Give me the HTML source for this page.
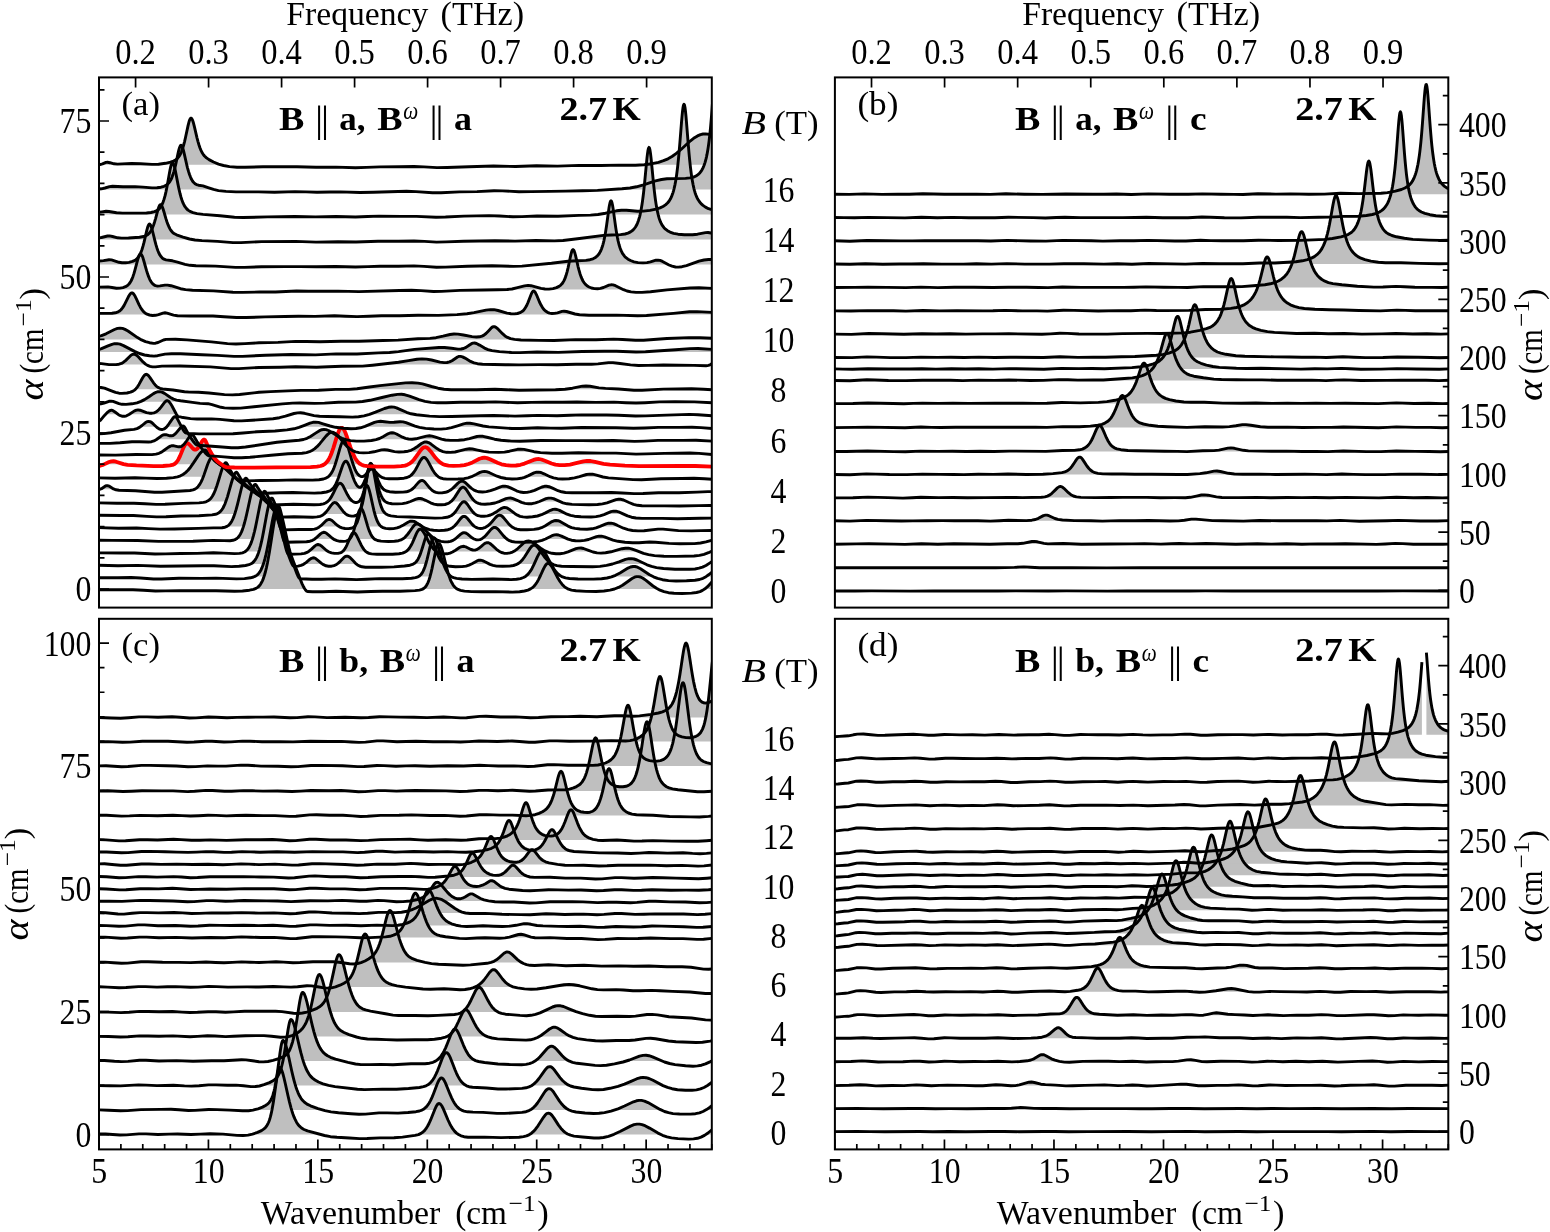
<!DOCTYPE html>
<html lang="en"><head><meta charset="utf-8"><title>Absorption spectra</title>
<style>html,body{margin:0;padding:0;background:#fff}svg{display:block}</style></head>
<body>
<svg width="1550" height="1232" viewBox="0 0 1550 1232" font-family='"Liberation Serif", "DejaVu Serif", serif' fill="#000">
<rect x="0" y="0" width="1550" height="1232" fill="#fff"/>
<clipPath id="clipa"><rect x="99.0" y="77.4" width="612.8" height="530.2"/></clipPath>
<g clip-path="url(#clipa)">
<path d="M254.5 589.0L254.5 589.0L256.5 588.1L258.0 587.1L259.5 585.6L260.5 584.3L261.5 582.6L262.5 580.6L263.5 578.1L264.5 575.0L265.5 571.5L266.5 567.3L267.5 562.6L268.5 557.3L269.5 551.5L271.0 542.1L273.0 529.1L274.0 523.0L274.5 520.0L275.0 517.3L275.5 514.8L276.0 512.5L276.5 510.5L277.0 508.8L277.5 507.5L278.0 506.6L278.5 506.3L279.0 506.6L279.5 507.5L280.0 508.9L280.5 510.7L282.0 516.6L283.5 523.1L287.5 541.4L289.0 547.9L290.0 551.7L291.0 554.9L293.5 561.7L300.0 578.6L302.0 583.6L303.0 585.7L304.5 588.5L305.0 589.0L305.0 589.0ZM422.5 589.0L422.5 589.0L423.0 588.9L424.5 587.8L425.5 586.8L426.5 585.4L427.5 583.6L428.5 581.3L429.5 578.4L430.5 574.9L431.5 570.8L432.5 566.3L435.0 554.1L435.5 551.8L436.0 549.7L436.5 547.8L437.0 546.3L437.5 545.0L438.0 544.2L438.5 543.7L439.0 543.7L439.5 543.9L440.0 544.5L440.5 545.4L441.0 546.6L441.5 548.0L442.5 551.2L443.5 555.0L446.5 567.1L448.0 572.6L449.0 575.8L450.0 578.6L451.0 581.1L452.0 583.1L453.0 584.8L454.5 586.8L456.0 588.2L457.0 588.9L457.5 589.0L457.5 589.0ZM530.0 589.0L530.0 589.0L530.5 588.9L532.5 587.6L534.0 586.2L535.5 584.4L537.0 582.2L538.5 579.6L540.5 575.5L543.5 568.9L545.0 566.1L546.0 564.6L547.0 563.7L548.0 563.4L549.0 563.6L550.0 564.4L551.0 565.5L552.5 567.8L555.0 572.5L558.0 578.2L560.0 581.5L562.0 584.2L564.0 586.3L566.0 587.8L568.0 588.9L568.5 589.0L568.5 589.0ZM614.5 589.0L614.5 589.0L618.5 587.4L622.5 585.2L627.5 581.7L632.0 578.5L634.5 577.2L636.5 576.6L638.5 576.6L640.5 577.0L643.0 578.3L646.0 580.4L653.0 586.0L656.5 588.3L657.5 588.9L658.0 589.0L658.0 589.0ZM704.5 589.0L704.5 589.0L705.0 588.8L707.5 586.7L710.5 583.5L712.5 581.3L713.5 580.5L713.5 589.0Z" fill="#bfbfbf"/>
<path d="M254.5 576.5L254.5 576.5L255.5 576.1L257.0 575.1L258.5 573.7L260.0 571.6L261.0 569.9L262.0 567.7L263.0 565.1L264.0 562.0L265.0 558.4L266.0 554.4L267.0 549.8L268.0 544.8L269.5 536.8L272.0 523.0L273.0 517.9L273.5 515.5L274.0 513.3L274.5 511.4L275.0 509.6L275.5 508.2L276.0 507.0L276.5 506.3L277.0 506.0L277.5 506.2L278.0 507.0L278.5 508.3L279.0 510.0L280.5 515.8L282.0 522.0L286.5 542.3L288.0 548.7L289.0 552.4L290.0 555.5L294.0 566.1L297.0 573.9L298.0 576.2L298.5 576.5L298.5 576.5ZM418.5 576.5L418.5 576.5L419.5 575.9L421.0 574.5L422.0 573.2L423.0 571.4L424.0 569.2L425.0 566.5L426.0 563.3L427.0 559.6L428.5 553.5L430.0 547.1L431.0 543.3L431.5 541.7L432.0 540.3L432.5 539.2L433.0 538.4L433.5 537.9L434.0 537.8L434.5 538.0L435.0 538.5L435.5 539.2L436.0 540.2L436.5 541.4L437.5 544.2L439.0 549.2L441.5 557.9L443.0 562.7L444.0 565.5L445.0 568.0L446.0 570.1L447.0 571.9L448.5 574.1L450.0 575.6L451.0 576.4L451.5 576.5L451.5 576.5ZM525.0 576.5L525.0 576.5L525.5 576.4L527.5 574.7L529.0 573.0L530.5 570.9L532.0 568.4L534.0 564.4L537.5 556.7L539.0 553.8L540.0 552.4L541.0 551.4L542.0 551.1L543.0 551.3L544.0 552.0L545.0 553.1L546.5 555.4L549.0 560.1L552.0 565.7L554.0 569.0L556.0 571.8L558.0 573.9L560.0 575.5L561.5 576.4L562.0 576.5L562.0 576.5ZM612.0 576.5L612.0 576.5L613.0 576.3L617.0 574.6L622.0 571.7L628.0 568.1L630.5 567.0L633.0 566.5L635.0 566.5L637.5 567.2L640.5 568.8L649.5 574.7L653.0 576.5L653.0 576.5ZM706.0 576.5L706.0 576.5L706.5 576.4L709.5 574.1L713.0 571.2L713.5 570.9L713.5 576.5Z" fill="#bfbfbf"/>
<path d="M250.5 564.0L250.5 564.0L252.0 563.2L253.5 562.0L255.0 560.2L256.0 558.6L257.0 556.6L258.0 554.2L259.0 551.3L260.0 547.8L261.0 543.9L262.0 539.4L263.0 534.5L264.5 526.5L266.5 515.5L267.5 510.4L268.0 508.0L268.5 505.8L269.0 503.7L269.5 502.0L270.0 500.5L270.5 499.3L271.0 498.4L271.5 498.1L272.0 498.1L272.5 498.6L273.0 499.4L275.5 505.0L276.5 507.5L277.0 508.9L278.0 512.2L280.0 519.8L281.5 525.9L285.5 543.6L287.0 549.8L288.0 553.5L289.0 556.5L291.0 561.7L292.0 564.0L292.5 564.0L292.5 564.0ZM303.5 564.0L303.5 564.0L304.0 564.0L306.5 562.2L310.0 559.2L311.5 558.3L313.0 557.8L314.5 558.0L316.0 558.8L318.5 560.8L321.5 563.4L322.5 564.0L322.5 564.0ZM337.0 564.0L337.0 564.0L338.0 563.4L340.5 561.1L343.5 557.9L345.0 556.7L346.5 556.1L347.5 556.1L348.5 556.5L350.0 557.5L352.5 560.1L355.5 563.3L356.5 564.0L356.5 564.0ZM413.0 564.0L413.0 564.0L413.5 564.0L415.0 563.0L416.5 561.4L417.5 560.0L418.5 558.3L419.5 556.1L420.5 553.6L422.0 549.1L424.5 540.9L425.5 538.0L426.0 536.8L426.5 535.7L427.0 534.9L427.5 534.4L428.0 534.1L428.5 534.1L429.0 534.3L429.5 534.8L430.0 535.4L431.0 537.2L432.0 539.5L433.5 543.6L436.0 550.6L437.5 554.4L439.0 557.7L440.5 560.3L442.0 562.3L443.5 563.8L444.0 564.0L444.0 564.0ZM471.0 564.0L471.0 564.0L471.5 564.0L477.0 560.9L479.0 560.2L480.5 560.1L482.5 560.6L485.5 562.0L489.0 563.9L489.5 564.0L489.5 564.0ZM517.0 564.0L517.0 564.0L517.5 564.0L519.5 562.6L521.5 560.8L523.5 558.4L525.5 555.5L529.5 549.1L531.0 547.1L532.0 546.1L533.0 545.4L534.0 545.2L535.0 545.3L536.0 545.8L537.5 547.2L539.5 549.8L544.0 556.3L546.5 559.4L548.5 561.4L551.0 563.3L552.5 564.0L552.5 564.0ZM612.0 564.0L612.0 564.0L613.0 563.9L620.0 561.4L626.0 559.3L629.0 558.7L631.5 558.6L634.0 559.0L637.0 560.0L645.0 563.9L645.5 564.0L645.5 564.0ZM708.0 564.0L708.0 564.0L708.5 564.0L713.0 560.9L713.5 560.7L713.5 564.0Z" fill="#bfbfbf"/>
<path d="M245.0 551.6L245.0 551.6L245.5 551.4L247.0 550.1L248.5 548.2L249.5 546.5L250.5 544.4L251.5 541.9L252.5 538.9L253.5 535.4L254.5 531.5L255.5 527.1L257.0 519.8L259.5 507.1L260.5 502.3L261.0 500.1L261.5 498.1L262.0 496.3L262.5 494.7L263.0 493.3L263.5 492.3L264.0 491.6L264.5 491.3L265.0 491.4L265.5 491.9L266.0 492.7L269.0 498.7L272.0 504.1L275.5 509.9L276.0 511.0L276.5 512.2L277.5 515.1L279.0 520.2L280.0 523.9L281.5 530.0L285.0 544.9L286.0 548.9L286.5 550.6L287.0 551.6L287.0 551.6ZM308.0 551.6L308.0 551.6L308.5 551.5L311.0 549.5L315.0 545.9L316.5 544.9L318.0 544.5L319.5 544.8L321.0 545.7L326.5 550.5L328.0 551.5L328.5 551.6L328.5 551.6ZM342.5 551.6L342.5 551.6L343.5 550.6L344.5 549.4L345.5 547.8L347.0 544.8L349.0 540.1L350.5 536.5L351.5 534.6L352.0 533.8L352.5 533.2L353.0 532.9L353.5 532.7L354.0 532.7L354.5 532.9L355.5 533.9L356.5 535.4L358.0 538.3L361.0 544.7L362.5 547.4L364.0 549.6L365.5 551.3L366.0 551.6L366.0 551.6ZM406.0 551.6L406.0 551.5L407.5 550.4L409.0 548.7L410.5 546.5L412.0 543.7L413.5 540.4L416.0 534.5L417.0 532.4L418.0 530.7L418.5 530.1L419.0 529.6L419.5 529.3L420.0 529.2L421.0 529.4L422.0 530.2L423.0 531.4L424.5 533.8L429.5 543.2L431.5 546.4L433.0 548.4L434.5 550.0L436.0 551.3L436.5 551.6L436.5 551.6ZM453.0 551.6L453.0 551.6L453.5 551.5L459.5 547.5L461.5 546.6L463.0 546.3L464.5 546.5L466.5 547.2L471.0 549.5L473.0 550.0L475.0 550.1L476.5 549.7L478.5 548.6L481.0 546.6L484.0 544.0L485.5 543.1L487.0 542.6L488.5 542.8L490.0 543.5L492.0 545.1L496.5 549.3L499.0 551.2L499.5 551.5L500.0 551.6L500.0 551.6ZM513.5 551.6L513.5 551.6L516.0 550.0L519.0 547.4L523.5 543.2L525.5 541.7L527.0 541.1L528.5 540.9L530.5 541.3L532.5 542.2L535.5 544.2L541.5 548.8L545.0 550.9L546.5 551.6L546.5 551.6ZM568.5 551.6L568.5 551.6L569.5 551.3L576.0 548.7L578.5 548.1L581.0 548.0L583.5 548.5L588.5 550.4L591.5 551.6L591.5 551.6ZM611.5 551.6L611.5 551.6L616.0 550.4L622.5 548.6L626.0 548.1L629.0 548.3L632.5 549.1L639.0 551.6L639.0 551.6ZM710.5 551.6L710.5 551.6L711.0 551.5L713.0 550.7L713.5 550.5L713.5 551.6Z" fill="#bfbfbf"/>
<path d="M236.0 539.1L236.0 539.1L237.5 538.0L239.0 536.3L240.0 534.8L241.0 532.9L242.0 530.7L243.0 528.0L244.0 524.8L245.0 521.2L246.0 517.2L247.5 510.6L250.0 499.0L251.0 494.6L252.0 490.8L252.5 489.1L253.0 487.6L253.5 486.4L254.0 485.4L254.5 484.7L255.0 484.4L255.5 484.5L256.0 484.9L257.0 486.4L259.0 489.6L265.5 498.6L270.0 504.3L274.5 510.4L275.5 512.1L276.0 513.2L276.5 514.5L277.5 517.5L279.0 522.6L280.0 526.3L282.5 536.4L283.0 538.3L283.5 539.1L283.5 539.1ZM314.5 539.1L314.5 539.1L315.5 538.4L320.5 533.9L322.0 532.8L323.5 532.3L325.0 532.5L326.5 533.3L329.0 535.4L332.0 538.0L333.5 539.1L333.5 539.1ZM349.5 539.1L349.5 539.1L350.0 538.7L351.0 537.3L352.0 535.4L353.0 533.0L354.0 530.0L355.0 526.4L357.5 516.3L358.0 514.4L358.5 512.7L359.0 511.2L359.5 510.1L360.0 509.2L360.5 508.7L361.0 508.6L361.5 508.8L362.0 509.3L362.5 510.1L363.0 511.1L363.5 512.4L364.5 515.4L367.5 525.6L368.5 528.7L369.5 531.4L370.5 533.7L371.5 535.6L372.5 537.1L374.0 538.7L374.5 539.1L374.5 539.1ZM402.5 539.1L402.5 539.1L404.0 538.1L406.0 536.3L408.0 533.9L413.0 526.7L414.5 525.0L415.5 524.3L416.5 524.0L418.0 524.1L419.5 524.7L421.5 526.2L424.5 529.2L429.5 534.5L432.5 537.2L435.0 538.9L435.5 539.1L435.5 539.1ZM455.0 539.1L455.0 539.1L456.5 537.9L461.0 533.9L462.5 533.0L464.0 532.6L465.5 532.9L467.0 533.7L472.0 537.8L474.0 539.0L474.5 539.1L474.5 539.1ZM481.0 539.1L481.0 539.1L482.0 538.7L484.0 537.2L486.0 535.2L491.0 529.4L492.5 528.1L494.0 527.4L495.0 527.4L496.0 527.7L497.5 528.7L499.0 530.3L503.5 535.9L505.5 537.9L506.5 538.8L507.0 539.1L507.0 539.1ZM545.0 539.1L545.0 539.1L546.0 538.7L552.0 535.7L554.5 534.9L556.5 534.7L558.5 535.0L561.5 536.1L567.5 538.9L568.0 539.1L568.0 539.1ZM589.5 539.1L589.5 539.1L596.5 536.6L599.0 536.1L601.5 536.2L604.5 536.9L610.0 539.0L610.5 539.1L610.5 539.1Z" fill="#bfbfbf"/>
<path d="M226.5 526.6L226.5 526.6L228.0 525.8L229.5 524.4L231.0 522.4L232.0 520.7L233.0 518.6L234.0 516.1L235.0 513.2L236.0 509.9L237.5 504.3L241.0 490.0L242.0 486.2L243.0 482.9L243.5 481.5L244.0 480.3L244.5 479.4L245.0 478.7L245.5 478.3L246.0 478.3L246.5 478.6L247.0 479.1L250.0 483.9L252.5 487.3L255.5 490.6L259.5 494.3L262.0 496.6L269.0 504.3L274.0 510.7L275.0 512.2L275.5 513.2L276.0 514.4L277.0 517.3L279.5 525.5L280.0 526.6L280.0 526.6ZM319.5 526.6L319.5 526.6L320.0 526.5L322.5 524.2L326.0 520.8L327.5 519.8L329.0 519.4L330.5 519.7L332.0 520.5L335.0 523.3L337.5 525.5L339.0 526.5L339.5 526.6L339.5 526.6ZM354.0 526.6L354.0 526.6L354.5 526.5L355.5 525.3L356.5 523.6L357.0 522.6L357.5 521.4L358.0 519.9L358.5 518.3L359.0 516.6L359.5 514.6L360.0 512.4L361.0 507.6L363.0 497.0L363.5 494.4L364.0 492.0L364.5 489.9L365.0 488.1L365.5 486.7L366.0 485.8L366.5 485.4L367.0 485.4L367.5 485.8L368.0 486.7L368.5 487.9L369.0 489.4L369.5 491.1L370.5 495.2L373.0 506.5L374.0 510.8L375.0 514.5L376.0 517.8L377.0 520.4L378.0 522.6L379.0 524.3L380.0 525.5L381.0 526.5L381.5 526.6L381.5 526.6ZM400.0 526.6L400.0 526.6L400.5 526.6L404.5 524.3L408.0 522.2L410.0 521.3L412.0 521.1L414.0 521.4L416.0 522.4L422.5 526.6L422.5 526.6ZM453.5 526.6L453.5 526.6L454.0 526.5L456.0 524.4L460.5 518.6L462.0 517.1L463.0 516.5L464.0 516.3L465.0 516.5L466.0 517.1L467.5 518.5L472.0 524.1L474.0 526.1L474.5 526.4L475.0 526.6L475.0 526.6ZM486.5 526.6L486.5 526.6L487.0 526.5L489.0 524.9L491.5 522.3L495.5 517.6L497.0 516.1L498.5 515.3L499.5 515.1L500.5 515.3L502.0 516.1L503.5 517.6L508.5 523.7L510.5 525.7L511.5 526.5L512.0 526.6L512.0 526.6ZM543.5 526.6L543.5 526.6L544.0 526.5L548.5 523.8L552.0 521.6L554.0 520.8L556.0 520.5L558.0 520.7L560.5 521.7L568.0 526.1L569.0 526.6L569.5 526.6L569.5 526.6ZM599.5 526.6L599.5 526.6L606.0 523.9L608.5 523.2L611.0 523.2L613.5 523.7L617.0 525.2L620.0 526.6L620.0 526.6Z" fill="#bfbfbf"/>
<path d="M216.0 514.1L216.0 514.1L217.5 513.6L219.0 512.7L220.5 511.4L222.0 509.6L223.0 508.0L224.0 506.0L225.0 503.8L226.0 501.1L227.5 496.6L229.0 491.4L231.5 482.5L232.5 479.3L233.5 476.4L234.0 475.2L234.5 474.1L235.0 473.3L235.5 472.7L236.0 472.3L236.5 472.3L237.0 472.6L237.5 473.2L240.5 478.3L242.5 481.1L245.0 484.0L248.0 486.9L252.5 490.6L261.5 497.1L267.5 502.9L270.5 506.3L274.0 510.5L275.0 511.9L276.0 513.9L276.5 514.1L276.5 514.1ZM324.0 514.1L324.0 514.1L326.0 512.1L328.0 509.6L331.0 505.4L332.5 503.7L333.5 502.9L334.5 502.5L335.5 502.6L336.5 503.1L338.0 504.6L340.5 507.9L343.0 511.2L345.0 513.3L346.0 514.1L346.0 514.1ZM357.5 514.1L357.5 514.1L358.0 514.0L359.0 512.8L360.0 511.0L360.5 509.8L361.0 508.5L361.5 506.9L362.0 505.2L362.5 503.2L363.0 501.0L363.5 498.5L364.0 495.8L364.5 492.9L365.5 486.7L367.0 476.9L367.5 473.8L368.0 471.0L368.5 468.5L369.0 466.4L369.5 464.8L370.0 463.8L370.5 463.3L371.0 463.4L371.5 464.1L372.0 465.2L372.5 466.7L373.0 468.6L373.5 470.8L374.0 473.2L375.0 478.5L377.0 489.5L378.0 494.5L379.0 499.0L379.5 501.0L380.0 502.9L380.5 504.6L381.5 507.4L382.5 509.7L383.5 511.4L384.5 512.7L386.0 514.0L386.5 514.1L386.5 514.1ZM453.0 514.1L453.0 514.1L453.5 513.9L455.0 512.3L457.0 509.5L460.5 504.3L462.0 502.6L463.0 502.0L464.0 501.7L465.0 502.0L466.0 502.7L467.5 504.5L471.5 510.3L473.0 512.1L474.5 513.6L475.0 514.0L475.5 514.1L475.5 514.1ZM492.5 514.1L492.5 514.1L494.5 513.1L501.0 508.6L503.0 507.7L504.5 507.4L506.0 507.6L507.5 508.2L510.0 509.8L515.0 513.7L515.5 514.1L516.0 514.1L516.0 514.1ZM543.0 514.1L543.0 514.1L551.0 510.1L553.5 509.3L555.5 509.2L557.5 509.6L560.5 510.9L566.5 514.0L567.0 514.1L567.0 514.1ZM605.0 514.1L605.0 514.1L611.0 511.7L613.5 511.2L616.0 511.2L618.5 511.8L622.5 513.6L623.5 514.1L624.0 514.1L624.0 514.1Z" fill="#bfbfbf"/>
<path d="M206.0 501.6L206.0 501.6L206.5 501.6L208.5 500.5L210.0 499.3L211.5 497.5L213.0 495.1L214.0 493.2L215.5 489.6L217.0 485.4L219.0 479.0L221.0 472.4L222.0 469.3L223.0 466.6L224.0 464.5L224.5 463.7L225.0 463.1L225.5 462.8L226.0 462.8L226.5 463.1L227.0 463.8L228.0 465.7L230.0 469.7L232.0 473.1L233.5 475.3L235.5 477.7L238.5 480.7L242.5 484.1L248.5 488.4L261.0 496.9L263.5 499.1L266.0 501.5L266.5 501.6L266.5 501.6ZM327.5 501.6L327.5 501.6L329.0 500.2L330.5 498.2L332.0 495.7L334.0 491.8L336.0 487.7L337.0 485.9L338.0 484.5L339.0 483.5L339.5 483.3L340.0 483.2L340.5 483.3L341.5 483.9L342.5 485.1L343.5 486.8L345.5 490.8L347.5 494.8L349.0 497.3L350.5 499.4L352.0 500.9L353.0 501.6L353.0 501.6ZM358.5 501.6L358.5 501.6L359.0 501.5L360.0 500.4L361.0 498.9L361.5 497.9L362.0 496.8L362.5 495.5L363.0 494.0L363.5 492.4L364.0 490.5L365.0 486.3L366.0 481.6L367.5 474.3L368.0 472.0L368.5 469.8L369.0 468.0L369.5 466.4L370.0 465.2L370.5 464.4L371.0 464.1L371.5 464.2L372.0 464.7L372.5 465.5L373.0 466.7L373.5 468.1L374.0 469.7L375.0 473.5L377.5 483.9L378.5 487.7L379.5 491.1L380.5 494.0L381.5 496.4L382.5 498.3L383.5 499.8L385.0 501.4L385.5 501.6L385.5 501.6ZM410.0 501.6L410.0 501.6L416.5 499.0L419.0 498.5L421.0 498.6L423.5 499.3L428.0 501.6L428.5 501.6L428.5 501.6ZM450.5 501.6L450.5 501.6L451.0 501.6L452.5 500.1L454.5 497.6L457.5 492.9L459.5 489.9L461.0 488.2L462.0 487.5L463.0 487.3L464.0 487.5L465.0 488.2L466.5 489.9L468.5 493.0L471.0 496.9L473.0 499.5L474.5 501.1L475.0 501.5L475.5 501.6L475.5 501.6ZM498.5 501.6L498.5 501.6L499.0 501.6L506.0 498.6L508.5 498.1L510.5 498.0L513.0 498.6L517.0 500.3L519.5 501.5L520.0 501.6L520.0 501.6ZM539.0 501.6L539.0 501.6L546.0 498.7L548.5 498.1L551.0 498.1L553.5 498.7L558.5 500.9L560.0 501.6L560.5 501.6L560.5 501.6ZM610.0 501.6L610.0 501.6L611.5 501.2L616.0 499.6L618.5 499.2L621.0 499.3L623.5 500.0L627.0 501.5L627.5 501.6L627.5 501.6Z" fill="#bfbfbf"/>
<path d="M100.0 489.2L100.0 489.2L100.5 489.1L102.5 488.1L105.5 486.0L106.5 485.7L107.5 485.6L109.0 486.1L113.5 488.9L114.0 489.1L114.5 489.2L114.5 489.2ZM194.5 489.2L194.5 489.2L195.0 489.1L196.5 488.1L198.0 486.7L199.5 484.7L201.0 482.1L202.5 478.8L204.0 474.9L207.5 464.8L208.5 462.3L209.5 460.1L210.0 459.2L210.5 458.4L211.0 457.9L211.5 457.6L212.0 457.5L212.5 457.7L213.5 458.7L215.5 460.8L219.5 464.3L225.5 468.9L235.0 477.9L238.5 480.6L247.0 486.4L251.0 489.0L251.5 489.2L251.5 489.2ZM332.0 489.2L332.0 489.2L332.5 488.9L334.0 487.1L335.0 485.5L336.0 483.6L337.0 481.4L338.5 477.5L342.0 467.2L343.0 464.6L343.5 463.6L344.0 462.7L344.5 462.0L345.0 461.5L345.5 461.2L346.0 461.2L346.5 461.4L347.0 461.9L347.5 462.5L348.0 463.4L349.0 465.6L350.5 469.8L353.0 477.2L354.5 481.0L355.5 483.1L356.5 484.8L357.5 486.1L358.5 486.9L359.5 487.3L360.5 487.2L361.5 486.5L362.5 485.3L363.5 483.5L364.5 481.2L365.5 478.4L368.0 470.8L368.5 469.4L369.0 468.2L369.5 467.2L370.0 466.4L370.5 465.9L371.0 465.7L371.5 465.8L372.0 466.1L372.5 466.7L373.0 467.4L374.0 469.5L375.5 473.3L378.0 480.1L379.5 483.5L380.5 485.5L381.5 487.0L383.0 488.8L383.5 489.2L383.5 489.2ZM412.0 489.2L412.0 489.2L412.5 488.9L414.5 487.0L418.5 482.4L420.0 481.1L421.0 480.6L422.0 480.4L423.0 480.7L424.0 481.3L425.5 482.8L430.0 488.3L430.5 488.8L431.0 489.2L431.0 489.2ZM451.5 489.2L451.5 489.2L452.0 488.9L455.0 486.1L458.0 483.1L459.5 482.0L461.0 481.3L462.5 481.2L464.0 481.7L465.5 482.7L469.0 486.1L471.5 488.4L472.5 489.1L472.5 489.2ZM494.5 489.2L494.5 489.2L496.0 488.6L500.5 486.8L503.0 486.2L505.0 486.1L507.5 486.6L510.5 487.9L513.0 489.2L513.0 489.2ZM537.0 489.2L537.0 489.2L542.0 487.0L544.5 486.3L546.5 486.3L549.0 486.7L552.5 488.2L554.5 489.1L554.5 489.2Z" fill="#bfbfbf"/>
<path d="M177.5 476.7L177.5 476.7L179.0 476.3L182.0 475.0L184.5 473.4L187.0 471.3L189.5 468.5L192.0 465.1L198.0 456.1L200.0 453.4L201.5 451.8L203.0 450.6L204.0 450.1L205.0 450.0L205.5 450.1L206.5 450.8L212.5 458.4L214.5 460.7L216.5 462.4L226.5 469.3L234.5 476.6L235.0 476.7L235.0 476.7ZM328.0 476.7L328.0 476.7L328.5 476.6L330.0 475.1L331.5 472.9L332.5 471.1L333.5 469.0L334.5 466.4L335.5 463.5L337.0 458.6L340.0 448.1L341.0 445.0L341.5 443.7L342.0 442.5L342.5 441.6L343.0 440.9L343.5 440.4L344.0 440.1L344.5 440.2L345.0 440.5L345.5 441.0L346.0 441.8L346.5 442.9L347.0 444.1L348.0 447.0L349.5 452.1L351.5 459.2L353.0 464.0L354.0 466.9L355.0 469.3L356.0 471.4L357.0 473.1L358.0 474.4L359.5 475.8L361.0 476.5L362.5 476.6L364.0 476.0L365.5 474.8L367.5 472.5L369.5 470.1L370.5 469.3L371.5 469.0L372.5 469.2L373.5 469.8L375.0 471.2L378.5 475.0L380.5 476.6L381.0 476.7L381.0 476.7ZM409.0 476.7L409.0 476.7L410.5 475.8L412.0 474.4L413.5 472.7L415.0 470.5L417.0 467.0L420.0 461.3L421.0 459.7L422.0 458.5L423.0 457.7L424.0 457.4L425.0 457.7L426.0 458.6L427.0 459.8L428.5 462.2L432.5 469.7L434.0 472.1L435.5 474.1L437.0 475.7L438.0 476.6L438.5 476.7L438.5 476.7ZM471.5 476.7L471.5 476.7L476.0 474.5L480.0 472.4L482.5 471.6L484.5 471.4L486.5 471.6L489.5 472.7L497.0 476.2L498.5 476.7L498.5 476.7ZM526.0 476.7L526.0 476.7L530.5 474.5L534.5 472.7L537.0 472.1L539.0 472.1L541.5 472.7L545.5 474.5L550.0 476.7L550.5 476.7L550.5 476.7ZM579.0 476.7L579.0 476.7L580.5 476.3L586.5 474.5L589.5 474.1L592.5 474.2L596.5 475.2L601.5 476.6L602.0 476.7L602.0 476.7Z" fill="#bfbfbf"/>
<path d="M104.0 464.2L104.0 464.2L105.0 463.9L109.5 461.8L112.0 461.2L114.0 461.3L117.0 462.0L123.0 463.9L124.0 464.2L124.0 464.2ZM174.0 464.2L174.0 464.2L175.0 463.6L176.5 462.2L177.5 460.9L178.5 459.2L180.0 456.1L183.5 447.6L184.5 445.6L185.0 444.8L185.5 444.2L186.0 443.7L186.5 443.4L187.5 443.3L188.5 443.8L190.0 445.2L192.5 448.1L193.5 449.0L194.5 449.6L195.5 449.7L196.5 449.3L197.5 448.5L198.5 447.3L200.0 444.9L202.0 441.5L203.0 440.2L203.5 439.8L204.0 439.6L204.5 439.7L205.0 440.1L205.5 440.9L206.5 443.1L208.0 446.7L209.5 449.9L211.5 453.5L214.0 457.5L215.5 459.4L217.5 461.4L221.0 464.1L221.5 464.2L221.5 464.2ZM324.5 464.2L324.5 464.2L326.0 463.0L327.5 461.2L329.0 458.8L330.0 456.9L331.0 454.6L332.5 450.6L334.0 446.0L337.0 436.1L338.0 433.2L339.0 430.7L339.5 429.7L340.0 428.9L340.5 428.3L341.0 427.9L341.5 427.8L342.0 427.8L342.5 428.0L343.0 428.5L343.5 429.1L344.5 430.7L345.5 433.0L347.0 437.0L350.5 447.3L352.0 451.3L353.5 454.9L355.0 457.9L356.5 460.3L358.0 462.1L359.5 463.5L360.5 464.2L361.0 464.2L361.0 464.2ZM408.5 464.2L408.5 464.2L410.5 462.9L412.5 461.2L414.5 458.9L417.0 455.5L420.5 450.5L422.0 448.8L423.5 447.6L424.5 447.3L425.5 447.2L427.0 447.8L428.5 449.0L430.5 451.2L435.5 457.8L438.0 460.5L440.0 462.3L442.5 463.9L443.0 464.1L443.5 464.2L443.5 464.2ZM468.0 464.2L468.0 464.2L472.0 462.6L479.5 458.8L482.0 458.0L484.5 457.7L487.0 458.1L490.0 459.2L497.5 462.8L501.0 464.1L501.5 464.2L501.5 464.2ZM522.5 464.2L522.5 464.2L525.0 463.4L533.5 459.9L536.5 459.1L539.0 459.0L541.5 459.5L545.5 461.0L551.5 463.5L554.0 464.2L554.0 464.2ZM572.0 464.2L572.0 464.2L584.0 461.2L587.5 460.9L591.0 461.0L596.0 462.1L604.0 463.9L606.0 464.2L606.0 464.2Z" fill="#bfbfbf"/>
<path d="M162.0 451.7L162.0 451.7L164.0 450.4L168.5 447.1L170.5 446.1L172.0 445.7L174.0 445.8L178.5 446.8L180.0 446.8L181.5 446.3L183.0 445.2L184.5 443.7L186.5 441.0L189.0 437.4L190.5 435.7L191.5 435.0L192.0 434.9L192.5 434.9L193.0 435.2L193.5 435.8L194.5 437.3L197.0 441.6L199.5 445.4L203.0 450.1L204.0 451.3L204.5 451.7L204.5 451.7ZM309.0 451.7L309.0 451.7L310.0 451.5L312.5 450.2L315.0 448.5L317.5 446.2L320.5 442.8L326.0 436.1L328.0 434.1L329.5 433.0L331.0 432.4L332.5 432.2L334.0 432.7L335.5 433.5L337.5 435.3L340.5 438.8L345.0 444.3L347.5 446.9L350.0 449.0L352.5 450.6L355.0 451.6L355.5 451.7L355.5 451.7ZM374.0 451.7L374.0 451.7L381.5 449.9L384.5 449.7L387.5 450.0L394.5 451.6L395.5 451.7L395.5 451.7ZM404.5 451.7L404.5 451.7L408.0 451.2L411.0 450.3L414.0 448.8L417.5 446.5L421.5 443.5L423.5 442.4L425.0 442.0L426.5 442.0L428.5 442.6L431.0 444.1L437.0 448.6L440.0 450.4L443.0 451.6L443.5 451.7L443.5 451.7ZM456.0 451.7L456.0 451.7L460.0 450.9L466.5 449.2L469.5 448.8L472.5 449.0L477.5 450.1L483.5 451.4L485.5 451.7L485.5 451.7ZM507.0 451.7L507.0 451.7L512.0 450.6L517.5 449.3L520.5 449.1L524.0 449.4L534.0 451.7L534.0 451.7Z" fill="#bfbfbf"/>
<path d="M156.5 439.2L156.5 439.2L157.0 439.1L161.5 435.8L163.0 435.0L164.5 434.7L166.0 434.7L170.0 435.8L171.5 435.8L173.0 435.5L174.5 434.5L176.0 433.1L180.5 427.7L182.0 426.3L183.0 426.0L183.5 426.1L184.0 426.4L184.5 427.0L185.5 428.6L188.5 434.1L191.5 438.9L192.0 439.2L192.0 439.2ZM304.0 439.2L304.0 439.2L305.5 438.9L309.0 437.3L313.0 434.9L318.5 431.3L321.0 430.0L323.0 429.4L325.0 429.4L327.0 429.9L329.5 431.0L338.5 436.6L342.0 438.3L344.5 439.2L344.5 439.2ZM377.0 439.2L377.0 439.2L378.0 439.0L381.5 437.5L388.0 433.8L390.0 433.0L392.0 432.7L394.0 433.0L396.5 434.0L402.5 437.2L405.5 438.3L408.5 439.0L412.0 439.2L416.0 438.8L420.5 437.7L426.5 436.1L429.5 435.8L432.0 436.1L435.5 437.1L441.5 439.1L442.0 439.2L442.0 439.2ZM466.5 439.2L466.5 439.2L469.0 438.7L477.0 436.5L480.0 436.1L483.0 436.3L488.0 437.5L494.5 439.2L495.0 439.2L495.0 439.2Z" fill="#bfbfbf"/>
<path d="M140.0 426.8L140.0 426.8L140.5 426.7L145.5 422.6L147.0 421.7L148.5 421.4L150.0 421.6L151.5 422.4L153.5 424.2L156.0 426.6L156.5 426.8L156.5 426.8ZM166.5 426.8L166.5 426.8L167.0 426.5L169.0 423.9L172.0 419.4L173.5 417.5L174.5 416.7L175.0 416.6L175.5 416.6L176.0 416.9L176.5 417.4L177.5 419.1L181.5 426.8L181.5 426.8ZM301.0 426.8L301.0 426.7L310.0 423.1L313.0 422.3L315.5 422.1L318.5 422.4L323.0 423.8L330.0 426.0L333.0 426.8L333.0 426.8ZM364.0 426.8L364.0 426.8L369.0 424.8L374.5 422.4L377.5 421.6L380.5 421.3L384.5 421.7L390.0 422.4L394.0 422.3L400.0 421.7L403.0 421.9L406.0 422.7L415.0 426.2L417.0 426.8L417.0 426.8ZM454.5 426.8L454.5 426.8L464.0 423.8L467.5 423.2L470.5 423.3L474.5 424.0L483.0 426.0L488.0 426.8L488.0 426.8Z" fill="#bfbfbf"/>
<path d="M105.5 414.3L105.5 414.3L108.5 411.5L110.0 410.5L111.0 410.3L112.5 410.5L114.0 411.3L117.5 414.0L118.0 414.3L118.0 414.3ZM129.0 414.3L129.0 414.3L129.5 414.2L134.5 410.9L136.5 410.1L138.0 409.9L140.0 410.2L146.5 412.6L149.5 413.2L152.0 413.2L154.0 412.8L156.0 412.0L157.5 410.9L159.0 409.5L161.0 407.1L164.0 403.1L165.5 401.5L166.5 400.8L167.5 400.7L168.0 400.8L169.0 401.7L170.5 403.6L172.0 406.0L176.0 413.6L176.5 414.3L176.5 414.3ZM291.0 414.3L291.0 414.3L296.5 413.0L300.0 412.8L303.5 413.2L308.5 414.3L308.5 414.3ZM370.0 414.3L370.0 414.3L376.5 411.8L384.5 408.5L388.5 407.3L391.5 407.0L394.0 407.1L396.5 407.8L401.0 409.8L406.5 412.3L411.0 413.8L413.5 414.3L413.5 414.3Z" fill="#bfbfbf"/>
<path d="M107.5 401.8L107.5 401.8L110.0 401.2L112.0 401.2L114.0 401.8L114.5 401.8L114.5 401.8ZM140.0 401.8L140.0 401.8L143.5 400.2L147.5 397.7L153.5 393.6L156.0 392.3L158.0 391.7L160.0 391.6L162.0 392.1L164.5 393.4L170.5 397.5L173.5 399.1L176.5 400.1L180.5 400.8L188.5 401.8L188.5 401.8ZM360.0 401.8L360.0 401.8L366.5 401.0L375.5 399.1L391.0 395.4L397.0 394.4L401.0 394.2L404.0 394.6L408.0 395.7L419.0 399.7L425.0 401.4L427.0 401.8L427.0 401.8ZM662.5 401.8L662.5 401.8L671.5 401.8L671.5 401.8Z" fill="#bfbfbf"/>
<path d="M97.0 389.3L97.0 387.3L101.0 387.5L104.5 388.2L107.5 389.3L108.0 389.3L108.0 389.3ZM135.0 389.3L135.0 389.3L135.5 389.2L137.0 387.5L138.5 385.3L140.5 381.7L142.5 378.0L143.5 376.4L144.5 375.2L145.5 374.5L146.5 374.3L147.5 374.8L148.5 375.7L150.0 377.6L153.5 382.8L155.0 384.7L156.5 386.3L158.0 387.4L160.0 388.3L162.5 389.0L166.0 389.3L166.0 389.3ZM350.0 389.3L350.0 389.3L358.0 388.7L378.5 385.8L405.5 382.9L412.0 382.7L418.0 383.1L422.5 383.9L431.5 386.5L438.0 388.2L444.0 389.2L445.0 389.3L445.0 389.3ZM492.0 389.3L492.0 389.3L497.0 389.3L497.0 389.3ZM563.5 389.3L563.5 389.3L571.0 388.4L583.0 386.1L586.5 386.0L590.5 386.4L599.0 387.9L605.5 388.4L618.5 389.0L623.0 389.3L623.0 389.3ZM657.5 389.3L657.5 389.3L671.0 388.9L692.5 388.8L704.5 389.3L704.5 389.3Z" fill="#bfbfbf"/>
<path d="M97.0 364.4L97.0 363.4L101.5 363.6L106.5 364.3L106.5 364.4ZM118.0 364.4L118.0 364.4L120.0 363.9L122.0 363.1L124.0 361.9L126.5 359.7L130.0 356.1L131.5 354.9L133.0 354.2L134.5 354.2L136.0 354.9L137.5 356.0L140.5 359.2L143.5 362.4L145.5 364.1L146.0 364.4L146.0 364.4ZM380.5 364.4L380.5 364.4L399.0 362.2L409.5 360.4L417.0 359.2L422.0 358.9L426.5 359.1L431.5 360.0L440.0 362.1L444.0 362.6L447.0 362.5L449.5 361.9L452.0 360.7L457.5 357.0L459.0 356.4L460.5 356.4L462.5 356.9L465.0 358.1L470.5 361.4L474.0 362.9L477.5 363.7L482.5 364.3L485.0 364.3L485.0 364.4ZM567.5 364.4L567.5 364.4L579.5 364.2L586.0 364.3L586.0 364.4ZM590.5 364.4L590.5 364.3L597.5 363.9L608.5 362.6L613.0 362.6L620.0 363.5L626.0 364.4L626.0 364.4ZM710.5 364.4L710.5 364.4L711.0 364.2L713.5 361.9L713.5 364.4Z" fill="#bfbfbf"/>
<path d="M97.0 351.9L97.0 350.1L101.5 348.7L108.0 345.9L112.0 344.3L114.5 343.7L117.0 343.6L120.0 344.2L123.5 345.6L135.0 351.6L135.5 351.9L135.5 351.9ZM396.0 351.9L396.0 351.9L414.5 349.4L439.0 347.5L444.5 347.5L451.5 348.3L458.0 349.1L461.0 349.0L463.5 348.5L466.0 347.4L469.5 345.0L471.5 343.7L473.0 343.1L474.5 343.0L476.5 343.5L479.5 345.1L484.5 348.1L488.0 349.6L492.0 350.6L499.5 351.6L502.5 351.9L502.5 351.9ZM571.5 351.9L571.5 351.9L584.5 351.5L605.0 351.3L617.0 351.3L630.5 351.9L630.5 351.9ZM644.0 351.9L644.0 351.9L675.0 349.9L690.0 348.6L698.0 348.5L713.5 349.5L713.5 351.9Z" fill="#bfbfbf"/>
<path d="M97.0 339.4L97.0 336.9L101.5 335.7L106.0 333.8L114.5 329.5L117.5 328.4L120.0 328.1L122.5 328.4L125.0 329.4L128.0 331.0L137.5 337.6L140.5 339.4L140.5 339.4ZM166.0 339.4L166.0 339.4L176.0 339.3L178.0 339.4L178.0 339.4ZM408.5 339.4L408.5 339.4L420.0 338.8L430.5 338.4L436.5 337.6L443.5 336.1L450.5 334.4L454.5 334.0L458.5 334.2L464.5 335.2L472.5 336.7L476.5 337.0L479.5 336.8L482.0 336.1L484.0 335.1L486.0 333.5L488.5 330.9L491.0 328.2L492.5 327.0L493.5 326.7L494.5 326.7L496.0 327.3L497.5 328.6L502.5 333.7L505.0 335.9L507.5 337.4L510.5 338.6L514.5 339.4L514.5 339.4ZM604.0 339.4L604.0 339.4L614.5 339.1L621.5 339.4L621.5 339.4ZM654.5 339.4L654.5 339.4L669.0 338.4L689.5 337.6L700.5 337.8L713.5 338.3L713.5 339.4Z" fill="#bfbfbf"/>
<path d="M97.0 314.4L97.0 313.4L112.0 313.3L115.5 312.8L117.5 312.2L119.5 311.1L121.0 309.7L122.5 307.9L124.0 305.6L125.5 302.7L128.5 296.6L129.5 294.9L130.5 293.6L131.0 293.2L131.5 293.0L132.0 292.9L132.5 293.0L133.0 293.3L134.0 294.5L135.0 296.1L136.5 299.2L139.0 304.6L140.5 307.4L142.0 309.8L143.5 311.6L145.0 313.0L147.0 314.2L147.5 314.4L148.0 314.4L148.0 314.4ZM159.0 314.4L159.0 314.4L163.5 313.0L165.5 312.8L168.0 313.3L171.5 314.4L171.5 314.4ZM459.0 314.4L459.0 314.4L468.0 313.6L475.5 312.3L486.0 310.1L490.5 309.6L494.0 309.7L498.0 310.5L507.0 313.1L511.0 313.7L514.5 313.9L517.5 313.5L520.0 312.7L522.0 311.6L523.5 310.3L525.0 308.4L526.5 305.8L528.0 302.5L531.0 294.7L531.5 293.5L532.0 292.6L532.5 291.8L533.0 291.3L533.5 291.0L534.0 291.1L534.5 291.4L535.0 292.0L535.5 292.8L536.5 294.8L539.5 302.0L541.0 305.1L542.5 307.6L544.0 309.6L545.5 311.0L547.5 312.3L549.5 313.1L552.0 313.5L554.5 313.4L557.5 312.8L562.0 311.4L564.0 311.2L566.5 311.5L575.0 314.0L577.5 314.4L577.5 314.4ZM661.0 314.4L661.0 314.4L677.5 313.0L690.0 311.8L697.5 311.6L708.0 312.1L713.5 312.5L713.5 314.4Z" fill="#bfbfbf"/>
<path d="M97.0 289.5L97.0 287.2L108.0 286.9L112.0 287.5L116.5 288.2L120.0 288.1L123.0 287.6L125.5 286.7L127.5 285.5L129.0 284.0L130.0 282.7L131.0 281.0L132.0 279.0L133.0 276.4L134.0 273.4L135.0 269.9L137.5 260.4L138.0 258.6L138.5 257.1L139.0 255.7L139.5 254.7L140.0 254.1L140.5 253.9L141.0 254.1L141.5 254.7L142.0 255.6L142.5 256.7L143.0 258.1L144.0 261.5L146.5 270.4L147.5 273.6L148.5 276.4L149.5 278.8L150.5 280.8L151.5 282.4L152.5 283.6L154.0 284.9L155.5 285.7L157.5 286.1L160.0 285.9L165.0 285.1L167.5 285.1L171.0 285.7L180.5 288.7L184.5 289.5L185.0 289.5L185.0 289.5ZM507.5 289.5L507.5 289.5L512.5 288.9L518.0 287.6L524.5 285.9L528.0 285.4L531.0 285.7L535.5 286.8L541.0 288.4L545.0 289.0L549.0 289.1L553.0 288.6L556.5 287.6L559.0 286.4L560.5 285.3L562.0 283.8L563.0 282.4L564.0 280.6L565.0 278.4L566.0 275.6L567.0 272.1L568.0 268.1L569.0 263.5L570.5 256.3L571.0 254.2L571.5 252.3L572.0 250.8L572.5 249.9L573.0 249.6L573.5 249.9L574.0 250.6L574.5 251.9L575.0 253.5L575.5 255.4L577.0 261.9L578.0 266.3L579.0 270.2L580.0 273.7L581.0 276.6L582.0 279.0L583.0 281.0L584.0 282.6L585.5 284.4L587.0 285.8L589.0 287.0L591.5 288.0L594.5 288.6L597.5 288.8L600.5 288.4L603.5 287.5L609.0 285.2L611.0 284.8L613.0 284.9L615.5 285.7L623.0 289.5L623.0 289.5ZM671.5 289.5L671.5 289.5L691.0 288.0L700.0 287.8L713.5 288.4L713.5 289.5Z" fill="#bfbfbf"/>
<path d="M97.0 264.5L97.0 261.2L103.5 260.6L109.0 259.8L111.5 259.9L114.5 260.8L119.0 262.3L122.0 262.8L125.5 262.8L129.0 262.4L132.5 261.4L135.0 260.3L136.5 259.2L138.0 257.6L139.0 256.2L140.0 254.5L141.0 252.2L142.0 249.5L143.0 246.2L144.0 242.4L145.5 236.0L146.5 231.7L147.0 229.6L147.5 227.8L148.0 226.2L148.5 225.0L149.0 224.3L149.5 224.0L150.0 224.3L150.5 225.0L151.0 226.0L151.5 227.4L152.0 229.1L153.0 233.0L155.0 241.1L156.0 244.9L157.0 248.2L158.0 251.0L159.0 253.3L160.0 255.2L161.0 256.6L162.5 258.2L164.0 259.2L166.0 259.9L172.5 260.8L177.5 262.1L185.0 264.3L186.0 264.5L186.0 264.5ZM538.5 264.5L538.5 264.5L554.5 262.8L568.0 261.2L577.5 260.7L586.0 260.4L590.0 259.7L593.0 258.8L595.0 257.8L597.0 256.2L598.5 254.6L599.5 253.1L600.5 251.3L601.5 249.0L602.0 247.6L602.5 246.0L603.0 244.3L603.5 242.4L604.0 240.3L604.5 237.9L605.0 235.3L605.5 232.4L606.0 229.3L606.5 226.0L607.5 218.7L608.5 211.4L609.0 208.0L609.5 205.0L610.0 202.7L610.5 201.3L611.0 200.8L611.5 201.3L612.0 202.7L612.5 205.0L613.0 208.0L613.5 211.4L615.0 222.4L615.5 226.0L616.0 229.4L616.5 232.5L617.0 235.3L617.5 238.0L618.0 240.4L618.5 242.5L619.0 244.5L619.5 246.2L620.0 247.8L621.0 250.4L622.0 252.5L623.0 254.2L624.5 256.2L626.0 257.7L628.0 259.2L630.5 260.5L634.0 261.8L638.0 262.6L643.0 262.9L647.0 262.6L650.5 261.9L656.0 260.2L658.0 260.1L660.0 260.4L662.5 261.4L668.0 264.5L668.5 264.5L668.5 264.5ZM689.5 264.5L689.5 264.5L699.0 261.2L704.0 260.0L708.5 259.5L713.5 259.6L713.5 264.5Z" fill="#bfbfbf"/>
<path d="M97.0 239.6L97.0 237.9L101.5 237.5L107.5 236.0L109.5 235.9L112.5 236.5L117.5 237.8L121.5 238.1L128.5 238.0L139.5 237.2L143.5 236.5L146.0 235.6L147.5 234.8L149.0 233.5L150.5 231.6L151.5 229.9L152.5 227.8L153.5 225.2L154.5 222.2L155.5 218.8L157.5 211.3L158.0 209.5L158.5 207.9L159.0 206.6L159.5 205.5L160.0 204.9L160.5 204.6L161.0 204.8L161.5 205.4L162.0 206.3L162.5 207.4L163.0 208.8L164.0 212.0L166.0 218.9L167.0 222.0L168.0 224.7L169.0 227.0L170.0 228.9L171.0 230.5L172.5 232.3L174.0 233.5L176.5 234.8L183.0 237.1L189.5 239.0L192.5 239.6L192.5 239.6ZM571.5 239.6L571.5 239.6L592.5 236.8L604.0 235.3L612.5 234.9L620.5 234.6L625.0 234.0L628.0 233.1L630.5 231.9L632.5 230.5L634.0 229.0L635.5 227.0L636.5 225.3L637.5 223.1L638.5 220.4L639.0 218.8L639.5 217.1L640.0 215.1L640.5 212.8L641.0 210.4L641.5 207.6L642.0 204.5L642.5 201.1L643.0 197.3L643.5 193.2L644.0 188.7L644.5 183.9L645.0 178.7L646.5 162.8L647.0 157.9L647.5 153.6L648.0 150.3L648.5 148.2L649.0 147.4L649.5 148.1L650.0 150.2L650.5 153.4L651.0 157.6L651.5 162.5L653.0 178.2L653.5 183.2L654.0 188.0L654.5 192.4L655.0 196.5L655.5 200.2L656.0 203.6L656.5 206.6L657.0 209.4L657.5 211.8L658.0 214.0L658.5 216.0L659.0 217.7L659.5 219.2L660.5 221.9L661.5 224.0L662.5 225.7L664.0 227.7L665.5 229.2L667.5 230.7L670.0 232.1L673.5 233.3L678.0 234.2L684.5 234.7L692.5 234.7L697.5 234.2L705.5 232.6L708.0 232.5L711.0 233.0L713.5 233.8L713.5 239.6Z" fill="#bfbfbf"/>
<path d="M97.0 214.6L97.0 212.6L102.0 211.9L106.0 211.3L109.0 211.5L116.5 212.8L122.5 213.1L146.5 213.0L151.0 212.5L154.5 211.7L157.0 210.6L158.5 209.5L160.0 207.9L161.0 206.5L162.0 204.6L163.0 202.3L164.0 199.4L164.5 197.7L165.0 195.9L165.5 193.8L166.0 191.6L167.0 186.7L168.0 181.3L169.5 172.7L170.0 170.1L170.5 167.7L171.0 165.7L171.5 164.1L172.0 163.2L172.5 162.8L173.0 163.1L173.5 163.9L174.0 165.3L174.5 167.0L175.0 169.1L175.5 171.5L178.0 184.4L179.0 189.2L180.0 193.5L181.0 197.2L182.0 200.3L183.0 202.9L184.0 205.0L185.0 206.7L186.5 208.6L188.0 210.1L190.0 211.4L193.0 212.6L197.0 213.6L203.0 214.4L205.0 214.6L205.0 214.6ZM597.0 214.6L597.0 214.6L604.5 213.4L617.0 210.7L622.0 210.2L627.0 210.3L637.5 211.2L643.5 211.1L650.0 210.4L656.0 209.2L660.0 207.9L663.0 206.5L665.5 204.9L667.5 203.0L669.0 201.2L670.5 198.8L671.5 196.7L672.5 194.1L673.0 192.6L673.5 190.9L674.0 189.0L674.5 186.9L675.0 184.6L675.5 181.9L676.0 179.0L676.5 175.7L677.0 172.0L677.5 167.9L678.0 163.4L678.5 158.5L679.0 153.2L679.5 147.4L680.0 141.4L681.5 122.4L682.0 116.6L682.5 111.5L683.0 107.6L683.5 105.1L684.0 104.2L684.5 105.0L685.0 107.5L685.5 111.5L686.0 116.5L686.5 122.3L688.0 141.2L688.5 147.2L689.0 153.0L689.5 158.3L690.0 163.2L690.5 167.7L691.0 171.7L691.5 175.4L692.0 178.7L692.5 181.6L693.0 184.3L693.5 186.6L694.0 188.8L694.5 190.7L695.0 192.4L696.0 195.2L697.0 197.6L698.0 199.5L699.5 201.8L701.0 203.6L703.0 205.4L705.5 207.1L708.5 208.7L712.5 210.0L713.5 210.3L713.5 214.6Z" fill="#bfbfbf"/>
<path d="M97.0 189.6L97.0 189.1L101.5 188.8L105.0 188.0L109.5 186.6L112.5 186.3L123.0 186.8L135.0 186.6L143.0 187.1L152.0 187.9L157.0 187.8L161.0 187.2L164.0 186.3L166.0 185.3L167.5 184.2L169.0 182.7L170.0 181.3L171.0 179.6L172.0 177.3L173.0 174.6L174.0 171.3L175.0 167.5L176.0 163.1L178.0 153.6L178.5 151.4L179.0 149.4L179.5 147.7L180.0 146.4L180.5 145.6L181.0 145.3L181.5 145.6L182.0 146.3L182.5 147.4L183.0 148.9L183.5 150.7L184.5 154.9L186.5 163.7L187.5 167.8L188.5 171.4L189.5 174.5L190.5 177.1L191.5 179.3L192.5 181.0L193.5 182.3L195.0 183.7L196.5 184.6L198.5 185.2L203.0 185.9L208.0 187.6L213.5 189.4L214.5 189.6L214.5 189.6ZM610.0 189.6L610.0 189.6L627.0 188.3L634.0 187.3L641.0 185.6L656.0 180.8L661.5 179.5L667.0 178.8L675.5 178.6L685.5 178.4L690.0 177.9L693.5 177.1L696.0 176.0L698.0 174.6L699.5 173.2L701.0 171.4L702.0 169.8L703.0 167.9L704.0 165.5L705.0 162.6L705.5 160.8L706.0 158.9L706.5 156.8L707.0 154.4L707.5 151.7L708.0 148.7L708.5 145.4L709.0 141.6L709.5 137.5L710.0 132.9L710.5 127.8L711.0 122.2L711.5 116.1L712.0 109.6L713.5 88.9L713.5 189.6Z" fill="#bfbfbf"/>
<path d="M99.5 164.7L99.5 164.7L102.0 164.1L106.0 162.4L107.5 162.3L110.0 162.7L114.0 163.8L117.5 164.1L131.5 163.5L140.5 163.8L152.0 164.4L158.5 164.2L165.5 163.3L170.5 162.2L173.5 161.1L175.5 160.0L177.0 158.8L178.5 157.1L179.5 155.7L180.5 153.8L181.5 151.6L182.5 148.8L183.5 145.5L184.5 141.8L185.5 137.5L188.0 125.9L188.5 123.8L189.0 121.9L189.5 120.3L190.0 119.2L190.5 118.4L191.0 118.2L191.5 118.4L192.0 119.1L192.5 120.1L193.0 121.5L193.5 123.2L194.5 127.1L197.0 137.8L198.0 141.6L199.0 145.0L200.0 148.0L201.0 150.4L202.0 152.5L203.0 154.1L204.5 156.0L206.5 157.9L209.0 159.6L213.5 162.0L218.5 164.1L220.5 164.7L220.5 164.7ZM644.0 164.7L644.0 164.7L651.5 163.8L658.0 162.4L663.0 160.9L667.5 159.0L671.5 156.8L675.5 154.0L680.0 150.3L690.5 140.8L694.5 137.7L697.5 135.9L700.5 134.6L703.0 134.0L705.5 133.9L710.5 134.5L713.5 135.2L713.5 164.7Z" fill="#bfbfbf"/>
<path d="M97.0 589.7L118.5 589.8L133.0 589.7L143.5 590.2L155.5 591.0L165.5 590.9L179.5 590.6L200.0 590.8L216.0 590.7L234.5 591.3L242.5 591.0L249.5 590.2L253.5 589.4L256.0 588.4L258.0 587.1L259.5 585.6L260.5 584.3L261.5 582.6L262.5 580.6L263.5 578.1L264.5 575.0L265.5 571.5L266.5 567.3L267.5 562.6L268.5 557.3L269.5 551.5L271.0 542.1L273.0 529.1L274.0 523.0L274.5 520.0L275.0 517.3L275.5 514.8L276.0 512.5L276.5 510.5L277.0 508.8L277.5 507.5L278.0 506.6L278.5 506.3L279.0 506.6L279.5 507.5L280.0 508.9L280.5 510.7L282.0 516.6L283.5 523.1L287.5 541.4L289.0 547.9L290.0 551.7L291.0 554.9L293.5 561.7L300.0 578.6L302.0 583.6L303.0 585.7L304.5 588.5L305.5 590.0L306.5 591.1L307.5 591.5L312.5 591.8L322.5 591.7L336.0 591.3L357.5 592.0L370.5 591.5L382.5 591.3L400.0 591.3L415.0 590.6L419.5 590.1L422.0 589.4L423.5 588.6L425.0 587.4L426.0 586.2L427.0 584.6L428.0 582.5L429.0 579.9L430.0 576.7L431.0 572.9L432.0 568.6L433.5 561.4L435.0 554.1L435.5 551.8L436.0 549.7L436.5 547.8L437.0 546.3L437.5 545.0L438.0 544.2L438.5 543.7L439.0 543.7L439.5 543.9L440.0 544.5L440.5 545.4L441.0 546.6L441.5 548.0L442.5 551.2L443.5 555.0L446.5 567.1L448.0 572.6L449.0 575.8L450.0 578.6L451.0 581.1L452.0 583.1L453.0 584.8L454.5 586.8L456.0 588.2L458.0 589.4L460.5 590.3L464.5 591.1L471.5 591.6L481.5 591.7L495.5 591.6L512.5 592.1L519.5 591.7L524.5 591.0L528.0 590.1L530.5 588.9L532.5 587.6L534.0 586.2L535.5 584.4L537.0 582.2L538.5 579.6L540.5 575.5L543.5 568.9L545.0 566.1L546.0 564.6L547.0 563.7L548.0 563.4L549.0 563.6L550.0 564.4L551.0 565.5L552.5 567.8L555.0 572.5L558.0 578.2L560.0 581.5L562.0 584.2L564.0 586.3L566.0 587.8L568.5 589.2L571.5 590.1L576.0 590.8L586.0 591.4L596.0 591.5L604.0 591.0L610.0 590.1L614.5 589.0L618.5 587.4L622.5 585.2L627.5 581.7L632.0 578.5L634.5 577.2L636.5 576.6L638.5 576.6L640.5 577.0L643.0 578.3L646.0 580.4L653.0 586.0L656.5 588.3L660.0 590.2L664.0 591.7L668.5 592.7L674.0 593.3L682.0 593.5L691.5 593.1L696.5 592.5L700.0 591.6L702.5 590.4L705.0 588.8L707.5 586.7L710.5 583.5L712.5 581.3L713.5 580.5" fill="none" stroke="#000" stroke-width="2.9" stroke-linejoin="round"/>
<path d="M97.0 577.8L118.0 577.7L131.0 577.5L140.5 578.0L153.5 579.0L161.5 579.0L179.0 578.3L201.0 578.4L216.0 578.1L236.5 578.9L244.5 578.6L250.5 577.8L253.5 577.0L255.5 576.1L257.0 575.1L258.5 573.7L260.0 571.6L261.0 569.9L262.0 567.7L263.0 565.1L264.0 562.0L265.0 558.4L266.0 554.4L267.0 549.8L268.0 544.8L269.5 536.8L272.0 523.0L273.0 517.9L273.5 515.5L274.0 513.3L274.5 511.4L275.0 509.6L275.5 508.2L276.0 507.0L276.5 506.3L277.0 506.0L277.5 506.2L278.0 507.0L278.5 508.3L279.0 510.0L280.5 515.8L282.0 522.0L286.5 542.3L288.0 548.7L289.0 552.4L290.0 555.5L294.0 566.1L297.0 573.9L298.0 576.2L298.5 577.1L299.0 577.8L299.5 578.3L300.5 578.7L312.0 579.3L321.5 579.3L335.0 578.9L346.0 579.2L356.5 579.6L366.0 579.3L379.5 578.6L402.5 578.7L411.5 578.2L415.5 577.6L418.0 576.8L419.5 575.9L421.0 574.5L422.0 573.2L423.0 571.4L424.0 569.2L425.0 566.5L426.0 563.3L427.0 559.6L428.5 553.5L430.0 547.1L431.0 543.3L431.5 541.7L432.0 540.3L432.5 539.2L433.0 538.4L433.5 537.9L434.0 537.8L434.5 538.0L435.0 538.5L435.5 539.2L436.0 540.2L436.5 541.4L437.5 544.2L439.0 549.2L441.5 557.9L443.0 562.7L444.0 565.5L445.0 568.0L446.0 570.1L447.0 571.9L448.5 574.1L450.0 575.6L451.5 576.7L453.5 577.6L456.5 578.4L462.0 579.0L471.5 579.4L493.0 579.0L511.0 579.6L516.5 579.3L520.5 578.6L523.5 577.5L525.5 576.4L527.5 574.7L529.0 573.0L530.5 570.9L532.0 568.4L534.0 564.4L537.5 556.7L539.0 553.8L540.0 552.4L541.0 551.4L542.0 551.1L543.0 551.3L544.0 552.0L545.0 553.1L546.5 555.4L549.0 560.1L552.0 565.7L554.0 569.0L556.0 571.8L558.0 573.9L560.0 575.5L562.5 576.9L565.5 577.9L569.5 578.5L578.0 579.0L593.5 579.1L601.5 578.7L607.0 578.0L611.5 576.8L615.5 575.3L620.0 573.0L628.0 568.1L630.5 567.0L633.0 566.5L635.0 566.5L637.5 567.2L640.5 568.8L649.5 574.7L653.5 576.8L657.5 578.4L662.5 579.7L668.5 580.6L676.0 581.0L686.5 580.8L695.0 580.2L699.5 579.5L703.0 578.3L706.0 576.7L709.0 574.5L713.0 571.2L713.5 570.9" fill="none" stroke="#000" stroke-width="2.9" stroke-linejoin="round"/>
<path d="M97.0 565.2L118.0 565.7L137.5 565.4L160.5 566.2L202.5 565.8L214.0 565.8L231.5 566.6L239.0 566.3L245.5 565.5L249.0 564.7L251.0 563.8L252.5 562.9L254.0 561.4L255.5 559.4L256.5 557.6L257.5 555.4L258.5 552.8L259.5 549.6L260.5 545.9L261.5 541.7L262.5 537.0L263.5 531.9L266.5 515.5L267.5 510.4L268.0 508.0L268.5 505.8L269.0 503.7L269.5 502.0L270.0 500.5L270.5 499.3L271.0 498.4L271.5 498.1L272.0 498.1L272.5 498.6L273.0 499.4L275.5 505.0L276.5 507.5L277.0 508.9L278.0 512.2L280.0 519.8L281.5 525.9L285.5 543.6L287.0 549.8L288.0 553.5L289.0 556.5L291.0 561.7L292.0 564.0L292.5 564.9L293.0 565.6L293.5 566.0L294.5 566.4L298.0 566.1L301.0 565.4L303.5 564.3L306.0 562.6L310.0 559.2L311.5 558.3L313.0 557.8L314.5 558.0L316.0 558.8L318.5 560.8L321.5 563.4L323.5 564.7L326.0 565.8L328.5 566.2L331.5 566.2L334.0 565.6L336.0 564.7L338.0 563.4L340.5 561.1L343.5 557.9L345.0 556.7L346.5 556.1L347.5 556.1L348.5 556.5L350.0 557.5L352.5 560.1L355.5 563.3L357.5 564.9L359.5 566.0L362.0 566.8L365.5 567.2L381.5 567.2L394.0 566.9L404.5 566.0L410.0 565.2L412.5 564.4L414.5 563.3L416.0 562.0L417.0 560.8L418.0 559.2L419.0 557.2L420.0 554.9L421.0 552.1L422.5 547.5L424.5 540.9L425.5 538.0L426.0 536.8L426.5 535.7L427.0 534.9L427.5 534.4L428.0 534.1L428.5 534.1L429.0 534.3L429.5 534.8L430.0 535.4L431.0 537.2L432.0 539.5L433.5 543.6L436.0 550.6L437.5 554.4L439.0 557.7L440.5 560.3L442.0 562.3L443.5 563.8L445.0 564.8L447.0 565.7L450.0 566.3L455.5 566.7L462.0 566.6L466.0 566.1L469.0 565.1L472.0 563.7L477.0 560.9L479.0 560.2L480.5 560.1L482.5 560.6L485.5 562.0L490.0 564.4L493.0 565.4L496.5 566.1L502.5 566.3L509.5 566.1L513.5 565.5L516.0 564.7L518.5 563.4L520.5 561.8L522.5 559.7L524.5 557.0L527.5 552.3L530.0 548.4L531.5 546.5L532.5 545.7L533.5 545.2L534.5 545.2L535.5 545.5L537.0 546.7L538.5 548.4L541.5 552.7L544.5 557.0L547.0 559.9L549.0 561.8L551.5 563.6L554.0 564.8L557.0 565.6L561.5 566.2L572.0 566.5L592.5 566.8L600.0 566.4L606.5 565.4L612.5 564.0L619.0 561.8L625.5 559.4L629.0 558.7L631.5 558.6L634.0 559.0L637.0 560.0L647.0 564.8L651.5 566.4L656.5 567.6L663.5 568.5L675.0 569.2L689.5 569.3L695.0 569.0L699.0 568.2L702.5 567.1L706.0 565.5L710.0 562.9L713.0 560.9L713.5 560.7" fill="none" stroke="#000" stroke-width="2.9" stroke-linejoin="round"/>
<path d="M97.0 552.9L121.0 553.0L134.5 553.0L155.0 554.0L165.5 553.9L180.5 553.5L197.0 553.4L213.5 552.8L223.5 553.1L234.5 553.6L239.5 553.4L242.5 552.8L244.5 552.0L246.0 551.0L247.5 549.5L248.5 548.2L249.5 546.5L250.5 544.4L251.5 541.9L252.5 538.9L253.5 535.4L254.5 531.5L255.5 527.1L257.0 519.8L259.5 507.1L260.5 502.3L261.0 500.1L261.5 498.1L262.0 496.3L262.5 494.7L263.0 493.3L263.5 492.3L264.0 491.6L264.5 491.3L265.0 491.4L265.5 491.9L266.0 492.7L269.0 498.7L272.0 504.1L275.5 509.9L276.0 511.0L276.5 512.2L277.5 515.1L279.0 520.2L280.0 523.9L281.5 530.0L285.0 544.9L286.0 548.9L286.5 550.6L287.0 552.1L287.5 553.1L288.0 553.8L288.5 554.1L290.0 554.3L301.0 553.9L304.5 553.4L307.0 552.4L309.0 551.2L311.5 549.1L315.0 545.9L316.5 544.9L318.0 544.5L319.5 544.8L321.0 545.7L326.5 550.5L329.0 552.0L331.5 552.9L334.5 553.4L338.0 553.4L340.0 552.9L341.5 552.3L343.0 551.2L344.5 549.4L345.5 547.8L347.0 544.8L349.0 540.1L350.5 536.5L351.5 534.6L352.0 533.8L352.5 533.2L353.0 532.9L353.5 532.7L354.0 532.7L354.5 532.9L355.5 533.9L356.5 535.4L358.0 538.3L361.0 544.7L362.5 547.4L364.0 549.6L365.5 551.3L367.0 552.4L369.0 553.4L371.5 553.9L377.0 554.2L392.5 554.2L399.0 553.7L402.5 553.1L405.0 552.1L406.5 551.2L408.0 549.9L409.5 548.0L411.0 545.6L412.5 542.6L415.0 536.9L416.5 533.4L417.5 531.5L418.5 530.1L419.0 529.6L419.5 529.3L420.0 529.2L421.0 529.4L422.0 530.2L423.0 531.4L424.5 533.8L429.5 543.2L431.5 546.4L433.0 548.4L434.5 550.0L436.5 551.6L438.5 552.7L441.0 553.5L444.0 553.9L447.0 553.8L450.0 553.1L452.5 552.0L455.5 550.2L459.5 547.5L461.5 546.6L463.0 546.3L464.5 546.5L466.5 547.2L471.0 549.5L473.0 550.0L475.0 550.1L476.5 549.7L478.5 548.6L481.0 546.6L484.0 544.0L485.5 543.1L487.0 542.6L488.5 542.8L490.0 543.5L492.0 545.1L496.5 549.3L499.0 551.2L501.5 552.5L504.0 553.2L507.0 553.4L510.0 552.9L512.5 552.1L515.0 550.7L517.5 548.8L523.5 543.2L525.5 541.7L527.0 541.1L528.5 540.9L530.5 541.3L532.5 542.2L535.5 544.2L541.5 548.8L545.0 550.9L548.5 552.4L552.0 553.3L556.0 553.8L560.0 553.7L564.0 553.1L568.0 551.9L576.0 548.7L578.5 548.1L581.0 548.0L583.5 548.5L588.5 550.4L593.0 552.0L597.0 552.9L601.0 553.1L605.5 552.8L611.0 551.8L622.0 548.7L625.5 548.2L628.5 548.2L631.5 548.8L636.5 550.6L643.5 553.3L648.5 554.6L654.5 555.6L664.0 556.2L676.5 556.4L694.0 556.0L699.5 555.4L704.0 554.3L708.5 552.7L713.0 550.7L713.5 550.5" fill="none" stroke="#000" stroke-width="2.9" stroke-linejoin="round"/>
<path d="M97.0 540.3L112.0 540.4L137.5 540.5L158.5 541.4L193.0 541.3L213.0 540.4L224.0 540.6L230.0 540.7L233.0 540.3L235.0 539.6L236.5 538.8L238.0 537.5L239.5 535.6L240.5 533.9L241.5 531.9L242.5 529.4L243.5 526.4L244.5 523.0L245.5 519.2L246.5 515.0L248.0 508.3L250.0 499.0L251.0 494.6L252.0 490.8L252.5 489.1L253.0 487.6L253.5 486.4L254.0 485.4L254.5 484.7L255.0 484.4L255.5 484.5L256.0 484.9L257.0 486.4L259.0 489.6L265.5 498.6L270.0 504.3L274.5 510.4L275.5 512.1L276.0 513.2L276.5 514.5L277.5 517.5L279.0 522.6L280.0 526.3L282.5 536.4L283.0 538.3L283.5 539.8L284.0 540.9L284.5 541.7L285.0 542.0L286.0 542.3L306.5 541.8L310.0 541.2L312.5 540.3L314.5 539.2L317.0 537.1L320.5 533.9L322.0 532.8L323.5 532.3L325.0 532.5L326.5 533.3L329.0 535.4L332.0 538.0L334.5 539.7L337.0 540.7L340.0 541.3L343.5 541.4L346.0 541.1L348.0 540.4L349.5 539.2L350.5 538.1L351.5 536.5L352.5 534.3L353.5 531.5L354.5 528.2L355.5 524.4L357.5 516.3L358.0 514.4L358.5 512.7L359.0 511.2L359.5 510.1L360.0 509.2L360.5 508.7L361.0 508.6L361.5 508.8L362.0 509.3L362.5 510.1L363.0 511.1L363.5 512.4L364.5 515.4L367.5 525.6L368.5 528.7L369.5 531.4L370.5 533.7L371.5 535.6L372.5 537.1L374.0 538.7L375.5 539.7L377.5 540.5L381.0 541.1L388.5 541.5L394.5 541.3L398.5 540.7L401.0 539.9L403.0 538.8L405.0 537.3L407.0 535.1L409.0 532.5L413.0 526.7L414.5 525.0L415.5 524.3L416.5 524.0L418.0 524.1L419.5 524.7L421.5 526.2L424.5 529.2L429.5 534.5L432.5 537.2L435.0 538.9L438.0 540.5L441.0 541.4L444.5 541.9L448.0 541.8L450.5 541.4L453.0 540.4L455.5 538.8L459.0 535.6L461.0 533.9L462.5 533.0L464.0 532.6L465.5 532.9L467.0 533.7L472.0 537.8L474.0 539.0L476.0 539.7L478.0 539.9L480.0 539.6L482.0 538.7L484.0 537.2L486.0 535.2L491.0 529.4L492.5 528.1L494.0 527.4L495.0 527.4L496.0 527.7L497.5 528.7L499.0 530.3L503.5 535.9L505.5 537.9L507.5 539.5L509.5 540.7L512.0 541.5L515.5 542.1L522.0 542.3L533.0 542.0L538.0 541.4L542.0 540.4L545.5 539.0L552.0 535.7L554.5 534.9L556.5 534.7L558.5 535.0L561.5 536.1L568.0 539.1L571.5 540.2L575.5 540.8L580.0 540.9L584.5 540.4L588.5 539.5L596.5 536.6L599.0 536.1L601.5 536.2L604.5 536.9L613.0 540.1L618.0 541.3L625.0 542.3L632.5 542.8L639.0 542.7L649.5 542.0L655.5 542.2L669.0 543.4L680.0 543.7L694.5 543.6L700.5 543.0L706.0 541.9L713.5 539.7" fill="none" stroke="#000" stroke-width="2.9" stroke-linejoin="round"/>
<path d="M97.0 527.6L118.5 528.2L136.5 528.0L148.5 528.6L160.0 529.1L174.5 529.0L198.5 528.4L213.5 527.9L222.0 527.7L225.0 527.2L227.0 526.4L228.5 525.4L230.0 523.8L231.0 522.4L232.0 520.7L233.0 518.6L234.0 516.1L235.0 513.2L236.0 509.9L237.5 504.3L241.0 490.0L242.0 486.2L243.0 482.9L243.5 481.5L244.0 480.3L244.5 479.4L245.0 478.7L245.5 478.3L246.0 478.3L246.5 478.6L247.0 479.1L250.0 483.9L252.5 487.3L255.5 490.6L259.5 494.3L262.0 496.6L269.0 504.3L274.0 510.7L275.0 512.2L275.5 513.2L276.0 514.4L277.0 517.3L279.5 525.5L280.0 527.0L280.5 528.2L281.0 529.1L281.5 529.6L282.5 529.9L299.0 529.5L311.0 529.5L314.5 529.1L317.0 528.3L319.0 527.2L321.0 525.7L326.0 520.8L327.5 519.8L329.0 519.4L330.5 519.7L332.0 520.5L335.0 523.3L337.5 525.5L339.5 526.8L342.0 527.9L345.0 528.5L348.5 528.6L351.0 528.3L353.0 527.6L354.5 526.5L355.5 525.3L356.5 523.6L357.0 522.6L357.5 521.4L358.0 519.9L358.5 518.3L359.0 516.6L359.5 514.6L360.0 512.4L361.0 507.6L363.0 497.0L363.5 494.4L364.0 492.0L364.5 489.9L365.0 488.1L365.5 486.7L366.0 485.8L366.5 485.4L367.0 485.4L367.5 485.8L368.0 486.7L368.5 487.9L369.0 489.4L369.5 491.1L370.5 495.2L373.0 506.5L374.0 510.8L375.0 514.5L376.0 517.8L377.0 520.4L378.0 522.6L379.0 524.3L380.0 525.5L381.5 526.8L383.0 527.6L385.5 528.4L389.5 528.7L393.5 528.6L397.0 527.9L400.0 526.8L403.5 524.9L408.0 522.2L410.0 521.3L412.0 521.1L414.0 521.4L416.0 522.4L423.0 527.0L426.0 528.5L429.5 529.6L433.5 530.3L439.0 530.6L444.5 530.3L448.0 529.7L450.5 528.8L452.5 527.7L454.5 526.0L456.5 523.8L460.5 518.6L462.0 517.1L463.0 516.5L464.0 516.3L465.0 516.5L466.0 517.1L467.5 518.5L472.0 524.1L474.0 526.1L476.0 527.4L478.0 528.1L480.5 528.5L483.0 528.2L485.5 527.3L487.5 526.1L489.5 524.4L492.0 521.7L495.5 517.6L497.0 516.1L498.5 515.3L499.5 515.1L500.5 515.3L502.0 516.1L503.5 517.6L508.5 523.7L510.5 525.7L512.5 527.3L514.5 528.3L517.0 529.2L520.5 529.7L527.0 529.8L534.0 529.4L538.0 528.8L541.5 527.7L545.0 526.0L552.0 521.6L554.0 520.8L556.0 520.5L558.0 520.7L560.5 521.7L568.0 526.1L571.5 527.6L575.0 528.4L580.0 529.0L587.0 529.2L592.0 528.8L596.0 527.9L600.0 526.4L606.0 523.9L608.5 523.2L611.0 523.2L613.5 523.7L617.0 525.2L623.5 528.2L628.0 529.6L632.5 530.5L638.0 530.9L644.0 530.8L658.0 529.1L663.0 529.1L678.5 530.6L691.5 530.9L711.0 530.4L713.5 530.5" fill="none" stroke="#000" stroke-width="2.9" stroke-linejoin="round"/>
<path d="M97.0 515.3L121.0 515.5L133.5 515.5L147.0 516.4L156.5 516.9L166.0 516.7L181.0 516.0L199.0 515.7L212.0 514.9L215.5 514.3L217.5 513.6L219.0 512.7L220.5 511.4L222.0 509.6L223.0 508.0L224.0 506.0L225.0 503.8L226.0 501.1L227.5 496.6L229.0 491.4L231.5 482.5L232.5 479.3L233.5 476.4L234.0 475.2L234.5 474.1L235.0 473.3L235.5 472.7L236.0 472.3L236.5 472.3L237.0 472.6L237.5 473.2L240.5 478.3L242.5 481.1L245.0 484.0L248.0 486.9L252.5 490.6L261.5 497.1L267.5 502.9L270.5 506.3L274.0 510.5L275.0 511.9L277.0 515.8L277.5 516.5L278.0 516.8L279.0 517.1L294.0 516.7L312.5 517.2L317.0 516.9L320.0 516.3L322.0 515.5L324.0 514.1L326.0 512.1L328.0 509.6L331.0 505.4L332.5 503.7L333.5 502.9L334.5 502.5L335.5 502.6L336.5 503.1L338.0 504.6L340.5 507.9L343.0 511.2L345.0 513.3L347.0 514.8L349.0 515.6L351.5 516.1L354.0 516.0L356.0 515.4L357.5 514.5L358.5 513.4L359.5 511.9L360.0 511.0L360.5 509.8L361.0 508.5L361.5 506.9L362.0 505.2L362.5 503.2L363.0 501.0L363.5 498.5L364.0 495.8L364.5 492.9L365.5 486.7L367.0 476.9L367.5 473.8L368.0 471.0L368.5 468.5L369.0 466.4L369.5 464.8L370.0 463.8L370.5 463.3L371.0 463.4L371.5 464.1L372.0 465.2L372.5 466.7L373.0 468.6L373.5 470.8L374.0 473.2L375.0 478.5L377.0 489.5L378.0 494.5L379.0 499.0L379.5 501.0L380.0 502.9L380.5 504.6L381.5 507.4L382.5 509.7L383.5 511.4L384.5 512.7L386.0 514.0L388.0 515.1L391.0 515.9L397.0 516.6L410.0 517.0L423.5 517.6L435.0 518.1L442.5 517.9L447.0 517.3L449.5 516.5L451.5 515.5L453.5 513.9L455.0 512.3L457.0 509.5L460.5 504.3L462.0 502.6L463.0 502.0L464.0 501.7L465.0 502.0L466.0 502.7L467.5 504.5L471.5 510.3L473.0 512.1L474.5 513.6L476.0 514.7L478.0 515.7L480.5 516.2L484.0 516.3L487.5 515.9L490.5 515.0L493.5 513.6L497.0 511.4L501.0 508.6L503.0 507.7L504.5 507.4L506.0 507.6L507.5 508.2L510.0 509.8L515.0 513.7L517.5 515.2L520.0 516.3L523.0 516.9L527.0 517.2L532.5 516.8L537.5 516.0L541.5 514.7L545.5 512.9L550.5 510.3L553.0 509.4L555.0 509.2L557.0 509.5L559.5 510.4L567.0 514.2L570.5 515.4L574.5 516.2L581.0 516.8L591.0 517.0L596.0 516.6L600.0 515.9L604.0 514.6L611.0 511.7L613.5 511.2L616.0 511.2L618.5 511.8L622.5 513.6L627.5 515.9L631.5 517.2L636.0 518.0L642.0 518.4L662.0 518.4L677.5 518.7L700.5 518.2L711.5 518.1L713.5 518.1" fill="none" stroke="#000" stroke-width="2.9" stroke-linejoin="round"/>
<path d="M97.0 502.8L117.0 503.3L134.0 503.2L145.0 503.7L156.0 504.4L165.0 504.2L183.0 503.4L199.0 502.9L203.5 502.4L206.0 501.8L208.0 500.8L209.5 499.7L211.0 498.2L212.5 496.0L214.0 493.2L215.5 489.6L217.0 485.4L219.0 479.0L221.0 472.4L222.0 469.3L223.0 466.6L224.0 464.5L224.5 463.7L225.0 463.1L225.5 462.8L226.0 462.8L226.5 463.1L227.0 463.8L228.0 465.7L230.0 469.7L232.0 473.1L233.5 475.3L235.5 477.7L238.5 480.7L242.5 484.1L248.5 488.4L261.0 496.9L263.5 499.1L268.5 503.9L269.5 504.6L270.5 504.9L279.5 504.7L293.5 504.3L314.0 504.8L320.0 504.5L323.5 503.8L325.5 503.0L327.0 502.1L328.5 500.7L330.0 498.9L331.5 496.6L333.0 493.8L336.0 487.7L337.0 485.9L338.0 484.5L339.0 483.5L339.5 483.3L340.0 483.2L340.5 483.3L341.5 483.9L342.5 485.1L343.5 486.8L345.5 490.8L347.5 494.8L349.0 497.3L350.5 499.4L352.0 500.9L353.5 501.9L355.0 502.5L356.5 502.5L358.0 502.1L359.0 501.5L360.0 500.4L361.0 498.9L361.5 497.9L362.0 496.8L362.5 495.5L363.0 494.0L363.5 492.4L364.0 490.5L365.0 486.3L366.0 481.6L367.5 474.3L368.0 472.0L368.5 469.8L369.0 468.0L369.5 466.4L370.0 465.2L370.5 464.4L371.0 464.1L371.5 464.2L372.0 464.7L372.5 465.5L373.0 466.7L373.5 468.1L374.0 469.7L375.0 473.5L377.5 483.9L378.5 487.7L379.5 491.1L380.5 494.0L381.5 496.4L382.5 498.3L383.5 499.8L385.0 501.4L386.5 502.4L388.5 503.1L392.0 503.7L397.5 503.9L402.5 503.6L406.5 502.9L410.5 501.5L416.0 499.1L418.5 498.5L420.5 498.5L422.5 499.0L425.5 500.3L430.5 502.8L434.0 504.1L437.5 504.7L441.5 504.8L445.0 504.5L447.5 503.7L449.5 502.7L451.5 501.2L453.0 499.6L455.0 496.9L459.0 490.6L460.5 488.7L461.5 487.8L462.5 487.3L463.5 487.3L464.5 487.8L465.5 488.7L467.0 490.6L471.0 496.9L473.0 499.5L474.5 501.1L476.5 502.5L478.5 503.4L481.0 504.0L485.0 504.2L490.5 503.8L495.0 503.0L499.0 501.6L506.0 498.6L508.5 498.1L510.5 498.0L513.0 498.6L517.0 500.3L521.5 502.4L525.0 503.4L528.5 503.8L532.0 503.7L535.5 502.9L539.5 501.5L546.0 498.7L548.5 498.1L551.0 498.1L553.5 498.7L558.5 500.9L563.0 502.8L567.0 503.8L572.0 504.4L589.0 504.7L597.5 504.5L602.5 503.9L607.0 502.8L616.0 499.6L618.5 499.2L621.0 499.3L623.5 500.0L629.0 502.5L633.5 504.3L637.5 505.3L642.0 505.8L650.5 505.9L664.5 505.9L679.5 506.0L699.0 505.6L709.5 505.4L713.5 505.5" fill="none" stroke="#000" stroke-width="2.9" stroke-linejoin="round"/>
<path d="M97.0 489.8L99.5 489.5L101.5 488.7L105.5 486.0L106.5 485.7L107.5 485.6L109.0 486.1L113.5 488.9L116.0 489.8L119.0 490.3L135.5 490.7L154.5 492.2L162.0 492.3L174.0 491.5L190.0 490.5L193.0 489.9L195.0 489.1L196.5 488.1L198.0 486.7L199.5 484.7L201.0 482.1L202.5 478.8L204.0 474.9L207.5 464.8L208.5 462.3L209.5 460.1L210.0 459.2L210.5 458.4L211.0 457.9L211.5 457.6L212.0 457.5L212.5 457.7L213.5 458.7L215.5 460.8L219.5 464.3L225.5 468.9L235.0 477.9L238.5 480.6L247.0 486.4L256.5 492.5L258.0 493.1L266.0 493.2L280.0 492.8L293.0 492.5L305.0 492.9L314.5 493.1L321.5 492.8L326.5 492.0L329.0 491.2L331.0 490.2L332.5 488.9L334.0 487.1L335.0 485.5L336.0 483.6L337.0 481.4L338.5 477.5L342.0 467.2L343.0 464.6L343.5 463.6L344.0 462.7L344.5 462.0L345.0 461.5L345.5 461.2L346.0 461.2L346.5 461.4L347.0 461.9L347.5 462.5L348.0 463.4L349.0 465.6L350.5 469.8L353.0 477.2L354.5 481.0L355.5 483.1L356.5 484.8L357.5 486.1L358.5 486.9L359.5 487.3L360.5 487.2L361.5 486.5L362.5 485.3L363.5 483.5L364.5 481.2L365.5 478.4L368.0 470.8L368.5 469.4L369.0 468.2L369.5 467.2L370.0 466.4L370.5 465.9L371.0 465.7L371.5 465.8L372.0 466.1L372.5 466.7L373.0 467.4L374.0 469.5L375.5 473.3L378.0 480.1L379.5 483.5L380.5 485.5L381.5 487.0L383.0 488.8L384.5 490.0L386.5 491.0L389.5 491.7L395.5 492.2L403.0 492.1L406.5 491.8L409.0 491.0L411.0 490.0L413.0 488.5L415.0 486.4L418.5 482.4L420.0 481.1L421.0 480.6L422.0 480.4L423.0 480.7L424.0 481.3L425.5 482.8L430.0 488.3L432.0 490.2L434.0 491.6L436.0 492.4L438.5 492.9L442.0 492.9L445.5 492.3L448.0 491.5L450.5 490.1L453.0 488.1L458.0 483.1L459.5 482.0L461.0 481.3L462.5 481.2L464.0 481.7L465.5 482.7L469.0 486.1L471.5 488.4L474.0 490.1L476.5 491.2L479.0 491.8L482.5 492.0L486.5 491.6L490.5 490.7L495.0 489.1L500.5 486.8L503.0 486.2L505.0 486.1L507.5 486.6L510.5 487.9L516.5 490.8L520.0 492.0L523.5 492.5L527.0 492.4L530.5 491.7L534.5 490.3L542.0 487.0L544.5 486.3L546.5 486.3L549.0 486.7L552.5 488.2L558.0 490.7L561.5 491.8L565.5 492.5L572.0 492.8L596.0 492.8L611.5 492.5L622.0 493.0L634.0 493.6L643.0 493.5L658.5 492.8L679.0 492.8L697.0 492.1L708.0 491.6L713.5 491.6" fill="none" stroke="#000" stroke-width="2.9" stroke-linejoin="round"/>
<path d="M97.0 477.8L115.0 478.2L135.0 477.7L146.0 478.1L157.0 478.5L166.5 478.2L173.5 477.6L177.5 476.8L180.5 475.8L183.0 474.5L185.5 472.6L188.0 470.2L190.5 467.2L193.5 462.9L198.0 456.1L200.0 453.4L201.5 451.8L203.0 450.6L204.0 450.1L205.0 450.0L205.5 450.1L206.5 450.8L212.5 458.4L214.5 460.7L216.5 462.4L226.5 469.3L236.5 478.4L239.0 480.2L240.5 480.8L244.0 480.9L261.0 480.5L278.0 480.4L295.0 479.9L312.5 480.1L319.0 479.7L323.5 479.0L326.0 478.1L328.0 477.0L329.5 475.6L331.0 473.7L332.0 472.1L333.0 470.1L334.0 467.7L335.0 465.0L336.5 460.3L340.0 448.1L341.0 445.0L341.5 443.7L342.0 442.5L342.5 441.6L343.0 440.9L343.5 440.4L344.0 440.1L344.5 440.2L345.0 440.5L345.5 441.0L346.0 441.8L346.5 442.9L347.0 444.1L348.0 447.0L349.5 452.1L351.5 459.2L353.0 464.0L354.0 466.9L355.0 469.3L356.0 471.4L357.0 473.1L358.0 474.4L359.5 475.8L361.0 476.5L362.5 476.6L364.0 476.0L365.5 474.8L367.5 472.5L369.5 470.1L370.5 469.3L371.5 469.0L372.5 469.2L373.5 469.8L375.0 471.2L378.5 475.0L380.5 476.6L382.5 477.7L385.0 478.4L389.0 478.8L397.5 478.7L404.0 478.2L407.0 477.5L409.0 476.7L411.0 475.4L412.5 473.9L414.0 472.0L415.5 469.7L418.0 465.1L420.0 461.3L421.0 459.7L422.0 458.5L423.0 457.7L424.0 457.4L425.0 457.7L426.0 458.6L427.0 459.8L428.5 462.2L432.5 469.7L434.0 472.1L435.5 474.1L437.0 475.7L438.5 476.9L440.5 478.0L443.0 478.7L447.0 479.1L458.0 479.0L464.0 478.6L468.0 477.8L471.5 476.7L476.0 474.5L480.0 472.4L482.5 471.6L484.5 471.4L486.5 471.6L489.5 472.7L497.0 476.2L501.0 477.5L506.0 478.5L512.0 479.0L517.0 478.9L521.0 478.3L524.5 477.3L528.5 475.6L534.0 472.9L536.5 472.2L538.5 472.1L541.0 472.5L544.0 473.8L550.0 476.7L553.5 477.9L557.5 478.7L562.5 479.0L569.0 478.7L574.5 477.9L579.5 476.6L586.5 474.5L589.5 474.1L592.5 474.2L596.5 475.2L603.0 477.0L608.5 477.9L633.0 479.6L641.5 479.7L661.0 478.8L681.5 478.5L694.0 478.3L704.5 478.8L713.5 479.3" fill="none" stroke="#000" stroke-width="2.9" stroke-linejoin="round"/>
<path d="M97.0 466.4L100.0 465.8L103.5 464.6L109.0 462.0L111.5 461.3L113.5 461.2L116.0 461.7L123.5 464.1L127.5 464.8L136.5 465.4L153.5 466.1L163.0 466.0L170.0 465.4L172.5 464.9L174.5 464.0L176.0 462.7L177.5 460.9L178.5 459.2L180.0 456.1L183.5 447.6L184.5 445.6L185.0 444.8L185.5 444.2L186.0 443.7L186.5 443.4L187.5 443.3L188.5 443.8L190.0 445.2L192.5 448.1L193.5 449.0L194.5 449.6L195.5 449.7L196.5 449.3L197.5 448.5L198.5 447.3L200.0 444.9L202.0 441.5L203.0 440.2L203.5 439.8L204.0 439.6L204.5 439.7L205.0 440.1L205.5 440.9L206.5 443.1L208.0 446.7L209.5 449.9L211.5 453.5L214.0 457.5L215.5 459.4L217.5 461.4L222.0 464.8L224.5 466.5L226.0 467.1L234.5 467.5L247.0 467.7L276.0 467.4L310.5 467.1L317.0 466.6L320.5 466.0L323.0 465.1L325.0 463.8L326.5 462.4L328.0 460.5L329.5 457.9L330.5 455.8L332.0 452.0L333.5 447.6L337.0 436.1L338.0 433.2L339.0 430.7L339.5 429.7L340.0 428.9L340.5 428.3L341.0 427.9L341.5 427.8L342.0 427.8L342.5 428.0L343.0 428.5L343.5 429.1L344.5 430.7L345.5 433.0L347.0 437.0L350.5 447.3L352.0 451.3L353.5 454.9L355.0 457.9L356.5 460.3L358.0 462.1L359.5 463.5L361.5 464.7L364.0 465.6L367.5 466.2L375.5 466.5L394.0 466.6L401.0 466.2L405.0 465.6L407.5 464.7L410.0 463.3L412.0 461.7L414.0 459.5L416.5 456.2L420.5 450.5L422.0 448.8L423.5 447.6L424.5 447.3L425.5 447.2L427.0 447.8L428.5 449.0L430.5 451.2L435.5 457.8L438.0 460.5L440.0 462.3L442.5 463.9L445.0 464.9L448.5 465.6L453.5 465.9L460.0 465.7L464.5 465.1L468.5 464.0L472.5 462.4L479.5 458.8L482.0 458.0L484.5 457.7L487.0 458.1L490.0 459.2L497.5 462.8L501.5 464.3L506.0 465.2L511.0 465.6L516.0 465.5L520.5 464.8L524.5 463.6L533.5 459.9L536.5 459.1L539.0 459.0L541.5 459.5L545.5 461.0L551.5 463.5L555.5 464.6L559.5 465.1L564.5 465.2L570.0 464.6L576.0 463.2L583.5 461.3L587.0 460.9L590.5 461.0L595.0 461.8L603.5 463.8L610.0 464.7L625.0 465.6L639.0 466.1L681.0 466.0L695.5 466.0L713.5 466.7" fill="none" stroke="#ff0000" stroke-width="3.8" stroke-linejoin="round"/>
<path d="M97.0 455.0L115.5 455.1L136.0 454.5L152.0 454.6L156.0 454.1L159.0 453.3L161.5 452.1L164.5 450.0L168.5 447.1L170.5 446.1L172.0 445.7L174.0 445.8L178.5 446.8L180.0 446.8L181.5 446.3L183.0 445.2L184.5 443.7L186.5 441.0L189.0 437.4L190.5 435.7L191.5 435.0L192.0 434.9L192.5 434.9L193.0 435.2L193.5 435.8L194.5 437.3L197.0 441.6L199.5 445.4L203.0 450.1L206.0 453.7L207.5 455.1L208.5 455.7L210.5 455.9L221.0 456.6L234.0 457.7L241.5 457.8L250.0 457.3L271.0 455.2L288.0 453.8L302.0 453.2L306.5 452.6L309.5 451.7L312.0 450.5L314.5 448.9L317.0 446.7L320.0 443.4L326.0 436.1L328.0 434.1L329.5 433.0L331.0 432.4L332.5 432.2L334.0 432.7L335.5 433.5L337.5 435.3L340.5 438.8L345.0 444.3L347.5 446.9L350.0 449.0L352.5 450.6L355.5 451.8L359.0 452.6L363.5 452.9L369.0 452.6L374.0 451.8L381.5 449.9L384.5 449.7L387.5 450.0L394.5 451.6L399.0 452.0L404.0 451.8L408.0 451.2L411.0 450.3L414.0 448.8L417.5 446.5L421.5 443.5L423.5 442.4L425.0 442.0L426.5 442.0L428.5 442.6L431.0 444.1L437.0 448.6L440.0 450.4L443.0 451.6L446.5 452.3L450.5 452.4L455.0 452.0L460.5 450.7L466.5 449.2L469.5 448.8L472.5 449.0L477.5 450.1L483.5 451.4L489.0 452.1L498.5 452.4L504.5 452.1L509.5 451.2L517.5 449.3L520.5 449.1L524.0 449.4L534.0 451.7L540.5 452.6L552.0 453.2L562.0 453.3L578.5 452.8L601.5 453.1L616.0 453.1L636.0 454.1L646.5 453.9L664.5 453.4L690.0 453.0L699.0 453.4L713.5 454.6" fill="none" stroke="#000" stroke-width="2.9" stroke-linejoin="round"/>
<path d="M97.0 443.4L110.0 443.4L120.0 442.8L132.0 441.8L139.5 441.8L148.5 442.0L151.5 441.7L154.0 440.9L156.5 439.5L161.5 435.8L163.0 435.0L164.5 434.7L166.0 434.7L170.0 435.8L171.5 435.8L173.0 435.5L174.5 434.5L176.0 433.1L180.5 427.7L182.0 426.3L183.0 426.0L183.5 426.1L184.0 426.4L184.5 427.0L185.5 428.6L188.5 434.1L191.5 438.9L194.0 442.4L195.5 444.1L196.5 444.8L198.0 445.2L219.0 446.7L231.5 447.7L238.0 447.7L245.5 447.0L277.0 442.3L287.5 441.2L299.0 440.3L303.5 439.5L307.0 438.3L310.5 436.5L316.0 432.9L319.5 430.7L322.0 429.7L324.0 429.4L326.0 429.6L328.5 430.5L332.0 432.5L338.0 436.4L342.0 438.3L346.0 439.7L350.5 440.6L356.5 441.1L364.0 441.1L371.5 440.5L376.0 439.6L379.5 438.5L383.0 436.7L388.0 433.8L390.0 433.0L392.0 432.7L394.0 433.0L396.5 434.0L402.5 437.2L405.5 438.3L408.5 439.0L412.0 439.2L416.0 438.8L420.5 437.7L426.5 436.1L429.5 435.8L432.0 436.1L435.5 437.1L441.5 439.1L445.5 440.0L450.5 440.4L458.5 440.3L464.5 439.7L469.5 438.6L477.0 436.5L480.0 436.1L483.0 436.3L488.0 437.5L494.5 439.2L501.0 440.2L511.5 441.1L520.0 441.3L541.0 440.5L565.5 440.6L582.0 440.6L597.5 440.7L613.5 440.5L634.5 441.4L644.0 441.1L658.0 440.4L683.0 440.4L696.0 440.3L713.5 441.2" fill="none" stroke="#000" stroke-width="2.9" stroke-linejoin="round"/>
<path d="M97.0 433.8L104.0 433.6L111.0 432.7L124.5 430.3L134.0 429.4L137.0 428.6L139.5 427.4L142.0 425.5L145.5 422.6L147.0 421.7L148.5 421.4L150.0 421.6L151.5 422.4L153.5 424.2L157.0 427.5L159.0 428.8L160.5 429.4L162.0 429.5L163.5 429.2L165.0 428.4L166.5 427.1L168.0 425.3L171.0 420.9L172.5 418.7L173.5 417.5L174.5 416.7L175.0 416.6L175.5 416.6L176.0 416.9L176.5 417.4L177.5 419.1L182.5 428.7L184.0 431.2L185.0 432.4L186.0 433.0L188.5 433.4L199.0 433.9L233.0 433.7L243.0 433.0L257.0 431.8L275.0 431.0L287.0 429.9L294.0 428.8L299.0 427.4L304.5 425.3L310.0 423.1L313.0 422.3L315.5 422.1L318.5 422.4L323.0 423.8L330.0 426.0L335.5 427.3L343.5 428.3L351.0 428.7L356.0 428.5L360.5 427.8L365.0 426.4L374.5 422.4L377.5 421.6L380.5 421.3L384.5 421.7L390.0 422.4L394.0 422.3L400.0 421.7L403.0 421.9L406.0 422.7L415.0 426.2L419.5 427.4L425.5 428.4L434.0 429.0L441.0 429.1L446.5 428.6L451.5 427.6L457.5 425.8L463.5 423.9L467.0 423.2L470.0 423.2L474.0 423.9L483.0 426.0L489.0 426.9L512.0 428.5L520.5 428.5L537.5 427.8L550.5 428.1L561.5 428.2L581.5 427.5L616.0 427.7L633.5 428.3L644.5 428.0L658.5 427.4L679.0 427.4L692.0 427.2L701.0 427.6L713.5 428.7" fill="none" stroke="#000" stroke-width="2.9" stroke-linejoin="round"/>
<path d="M97.0 421.6L99.0 421.2L100.0 420.6L101.0 419.7L104.5 415.4L107.5 412.3L109.0 411.1L110.5 410.4L111.5 410.2L113.0 410.7L115.0 412.0L118.5 414.7L120.5 415.7L122.5 416.3L124.5 416.3L126.5 415.8L129.0 414.5L134.5 410.9L136.5 410.1L138.0 409.9L140.0 410.2L146.5 412.6L149.5 413.2L152.0 413.2L154.0 412.8L156.0 412.0L157.5 410.9L159.0 409.5L161.0 407.1L164.0 403.1L165.5 401.5L166.5 400.8L167.5 400.7L168.0 400.8L169.0 401.7L170.5 403.6L172.0 406.0L176.5 414.5L177.5 415.9L178.5 416.6L181.5 417.2L190.5 418.6L197.0 419.0L211.5 418.9L220.0 419.4L234.0 420.7L241.5 420.9L252.0 420.3L273.0 418.7L279.5 417.7L285.5 416.2L294.0 413.5L297.5 412.9L300.5 412.8L304.5 413.3L314.0 415.6L319.5 416.3L327.0 416.5L340.0 416.7L352.5 417.1L358.5 416.7L364.0 415.9L369.5 414.4L375.5 412.2L384.5 408.5L388.5 407.3L391.5 407.0L394.0 407.1L396.5 407.8L401.0 409.8L406.5 412.3L411.0 413.8L416.5 414.8L429.5 416.1L439.5 416.6L451.5 416.5L480.5 415.8L493.5 415.5L515.0 416.1L527.5 415.7L538.0 415.4L557.0 415.8L570.0 415.2L581.5 414.9L606.5 415.0L618.5 415.2L635.5 416.0L645.5 415.9L666.5 415.1L689.5 414.4L698.0 414.7L713.5 415.9" fill="none" stroke="#000" stroke-width="2.9" stroke-linejoin="round"/>
<path d="M97.0 404.3L101.0 403.9L104.0 403.1L109.0 401.3L111.0 401.1L113.0 401.4L119.0 403.7L122.0 404.3L126.0 404.4L132.0 403.8L137.0 402.8L141.0 401.4L144.5 399.6L149.0 396.7L153.5 393.6L156.0 392.3L158.0 391.7L160.0 391.6L162.0 392.1L164.5 393.4L170.5 397.5L173.5 399.1L176.5 400.1L180.5 400.8L192.5 402.4L200.0 403.4L208.0 403.7L212.0 404.6L221.0 407.3L224.5 407.9L233.0 408.3L240.5 408.1L254.0 406.7L282.5 403.9L292.5 403.1L300.0 403.0L314.5 403.4L324.5 403.1L338.5 402.3L355.5 402.1L362.5 401.5L370.0 400.3L382.0 397.5L392.0 395.2L397.5 394.4L401.5 394.3L405.0 394.8L409.5 396.2L419.0 399.7L425.0 401.4L431.0 402.4L437.5 402.8L446.0 402.7L460.5 402.2L481.0 402.2L495.5 401.9L517.5 402.7L531.5 402.4L545.5 402.3L562.5 402.2L577.0 402.0L595.5 402.4L614.0 402.1L626.0 402.7L636.0 403.0L645.0 402.7L659.5 401.9L675.0 401.8L694.5 401.9L713.5 402.9" fill="none" stroke="#000" stroke-width="2.9" stroke-linejoin="round"/>
<path d="M97.0 387.3L101.0 387.5L104.5 388.2L109.5 390.1L115.5 392.3L119.0 393.2L122.0 393.4L127.0 393.0L130.5 392.2L133.0 391.1L134.5 390.1L136.0 388.7L137.5 386.8L139.0 384.4L142.5 378.0L143.5 376.4L144.5 375.2L145.5 374.5L146.5 374.3L147.5 374.8L148.5 375.7L150.0 377.6L153.5 382.8L155.0 384.7L156.5 386.3L158.0 387.4L160.0 388.3L162.5 389.0L173.0 390.0L184.5 391.8L189.5 392.1L198.5 392.2L209.0 393.0L224.5 394.6L232.5 394.9L239.5 394.5L259.0 392.3L270.5 391.6L288.0 390.9L301.0 390.4L318.5 390.2L335.5 389.4L349.0 389.4L357.0 388.8L369.5 387.0L380.0 385.6L405.5 382.9L412.0 382.7L418.0 383.1L422.5 383.9L431.5 386.5L438.0 388.2L444.0 389.2L451.0 389.7L476.5 389.8L495.0 389.3L506.5 389.7L519.0 390.2L555.5 389.8L565.0 389.2L572.5 388.2L582.5 386.2L586.0 386.0L590.0 386.3L599.0 387.9L605.5 388.4L618.5 389.0L634.0 390.2L642.0 390.2L663.5 389.1L691.5 388.7L703.5 389.2L713.5 389.8" fill="none" stroke="#000" stroke-width="2.9" stroke-linejoin="round"/>
<path d="M97.0 363.4L101.5 363.6L109.0 364.6L116.0 364.6L119.0 364.2L121.5 363.4L123.5 362.2L125.5 360.6L130.5 355.7L132.0 354.6L133.5 354.1L135.0 354.4L136.5 355.2L138.5 357.0L143.0 361.9L145.5 364.1L147.5 365.4L150.0 366.4L152.5 366.9L155.5 366.9L162.0 366.1L180.0 366.0L210.5 366.9L231.0 368.6L239.0 368.6L259.0 367.5L280.5 367.2L295.5 366.8L316.5 367.3L328.5 366.8L342.0 366.3L362.5 366.1L372.5 365.2L398.5 362.3L408.5 360.6L417.0 359.2L422.0 358.9L426.5 359.1L431.5 360.0L440.0 362.1L444.0 362.6L447.0 362.5L449.5 361.9L452.0 360.7L457.5 357.0L459.0 356.4L460.5 356.4L462.5 356.9L465.0 358.1L470.5 361.4L474.0 362.9L477.5 363.7L482.5 364.3L505.5 364.7L519.0 364.9L539.5 364.6L557.0 364.7L576.0 364.2L591.5 364.3L598.0 363.9L608.5 362.6L613.0 362.6L620.0 363.5L630.5 364.9L638.5 365.5L648.0 365.4L663.5 365.0L694.0 365.4L706.0 365.8L708.5 365.4L710.0 364.9L711.5 363.8L713.5 361.9" fill="none" stroke="#000" stroke-width="2.9" stroke-linejoin="round"/>
<path d="M97.0 350.1L101.5 348.7L108.0 345.9L112.0 344.3L114.5 343.7L117.0 343.6L120.0 344.2L123.5 345.6L135.0 351.6L139.5 353.5L144.5 355.0L149.5 355.8L154.0 356.1L157.5 355.7L165.0 354.1L171.5 353.7L180.5 353.7L202.0 354.8L217.5 355.4L234.0 356.4L242.5 356.4L265.5 355.2L291.5 354.5L305.5 354.8L315.5 354.9L336.0 353.9L357.0 354.0L378.5 352.9L389.5 352.5L398.5 351.6L414.5 349.4L439.0 347.5L444.5 347.5L451.5 348.3L458.0 349.1L461.0 349.0L463.5 348.5L466.0 347.4L469.5 345.0L471.5 343.7L473.0 343.1L474.5 343.0L476.5 343.5L479.5 345.1L484.5 348.1L488.0 349.6L492.0 350.6L499.5 351.6L511.5 352.5L520.0 352.6L537.0 352.0L558.5 352.4L582.0 351.5L604.5 351.3L616.5 351.3L636.0 352.0L645.5 351.8L675.5 349.8L690.0 348.6L698.0 348.5L713.5 349.5" fill="none" stroke="#000" stroke-width="2.9" stroke-linejoin="round"/>
<path d="M97.0 336.9L101.5 335.7L106.0 333.8L114.5 329.5L117.5 328.4L120.0 328.1L122.5 328.4L125.0 329.4L128.0 331.0L137.5 337.6L141.5 339.9L145.5 341.6L149.5 342.7L153.5 343.4L155.5 343.2L158.0 342.5L163.5 340.0L166.0 339.4L175.5 339.3L187.0 339.9L211.5 341.9L227.5 343.6L236.0 344.0L245.0 343.6L259.0 342.8L278.0 342.4L295.5 341.4L306.5 341.5L320.0 341.7L341.0 341.3L359.0 341.3L383.0 340.5L398.0 340.1L418.0 338.8L430.0 338.4L436.0 337.7L443.0 336.2L450.0 334.5L454.0 334.0L458.0 334.1L463.5 335.0L472.0 336.6L476.5 337.0L479.5 336.8L482.0 336.1L484.0 335.1L486.0 333.5L488.5 330.9L491.0 328.2L492.5 327.0L493.5 326.7L494.5 326.7L496.0 327.3L497.5 328.6L502.5 333.7L505.0 335.9L507.5 337.4L510.5 338.6L514.5 339.4L521.0 340.0L539.0 340.4L554.0 340.5L575.5 339.6L596.0 339.7L613.5 339.1L622.5 339.5L635.5 340.3L643.5 340.3L667.0 338.5L689.0 337.6L700.0 337.7L713.5 338.3" fill="none" stroke="#000" stroke-width="2.9" stroke-linejoin="round"/>
<path d="M97.0 313.4L112.0 313.3L115.5 312.8L117.5 312.2L119.5 311.1L121.0 309.7L122.5 307.9L124.0 305.6L125.5 302.7L128.5 296.6L129.5 294.9L130.5 293.6L131.0 293.2L131.5 293.0L132.0 292.9L132.5 293.0L133.0 293.3L134.0 294.5L135.0 296.1L136.5 299.2L139.0 304.6L140.5 307.4L142.0 309.8L143.5 311.6L145.0 313.0L147.0 314.2L149.5 315.0L152.5 315.5L155.5 315.3L158.5 314.6L163.0 313.1L165.0 312.8L167.0 313.1L173.5 315.1L177.5 315.7L190.5 316.0L213.0 316.0L224.0 316.7L236.5 317.5L246.0 317.5L265.0 316.9L285.0 316.5L298.5 316.3L315.0 316.4L334.5 315.8L345.5 316.2L357.0 316.6L369.0 316.2L381.5 315.8L399.5 315.8L418.0 315.2L438.5 315.4L457.0 314.6L467.0 313.7L474.0 312.6L486.0 310.1L490.5 309.6L494.0 309.7L498.0 310.5L507.0 313.1L511.0 313.7L514.5 313.9L517.5 313.5L520.0 312.7L522.0 311.6L523.5 310.3L525.0 308.4L526.5 305.8L528.0 302.5L531.0 294.7L531.5 293.5L532.0 292.6L532.5 291.8L533.0 291.3L533.5 291.0L534.0 291.1L534.5 291.4L535.0 292.0L535.5 292.8L536.5 294.8L539.5 302.0L541.0 305.1L542.5 307.6L544.0 309.6L545.5 311.0L547.5 312.3L549.5 313.1L552.0 313.5L554.5 313.4L557.5 312.8L562.0 311.4L564.0 311.2L566.5 311.5L575.0 314.0L579.5 314.7L589.0 315.3L601.5 315.3L616.5 315.1L637.5 315.8L646.5 315.5L673.5 313.4L689.5 311.8L697.0 311.6L707.0 312.1L713.5 312.5" fill="none" stroke="#000" stroke-width="2.9" stroke-linejoin="round"/>
<path d="M97.0 287.2L108.0 286.9L112.0 287.5L116.5 288.2L120.0 288.1L123.0 287.6L125.5 286.7L127.5 285.5L129.0 284.0L130.0 282.7L131.0 281.0L132.0 279.0L133.0 276.4L134.0 273.4L135.0 269.9L137.5 260.4L138.0 258.6L138.5 257.1L139.0 255.7L139.5 254.7L140.0 254.1L140.5 253.9L141.0 254.1L141.5 254.7L142.0 255.6L142.5 256.7L143.0 258.1L144.0 261.5L146.5 270.4L147.5 273.6L148.5 276.4L149.5 278.8L150.5 280.8L151.5 282.4L152.5 283.6L154.0 284.9L155.5 285.7L157.5 286.1L160.0 285.9L165.0 285.1L167.5 285.1L171.0 285.7L180.5 288.7L185.5 289.6L192.5 290.2L213.5 290.9L233.0 292.3L242.5 292.4L259.5 292.0L275.5 292.0L296.5 291.0L308.5 291.2L321.0 291.3L338.0 291.1L359.0 291.6L399.5 290.5L411.5 290.2L421.0 290.6L433.5 291.5L441.5 291.4L460.0 290.4L483.0 290.0L497.5 289.7L507.0 289.5L512.0 289.0L517.5 287.7L524.5 285.9L528.0 285.4L531.0 285.7L535.5 286.8L541.0 288.4L545.0 289.0L549.0 289.1L553.0 288.6L556.5 287.6L559.0 286.4L560.5 285.3L562.0 283.8L563.0 282.4L564.0 280.6L565.0 278.4L566.0 275.6L567.0 272.1L568.0 268.1L569.0 263.5L570.5 256.3L571.0 254.2L571.5 252.3L572.0 250.8L572.5 249.9L573.0 249.6L573.5 249.9L574.0 250.6L574.5 251.9L575.0 253.5L575.5 255.4L577.0 261.9L578.0 266.3L579.0 270.2L580.0 273.7L581.0 276.6L582.0 279.0L583.0 281.0L584.0 282.6L585.5 284.4L587.0 285.8L589.0 287.0L591.5 288.0L594.5 288.6L597.5 288.8L600.5 288.4L603.5 287.5L609.0 285.2L611.0 284.8L613.0 284.9L615.5 285.7L623.5 289.7L627.0 291.0L631.0 291.9L636.0 292.4L642.0 292.4L650.5 291.7L667.0 289.9L690.0 288.0L699.0 287.8L713.5 288.4" fill="none" stroke="#000" stroke-width="2.9" stroke-linejoin="round"/>
<path d="M97.0 261.2L103.5 260.6L109.0 259.8L111.5 259.9L114.5 260.8L119.0 262.3L122.0 262.8L125.5 262.8L129.0 262.4L132.5 261.4L135.0 260.3L136.5 259.2L138.0 257.6L139.0 256.2L140.0 254.5L141.0 252.2L142.0 249.5L143.0 246.2L144.0 242.4L145.5 236.0L146.5 231.7L147.0 229.6L147.5 227.8L148.0 226.2L148.5 225.0L149.0 224.3L149.5 224.0L150.0 224.3L150.5 225.0L151.0 226.0L151.5 227.4L152.0 229.1L153.0 233.0L155.0 241.1L156.0 244.9L157.0 248.2L158.0 251.0L159.0 253.3L160.0 255.2L161.0 256.6L162.5 258.2L164.0 259.2L166.0 259.9L172.5 260.8L177.5 262.1L185.0 264.3L190.0 265.3L196.0 265.8L215.5 266.1L235.5 267.4L244.5 267.4L261.5 266.7L285.5 266.6L300.0 266.6L316.5 266.8L335.5 266.5L355.5 267.0L368.0 266.6L380.0 266.2L398.5 266.3L414.0 265.9L424.0 266.4L436.5 267.2L445.5 267.1L467.5 266.3L492.0 265.8L513.5 266.4L522.0 266.1L551.5 263.2L568.0 261.2L577.5 260.7L586.0 260.4L590.0 259.7L593.0 258.8L595.0 257.8L597.0 256.2L598.5 254.6L599.5 253.1L600.5 251.3L601.5 249.0L602.0 247.6L602.5 246.0L603.0 244.3L603.5 242.4L604.0 240.3L604.5 237.9L605.0 235.3L605.5 232.4L606.0 229.3L606.5 226.0L607.5 218.7L608.5 211.4L609.0 208.0L609.5 205.0L610.0 202.7L610.5 201.3L611.0 200.8L611.5 201.3L612.0 202.7L612.5 205.0L613.0 208.0L613.5 211.4L615.0 222.4L615.5 226.0L616.0 229.4L616.5 232.5L617.0 235.3L617.5 238.0L618.0 240.4L618.5 242.5L619.0 244.5L619.5 246.2L620.0 247.8L621.0 250.4L622.0 252.5L623.0 254.2L624.5 256.2L626.0 257.7L628.0 259.2L630.5 260.5L634.0 261.8L638.0 262.6L643.0 262.9L647.0 262.6L650.5 261.9L656.0 260.2L658.0 260.1L660.0 260.4L662.5 261.4L669.0 265.0L672.0 266.2L675.5 267.0L678.5 267.1L682.0 266.7L686.5 265.6L699.0 261.2L704.0 260.0L708.5 259.5L713.5 259.6" fill="none" stroke="#000" stroke-width="2.9" stroke-linejoin="round"/>
<path d="M97.0 237.9L101.5 237.5L107.5 236.0L109.5 235.9L112.5 236.5L117.5 237.8L121.5 238.1L128.5 238.0L139.5 237.2L143.5 236.5L146.0 235.6L147.5 234.8L149.0 233.5L150.5 231.6L151.5 229.9L152.5 227.8L153.5 225.2L154.5 222.2L155.5 218.8L157.5 211.3L158.0 209.5L158.5 207.9L159.0 206.6L159.5 205.5L160.0 204.9L160.5 204.6L161.0 204.8L161.5 205.4L162.0 206.3L162.5 207.4L163.0 208.8L164.0 212.0L166.0 218.9L167.0 222.0L168.0 224.7L169.0 227.0L170.0 228.9L171.0 230.5L172.5 232.3L174.0 233.5L176.5 234.8L183.0 237.1L189.5 239.0L195.0 240.0L202.0 240.6L217.5 241.4L233.0 242.6L241.0 242.6L261.5 241.6L295.5 241.4L316.0 242.1L338.0 241.7L356.0 242.0L378.0 241.2L398.5 241.3L414.0 241.0L424.5 241.4L436.5 242.1L446.0 241.9L463.5 241.3L495.0 240.7L515.0 241.1L536.0 240.5L554.5 240.9L563.0 240.5L577.5 238.8L603.5 235.4L611.5 235.0L620.5 234.6L625.0 234.0L628.0 233.1L630.5 231.9L632.5 230.5L634.0 229.0L635.5 227.0L636.5 225.3L637.5 223.1L638.5 220.4L639.0 218.8L639.5 217.1L640.0 215.1L640.5 212.8L641.0 210.4L641.5 207.6L642.0 204.5L642.5 201.1L643.0 197.3L643.5 193.2L644.0 188.7L644.5 183.9L645.0 178.7L646.5 162.8L647.0 157.9L647.5 153.6L648.0 150.3L648.5 148.2L649.0 147.4L649.5 148.1L650.0 150.2L650.5 153.4L651.0 157.6L651.5 162.5L653.0 178.2L653.5 183.2L654.0 188.0L654.5 192.4L655.0 196.5L655.5 200.2L656.0 203.6L656.5 206.6L657.0 209.4L657.5 211.8L658.0 214.0L658.5 216.0L659.0 217.7L659.5 219.2L660.5 221.9L661.5 224.0L662.5 225.7L664.0 227.7L665.5 229.2L667.5 230.7L670.0 232.1L673.5 233.3L678.0 234.2L684.5 234.7L692.5 234.7L697.5 234.2L705.5 232.6L708.0 232.5L711.0 233.0L713.5 233.8" fill="none" stroke="#000" stroke-width="2.9" stroke-linejoin="round"/>
<path d="M97.0 212.6L102.0 211.9L106.0 211.3L109.0 211.5L116.5 212.8L122.5 213.1L146.5 213.0L151.0 212.5L154.5 211.7L157.0 210.6L158.5 209.5L160.0 207.9L161.0 206.5L162.0 204.6L163.0 202.3L164.0 199.4L164.5 197.7L165.0 195.9L165.5 193.8L166.0 191.6L167.0 186.7L168.0 181.3L169.5 172.7L170.0 170.1L170.5 167.7L171.0 165.7L171.5 164.1L172.0 163.2L172.5 162.8L173.0 163.1L173.5 163.9L174.0 165.3L174.5 167.0L175.0 169.1L175.5 171.5L178.0 184.4L179.0 189.2L180.0 193.5L181.0 197.2L182.0 200.3L183.0 202.9L184.0 205.0L185.0 206.7L186.5 208.6L188.0 210.1L190.0 211.4L193.0 212.6L197.0 213.6L203.0 214.4L220.0 215.8L234.5 217.2L243.0 217.5L267.5 216.9L295.0 216.5L315.5 216.9L336.0 216.5L355.5 217.0L367.5 216.5L379.0 216.1L401.0 216.4L416.5 216.4L436.0 217.2L445.5 217.0L464.0 216.1L489.0 215.6L499.5 216.0L513.0 216.8L522.0 216.6L537.0 216.0L558.0 216.2L579.0 215.4L590.5 215.1L598.0 214.5L605.5 213.2L616.5 210.8L621.5 210.2L626.5 210.2L637.5 211.2L643.5 211.1L650.0 210.4L656.0 209.2L660.0 207.9L663.0 206.5L665.5 204.9L667.5 203.0L669.0 201.2L670.5 198.8L671.5 196.7L672.5 194.1L673.0 192.6L673.5 190.9L674.0 189.0L674.5 186.9L675.0 184.6L675.5 181.9L676.0 179.0L676.5 175.7L677.0 172.0L677.5 167.9L678.0 163.4L678.5 158.5L679.0 153.2L679.5 147.4L680.0 141.4L681.5 122.4L682.0 116.6L682.5 111.5L683.0 107.6L683.5 105.1L684.0 104.2L684.5 105.0L685.0 107.5L685.5 111.5L686.0 116.5L686.5 122.3L688.0 141.2L688.5 147.2L689.0 153.0L689.5 158.3L690.0 163.2L690.5 167.7L691.0 171.7L691.5 175.4L692.0 178.7L692.5 181.6L693.0 184.3L693.5 186.6L694.0 188.8L694.5 190.7L695.0 192.4L696.0 195.2L697.0 197.6L698.0 199.5L699.5 201.8L701.0 203.6L703.0 205.4L705.5 207.1L708.5 208.7L712.5 210.0L713.5 210.3" fill="none" stroke="#000" stroke-width="2.9" stroke-linejoin="round"/>
<path d="M97.0 189.1L101.5 188.8L105.0 188.0L109.5 186.6L112.5 186.3L123.0 186.8L135.0 186.6L143.0 187.1L152.0 187.9L157.0 187.8L161.0 187.2L164.0 186.3L166.0 185.3L167.5 184.2L169.0 182.7L170.0 181.3L171.0 179.6L172.0 177.3L173.0 174.6L174.0 171.3L175.0 167.5L176.0 163.1L178.0 153.6L178.5 151.4L179.0 149.4L179.5 147.7L180.0 146.4L180.5 145.6L181.0 145.3L181.5 145.6L182.0 146.3L182.5 147.4L183.0 148.9L183.5 150.7L184.5 154.9L186.5 163.7L187.5 167.8L188.5 171.4L189.5 174.5L190.5 177.1L191.5 179.3L192.5 181.0L193.5 182.3L195.0 183.7L196.5 184.6L198.5 185.2L203.0 185.9L208.0 187.6L213.5 189.4L218.5 190.6L226.0 191.4L236.0 191.9L258.5 191.9L274.5 192.2L295.0 191.6L306.0 191.9L317.0 192.3L330.0 192.0L340.5 191.9L360.0 192.5L373.5 192.2L406.5 191.3L416.0 191.6L432.5 192.8L441.0 192.8L459.5 191.9L477.0 191.6L494.0 190.7L502.5 190.9L519.0 191.7L531.5 191.6L550.0 191.4L565.5 191.1L582.5 190.7L597.5 190.4L622.0 188.8L630.0 188.0L636.5 186.8L643.5 184.8L655.5 180.9L661.5 179.5L667.0 178.8L675.5 178.6L685.5 178.4L690.0 177.9L693.5 177.1L696.0 176.0L698.0 174.6L699.5 173.2L701.0 171.4L702.0 169.8L703.0 167.9L704.0 165.5L705.0 162.6L705.5 160.8L706.0 158.9L706.5 156.8L707.0 154.4L707.5 151.7L708.0 148.7L708.5 145.4L709.0 141.6L709.5 137.5L710.0 132.9L710.5 127.8L711.0 122.2L711.5 116.1L712.0 109.6L713.5 88.9" fill="none" stroke="#000" stroke-width="2.9" stroke-linejoin="round"/>
<path d="M97.0 164.9L100.0 164.6L102.5 163.9L106.0 162.4L107.5 162.3L110.0 162.7L114.0 163.8L117.5 164.1L131.5 163.5L140.5 163.8L152.0 164.4L158.5 164.2L165.5 163.3L170.5 162.2L173.5 161.1L175.5 160.0L177.0 158.8L178.5 157.1L179.5 155.7L180.5 153.8L181.5 151.6L182.5 148.8L183.5 145.5L184.5 141.8L185.5 137.5L188.0 125.9L188.5 123.8L189.0 121.9L189.5 120.3L190.0 119.2L190.5 118.4L191.0 118.2L191.5 118.4L192.0 119.1L192.5 120.1L193.0 121.5L193.5 123.2L194.5 127.1L197.0 137.8L198.0 141.6L199.0 145.0L200.0 148.0L201.0 150.4L202.0 152.5L203.0 154.1L204.5 156.0L206.5 157.9L209.0 159.6L213.5 162.0L218.5 164.1L223.5 165.5L229.5 166.6L237.0 167.2L245.0 167.3L263.0 166.8L297.0 166.7L316.0 167.3L336.0 167.1L355.5 167.7L366.5 167.4L380.0 166.9L399.5 166.8L414.0 166.5L424.0 166.9L437.0 167.6L447.0 167.5L469.0 166.8L493.5 166.0L515.5 166.5L536.5 165.8L557.5 166.1L579.0 165.4L601.0 165.5L619.0 165.1L635.5 165.2L644.0 164.7L652.0 163.7L658.5 162.3L663.5 160.7L668.0 158.8L672.0 156.5L676.0 153.6L681.0 149.5L690.5 140.8L694.5 137.7L697.5 135.9L700.5 134.6L703.0 134.0L705.5 133.9L710.5 134.5L713.5 135.2" fill="none" stroke="#000" stroke-width="2.9" stroke-linejoin="round"/>
</g>
<clipPath id="clipb"><rect x="834.9" y="77.4" width="613.4" height="530.2"/></clipPath>
<g clip-path="url(#clipb)">
<path d="M857.9 591.0L857.9 591.0L872.9 590.9L881.4 591.0L881.4 591.0ZM917.4 591.0L917.4 591.0L930.9 591.0L930.9 591.0ZM936.9 591.0L936.9 591.0L955.4 591.0L955.4 591.0ZM999.4 591.0L999.4 591.0L1016.9 591.0L1019.4 591.0L1019.4 591.0ZM1051.9 591.0L1051.9 591.0L1067.9 590.9L1072.4 591.0L1072.4 591.0ZM1112.4 591.0L1112.4 591.0L1130.9 591.0L1130.9 591.0ZM1133.4 591.0L1133.4 591.0L1152.9 591.0L1152.9 591.0ZM1191.4 591.0L1191.4 591.0L1206.4 590.9L1213.4 591.0L1213.4 591.0ZM1251.4 591.0L1251.4 591.0L1266.9 591.0L1266.9 591.0ZM1305.9 591.0L1305.9 591.0L1315.4 591.0L1315.4 591.0ZM1333.4 591.0L1333.4 591.0L1349.4 591.0L1349.9 591.0L1349.9 591.0ZM1385.9 591.0L1385.9 591.0L1404.4 590.9L1407.4 591.0L1407.4 591.0ZM1446.9 591.0L1446.9 591.0L1449.9 591.0L1449.9 591.0Z" fill="#bfbfbf"/>
<path d="M858.4 567.8L858.4 567.8L876.9 567.8L879.4 567.8L879.4 567.8ZM883.9 567.8L883.9 567.8L893.9 567.8L893.9 567.8ZM916.4 567.8L916.4 567.8L929.9 567.8L929.9 567.8ZM967.9 567.8L967.9 567.8L978.4 567.8L978.4 567.8ZM995.4 567.8L995.4 567.8L1014.4 567.4L1023.9 566.9L1030.4 567.2L1039.4 567.8L1039.4 567.8ZM1052.9 567.8L1052.9 567.8L1070.4 567.7L1083.4 567.8L1083.4 567.8ZM1114.9 567.8L1114.9 567.8L1119.4 567.8L1119.4 567.8ZM1135.9 567.8L1135.9 567.8L1152.4 567.7L1156.9 567.8L1156.9 567.8ZM1193.4 567.8L1193.4 567.8L1211.9 567.8L1213.4 567.8L1213.4 567.8ZM1248.4 567.8L1248.4 567.8L1263.4 567.7L1267.4 567.8L1267.4 567.8ZM1327.4 567.8L1327.4 567.8L1346.4 567.7L1349.9 567.8L1349.9 567.8ZM1388.9 567.8L1388.9 567.8L1403.9 567.7L1410.4 567.8L1410.4 567.8Z" fill="#bfbfbf"/>
<path d="M854.9 544.0L854.9 544.0L868.9 543.7L889.4 544.0L889.4 544.0ZM913.9 544.0L913.9 544.0L922.4 543.7L930.4 544.0L930.4 544.0ZM943.9 544.0L943.9 544.0L954.9 543.8L965.4 544.0L965.4 544.0ZM996.9 544.0L996.9 544.0L1008.9 543.8L1018.4 543.8L1023.4 543.2L1031.9 541.5L1034.4 541.4L1037.4 541.8L1043.9 543.4L1047.9 543.9L1053.9 543.8L1063.4 543.5L1074.9 544.0L1074.9 544.0ZM1110.4 544.0L1110.4 544.0L1121.4 544.0L1121.4 544.0ZM1130.4 544.0L1130.4 544.0L1144.4 543.6L1154.4 544.0L1154.4 544.0ZM1166.4 544.0L1166.4 544.0L1177.9 543.5L1191.4 543.9L1205.9 543.5L1221.9 544.0L1221.9 544.0ZM1248.4 544.0L1248.4 544.0L1257.9 543.8L1262.9 544.0L1262.9 544.0ZM1276.4 544.0L1276.4 544.0L1286.4 543.8L1293.4 544.0L1293.4 544.0ZM1310.9 544.0L1310.9 544.0L1320.9 544.0L1320.9 544.0ZM1331.9 544.0L1331.9 544.0L1345.4 543.8L1352.9 544.0L1352.9 544.0ZM1385.4 544.0L1385.4 544.0L1395.4 543.4L1402.9 543.6L1408.9 544.0L1408.9 544.0Z" fill="#bfbfbf"/>
<path d="M832.9 520.8L832.9 520.7L836.9 520.8L836.9 520.8ZM857.4 520.8L857.4 520.8L866.4 520.4L879.9 520.8L879.9 520.8ZM919.4 520.8L919.4 520.8L930.9 520.8L930.9 520.8ZM934.4 520.8L934.4 520.8L950.9 520.6L957.9 520.8L957.9 520.8ZM966.4 520.8L966.4 520.8L977.9 520.7L979.4 520.8L979.4 520.8ZM998.4 520.8L998.4 520.8L1008.4 520.3L1026.4 520.6L1031.9 520.2L1035.4 519.5L1038.4 518.3L1043.4 515.6L1045.4 515.1L1046.9 515.1L1048.9 515.7L1054.9 518.5L1057.9 519.4L1062.4 520.0L1074.4 520.6L1090.9 520.8L1090.9 520.8ZM1111.9 520.8L1111.9 520.8L1120.9 520.6L1134.9 520.7L1148.4 520.5L1158.4 520.8L1158.4 520.8ZM1179.4 520.8L1179.4 520.8L1185.9 519.9L1191.9 519.1L1196.4 519.1L1212.4 520.6L1218.9 520.8L1218.9 520.8ZM1250.9 520.8L1250.9 520.8L1260.4 520.5L1272.9 520.8L1272.9 520.8ZM1305.9 520.8L1305.9 520.8L1314.4 520.8L1314.4 520.8ZM1329.4 520.8L1329.4 520.8L1340.4 520.4L1349.4 520.8L1349.4 520.8ZM1384.9 520.8L1384.9 520.8L1398.4 520.4L1410.9 520.8L1410.9 520.8ZM1443.9 520.8L1443.9 520.8L1449.9 520.6L1449.9 520.8Z" fill="#bfbfbf"/>
<path d="M856.4 497.6L856.4 497.6L867.9 497.1L887.4 497.6L887.4 497.6ZM913.4 497.6L913.4 497.6L921.9 497.3L932.9 497.6L932.9 497.6ZM941.9 497.6L941.9 497.6L953.4 497.5L957.4 497.6L957.4 497.6ZM975.4 497.6L975.4 497.6L997.9 497.4L1009.9 497.4L1016.4 497.6L1016.4 497.6ZM1022.4 497.6L1022.4 497.6L1041.4 497.3L1044.9 496.9L1047.4 496.1L1049.9 494.9L1051.9 493.3L1054.9 490.4L1057.4 487.9L1058.9 486.9L1059.9 486.5L1060.9 486.5L1062.4 487.1L1063.9 488.3L1068.4 492.7L1070.9 494.7L1073.4 496.0L1076.4 496.9L1080.9 497.4L1088.4 497.6L1088.4 497.6ZM1105.9 497.6L1105.9 497.6L1120.4 497.4L1134.9 497.4L1146.4 497.4L1152.4 497.6L1152.4 497.6ZM1166.9 497.6L1166.9 497.6L1176.4 497.6L1176.4 497.6ZM1186.9 497.6L1186.9 497.6L1191.9 497.0L1201.4 495.0L1204.4 494.9L1207.9 495.2L1216.4 496.9L1221.9 497.5L1226.9 497.6L1226.9 497.6ZM1242.4 497.6L1242.4 497.6L1256.4 497.4L1261.4 497.6L1261.4 497.6ZM1279.4 497.6L1279.4 497.6L1288.9 497.5L1293.4 497.6L1293.4 497.6ZM1304.9 497.6L1304.9 497.6L1315.9 497.5L1319.9 497.6L1319.9 497.6ZM1335.9 497.6L1335.9 497.6L1346.9 497.4L1355.9 497.6L1355.9 497.6ZM1386.9 497.6L1386.9 497.6L1396.4 497.2L1408.4 497.6L1408.4 497.6ZM1417.4 497.6L1417.4 497.6L1428.4 497.5L1430.9 497.6L1430.9 497.6Z" fill="#bfbfbf"/>
<path d="M857.4 474.4L857.4 474.4L866.4 473.9L875.9 474.1L882.4 474.4L882.4 474.4ZM912.9 474.4L912.9 474.4L923.4 474.2L935.9 474.4L935.9 474.4ZM938.4 474.4L938.4 474.4L949.9 474.4L949.9 474.4ZM969.9 474.4L969.9 474.4L979.9 474.2L988.4 474.4L988.4 474.4ZM992.9 474.4L992.9 474.4L1007.9 474.0L1018.9 474.4L1018.9 474.4ZM1041.4 474.4L1041.4 474.4L1050.9 473.8L1061.9 472.6L1064.9 471.9L1066.9 471.0L1068.9 469.6L1070.4 468.2L1071.9 466.4L1074.4 462.7L1076.4 459.6L1077.4 458.4L1078.4 457.5L1079.4 457.1L1080.4 457.2L1081.4 457.9L1082.4 459.1L1084.4 462.1L1086.9 466.0L1088.9 468.5L1090.4 470.0L1092.4 471.5L1094.9 472.7L1097.9 473.4L1102.9 473.9L1111.9 474.0L1122.4 474.0L1134.9 474.3L1151.4 474.2L1173.9 474.4L1173.9 474.4ZM1189.4 474.4L1189.4 474.4L1201.4 473.5L1207.4 472.5L1213.9 471.1L1216.9 471.0L1220.4 471.5L1228.4 473.3L1234.4 474.0L1242.9 474.3L1259.9 474.1L1267.9 474.4L1267.9 474.4ZM1302.9 474.4L1302.9 474.4L1314.4 474.4L1315.4 474.4L1315.4 474.4ZM1331.4 474.4L1331.4 474.4L1341.9 474.0L1353.4 474.4L1353.9 474.4L1353.9 474.4ZM1389.9 474.4L1389.9 474.4L1400.9 474.2L1419.4 474.2L1428.9 474.4L1428.9 474.4Z" fill="#bfbfbf"/>
<path d="M855.4 451.4L855.4 451.4L867.4 451.0L880.4 451.4L880.4 451.4ZM911.4 451.4L911.4 451.4L921.4 451.1L932.4 451.4L932.4 451.4ZM941.4 451.4L941.4 451.4L953.4 451.3L956.9 451.4L956.9 451.4ZM970.4 451.4L970.4 451.4L981.9 451.3L984.4 451.4L984.4 451.4ZM996.9 451.4L996.9 451.4L1009.9 451.1L1039.4 451.4L1039.4 451.4ZM1044.4 451.4L1044.4 451.4L1056.9 450.7L1066.4 450.5L1074.9 450.3L1079.4 449.8L1082.4 449.1L1084.9 447.9L1086.9 446.5L1088.4 445.0L1089.9 443.0L1091.4 440.5L1092.9 437.5L1096.4 429.4L1097.4 427.5L1097.9 426.7L1098.4 426.1L1098.9 425.7L1099.4 425.5L1099.9 425.5L1100.4 425.8L1100.9 426.2L1101.4 426.9L1102.4 428.6L1103.9 431.9L1106.4 437.7L1107.9 440.7L1109.4 443.1L1110.9 445.1L1112.4 446.5L1114.4 447.8L1116.9 448.8L1120.9 449.7L1127.9 450.5L1136.4 450.8L1150.9 451.0L1164.4 451.2L1175.9 451.4L1175.9 451.4ZM1190.9 451.4L1190.9 451.4L1202.4 450.8L1213.9 450.6L1218.9 450.1L1227.9 448.1L1230.9 447.9L1234.4 448.3L1243.4 450.3L1248.4 450.9L1271.4 451.3L1286.4 451.1L1294.4 451.4L1294.4 451.4ZM1308.4 451.4L1308.4 451.4L1313.9 451.4L1313.9 451.4ZM1332.9 451.4L1332.9 451.4L1343.4 451.0L1355.9 451.4L1355.9 451.4ZM1386.4 451.4L1386.4 451.4L1396.9 451.0L1410.4 451.4L1410.4 451.4ZM1448.9 451.4L1448.9 451.4L1449.9 451.4L1449.9 451.4Z" fill="#bfbfbf"/>
<path d="M854.4 427.4L854.4 427.4L867.4 427.1L885.9 427.4L885.9 427.4ZM911.9 427.4L911.9 427.4L921.4 427.0L931.9 427.4L931.9 427.4ZM946.4 427.4L946.4 427.4L960.9 427.4L981.9 427.3L985.4 427.4L985.4 427.4ZM992.9 427.4L992.9 427.4L1006.9 427.2L1021.9 427.3L1035.4 427.2L1041.4 427.4L1041.4 427.4ZM1045.9 427.4L1045.9 427.4L1062.9 426.6L1079.4 426.7L1090.4 426.1L1097.9 425.2L1101.9 424.3L1104.9 423.1L1107.4 421.6L1109.4 419.9L1110.9 418.1L1112.4 415.8L1113.9 413.0L1115.4 409.7L1117.4 404.6L1118.9 400.6L1119.9 398.3L1120.4 397.3L1120.9 396.5L1121.4 395.9L1121.9 395.6L1122.4 395.5L1122.9 395.6L1123.4 396.0L1123.9 396.6L1124.4 397.4L1125.4 399.5L1127.4 404.7L1129.4 409.9L1130.9 413.2L1132.4 416.0L1133.9 418.1L1135.4 419.8L1137.4 421.5L1139.9 422.9L1143.4 424.0L1149.9 425.3L1157.9 426.3L1167.4 426.7L1186.9 427.4L1204.9 426.8L1222.4 427.0L1229.4 426.6L1235.9 425.7L1242.4 424.6L1245.9 424.6L1250.9 425.2L1260.4 426.7L1267.9 427.3L1276.4 427.3L1287.4 427.1L1295.4 427.4L1295.4 427.4ZM1311.4 427.4L1311.4 427.4L1317.4 427.4L1317.4 427.4ZM1329.9 427.4L1329.9 427.4L1343.4 427.0L1356.4 427.4L1356.4 427.4ZM1386.9 427.4L1386.9 427.4L1396.4 426.9L1405.4 427.1L1411.9 427.4L1411.9 427.4ZM1420.9 427.4L1420.9 427.4L1426.9 427.4L1426.9 427.4Z" fill="#bfbfbf"/>
<path d="M856.4 403.4L856.4 403.4L868.4 403.0L889.9 403.4L889.9 403.4ZM913.9 403.4L913.9 403.4L922.4 403.1L934.4 403.4L934.4 403.4ZM939.4 403.4L939.4 403.4L952.9 403.2L961.4 403.4L961.4 403.4ZM972.9 403.4L972.9 403.4L994.4 403.3L1006.9 403.1L1022.9 403.3L1037.4 403.4L1038.4 403.4L1038.4 403.4ZM1045.9 403.4L1045.9 403.4L1061.9 402.5L1070.9 402.7L1080.9 402.9L1098.9 402.3L1107.4 401.5L1115.4 400.2L1120.4 398.9L1123.9 397.6L1126.4 396.1L1128.4 394.6L1130.4 392.6L1131.9 390.6L1133.4 388.2L1134.9 385.2L1136.4 381.6L1137.9 377.3L1140.4 369.5L1141.4 366.7L1141.9 365.6L1142.4 364.6L1142.9 363.8L1143.4 363.3L1143.9 363.1L1144.4 363.2L1144.9 363.6L1145.4 364.3L1145.9 365.2L1146.4 366.3L1147.4 369.0L1150.4 378.3L1151.9 382.5L1153.4 386.0L1154.9 388.9L1156.4 391.3L1157.9 393.2L1159.9 395.1L1162.4 396.9L1165.4 398.4L1169.4 399.7L1175.9 401.0L1183.9 402.0L1190.9 402.3L1204.4 402.3L1222.9 403.1L1241.4 403.2L1255.9 403.0L1267.4 403.4L1267.4 403.4ZM1275.4 403.4L1275.4 403.4L1287.4 403.2L1296.9 403.4L1296.9 403.4ZM1301.9 403.4L1301.9 403.4L1315.9 403.2L1323.9 403.4L1323.9 403.4ZM1331.9 403.4L1331.9 403.4L1345.4 403.2L1355.9 403.4L1355.9 403.4ZM1385.4 403.4L1385.4 403.4L1395.9 402.9L1405.9 403.3L1408.9 403.4L1408.9 403.4ZM1419.4 403.4L1419.4 403.4L1430.4 403.4L1431.4 403.4L1431.4 403.4Z" fill="#bfbfbf"/>
<path d="M857.4 380.4L857.4 380.4L866.4 379.8L874.4 379.9L883.4 380.4L883.4 380.4ZM912.4 380.4L912.4 380.4L923.9 380.2L938.9 380.3L950.4 380.3L953.9 380.4L953.9 380.4ZM969.4 380.4L969.4 380.4L979.4 380.1L990.9 380.4L990.9 380.4ZM993.4 380.4L993.4 380.4L1008.9 380.0L1020.9 380.4L1020.9 380.4ZM1043.9 380.4L1043.9 380.4L1058.9 379.6L1067.9 379.8L1077.9 380.1L1093.4 380.0L1103.4 380.0L1124.4 378.5L1132.4 377.9L1137.9 376.9L1142.4 375.6L1145.9 374.1L1148.4 372.6L1150.9 370.5L1152.9 368.3L1154.4 366.2L1155.9 363.6L1157.4 360.4L1158.4 357.8L1159.4 354.9L1160.9 350.0L1163.4 340.9L1164.4 337.6L1164.9 336.2L1165.4 335.1L1165.9 334.2L1166.4 333.6L1166.9 333.4L1167.4 333.5L1167.9 333.9L1168.4 334.7L1168.9 335.8L1169.4 337.1L1170.4 340.3L1173.4 351.2L1174.4 354.5L1175.4 357.5L1176.4 360.2L1177.9 363.5L1179.4 366.3L1180.9 368.5L1182.4 370.2L1184.4 372.1L1186.9 373.8L1189.9 375.1L1193.9 376.2L1203.4 377.8L1213.9 379.1L1221.4 379.5L1236.4 379.7L1248.4 379.9L1261.9 379.9L1277.4 380.2L1300.4 380.2L1311.9 380.1L1319.9 380.4L1319.9 380.4ZM1331.4 380.4L1331.4 380.4L1341.9 379.9L1350.9 380.2L1354.9 380.4L1354.9 380.4ZM1386.9 380.4L1386.9 380.4L1400.9 380.2L1425.9 380.3L1429.4 380.4L1429.4 380.4ZM1447.9 380.4L1447.9 380.4L1449.9 380.3L1449.9 380.4Z" fill="#bfbfbf"/>
<path d="M832.9 369.0L832.9 368.9L840.9 369.0L840.9 369.0ZM859.4 369.0L859.4 369.0L868.9 368.7L881.9 369.0L881.9 369.0ZM908.9 369.0L908.9 369.0L921.9 368.8L927.9 369.0L927.9 369.0ZM941.4 369.0L941.4 369.0L952.4 368.9L957.9 369.0L957.9 369.0ZM966.9 369.0L966.9 369.0L978.9 368.8L984.9 369.0L984.9 369.0ZM997.4 369.0L997.4 369.0L1009.4 368.6L1030.4 369.0L1030.4 369.0ZM1049.4 369.0L1049.4 369.0L1061.4 368.4L1078.9 368.6L1091.9 368.5L1104.4 368.7L1131.9 367.6L1140.9 366.6L1148.9 365.2L1153.4 363.9L1156.9 362.4L1159.4 360.9L1161.4 359.2L1162.9 357.6L1164.4 355.5L1165.9 353.0L1166.9 351.0L1167.9 348.6L1168.9 345.8L1169.9 342.6L1170.9 339.0L1171.9 334.9L1174.4 324.0L1174.9 322.1L1175.4 320.3L1175.9 318.7L1176.4 317.6L1176.9 316.8L1177.4 316.4L1177.9 316.4L1178.4 316.9L1178.9 317.8L1179.4 319.1L1179.9 320.7L1180.4 322.6L1181.4 326.8L1183.4 335.6L1184.4 339.6L1185.4 343.2L1186.4 346.4L1187.4 349.1L1188.4 351.4L1189.9 354.2L1191.4 356.5L1192.9 358.2L1194.9 360.1L1197.4 361.7L1200.9 363.3L1206.4 365.1L1212.9 366.5L1219.4 367.4L1236.4 368.3L1246.4 368.5L1260.9 368.3L1290.4 368.9L1292.9 369.0L1292.9 369.0ZM1303.9 369.0L1303.9 369.0L1315.9 368.8L1327.4 368.9L1341.4 368.4L1349.9 368.7L1354.4 369.0L1354.4 369.0ZM1384.4 369.0L1384.4 369.0L1396.9 368.6L1416.9 369.0L1424.4 369.0L1424.4 369.0ZM1444.4 369.0L1444.4 369.0L1449.9 368.8L1449.9 369.0Z" fill="#bfbfbf"/>
<path d="M856.4 357.4L856.4 357.4L866.9 356.9L876.4 357.1L882.4 357.4L882.4 357.4ZM911.4 357.4L911.4 357.4L921.9 357.2L930.9 357.4L930.9 357.4ZM939.4 357.4L939.4 357.4L951.4 357.3L955.9 357.4L955.9 357.4ZM967.9 357.4L967.9 357.4L978.9 357.1L987.4 357.4L987.4 357.4ZM998.9 357.4L998.9 357.4L1010.9 357.2L1026.4 357.4L1026.4 357.4ZM1045.9 357.4L1045.9 357.4L1059.4 356.8L1069.4 357.1L1078.9 357.3L1093.4 357.2L1105.4 357.2L1121.4 356.7L1134.9 356.5L1156.4 355.3L1163.4 354.4L1168.9 353.1L1172.9 351.7L1175.9 350.1L1177.9 348.7L1179.9 346.7L1181.4 344.8L1182.9 342.3L1183.9 340.3L1184.9 338.0L1185.9 335.3L1186.9 332.2L1187.9 328.6L1188.9 324.6L1191.4 313.5L1191.9 311.4L1192.4 309.5L1192.9 307.9L1193.4 306.5L1193.9 305.5L1194.4 304.9L1194.9 304.7L1195.4 305.0L1195.9 305.7L1196.4 306.8L1196.9 308.2L1197.4 309.9L1198.4 313.9L1200.4 322.6L1201.4 326.7L1202.4 330.4L1203.4 333.6L1204.4 336.4L1205.4 338.9L1206.9 341.9L1208.4 344.4L1209.9 346.3L1211.9 348.4L1214.4 350.3L1217.4 352.0L1220.9 353.2L1225.9 354.3L1235.9 355.7L1244.9 356.3L1274.9 356.9L1289.4 357.0L1301.9 357.2L1313.9 357.1L1320.9 357.4L1320.9 357.4ZM1329.4 357.4L1329.4 357.4L1342.4 356.8L1351.9 357.2L1355.9 357.4L1355.9 357.4ZM1384.9 357.4L1384.9 357.4L1397.4 357.0L1418.4 357.2L1426.9 357.4L1426.9 357.4ZM1448.9 357.4L1448.9 357.4L1449.9 357.4L1449.9 357.4Z" fill="#bfbfbf"/>
<path d="M859.4 334.0L859.4 334.0L868.9 333.5L881.9 333.7L890.4 334.0L890.4 334.0ZM914.4 334.0L914.4 334.0L923.9 333.9L928.9 334.0L928.9 334.0ZM937.9 334.0L937.9 334.0L949.9 333.7L958.4 334.0L958.4 334.0ZM973.4 334.0L973.4 334.0L985.9 334.0L986.4 334.0L986.4 334.0ZM993.9 334.0L993.9 334.0L1008.9 333.7L1021.4 334.0L1021.4 334.0ZM1048.9 334.0L1048.9 334.0L1059.9 333.3L1067.4 333.4L1078.9 334.0L1090.4 334.0L1090.4 334.0ZM1109.9 334.0L1109.9 334.0L1122.9 333.6L1147.4 333.4L1160.9 333.5L1183.9 332.9L1190.4 332.2L1199.9 330.4L1206.4 328.7L1209.9 327.4L1212.4 326.0L1214.4 324.4L1215.9 322.9L1217.4 321.0L1218.9 318.6L1219.9 316.6L1220.9 314.3L1221.9 311.6L1222.9 308.5L1223.9 304.9L1224.9 300.9L1226.4 294.1L1227.9 287.2L1228.4 285.0L1228.9 283.1L1229.4 281.4L1229.9 280.1L1230.4 279.1L1230.9 278.6L1231.4 278.5L1231.9 279.0L1232.4 279.8L1232.9 281.1L1233.4 282.7L1233.9 284.6L1234.9 288.9L1236.9 298.1L1237.9 302.4L1238.9 306.2L1239.9 309.6L1240.9 312.5L1241.9 315.0L1242.9 317.2L1244.4 319.8L1245.9 322.0L1247.9 324.1L1249.9 325.8L1252.4 327.3L1255.9 328.8L1260.9 330.3L1267.4 331.6L1274.4 332.4L1296.4 333.5L1314.4 333.3L1328.4 333.7L1344.4 333.5L1356.9 334.0L1356.9 334.0ZM1380.4 334.0L1380.4 334.0L1395.4 333.5L1412.9 334.0L1426.9 333.8L1432.4 334.0L1432.4 334.0ZM1447.4 334.0L1447.4 334.0L1449.9 333.9L1449.9 334.0Z" fill="#bfbfbf"/>
<path d="M857.9 310.8L857.9 310.8L868.9 310.6L893.4 310.7L896.4 310.8L896.4 310.8ZM914.9 310.8L914.9 310.8L923.9 310.6L931.4 310.8L931.4 310.8ZM946.4 310.8L946.4 310.8L960.9 310.7L977.4 310.8L977.4 310.8ZM993.4 310.8L993.4 310.8L1004.9 310.4L1015.9 310.8L1015.9 310.8ZM1052.4 310.8L1052.4 310.8L1063.4 310.2L1073.9 310.4L1086.4 310.8L1086.4 310.8ZM1108.4 310.8L1108.4 310.8L1119.9 310.7L1130.9 310.7L1144.9 310.1L1156.4 310.5L1165.9 310.6L1188.9 310.4L1205.4 309.5L1220.9 309.2L1230.9 308.4L1236.4 307.5L1240.4 306.4L1243.9 304.9L1246.9 303.1L1249.4 301.0L1251.4 298.9L1252.9 297.0L1254.4 294.6L1255.9 291.6L1256.9 289.3L1257.9 286.6L1258.9 283.6L1259.9 280.2L1260.9 276.4L1263.9 264.1L1264.4 262.3L1264.9 260.6L1265.4 259.2L1265.9 258.1L1266.4 257.3L1266.9 256.9L1267.4 256.9L1267.9 257.3L1268.4 258.0L1268.9 259.1L1269.4 260.5L1269.9 262.2L1270.9 266.0L1273.4 276.5L1274.4 280.3L1275.4 283.8L1276.4 286.9L1277.4 289.6L1278.4 291.9L1279.9 294.8L1281.4 297.2L1282.9 299.1L1284.9 301.1L1287.4 303.1L1290.4 304.8L1294.4 306.4L1298.9 307.6L1304.4 308.5L1314.9 309.2L1329.4 309.7L1343.9 310.0L1358.9 310.5L1372.4 310.8L1372.4 310.8ZM1382.9 310.8L1382.9 310.8L1396.4 310.1L1404.4 310.3L1414.9 310.8L1415.4 310.8L1415.4 310.8ZM1416.9 310.8L1416.9 310.8L1433.4 310.7L1449.9 310.7L1449.9 310.8Z" fill="#bfbfbf"/>
<path d="M855.9 287.4L855.9 287.4L868.4 287.1L887.4 287.4L887.4 287.4ZM911.9 287.4L911.9 287.4L921.4 287.1L929.9 287.4L929.9 287.4ZM944.9 287.4L944.9 287.4L956.4 287.3L980.9 287.4L980.9 287.4ZM998.4 287.4L998.4 287.4L1009.9 287.2L1027.4 287.3L1034.9 287.4L1034.9 287.4ZM1052.4 287.4L1052.4 287.4L1062.4 287.0L1077.4 287.4L1077.4 287.4ZM1083.9 287.4L1083.9 287.4L1093.9 287.4L1093.9 287.4ZM1108.9 287.4L1108.9 287.4L1123.4 287.4L1133.9 287.2L1145.9 286.9L1163.9 287.3L1175.9 287.4L1175.9 287.4ZM1189.4 287.4L1189.4 287.4L1202.9 286.6L1214.4 286.7L1236.9 286.8L1245.9 286.4L1266.4 284.5L1271.4 283.6L1275.4 282.3L1278.9 280.7L1281.9 278.9L1284.4 276.7L1286.4 274.5L1287.9 272.4L1289.4 269.7L1290.9 266.5L1291.9 263.9L1292.9 260.9L1293.9 257.6L1294.9 253.8L1296.4 247.5L1297.9 241.0L1298.9 237.0L1299.4 235.3L1299.9 233.9L1300.4 232.8L1300.9 232.0L1301.4 231.7L1301.9 231.7L1302.4 232.1L1302.9 233.0L1303.4 234.2L1303.9 235.6L1304.4 237.4L1305.4 241.4L1307.9 252.1L1308.9 256.1L1309.9 259.6L1310.9 262.8L1311.9 265.5L1312.9 267.9L1314.4 271.0L1315.9 273.4L1317.4 275.4L1319.4 277.5L1321.9 279.5L1324.9 281.2L1328.4 282.6L1332.9 283.6L1341.9 284.8L1357.4 286.3L1373.9 287.1L1382.9 287.0L1395.9 286.4L1404.4 286.7L1414.9 287.2L1431.9 287.4L1432.4 287.4L1432.4 287.4ZM1444.9 287.4L1444.9 287.4L1449.9 287.2L1449.9 287.4Z" fill="#bfbfbf"/>
<path d="M832.9 264.0L832.9 264.0L833.4 264.0L833.4 264.0ZM855.9 264.0L855.9 264.0L865.4 263.7L874.9 264.0L874.9 264.0ZM910.4 264.0L910.4 264.0L922.9 263.7L933.4 264.0L933.4 264.0ZM965.9 264.0L965.9 264.0L976.9 263.8L983.9 264.0L983.9 264.0ZM995.9 264.0L995.9 264.0L1006.9 263.6L1017.4 264.0L1017.4 264.0ZM1052.9 264.0L1052.9 264.0L1064.4 263.7L1083.9 263.8L1094.4 264.0L1094.4 264.0ZM1108.4 264.0L1108.4 264.0L1118.4 263.9L1122.9 264.0L1122.9 264.0ZM1137.9 264.0L1137.9 264.0L1148.9 263.5L1175.4 264.0L1175.4 264.0ZM1188.4 264.0L1188.4 264.0L1201.9 263.5L1219.9 263.7L1232.9 263.7L1242.9 263.8L1259.4 263.0L1274.9 263.0L1295.9 261.7L1302.4 260.8L1307.4 259.6L1311.4 258.1L1314.4 256.6L1316.9 254.7L1318.9 252.8L1320.4 250.9L1321.9 248.6L1323.4 245.7L1324.4 243.4L1325.4 240.7L1326.4 237.5L1327.4 233.8L1328.4 229.6L1329.4 224.8L1330.4 219.4L1332.4 208.0L1332.9 205.2L1333.4 202.7L1333.9 200.4L1334.4 198.5L1334.9 197.0L1335.4 196.0L1335.9 195.6L1336.4 195.7L1336.9 196.4L1337.4 197.7L1337.9 199.4L1338.4 201.5L1338.9 203.9L1339.9 209.3L1341.9 220.6L1342.9 225.7L1343.9 230.4L1344.9 234.4L1345.9 237.9L1346.9 241.0L1347.9 243.6L1348.9 245.9L1350.4 248.7L1351.9 251.0L1353.4 252.8L1355.4 254.8L1357.9 256.6L1360.9 258.2L1364.9 259.7L1370.9 261.1L1378.4 262.2L1385.4 262.7L1400.9 262.7L1419.4 263.4L1438.9 263.8L1449.9 263.6L1449.9 264.0Z" fill="#bfbfbf"/>
<path d="M832.9 240.8L832.9 240.7L835.9 240.8L835.9 240.8ZM858.9 240.8L858.9 240.8L867.9 240.5L885.4 240.8L896.4 240.8L896.4 240.8ZM915.9 240.8L915.9 240.8L927.9 240.8L928.9 240.8L928.9 240.8ZM941.4 240.8L941.4 240.8L954.4 240.8L954.9 240.8L954.9 240.8ZM966.9 240.8L966.9 240.8L978.4 240.7L980.9 240.8L980.9 240.8ZM997.4 240.8L997.4 240.8L1007.4 240.4L1019.9 240.8L1019.9 240.8ZM1051.9 240.8L1051.9 240.8L1062.9 240.4L1090.9 240.8L1090.9 240.8ZM1113.9 240.8L1113.9 240.8L1124.4 240.7L1126.9 240.8L1126.9 240.8ZM1132.4 240.8L1132.4 240.8L1147.9 240.4L1161.9 240.8L1161.9 240.8ZM1189.9 240.8L1189.9 240.8L1200.9 240.3L1220.4 240.8L1231.4 240.8L1231.4 240.8ZM1244.9 240.8L1244.9 240.8L1258.4 240.2L1278.4 240.5L1300.9 240.4L1324.9 239.4L1332.4 238.5L1340.9 236.8L1345.4 235.6L1348.4 234.3L1350.9 232.8L1352.9 231.0L1354.4 229.2L1355.9 226.9L1356.9 224.9L1357.9 222.6L1358.9 219.7L1359.4 218.1L1359.9 216.2L1360.4 214.2L1360.9 212.0L1361.4 209.5L1361.9 206.8L1362.4 203.8L1362.9 200.6L1363.4 197.0L1363.9 193.2L1364.4 189.2L1365.9 176.3L1366.4 172.2L1366.9 168.4L1367.4 165.2L1367.9 162.8L1368.4 161.4L1368.9 161.1L1369.4 161.8L1369.9 163.7L1370.4 166.4L1370.9 169.8L1371.4 173.8L1372.9 186.6L1373.4 190.8L1373.9 194.7L1374.4 198.4L1374.9 201.8L1375.4 205.0L1375.9 207.8L1376.4 210.4L1376.9 212.8L1377.4 215.0L1377.9 216.9L1378.4 218.7L1379.4 221.7L1380.4 224.2L1381.4 226.3L1382.9 228.8L1384.4 230.7L1386.4 232.6L1388.9 234.2L1391.9 235.5L1396.4 236.8L1404.4 238.3L1412.9 239.4L1428.9 240.1L1439.9 240.4L1449.9 240.2L1449.9 240.8Z" fill="#bfbfbf"/>
<path d="M832.9 217.6L832.9 217.5L843.9 217.6L843.9 217.6ZM857.4 217.6L857.4 217.6L869.4 217.4L878.9 217.6L878.9 217.6ZM911.9 217.6L911.9 217.6L921.9 217.3L930.9 217.6L930.9 217.6ZM941.4 217.6L941.4 217.6L952.9 217.4L959.4 217.6L959.4 217.6ZM997.9 217.6L997.9 217.6L1008.9 217.3L1032.4 217.6L1032.4 217.6ZM1054.9 217.6L1054.9 217.6L1063.9 217.3L1075.4 217.6L1075.4 217.6ZM1082.9 217.6L1082.9 217.6L1094.9 217.6L1094.9 217.6ZM1111.9 217.6L1111.9 217.6L1123.4 217.6L1123.4 217.6ZM1131.9 217.6L1131.9 217.6L1145.9 217.3L1154.9 217.6L1154.9 217.6ZM1190.9 217.6L1190.9 217.6L1201.9 217.0L1210.4 217.2L1219.4 217.6L1219.4 217.6ZM1247.9 217.6L1247.9 217.6L1258.9 217.2L1275.4 217.3L1286.9 217.2L1297.4 217.6L1297.4 217.6ZM1301.9 217.6L1301.9 217.6L1317.9 217.3L1329.4 217.1L1343.9 216.4L1358.4 216.2L1366.4 215.5L1372.4 214.5L1376.4 213.4L1379.4 212.0L1381.9 210.4L1383.9 208.6L1385.4 206.8L1386.9 204.5L1387.9 202.6L1388.9 200.3L1389.9 197.4L1390.4 195.8L1390.9 194.0L1391.4 191.9L1391.9 189.6L1392.4 187.1L1392.9 184.2L1393.4 181.0L1393.9 177.4L1394.4 173.3L1394.9 168.8L1395.4 163.8L1395.9 158.3L1396.4 152.3L1396.9 145.9L1397.9 132.4L1398.4 126.0L1398.9 120.3L1399.4 115.8L1399.9 112.8L1400.4 111.8L1400.9 112.9L1401.4 115.8L1401.9 120.4L1402.4 126.2L1402.9 132.6L1403.9 146.1L1404.4 152.6L1404.9 158.6L1405.4 164.2L1405.9 169.2L1406.4 173.8L1406.9 177.8L1407.4 181.4L1407.9 184.7L1408.4 187.6L1408.9 190.1L1409.4 192.4L1409.9 194.4L1410.4 196.3L1410.9 197.9L1411.9 200.7L1412.9 203.0L1413.9 204.8L1415.4 207.1L1416.9 208.8L1418.9 210.5L1421.4 212.0L1424.9 213.4L1429.9 214.7L1435.9 215.7L1442.9 216.2L1449.9 216.3L1449.9 217.6Z" fill="#bfbfbf"/>
<path d="M832.9 194.2L832.9 194.2L833.9 194.2L833.9 194.2ZM854.9 194.2L854.9 194.2L864.9 193.9L873.4 194.2L873.4 194.2ZM911.4 194.2L911.4 194.2L922.9 193.8L935.9 194.2L935.9 194.2ZM967.9 194.2L967.9 194.2L978.4 194.1L980.4 194.2L980.4 194.2ZM994.9 194.2L994.9 194.2L1005.9 193.8L1017.9 194.2L1017.9 194.2ZM1055.9 194.2L1055.9 194.2L1067.4 194.0L1092.4 194.2L1092.4 194.2ZM1106.4 194.2L1106.4 194.2L1116.9 194.0L1121.4 194.2L1121.4 194.2ZM1139.9 194.2L1139.9 194.2L1149.4 193.9L1162.4 194.2L1162.4 194.2ZM1189.4 194.2L1189.4 194.2L1202.4 193.9L1220.9 194.2L1226.4 194.2L1226.4 194.2ZM1248.4 194.2L1248.4 194.2L1257.9 193.7L1275.9 194.1L1290.4 193.9L1300.4 194.2L1300.4 194.2ZM1323.4 194.2L1323.4 194.2L1340.4 193.3L1358.9 193.6L1380.9 193.3L1387.4 192.6L1395.4 191.1L1401.4 189.5L1404.9 188.0L1407.4 186.6L1409.4 184.9L1410.9 183.3L1412.4 181.2L1413.4 179.3L1414.4 177.1L1415.4 174.5L1415.9 172.9L1416.4 171.1L1416.9 169.1L1417.4 166.9L1417.9 164.5L1418.4 161.7L1418.9 158.6L1419.4 155.1L1419.9 151.1L1420.4 146.7L1420.9 141.8L1421.4 136.4L1421.9 130.4L1422.4 123.9L1422.9 117.1L1423.9 103.1L1424.4 96.6L1424.9 91.1L1425.4 87.0L1425.9 84.7L1426.4 84.5L1426.9 86.4L1427.4 90.1L1427.9 95.4L1428.4 101.8L1429.9 122.6L1430.4 129.2L1430.9 135.2L1431.4 140.8L1431.9 145.8L1432.4 150.3L1432.9 154.3L1433.4 157.9L1433.9 161.1L1434.4 164.0L1434.9 166.5L1435.4 168.7L1435.9 170.8L1436.4 172.6L1436.9 174.2L1437.9 176.9L1438.9 179.2L1439.9 181.0L1441.4 183.2L1442.9 184.9L1444.9 186.6L1447.4 188.2L1449.9 189.3L1449.9 194.2Z" fill="#bfbfbf"/>
<path d="M832.9 591.0L854.9 591.0L871.4 590.9L910.4 591.1L933.9 591.0L959.4 591.0L997.9 591.0L1015.4 590.9L1048.4 591.0L1066.4 590.9L1107.4 591.1L1126.9 591.0L1159.4 591.0L1189.4 591.0L1205.4 590.9L1231.9 591.0L1253.9 591.0L1333.4 591.0L1349.4 591.0L1377.4 591.0L1402.9 590.9L1443.9 591.0L1449.9 591.0" fill="none" stroke="#000" stroke-width="2.9" stroke-linejoin="round"/>
<path d="M832.9 567.8L854.9 567.8L872.4 567.7L913.4 567.8L932.4 567.8L995.9 567.8L1014.4 567.4L1023.9 566.9L1030.4 567.2L1039.4 567.8L1053.4 567.8L1070.9 567.7L1106.9 567.9L1140.9 567.7L1190.4 567.8L1208.9 567.7L1245.4 567.8L1261.9 567.7L1281.9 567.8L1332.9 567.7L1349.9 567.8L1385.9 567.8L1402.4 567.7L1429.9 567.8L1449.9 567.8" fill="none" stroke="#000" stroke-width="2.9" stroke-linejoin="round"/>
<path d="M832.9 544.2L856.4 543.9L868.9 543.7L893.9 544.1L904.9 544.4L921.4 543.7L937.9 544.2L953.9 543.8L989.9 544.2L1007.4 543.8L1017.9 543.8L1022.9 543.3L1031.9 541.5L1034.4 541.4L1037.4 541.8L1043.9 543.4L1047.9 543.9L1053.9 543.8L1063.4 543.5L1081.4 544.2L1109.4 544.0L1131.9 543.9L1144.4 543.6L1160.9 544.1L1171.4 543.7L1179.4 543.5L1190.9 543.9L1205.9 543.5L1235.9 544.3L1247.4 544.0L1257.4 543.8L1271.4 544.1L1286.4 543.8L1301.9 544.2L1317.9 543.9L1331.9 544.0L1345.4 543.8L1376.4 544.4L1385.4 544.0L1395.4 543.4L1402.9 543.6L1413.4 544.2L1430.9 544.1L1442.9 544.3L1449.9 544.1" fill="none" stroke="#000" stroke-width="2.9" stroke-linejoin="round"/>
<path d="M832.9 520.7L849.9 521.1L866.4 520.4L885.4 520.8L901.4 521.0L912.9 520.9L926.9 520.8L942.4 520.6L954.4 520.7L966.4 520.8L977.9 520.7L990.4 521.1L999.4 520.7L1008.4 520.3L1026.4 520.6L1031.9 520.2L1035.4 519.5L1038.4 518.3L1043.4 515.6L1045.4 515.1L1046.9 515.1L1048.9 515.7L1054.9 518.5L1057.9 519.4L1062.4 520.0L1074.4 520.6L1090.9 520.8L1102.4 521.1L1119.4 520.6L1134.9 520.7L1148.4 520.5L1169.9 521.0L1178.4 520.9L1184.4 520.2L1191.4 519.1L1195.9 519.1L1212.4 520.6L1222.4 520.8L1243.4 521.1L1259.4 520.5L1279.9 520.8L1303.4 520.8L1316.4 520.8L1326.9 520.9L1340.4 520.4L1350.4 520.9L1359.4 521.2L1386.9 520.7L1398.4 520.4L1420.4 521.0L1437.4 521.0L1449.9 520.6" fill="none" stroke="#000" stroke-width="2.9" stroke-linejoin="round"/>
<path d="M832.9 497.9L852.9 497.7L867.9 497.1L887.9 497.6L902.9 498.1L911.9 497.7L920.9 497.3L938.9 497.6L952.9 497.5L967.4 497.7L985.4 497.6L1007.9 497.4L1022.4 497.6L1041.4 497.3L1044.9 496.9L1047.4 496.1L1049.9 494.9L1051.9 493.3L1054.9 490.4L1057.4 487.9L1058.9 486.9L1059.9 486.5L1060.9 486.5L1062.4 487.1L1063.9 488.3L1068.4 492.7L1070.9 494.7L1073.4 496.0L1076.4 496.9L1080.9 497.4L1095.4 497.6L1110.4 497.5L1122.9 497.4L1135.9 497.4L1146.9 497.4L1160.4 497.7L1174.9 497.6L1185.4 497.7L1190.4 497.3L1196.4 496.1L1201.4 495.0L1204.4 494.9L1207.9 495.2L1216.4 496.9L1221.9 497.5L1238.9 497.6L1256.4 497.4L1270.9 497.8L1287.4 497.5L1301.9 497.6L1315.4 497.5L1329.4 497.8L1345.9 497.4L1378.9 497.9L1396.4 497.2L1413.4 497.7L1427.4 497.5L1442.4 497.9L1449.9 497.7" fill="none" stroke="#000" stroke-width="2.9" stroke-linejoin="round"/>
<path d="M832.9 474.5L849.9 474.8L866.4 473.9L875.9 474.1L889.4 474.5L906.9 474.6L922.4 474.1L940.4 474.4L953.4 474.5L963.9 474.6L978.4 474.2L993.4 474.4L1007.9 474.0L1026.4 474.5L1042.9 474.3L1052.9 473.6L1061.9 472.6L1064.9 471.9L1066.9 471.0L1068.9 469.6L1070.4 468.2L1071.9 466.4L1074.4 462.7L1076.4 459.6L1077.4 458.4L1078.4 457.5L1079.4 457.1L1080.4 457.2L1081.4 457.9L1082.4 459.1L1084.4 462.1L1086.9 466.0L1088.9 468.5L1090.4 470.0L1092.4 471.5L1094.9 472.7L1097.9 473.4L1102.9 473.9L1111.9 474.0L1122.4 474.0L1134.9 474.3L1151.4 474.2L1178.4 474.5L1187.4 474.5L1199.9 473.6L1205.9 472.8L1213.9 471.1L1216.9 471.0L1220.4 471.5L1228.4 473.3L1234.4 474.0L1242.9 474.3L1259.9 474.1L1275.4 474.5L1304.9 474.3L1315.9 474.4L1326.4 474.6L1341.9 474.0L1353.4 474.4L1365.4 474.6L1384.4 474.6L1399.4 474.1L1419.9 474.2L1440.9 474.6L1449.9 474.4" fill="none" stroke="#000" stroke-width="2.9" stroke-linejoin="round"/>
<path d="M832.9 451.5L846.4 451.5L856.4 451.3L867.4 451.0L893.4 451.6L905.4 451.7L920.4 451.1L938.4 451.4L952.4 451.3L966.4 451.5L980.4 451.3L993.9 451.5L1009.4 451.1L1045.9 451.4L1062.4 450.5L1074.4 450.4L1079.4 449.8L1082.4 449.1L1084.9 447.9L1086.9 446.5L1088.4 445.0L1089.9 443.0L1091.4 440.5L1092.9 437.5L1096.4 429.4L1097.4 427.5L1097.9 426.7L1098.4 426.1L1098.9 425.7L1099.4 425.5L1099.9 425.5L1100.4 425.8L1100.9 426.2L1101.4 426.9L1102.4 428.6L1103.9 431.9L1106.4 437.7L1107.9 440.7L1109.4 443.1L1110.9 445.1L1112.4 446.5L1114.4 447.8L1116.9 448.8L1120.9 449.7L1127.9 450.5L1136.4 450.8L1150.9 451.0L1164.4 451.2L1177.4 451.4L1186.9 451.6L1202.9 450.8L1213.9 450.6L1218.9 450.1L1227.9 448.1L1230.9 447.9L1234.4 448.3L1243.4 450.3L1248.4 450.9L1271.4 451.3L1286.4 451.1L1301.9 451.5L1315.9 451.4L1327.9 451.6L1343.4 451.0L1366.4 451.6L1380.9 451.6L1396.4 451.0L1415.4 451.4L1428.9 451.5L1440.4 451.7L1449.9 451.4" fill="none" stroke="#000" stroke-width="2.9" stroke-linejoin="round"/>
<path d="M832.9 427.6L854.4 427.4L867.4 427.1L904.9 427.7L920.9 427.0L931.4 427.4L940.4 427.5L955.9 427.3L982.9 427.3L994.9 427.3L1007.4 427.2L1021.9 427.3L1035.4 427.2L1046.9 427.4L1062.9 426.6L1079.4 426.7L1090.4 426.1L1097.9 425.2L1101.9 424.3L1104.9 423.1L1107.4 421.6L1109.4 419.9L1110.9 418.1L1112.4 415.8L1113.9 413.0L1115.4 409.7L1117.4 404.6L1118.9 400.6L1119.9 398.3L1120.4 397.3L1120.9 396.5L1121.4 395.9L1121.9 395.6L1122.4 395.5L1122.9 395.6L1123.4 396.0L1123.9 396.6L1124.4 397.4L1125.4 399.5L1127.4 404.7L1129.4 409.9L1130.9 413.2L1132.4 416.0L1133.9 418.1L1135.4 419.8L1137.4 421.5L1139.9 422.9L1143.4 424.0L1149.9 425.3L1157.9 426.3L1167.4 426.7L1186.9 427.4L1204.9 426.8L1222.4 427.0L1229.4 426.6L1235.9 425.7L1242.4 424.6L1245.9 424.6L1250.9 425.2L1260.4 426.7L1267.9 427.3L1276.4 427.3L1287.4 427.1L1302.4 427.5L1319.4 427.4L1330.9 427.4L1343.4 427.0L1378.4 427.8L1387.4 427.4L1396.4 426.9L1405.4 427.1L1415.9 427.4L1429.9 427.4L1442.4 427.7L1449.9 427.5" fill="none" stroke="#000" stroke-width="2.9" stroke-linejoin="round"/>
<path d="M832.9 403.6L852.9 403.5L867.9 403.0L892.9 403.5L903.9 403.8L913.4 403.4L922.4 403.1L938.4 403.4L952.9 403.2L968.9 403.4L994.9 403.3L1006.9 403.1L1022.9 403.3L1037.4 403.4L1046.9 403.3L1061.4 402.5L1069.9 402.6L1080.4 402.9L1098.4 402.4L1106.9 401.6L1114.9 400.3L1120.4 398.9L1123.9 397.6L1126.4 396.1L1128.4 394.6L1130.4 392.6L1131.9 390.6L1133.4 388.2L1134.9 385.2L1136.4 381.6L1137.9 377.3L1140.4 369.5L1141.4 366.7L1141.9 365.6L1142.4 364.6L1142.9 363.8L1143.4 363.3L1143.9 363.1L1144.4 363.2L1144.9 363.6L1145.4 364.3L1145.9 365.2L1146.4 366.3L1147.4 369.0L1150.4 378.3L1151.9 382.5L1153.4 386.0L1154.9 388.9L1156.4 391.3L1157.9 393.2L1159.9 395.1L1162.4 396.9L1165.4 398.4L1169.4 399.7L1175.9 401.0L1183.9 402.0L1190.9 402.3L1204.4 402.3L1222.9 403.1L1241.4 403.2L1255.9 403.0L1271.9 403.4L1287.4 403.2L1301.9 403.4L1315.9 403.2L1330.4 403.4L1345.4 403.2L1378.4 403.6L1396.4 402.9L1413.9 403.5L1428.9 403.3L1442.9 403.6L1449.9 403.5" fill="none" stroke="#000" stroke-width="2.9" stroke-linejoin="round"/>
<path d="M832.9 380.5L849.9 380.8L858.4 380.3L866.9 379.8L874.9 380.0L888.4 380.5L905.9 380.6L922.4 380.2L938.9 380.3L950.4 380.3L962.9 380.6L978.9 380.1L994.4 380.4L1008.9 380.0L1030.4 380.5L1043.4 380.4L1058.9 379.6L1067.9 379.8L1077.9 380.1L1093.4 380.0L1103.4 380.0L1124.4 378.5L1132.4 377.9L1137.9 376.9L1142.4 375.6L1145.9 374.1L1148.4 372.6L1150.9 370.5L1152.9 368.3L1154.4 366.2L1155.9 363.6L1157.4 360.4L1158.4 357.8L1159.4 354.9L1160.9 350.0L1163.4 340.9L1164.4 337.6L1164.9 336.2L1165.4 335.1L1165.9 334.2L1166.4 333.6L1166.9 333.4L1167.4 333.5L1167.9 333.9L1168.4 334.7L1168.9 335.8L1169.4 337.1L1170.4 340.3L1173.4 351.2L1174.4 354.5L1175.4 357.5L1176.4 360.2L1177.9 363.5L1179.4 366.3L1180.9 368.5L1182.4 370.2L1184.4 372.1L1186.9 373.8L1189.9 375.1L1193.9 376.2L1203.4 377.8L1213.9 379.1L1221.4 379.5L1236.4 379.7L1248.4 379.9L1261.9 379.9L1277.4 380.2L1300.4 380.2L1311.9 380.1L1325.9 380.6L1335.9 380.1L1343.9 379.9L1360.9 380.5L1386.9 380.4L1400.9 380.2L1425.9 380.3L1438.9 380.6L1449.9 380.3" fill="none" stroke="#000" stroke-width="2.9" stroke-linejoin="round"/>
<path d="M832.9 368.9L842.9 369.1L852.4 369.3L867.9 368.7L888.4 369.0L909.4 369.0L921.9 368.8L935.9 369.1L951.4 368.8L965.4 369.0L978.9 368.8L992.9 369.1L1009.4 368.6L1043.9 369.2L1061.4 368.4L1078.9 368.6L1091.9 368.5L1104.4 368.7L1131.9 367.6L1140.9 366.6L1148.9 365.2L1153.4 363.9L1156.9 362.4L1159.4 360.9L1161.4 359.2L1162.9 357.6L1164.4 355.5L1165.9 353.0L1166.9 351.0L1167.9 348.6L1168.9 345.8L1169.9 342.6L1170.9 339.0L1171.9 334.9L1174.4 324.0L1174.9 322.1L1175.4 320.3L1175.9 318.7L1176.4 317.6L1176.9 316.8L1177.4 316.4L1177.9 316.4L1178.4 316.9L1178.9 317.8L1179.4 319.1L1179.9 320.7L1180.4 322.6L1181.4 326.8L1183.4 335.6L1184.4 339.6L1185.4 343.2L1186.4 346.4L1187.4 349.1L1188.4 351.4L1189.9 354.2L1191.4 356.5L1192.9 358.2L1194.9 360.1L1197.4 361.7L1200.9 363.3L1206.4 365.1L1212.9 366.5L1219.4 367.4L1236.4 368.3L1246.4 368.5L1260.9 368.3L1290.4 368.9L1300.9 369.1L1314.9 368.8L1327.4 368.9L1341.4 368.4L1349.9 368.7L1360.9 369.2L1380.9 369.1L1396.9 368.6L1416.9 369.0L1439.4 369.2L1449.9 368.8" fill="none" stroke="#000" stroke-width="2.9" stroke-linejoin="round"/>
<path d="M832.9 357.5L851.9 357.6L866.9 356.9L876.4 357.1L890.4 357.6L905.9 357.6L920.9 357.1L937.4 357.4L950.9 357.3L964.4 357.5L978.9 357.1L994.4 357.5L1010.4 357.2L1043.4 357.5L1059.9 356.8L1077.9 357.4L1093.4 357.2L1105.4 357.2L1121.4 356.7L1134.9 356.5L1156.4 355.3L1163.4 354.4L1168.9 353.1L1172.9 351.7L1175.9 350.1L1177.9 348.7L1179.9 346.7L1181.4 344.8L1182.9 342.3L1183.9 340.3L1184.9 338.0L1185.9 335.3L1186.9 332.2L1187.9 328.6L1188.9 324.6L1191.4 313.5L1191.9 311.4L1192.4 309.5L1192.9 307.9L1193.4 306.5L1193.9 305.5L1194.4 304.9L1194.9 304.7L1195.4 305.0L1195.9 305.7L1196.4 306.8L1196.9 308.2L1197.4 309.9L1198.4 313.9L1200.4 322.6L1201.4 326.7L1202.4 330.4L1203.4 333.6L1204.4 336.4L1205.4 338.9L1206.9 341.9L1208.4 344.4L1209.9 346.3L1211.9 348.4L1214.4 350.3L1217.4 352.0L1220.9 353.2L1225.9 354.3L1235.9 355.7L1244.9 356.3L1274.9 356.9L1289.4 357.0L1301.9 357.2L1313.9 357.1L1326.4 357.5L1342.9 356.8L1353.9 357.3L1365.4 357.6L1382.9 357.5L1397.4 357.0L1418.4 357.2L1430.4 357.5L1439.9 357.7L1449.9 357.4" fill="none" stroke="#000" stroke-width="2.9" stroke-linejoin="round"/>
<path d="M832.9 334.1L851.4 334.4L868.9 333.5L881.9 333.7L903.9 334.3L921.9 333.8L936.4 334.0L949.9 333.7L965.9 334.1L982.4 333.9L995.4 333.9L1008.9 333.7L1041.9 334.3L1050.4 333.9L1059.9 333.3L1067.4 333.4L1078.9 334.0L1097.4 334.1L1107.4 334.1L1122.4 333.6L1147.4 333.4L1160.9 333.5L1183.9 332.9L1190.4 332.2L1199.9 330.4L1206.4 328.7L1209.9 327.4L1212.4 326.0L1214.4 324.4L1215.9 322.9L1217.4 321.0L1218.9 318.6L1219.9 316.6L1220.9 314.3L1221.9 311.6L1222.9 308.5L1223.9 304.9L1224.9 300.9L1226.4 294.1L1227.9 287.2L1228.4 285.0L1228.9 283.1L1229.4 281.4L1229.9 280.1L1230.4 279.1L1230.9 278.6L1231.4 278.5L1231.9 279.0L1232.4 279.8L1232.9 281.1L1233.4 282.7L1233.9 284.6L1234.9 288.9L1236.9 298.1L1237.9 302.4L1238.9 306.2L1239.9 309.6L1240.9 312.5L1241.9 315.0L1242.9 317.2L1244.4 319.8L1245.9 322.0L1247.9 324.1L1249.9 325.8L1252.4 327.3L1255.9 328.8L1260.9 330.3L1267.4 331.6L1274.4 332.4L1296.4 333.5L1314.4 333.3L1328.4 333.7L1344.4 333.5L1361.9 334.1L1381.9 333.9L1395.9 333.5L1412.9 334.0L1426.9 333.8L1440.9 334.1L1449.9 333.9" fill="none" stroke="#000" stroke-width="2.9" stroke-linejoin="round"/>
<path d="M832.9 310.9L850.9 311.0L867.4 310.6L893.4 310.7L905.9 311.1L922.9 310.5L939.4 310.9L956.9 310.7L982.9 310.9L992.9 310.8L1004.9 310.4L1022.4 310.9L1036.9 310.9L1047.4 311.1L1063.4 310.2L1073.9 310.4L1098.4 311.0L1118.9 310.6L1130.9 310.7L1144.9 310.1L1156.4 310.5L1165.9 310.6L1188.9 310.4L1205.4 309.5L1220.9 309.2L1230.9 308.4L1236.4 307.5L1240.4 306.4L1243.9 304.9L1246.9 303.1L1249.4 301.0L1251.4 298.9L1252.9 297.0L1254.4 294.6L1255.9 291.6L1256.9 289.3L1257.9 286.6L1258.9 283.6L1259.9 280.2L1260.9 276.4L1263.9 264.1L1264.4 262.3L1264.9 260.6L1265.4 259.2L1265.9 258.1L1266.4 257.3L1266.9 256.9L1267.4 256.9L1267.9 257.3L1268.4 258.0L1268.9 259.1L1269.4 260.5L1269.9 262.2L1270.9 266.0L1273.4 276.5L1274.4 280.3L1275.4 283.8L1276.4 286.9L1277.4 289.6L1278.4 291.9L1279.9 294.8L1281.4 297.2L1282.9 299.1L1284.9 301.1L1287.4 303.1L1290.4 304.8L1294.4 306.4L1298.9 307.6L1304.4 308.5L1314.9 309.2L1329.4 309.7L1343.9 310.0L1358.9 310.5L1380.4 310.9L1396.9 310.1L1405.4 310.4L1415.4 310.8L1433.9 310.7L1449.9 310.7" fill="none" stroke="#000" stroke-width="2.9" stroke-linejoin="round"/>
<path d="M832.9 287.5L854.4 287.4L867.9 287.1L905.9 287.6L920.9 287.1L937.9 287.6L954.4 287.2L973.9 287.3L992.9 287.5L1008.4 287.2L1026.4 287.3L1038.9 287.5L1047.9 287.6L1062.4 287.0L1081.4 287.4L1108.9 287.4L1123.4 287.4L1133.9 287.2L1145.9 286.9L1163.9 287.3L1178.4 287.4L1187.4 287.5L1203.4 286.6L1230.9 286.8L1241.9 286.6L1264.9 284.7L1270.4 283.8L1274.9 282.5L1278.4 281.0L1281.4 279.2L1283.9 277.2L1285.9 275.1L1287.4 273.1L1288.9 270.7L1290.4 267.6L1291.4 265.2L1292.4 262.5L1293.4 259.3L1294.4 255.7L1295.4 251.7L1297.9 241.0L1298.9 237.0L1299.4 235.3L1299.9 233.9L1300.4 232.8L1300.9 232.0L1301.4 231.7L1301.9 231.7L1302.4 232.1L1302.9 233.0L1303.4 234.2L1303.9 235.6L1304.4 237.4L1305.4 241.4L1307.9 252.1L1308.9 256.1L1309.9 259.6L1310.9 262.8L1311.9 265.5L1312.9 267.9L1314.4 271.0L1315.9 273.4L1317.4 275.4L1319.4 277.5L1321.9 279.5L1324.9 281.2L1328.4 282.6L1332.9 283.6L1341.9 284.8L1357.4 286.3L1373.9 287.1L1382.9 287.0L1395.9 286.4L1404.4 286.7L1414.9 287.2L1431.9 287.4L1442.4 287.5L1449.9 287.2" fill="none" stroke="#000" stroke-width="2.9" stroke-linejoin="round"/>
<path d="M832.9 264.0L849.9 264.2L865.4 263.7L882.9 264.2L899.4 264.0L911.4 264.0L923.4 263.7L941.9 264.1L963.4 264.1L976.4 263.8L991.4 264.1L1006.9 263.6L1024.9 264.1L1049.4 264.1L1063.9 263.7L1083.9 263.8L1103.9 264.1L1117.4 263.8L1131.9 264.2L1148.9 263.5L1185.4 264.1L1202.4 263.5L1219.4 263.7L1232.4 263.7L1242.9 263.8L1259.4 263.0L1274.9 263.0L1295.9 261.7L1302.4 260.8L1307.4 259.6L1311.4 258.1L1314.4 256.6L1316.9 254.7L1318.9 252.8L1320.4 250.9L1321.9 248.6L1323.4 245.7L1324.4 243.4L1325.4 240.7L1326.4 237.5L1327.4 233.8L1328.4 229.6L1329.4 224.8L1330.4 219.4L1332.4 208.0L1332.9 205.2L1333.4 202.7L1333.9 200.4L1334.4 198.5L1334.9 197.0L1335.4 196.0L1335.9 195.6L1336.4 195.7L1336.9 196.4L1337.4 197.7L1337.9 199.4L1338.4 201.5L1338.9 203.9L1339.9 209.3L1341.9 220.6L1342.9 225.7L1343.9 230.4L1344.9 234.4L1345.9 237.9L1346.9 241.0L1347.9 243.6L1348.9 245.9L1350.4 248.7L1351.9 251.0L1353.4 252.8L1355.4 254.8L1357.9 256.6L1360.9 258.2L1364.9 259.7L1370.9 261.1L1378.4 262.2L1385.4 262.7L1400.9 262.7L1419.4 263.4L1438.9 263.8L1449.9 263.6" fill="none" stroke="#000" stroke-width="2.9" stroke-linejoin="round"/>
<path d="M832.9 240.7L849.9 241.2L866.9 240.5L885.9 240.8L900.9 240.9L912.4 240.9L924.9 240.7L939.4 240.8L953.4 240.8L966.4 240.8L977.9 240.7L990.9 241.0L1007.4 240.4L1030.4 241.0L1045.9 241.1L1062.4 240.4L1091.4 240.8L1102.9 241.1L1119.9 240.7L1133.9 240.8L1147.9 240.4L1174.9 241.0L1185.9 241.0L1200.4 240.3L1210.9 240.6L1221.9 240.8L1243.4 240.8L1258.4 240.2L1278.4 240.5L1300.9 240.4L1324.9 239.4L1332.4 238.5L1340.9 236.8L1345.4 235.6L1348.4 234.3L1350.9 232.8L1352.9 231.0L1354.4 229.2L1355.9 226.9L1356.9 224.9L1357.9 222.6L1358.9 219.7L1359.4 218.1L1359.9 216.2L1360.4 214.2L1360.9 212.0L1361.4 209.5L1361.9 206.8L1362.4 203.8L1362.9 200.6L1363.4 197.0L1363.9 193.2L1364.4 189.2L1365.9 176.3L1366.4 172.2L1366.9 168.4L1367.4 165.2L1367.9 162.8L1368.4 161.4L1368.9 161.1L1369.4 161.8L1369.9 163.7L1370.4 166.4L1370.9 169.8L1371.4 173.8L1372.9 186.6L1373.4 190.8L1373.9 194.7L1374.4 198.4L1374.9 201.8L1375.4 205.0L1375.9 207.8L1376.4 210.4L1376.9 212.8L1377.4 215.0L1377.9 216.9L1378.4 218.7L1379.4 221.7L1380.4 224.2L1381.4 226.3L1382.9 228.8L1384.4 230.7L1386.4 232.6L1388.9 234.2L1391.9 235.5L1396.4 236.8L1404.4 238.3L1412.9 239.4L1428.9 240.1L1439.9 240.4L1449.9 240.2" fill="none" stroke="#000" stroke-width="2.9" stroke-linejoin="round"/>
<path d="M832.9 217.5L843.9 217.6L854.4 217.7L868.9 217.4L904.9 217.9L921.4 217.3L937.4 217.7L952.4 217.4L968.9 217.7L984.9 217.8L994.9 217.7L1008.4 217.3L1033.4 217.6L1045.4 218.0L1056.4 217.5L1064.9 217.3L1080.4 217.6L1095.4 217.6L1108.4 217.6L1122.9 217.6L1134.9 217.5L1146.4 217.3L1162.9 217.7L1178.9 217.8L1187.9 217.8L1201.9 217.0L1210.4 217.2L1224.4 217.7L1240.9 217.9L1258.4 217.2L1275.4 217.3L1286.9 217.2L1300.4 217.6L1318.4 217.3L1329.4 217.1L1343.9 216.4L1358.4 216.2L1366.4 215.5L1372.4 214.5L1376.4 213.4L1379.4 212.0L1381.9 210.4L1383.9 208.6L1385.4 206.8L1386.9 204.5L1387.9 202.6L1388.9 200.3L1389.9 197.4L1390.4 195.8L1390.9 194.0L1391.4 191.9L1391.9 189.6L1392.4 187.1L1392.9 184.2L1393.4 181.0L1393.9 177.4L1394.4 173.3L1394.9 168.8L1395.4 163.8L1395.9 158.3L1396.4 152.3L1396.9 145.9L1397.9 132.4L1398.4 126.0L1398.9 120.3L1399.4 115.8L1399.9 112.8L1400.4 111.8L1400.9 112.9L1401.4 115.8L1401.9 120.4L1402.4 126.2L1402.9 132.6L1403.9 146.1L1404.4 152.6L1404.9 158.6L1405.4 164.2L1405.9 169.2L1406.4 173.8L1406.9 177.8L1407.4 181.4L1407.9 184.7L1408.4 187.6L1408.9 190.1L1409.4 192.4L1409.9 194.4L1410.4 196.3L1410.9 197.9L1411.9 200.7L1412.9 203.0L1413.9 204.8L1415.4 207.1L1416.9 208.8L1418.9 210.5L1421.4 212.0L1424.9 213.4L1429.9 214.7L1435.9 215.7L1442.9 216.2L1449.9 216.3" fill="none" stroke="#000" stroke-width="2.9" stroke-linejoin="round"/>
<path d="M832.9 194.2L849.4 194.4L864.4 193.9L881.9 194.4L897.9 194.3L909.4 194.3L922.9 193.8L944.4 194.3L963.4 194.3L976.4 194.1L990.4 194.4L1005.9 193.8L1024.4 194.3L1042.4 194.4L1053.4 194.3L1065.9 194.0L1092.9 194.2L1103.9 194.3L1116.4 194.0L1131.4 194.5L1148.4 193.9L1169.4 194.2L1188.4 194.2L1202.4 193.9L1220.9 194.2L1233.9 194.4L1242.9 194.5L1257.9 193.7L1275.9 194.1L1290.4 193.9L1308.9 194.3L1324.4 194.1L1340.4 193.3L1358.9 193.6L1380.9 193.3L1387.4 192.6L1395.4 191.1L1401.4 189.5L1404.9 188.0L1407.4 186.6L1409.4 184.9L1410.9 183.3L1412.4 181.2L1413.4 179.3L1414.4 177.1L1415.4 174.5L1415.9 172.9L1416.4 171.1L1416.9 169.1L1417.4 166.9L1417.9 164.5L1418.4 161.7L1418.9 158.6L1419.4 155.1L1419.9 151.1L1420.4 146.7L1420.9 141.8L1421.4 136.4L1421.9 130.4L1422.4 123.9L1422.9 117.1L1423.9 103.1L1424.4 96.6L1424.9 91.1L1425.4 87.0L1425.9 84.7L1426.4 84.5L1426.9 86.4L1427.4 90.1L1427.9 95.4L1428.4 101.8L1429.9 122.6L1430.4 129.2L1430.9 135.2L1431.4 140.8L1431.9 145.8L1432.4 150.3L1432.9 154.3L1433.4 157.9L1433.9 161.1L1434.4 164.0L1434.9 166.5L1435.4 168.7L1435.9 170.8L1436.4 172.6L1436.9 174.2L1437.9 176.9L1438.9 179.2L1439.9 181.0L1441.4 183.2L1442.9 184.9L1444.9 186.6L1447.4 188.2L1449.9 189.3" fill="none" stroke="#000" stroke-width="2.9" stroke-linejoin="round"/>
</g>
<clipPath id="clipc"><rect x="99.0" y="618.8" width="612.8" height="530.6000000000001"/></clipPath>
<g clip-path="url(#clipc)">
<path d="M97.0 1134.4L97.0 1134.0L105.5 1134.0L111.0 1134.4L111.0 1134.4ZM132.0 1134.4L132.0 1134.4L140.0 1133.8L147.5 1134.0L155.0 1134.4L155.0 1134.4ZM163.0 1134.4L163.0 1134.4L175.0 1134.0L186.0 1134.4L186.0 1134.4ZM195.5 1134.4L195.5 1134.4L209.0 1133.7L221.5 1134.0L226.0 1134.4L226.0 1134.4ZM251.0 1134.4L251.0 1134.4L253.5 1133.8L258.0 1132.2L261.5 1130.6L264.0 1128.9L265.5 1127.5L266.5 1126.2L267.5 1124.6L268.5 1122.5L269.0 1121.2L269.5 1119.8L270.0 1118.2L270.5 1116.4L271.0 1114.4L271.5 1112.2L272.0 1109.8L272.5 1107.1L273.0 1104.3L273.5 1101.2L274.0 1097.9L275.0 1090.9L276.5 1080.2L277.0 1076.8L277.5 1073.8L278.0 1071.2L278.5 1069.2L279.0 1068.0L279.5 1067.4L280.0 1067.6L280.5 1068.0L281.0 1068.8L281.5 1069.8L282.0 1071.1L282.5 1072.5L283.0 1074.2L284.0 1078.0L285.5 1084.5L288.0 1095.8L289.5 1102.1L291.0 1107.8L292.0 1111.2L293.0 1114.2L294.0 1116.9L295.0 1119.2L296.5 1122.2L298.0 1124.5L299.5 1126.2L301.5 1128.0L304.0 1129.5L307.5 1130.8L320.5 1134.4L320.5 1134.4ZM419.0 1134.4L419.0 1134.4L421.5 1133.1L423.5 1131.6L425.0 1130.0L426.5 1128.0L428.0 1125.4L429.5 1122.4L431.0 1119.0L435.0 1109.0L436.0 1106.8L437.0 1105.1L437.5 1104.4L438.0 1103.9L438.5 1103.6L439.0 1103.5L439.5 1103.6L440.0 1103.8L441.0 1104.8L442.0 1106.3L443.0 1108.2L444.5 1111.6L448.0 1120.0L450.0 1124.2L451.5 1126.9L453.0 1129.2L454.5 1131.1L456.5 1133.1L458.0 1134.2L458.5 1134.4L458.5 1134.4ZM529.5 1134.4L529.5 1134.4L530.5 1133.9L533.0 1131.9L535.0 1129.8L537.5 1126.6L540.5 1122.0L543.5 1117.3L545.0 1115.3L546.5 1113.8L547.5 1113.3L548.5 1113.1L549.5 1113.3L550.5 1113.9L552.0 1115.4L554.0 1118.1L558.5 1125.1L561.0 1128.4L563.0 1130.6L565.0 1132.4L567.5 1134.0L568.5 1134.4L568.5 1134.4ZM613.5 1134.4L613.5 1134.4L615.0 1133.9L621.5 1130.8L630.5 1126.1L634.0 1124.7L637.0 1124.1L639.5 1124.1L642.0 1124.6L645.0 1125.7L649.5 1128.1L658.0 1133.1L660.5 1134.4L660.5 1134.4ZM706.0 1134.4L706.0 1134.4L709.0 1132.2L713.5 1128.4L713.5 1134.4Z" fill="#bfbfbf"/>
<path d="M97.0 1110.0L97.0 1109.8L105.5 1110.0L105.5 1110.0ZM134.0 1110.0L134.0 1110.0L143.0 1109.5L160.0 1109.5L171.0 1109.2L179.0 1109.7L182.0 1110.0L182.0 1110.0ZM200.5 1110.0L200.5 1110.0L209.0 1109.4L218.0 1109.6L228.5 1110.0L228.5 1110.0ZM253.5 1110.0L253.5 1110.0L258.5 1108.6L263.0 1106.8L266.0 1105.2L268.0 1103.7L269.5 1102.1L270.5 1100.6L271.5 1098.7L272.5 1096.2L273.0 1094.7L273.5 1093.0L274.0 1091.1L274.5 1089.0L275.0 1086.6L275.5 1084.1L276.0 1081.3L276.5 1078.3L277.0 1075.0L277.5 1071.6L278.5 1064.2L280.0 1053.0L280.5 1049.6L281.0 1046.5L281.5 1043.9L282.0 1042.0L282.5 1040.8L283.0 1040.4L283.5 1040.6L284.0 1041.2L284.5 1042.0L285.0 1043.0L285.5 1044.4L286.0 1046.0L286.5 1047.7L287.5 1051.7L289.0 1058.4L291.5 1070.0L293.0 1076.4L294.0 1080.3L295.0 1083.9L296.0 1087.2L297.0 1090.0L298.0 1092.6L299.5 1095.8L301.0 1098.3L302.5 1100.3L304.5 1102.3L307.0 1104.1L310.5 1105.8L318.0 1108.6L322.5 1110.0L322.5 1110.0ZM422.0 1110.0L422.0 1110.0L423.5 1109.2L425.5 1107.7L427.0 1106.1L428.5 1104.0L430.0 1101.5L431.5 1098.5L433.0 1095.0L435.5 1088.5L437.5 1083.3L438.5 1081.1L439.5 1079.4L440.0 1078.8L440.5 1078.3L441.0 1078.0L441.5 1078.0L442.0 1078.1L442.5 1078.4L443.5 1079.4L444.5 1081.1L445.5 1083.1L447.5 1088.0L450.0 1094.2L451.5 1097.6L453.0 1100.6L454.5 1103.2L456.0 1105.4L457.5 1107.1L459.5 1108.9L461.0 1109.9L461.5 1110.0L461.5 1110.0ZM530.0 1110.0L530.0 1110.0L531.0 1109.5L533.0 1108.0L535.0 1106.1L537.0 1103.7L539.5 1100.1L544.0 1093.0L545.5 1090.9L547.0 1089.4L548.0 1088.8L549.0 1088.6L550.0 1088.8L551.0 1089.3L552.5 1090.7L554.0 1092.7L559.5 1101.1L562.0 1104.3L564.0 1106.5L566.5 1108.5L569.0 1110.0L569.0 1110.0ZM614.5 1110.0L614.5 1110.0L621.0 1107.6L628.5 1104.1L634.0 1101.6L637.0 1100.7L639.5 1100.3L642.0 1100.5L645.0 1101.3L648.5 1102.8L660.0 1109.4L661.0 1109.9L661.5 1110.0L661.5 1110.0ZM705.5 1110.0L705.5 1110.0L706.0 1109.9L709.5 1107.5L713.5 1104.3L713.5 1110.0Z" fill="#bfbfbf"/>
<path d="M97.0 1085.6L97.0 1085.6L107.0 1085.6L107.0 1085.6ZM126.5 1085.6L126.5 1085.6L137.5 1084.9L145.0 1085.0L155.5 1085.6L155.5 1085.6ZM161.0 1085.6L161.0 1085.6L173.0 1085.3L180.0 1085.6L180.0 1085.6ZM199.5 1085.6L199.5 1085.6L208.5 1084.9L216.0 1084.9L227.5 1085.2L236.0 1085.1L242.0 1085.6L242.0 1085.6ZM261.0 1085.6L261.0 1085.6L265.5 1084.2L271.0 1081.9L274.0 1080.1L275.5 1078.9L277.0 1077.3L278.0 1075.9L279.0 1074.0L280.0 1071.7L280.5 1070.3L281.0 1068.7L281.5 1067.0L282.0 1065.0L282.5 1062.9L283.0 1060.6L283.5 1058.1L284.0 1055.5L284.5 1052.6L285.5 1046.5L287.5 1033.2L288.0 1030.1L288.5 1027.2L289.0 1024.6L289.5 1022.4L290.0 1020.8L290.5 1019.8L291.0 1019.5L291.5 1019.7L292.0 1020.2L292.5 1020.9L293.0 1021.9L293.5 1023.2L294.0 1024.6L295.0 1028.1L296.0 1032.0L299.5 1047.2L301.0 1053.2L302.5 1058.6L303.5 1061.9L304.5 1064.8L306.0 1068.5L307.5 1071.6L309.0 1074.1L310.5 1076.1L312.5 1078.1L315.0 1080.0L318.5 1082.0L323.0 1083.8L328.5 1085.4L329.5 1085.6L329.5 1085.6ZM426.5 1085.6L426.5 1085.6L428.5 1084.4L430.5 1082.7L432.0 1081.0L433.5 1078.9L435.0 1076.2L436.5 1073.1L438.0 1069.6L442.0 1059.0L443.0 1056.7L444.0 1054.7L444.5 1053.9L445.0 1053.3L445.5 1052.9L446.0 1052.7L446.5 1052.6L447.0 1052.8L447.5 1053.1L448.5 1054.3L449.5 1056.0L450.5 1058.2L452.5 1063.3L455.0 1069.7L456.5 1073.3L458.0 1076.4L459.5 1079.0L461.0 1081.2L462.5 1082.9L464.5 1084.6L466.0 1085.6L466.5 1085.6L466.5 1085.6ZM531.5 1085.6L531.5 1085.6L533.0 1084.7L535.5 1082.5L538.0 1079.8L540.5 1076.4L544.5 1070.7L546.0 1068.8L547.5 1067.4L548.5 1066.8L549.5 1066.6L550.5 1066.7L551.5 1067.1L553.0 1068.4L555.0 1070.8L560.0 1077.6L562.5 1080.5L565.0 1082.8L567.5 1084.6L569.5 1085.6L570.0 1085.6L570.0 1085.6ZM620.5 1085.6L620.5 1085.6L626.5 1083.4L637.0 1078.7L640.0 1077.8L643.0 1077.4L646.0 1077.7L649.0 1078.5L653.0 1080.3L663.0 1085.6L663.0 1085.6ZM707.0 1085.6L707.0 1085.6L707.5 1085.5L712.0 1082.3L713.5 1081.1L713.5 1085.6Z" fill="#bfbfbf"/>
<path d="M97.0 1061.0L97.0 1060.6L104.5 1060.5L111.5 1061.0L111.5 1061.0ZM131.5 1061.0L131.5 1061.0L140.0 1060.3L147.0 1060.4L159.0 1061.0L176.5 1060.6L185.0 1061.0L185.0 1061.0ZM202.0 1061.0L202.0 1061.0L213.0 1060.8L224.5 1060.8L241.5 1059.8L246.0 1059.9L252.5 1060.8L254.0 1061.0L254.0 1061.0ZM270.5 1061.0L270.5 1061.0L276.0 1059.6L281.5 1057.6L284.0 1056.4L286.0 1055.0L287.5 1053.4L288.5 1052.0L289.5 1050.3L290.5 1048.1L291.5 1045.4L292.0 1043.8L292.5 1042.1L293.0 1040.2L293.5 1038.1L294.0 1035.8L294.5 1033.4L295.0 1030.8L296.0 1025.1L297.0 1018.9L299.0 1006.0L299.5 1003.0L300.0 1000.2L300.5 997.7L301.0 995.6L301.5 994.0L302.0 992.9L302.5 992.5L303.0 992.5L303.5 992.9L304.0 993.5L304.5 994.5L305.0 995.7L305.5 997.1L306.0 998.7L307.0 1002.4L308.5 1008.8L311.0 1020.0L312.5 1026.3L314.0 1032.1L315.0 1035.5L316.0 1038.6L317.0 1041.4L318.5 1045.0L320.0 1047.9L321.5 1050.2L323.0 1052.1L325.0 1054.0L327.5 1055.8L330.5 1057.3L335.5 1059.1L342.5 1061.0L342.5 1061.0ZM435.5 1061.0L435.5 1061.0L436.0 1060.8L438.0 1059.4L440.0 1057.4L441.5 1055.4L443.0 1053.0L444.5 1050.2L446.0 1046.9L448.0 1042.0L450.5 1035.5L451.5 1033.2L452.5 1031.3L453.5 1029.9L454.0 1029.4L454.5 1029.2L455.0 1029.1L455.5 1029.2L456.0 1029.5L457.0 1030.6L458.0 1032.2L459.0 1034.3L461.0 1039.1L463.5 1045.3L465.0 1048.7L466.5 1051.6L468.0 1054.1L469.5 1056.1L471.0 1057.7L473.0 1059.3L475.5 1060.6L476.5 1061.0L477.0 1061.0L477.0 1061.0ZM535.0 1061.0L535.0 1061.0L536.5 1060.0L539.0 1057.8L542.0 1054.6L546.5 1049.3L548.5 1047.4L550.0 1046.5L551.5 1046.2L553.0 1046.5L554.5 1047.4L556.5 1049.3L562.0 1055.5L564.5 1058.0L567.0 1059.9L569.0 1061.0L569.0 1061.0ZM626.0 1061.0L626.0 1061.0L627.0 1060.8L635.0 1057.9L640.0 1056.1L643.5 1055.4L646.5 1055.3L649.5 1055.8L653.5 1057.2L662.0 1061.0L662.5 1061.0L662.5 1061.0ZM711.5 1061.0L711.5 1061.0L713.5 1060.0L713.5 1061.0Z" fill="#bfbfbf"/>
<path d="M132.0 1036.4L132.0 1036.4L140.5 1035.9L150.0 1036.0L159.5 1036.2L173.0 1035.9L182.5 1036.4L182.5 1036.4ZM198.0 1036.4L198.0 1036.4L207.5 1035.8L215.0 1036.0L220.5 1036.4L220.5 1036.4ZM232.5 1036.4L232.5 1036.4L245.5 1035.7L264.0 1035.6L271.5 1036.2L273.0 1036.4L273.0 1036.4ZM289.5 1036.4L289.5 1036.4L293.0 1035.2L296.5 1033.5L299.0 1031.9L301.0 1030.1L302.5 1028.5L304.0 1026.4L305.5 1023.8L306.5 1021.6L307.5 1019.1L308.5 1016.1L309.5 1012.7L310.5 1008.8L311.5 1004.5L313.0 997.4L315.0 987.4L316.0 982.8L316.5 980.7L317.0 978.8L317.5 977.2L318.0 976.0L318.5 975.1L319.0 974.6L319.5 974.5L320.0 974.8L320.5 975.4L321.0 976.2L321.5 977.3L322.0 978.7L322.5 980.2L323.5 983.8L325.0 990.1L327.5 1000.9L329.0 1006.9L330.0 1010.5L331.0 1013.8L332.0 1016.8L333.0 1019.4L334.5 1022.8L336.0 1025.4L337.5 1027.5L339.0 1029.2L341.0 1030.8L344.0 1032.5L349.0 1034.6L354.5 1036.4L354.5 1036.4ZM447.0 1036.4L447.0 1036.4L448.5 1035.7L450.5 1034.2L452.0 1032.7L453.5 1030.8L455.0 1028.5L456.5 1025.7L458.5 1021.5L461.5 1014.8L462.5 1012.8L463.5 1011.2L464.5 1010.1L465.0 1009.8L465.5 1009.6L466.5 1009.8L467.5 1010.6L468.5 1011.8L470.0 1014.4L474.5 1023.4L476.5 1027.0L478.5 1029.9L480.5 1032.2L482.5 1034.0L485.0 1035.6L486.5 1036.3L487.0 1036.4L487.0 1036.4ZM539.5 1036.4L539.5 1036.4L542.5 1034.4L549.5 1029.0L551.5 1027.9L553.5 1027.2L555.0 1027.2L557.0 1027.8L559.5 1029.2L566.0 1033.9L569.5 1035.9L570.5 1036.4L570.5 1036.4Z" fill="#bfbfbf"/>
<path d="M131.5 1012.0L131.5 1012.0L140.5 1011.4L150.0 1011.6L160.0 1011.7L172.5 1011.5L181.0 1012.0L181.0 1012.0ZM201.5 1012.0L201.5 1012.0L209.5 1011.6L218.5 1012.0L218.5 1012.0ZM232.0 1012.0L232.0 1012.0L244.0 1011.3L264.0 1011.3L275.5 1011.2L282.0 1011.6L285.0 1012.0L285.0 1012.0ZM307.0 1012.0L307.0 1012.0L311.0 1010.8L316.0 1008.8L319.0 1007.1L321.0 1005.7L322.5 1004.2L324.0 1002.3L325.5 999.8L326.5 997.7L327.5 995.2L328.5 992.4L329.5 989.0L330.5 985.3L331.5 981.2L333.0 974.4L335.0 965.1L336.0 961.0L336.5 959.2L337.0 957.6L337.5 956.4L338.0 955.4L338.5 954.9L339.0 954.7L339.5 954.8L340.0 955.3L340.5 956.0L341.0 956.9L341.5 958.1L342.0 959.5L343.0 962.8L344.0 966.5L347.5 980.5L349.0 986.0L350.5 990.8L352.0 995.0L353.5 998.6L355.0 1001.4L356.5 1003.7L358.0 1005.5L360.0 1007.3L362.5 1008.8L365.5 1009.9L370.5 1011.1L376.0 1012.0L376.0 1012.0ZM462.0 1012.0L462.0 1012.0L462.5 1011.8L464.5 1010.1L466.0 1008.5L467.5 1006.4L469.0 1004.0L471.0 1000.2L475.0 991.8L476.0 990.0L477.0 988.6L478.0 987.6L479.0 987.3L480.0 987.5L481.0 988.3L482.0 989.5L483.5 991.9L488.0 1000.6L490.0 1004.0L492.0 1006.9L494.0 1009.1L496.0 1010.8L498.0 1012.0L498.0 1012.0ZM542.0 1012.0L542.0 1012.0L548.0 1009.1L553.0 1006.8L556.0 1005.9L558.5 1005.6L561.0 1005.8L564.0 1006.7L575.5 1011.5L577.0 1012.0L577.0 1012.0Z" fill="#bfbfbf"/>
<path d="M97.0 987.0L97.0 986.7L106.0 987.0L106.0 987.0ZM132.0 987.0L132.0 987.0L140.0 986.5L148.0 986.7L152.5 987.0L152.5 987.0ZM163.0 987.0L163.0 987.0L173.5 986.6L182.5 987.0L182.5 987.0ZM199.0 987.0L199.0 987.0L208.5 986.4L216.5 986.6L225.0 987.0L225.0 987.0ZM235.5 987.0L235.5 987.0L248.0 986.9L250.0 987.0L250.0 987.0ZM259.5 987.0L259.5 987.0L273.5 986.5L283.5 986.9L285.0 987.0L285.0 987.0ZM294.0 987.0L294.0 987.0L307.5 985.7L312.0 985.9L318.5 987.0L318.5 987.0ZM335.0 987.0L335.0 987.0L339.5 985.4L343.5 983.5L346.5 981.6L348.5 979.8L350.0 978.1L351.5 975.8L352.5 973.9L353.5 971.6L354.5 969.0L355.5 965.9L356.5 962.5L357.5 958.6L359.0 952.4L361.0 943.8L362.0 939.9L362.5 938.2L363.0 936.7L363.5 935.6L364.0 934.7L364.5 934.2L365.0 934.0L365.5 934.1L366.0 934.5L366.5 935.2L367.0 936.1L367.5 937.1L368.0 938.4L369.0 941.4L370.5 946.7L373.5 957.6L375.0 962.6L376.5 967.1L378.0 970.9L379.5 974.0L381.0 976.6L382.5 978.7L384.0 980.3L386.0 981.9L388.5 983.3L392.0 984.7L397.0 985.9L405.0 987.0L405.0 987.0ZM475.0 987.0L475.0 987.0L476.5 986.4L479.0 984.8L481.5 982.7L484.0 980.0L487.0 976.0L489.5 972.5L491.0 970.9L492.0 970.1L493.0 969.7L494.0 969.7L495.0 970.0L496.5 971.2L498.5 973.6L502.5 979.0L505.0 981.8L507.5 984.0L510.0 985.5L513.0 986.8L514.0 987.0L514.0 987.0ZM550.5 987.0L550.5 987.0L564.5 984.7L569.0 984.4L573.5 984.7L579.5 985.8L584.5 987.0L584.5 987.0Z" fill="#bfbfbf"/>
<path d="M97.0 962.4L97.0 962.3L105.0 962.1L110.0 962.4L110.0 962.4ZM134.5 962.4L134.5 962.4L142.0 961.8L149.5 961.8L162.5 962.3L178.0 962.4L178.0 962.4ZM195.5 962.4L195.5 962.4L206.0 962.0L214.5 962.4L214.5 962.4ZM232.5 962.4L232.5 962.4L241.5 961.9L250.0 962.2L253.5 962.4L253.5 962.4ZM264.0 962.4L264.0 962.4L275.0 961.8L282.5 962.0L287.5 962.4L287.5 962.4ZM302.0 962.4L302.0 962.4L313.5 961.7L333.5 961.8L339.5 962.4L339.5 962.4ZM361.5 962.4L361.5 962.4L365.0 961.0L368.5 959.0L371.0 957.3L373.0 955.5L374.5 953.8L376.0 951.6L377.5 948.9L378.5 946.6L379.5 944.0L380.5 941.0L381.5 937.6L383.0 932.0L386.0 919.7L387.0 916.0L387.5 914.4L388.0 913.0L388.5 911.9L389.0 911.1L389.5 910.6L390.0 910.5L390.5 910.7L391.0 911.2L391.5 911.9L392.0 912.9L392.5 914.1L393.0 915.6L394.0 918.8L395.5 924.4L398.0 933.9L399.5 939.1L401.0 943.6L402.0 946.2L403.5 949.5L405.0 952.1L406.5 954.2L408.0 955.8L410.0 957.3L412.5 958.7L417.0 960.3L424.5 962.3L425.0 962.4L425.0 962.4ZM491.0 962.4L491.0 962.4L493.5 961.5L496.0 960.1L498.5 958.3L504.0 953.3L505.5 952.4L507.0 951.9L508.5 952.1L510.0 952.8L512.0 954.4L517.5 959.6L520.5 961.9L521.5 962.4L521.5 962.4Z" fill="#bfbfbf"/>
<path d="M97.0 937.6L97.0 937.2L105.0 937.1L112.0 937.6L112.0 937.6ZM132.5 937.6L132.5 937.6L140.5 937.0L148.0 937.2L155.0 937.6L155.0 937.6ZM166.0 937.6L166.0 937.6L176.5 937.5L180.5 937.6L180.5 937.6ZM204.5 937.6L204.5 937.6L214.0 937.6L214.0 937.6ZM228.5 937.6L228.5 937.6L241.0 936.9L250.0 937.2L260.0 937.5L274.0 937.4L278.5 937.6L278.5 937.6ZM304.5 937.6L304.5 937.6L312.5 936.8L320.5 936.7L336.0 936.9L346.5 937.1L355.5 937.6L355.5 937.6ZM370.0 937.6L370.0 937.6L385.5 936.9L390.0 936.3L393.5 935.2L396.0 934.1L398.0 932.7L399.5 931.3L401.0 929.5L402.5 927.2L404.0 924.2L405.5 920.6L407.0 916.3L408.5 911.3L411.5 900.7L412.5 897.6L413.0 896.2L413.5 895.1L414.0 894.2L414.5 893.6L415.0 893.2L415.5 893.2L416.0 893.4L416.5 893.8L417.0 894.5L417.5 895.4L418.0 896.4L419.0 899.0L420.5 903.7L423.5 913.6L425.0 918.0L426.5 922.0L428.0 925.3L429.5 928.0L431.0 930.1L432.5 931.8L434.5 933.4L437.0 934.8L440.0 935.7L445.5 936.7L453.0 937.6L453.0 937.6ZM507.0 937.6L507.0 937.6L511.5 936.6L518.0 934.6L520.5 934.3L523.0 934.6L531.0 937.1L533.5 937.6L533.5 937.6Z" fill="#bfbfbf"/>
<path d="M97.0 925.6L97.0 925.5L105.5 925.6L105.5 925.6ZM130.0 925.6L130.0 925.6L139.0 924.9L145.5 924.9L155.5 925.6L155.5 925.6ZM165.5 925.6L165.5 925.6L175.0 925.5L178.5 925.6L178.5 925.6ZM203.5 925.6L203.5 925.6L212.0 925.3L228.5 925.5L243.0 925.3L254.0 925.6L254.0 925.6ZM260.5 925.6L260.5 925.6L273.0 925.3L279.0 925.6L279.0 925.6ZM302.5 925.6L302.5 925.6L310.5 924.9L317.5 924.9L329.5 925.4L346.5 925.2L356.0 925.6L356.0 925.6ZM365.5 925.6L365.5 925.6L376.5 925.1L389.0 925.6L389.0 925.6ZM394.0 925.6L394.0 925.6L399.5 925.1L404.0 924.2L408.0 922.9L411.0 921.4L413.0 919.9L414.5 918.4L416.0 916.5L417.5 914.1L419.0 911.1L420.5 907.6L422.0 903.5L424.5 896.4L425.5 893.8L426.5 891.7L427.0 890.9L427.5 890.3L428.0 890.0L428.5 889.9L429.0 890.0L429.5 890.3L430.0 890.7L431.0 892.2L432.0 894.2L433.5 897.8L436.5 905.6L438.0 909.1L439.5 912.2L441.0 914.9L442.5 917.1L444.0 918.8L446.0 920.7L448.5 922.4L451.5 923.8L456.0 925.2L458.0 925.6L458.0 925.6ZM514.0 925.6L514.0 925.6L519.0 924.7L524.0 923.7L527.0 923.6L531.0 924.3L537.0 925.5L538.0 925.6L538.0 925.6Z" fill="#bfbfbf"/>
<path d="M97.0 913.0L97.0 912.4L105.5 912.8L107.5 913.0L107.5 913.0ZM135.0 913.0L135.0 913.0L142.0 912.5L151.0 912.7L160.0 912.9L173.5 912.5L181.5 912.8L183.5 913.0L183.5 913.0ZM207.5 913.0L207.5 913.0L218.0 913.0L219.5 913.0L219.5 913.0ZM226.5 913.0L226.5 913.0L241.5 912.6L252.0 913.0L252.0 913.0ZM266.0 913.0L266.0 913.0L275.0 912.9L277.0 913.0L277.0 913.0ZM300.5 913.0L300.5 913.0L309.0 912.0L315.0 911.9L332.0 913.0L333.0 913.0L333.0 913.0ZM370.0 913.0L370.0 913.0L379.0 912.3L387.5 912.5L396.0 912.6L402.0 912.2L407.0 911.3L411.5 909.9L416.0 908.0L421.5 904.9L429.0 900.5L432.0 899.1L434.5 898.4L437.0 898.3L439.5 898.8L442.0 899.7L445.5 901.8L455.0 908.5L458.5 910.6L462.0 912.1L465.5 913.0L465.5 913.0Z" fill="#bfbfbf"/>
<path d="M130.0 901.0L130.0 901.0L140.0 900.4L148.5 900.5L161.0 900.8L173.0 901.0L174.0 901.0L174.0 901.0ZM200.5 901.0L200.5 901.0L208.5 900.5L216.0 900.7L220.0 901.0L220.0 901.0ZM233.5 901.0L233.5 901.0L244.0 900.5L255.5 900.8L266.5 900.9L277.5 901.0L277.5 901.0ZM303.5 901.0L303.5 901.0L312.0 900.7L327.5 900.9L342.0 900.4L350.0 900.8L353.0 901.0L353.0 901.0ZM368.5 901.0L368.5 901.0L378.5 900.4L384.5 900.6L388.5 901.0L388.5 901.0ZM410.0 901.0L410.0 901.0L416.5 899.8L420.0 898.7L422.5 897.6L424.5 896.3L426.5 894.5L428.5 892.2L431.0 888.7L433.5 885.0L435.0 883.2L436.0 882.5L437.0 882.3L438.0 882.4L439.5 883.2L441.0 884.6L444.0 888.2L447.5 892.4L450.0 894.9L452.5 896.8L455.0 898.1L457.5 898.8L460.0 898.8L462.5 898.2L465.0 897.0L469.0 894.5L470.5 893.9L472.0 893.9L473.5 894.4L477.0 896.5L480.5 898.5L484.0 899.9L488.5 900.9L489.0 901.0L489.0 901.0Z" fill="#bfbfbf"/>
<path d="M97.0 889.0L97.0 888.7L106.5 889.0L107.0 889.0L107.0 889.0ZM135.5 889.0L135.5 889.0L143.0 888.7L158.0 888.9L172.5 888.3L180.0 888.7L183.5 889.0L183.5 889.0ZM207.0 889.0L207.0 889.0L213.0 889.0L213.0 889.0ZM234.5 889.0L234.5 889.0L244.5 888.6L263.0 888.8L274.0 888.8L278.0 889.0L278.0 889.0ZM302.0 889.0L302.0 889.0L310.0 888.3L317.0 888.3L330.0 888.9L345.0 888.9L347.0 889.0L347.0 889.0ZM372.0 889.0L372.0 889.0L381.0 888.4L407.0 888.4L416.0 889.0L416.0 889.0ZM429.5 889.0L429.5 889.0L433.5 888.2L437.5 886.8L440.5 885.2L442.5 883.7L444.5 881.7L446.0 879.8L447.5 877.4L449.5 873.8L451.5 870.0L452.5 868.4L453.5 867.1L454.0 866.7L454.5 866.5L455.0 866.4L456.0 866.8L457.0 867.8L458.0 869.3L460.0 873.0L462.5 877.5L464.0 879.9L465.5 881.8L467.0 883.3L469.0 884.8L471.0 885.7L473.5 886.3L476.5 886.5L479.5 886.1L482.5 885.2L485.5 883.7L489.5 881.2L491.0 880.7L492.5 880.8L494.0 881.4L496.5 883.4L499.5 885.7L502.0 887.2L505.0 888.4L507.5 889.0L507.5 889.0Z" fill="#bfbfbf"/>
<path d="M97.0 877.0L97.0 876.5L106.5 876.8L108.5 877.0L108.5 877.0ZM132.0 877.0L132.0 877.0L140.0 876.6L148.0 876.8L152.0 877.0L152.0 877.0ZM163.0 877.0L163.0 877.0L173.0 876.6L181.0 877.0L181.0 877.0ZM204.5 877.0L204.5 877.0L213.0 876.7L229.0 876.8L243.5 876.6L256.5 877.0L256.5 877.0ZM301.0 877.0L301.0 877.0L309.5 876.0L315.5 875.9L330.5 876.7L345.5 876.8L348.5 877.0L348.5 877.0ZM376.0 877.0L376.0 877.0L385.5 876.7L400.0 876.5L411.0 876.4L419.5 876.8L421.5 877.0L421.5 877.0ZM438.0 877.0L438.0 877.0L449.5 875.9L454.5 875.0L457.0 874.2L459.0 873.1L460.5 872.0L462.0 870.5L463.5 868.4L465.0 865.8L466.5 862.8L469.0 857.2L470.0 855.2L470.5 854.4L471.0 853.8L471.5 853.4L472.0 853.1L472.5 853.1L473.0 853.3L473.5 853.6L474.5 854.8L475.5 856.5L479.0 863.4L480.5 866.0L482.0 868.3L483.5 870.1L485.5 871.9L487.5 873.2L490.0 874.3L493.0 875.1L496.0 875.4L498.5 875.3L501.0 874.6L503.0 873.6L505.0 872.1L507.5 869.6L510.0 866.9L511.5 865.6L512.5 865.2L513.5 865.3L514.5 865.7L516.0 867.0L520.5 872.0L522.5 873.8L524.5 875.1L527.0 876.2L530.0 877.0L530.5 877.0L530.5 877.0Z" fill="#bfbfbf"/>
<path d="M97.0 864.4L97.0 863.9L104.5 863.8L111.5 864.4L111.5 864.4ZM136.5 864.4L136.5 864.4L143.5 864.0L153.5 864.2L158.5 864.4L158.5 864.4ZM162.0 864.4L162.0 864.4L176.5 864.1L184.5 864.4L184.5 864.4ZM199.5 864.4L199.5 864.4L209.5 864.3L211.0 864.4L211.0 864.4ZM231.5 864.4L231.5 864.4L241.0 863.9L249.0 864.1L253.5 864.4L253.5 864.4ZM266.0 864.4L266.0 864.4L275.0 864.1L281.0 864.4L281.0 864.4ZM304.0 864.4L304.0 864.4L313.0 863.6L321.0 863.6L343.0 864.4L343.0 864.4ZM371.0 864.4L371.0 864.4L379.0 864.0L394.5 864.3L410.5 863.4L417.5 863.7L426.5 864.4L426.5 864.4ZM441.0 864.4L441.0 864.4L446.0 864.4L446.0 864.4ZM463.5 864.4L463.5 864.4L467.5 863.6L471.5 862.3L475.0 860.6L477.5 858.9L479.5 857.0L481.0 855.2L482.5 852.8L484.0 850.0L485.5 846.5L488.0 840.4L489.0 838.4L489.5 837.6L490.0 837.0L490.5 836.6L491.0 836.5L491.5 836.6L492.0 837.1L492.5 837.7L493.0 838.5L494.0 840.7L497.0 848.2L498.5 851.5L500.0 854.2L501.5 856.4L503.0 858.0L505.0 859.6L507.5 860.9L510.5 861.8L514.0 862.3L517.0 862.2L519.5 861.6L521.5 860.5L523.5 858.9L525.5 856.6L529.0 851.9L530.0 850.8L531.0 850.0L532.0 849.7L533.0 850.0L534.0 850.7L535.5 852.3L539.0 856.9L541.0 859.0L543.0 860.5L545.5 861.8L549.0 862.9L557.5 864.4L557.5 864.4Z" fill="#bfbfbf"/>
<path d="M99.5 852.0L99.5 852.0L106.5 852.0L106.5 852.0ZM134.5 852.0L134.5 852.0L143.0 851.4L152.0 851.5L166.0 851.8L175.5 852.0L175.5 852.0ZM197.5 852.0L197.5 852.0L206.5 851.6L214.0 851.8L216.5 852.0L216.5 852.0ZM234.5 852.0L234.5 852.0L243.0 851.6L252.5 852.0L252.5 852.0ZM267.5 852.0L267.5 852.0L277.0 851.7L286.0 852.0L286.0 852.0ZM302.5 852.0L302.5 852.0L312.5 851.6L331.0 851.9L343.0 851.9L344.5 852.0L344.5 852.0ZM367.5 852.0L367.5 852.0L376.5 851.3L383.0 851.4L392.0 852.0L392.0 852.0ZM401.5 852.0L401.5 852.0L413.5 851.5L424.5 851.8L433.5 852.0L447.5 851.6L456.0 852.0L456.0 852.0ZM471.5 852.0L471.5 852.0L481.0 851.0L487.0 849.8L491.0 848.5L493.5 847.3L495.5 845.8L497.0 844.4L498.5 842.5L500.0 840.1L501.5 837.1L503.0 833.4L506.0 825.0L507.0 822.6L507.5 821.7L508.0 821.0L508.5 820.6L509.0 820.5L509.5 820.6L510.0 821.1L510.5 821.8L511.0 822.7L512.0 825.2L515.0 833.7L516.5 837.5L518.0 840.7L519.5 843.2L521.0 845.2L522.5 846.8L524.5 848.2L527.0 849.4L529.5 850.1L532.5 850.3L535.0 849.9L537.0 849.2L539.0 848.0L540.5 846.8L542.0 845.1L543.5 843.0L545.0 840.5L549.0 832.6L550.0 831.0L551.0 830.0L551.5 829.7L552.0 829.6L552.5 829.7L553.0 830.0L554.0 831.2L555.0 832.8L559.0 840.8L560.5 843.4L562.0 845.5L563.5 847.2L565.5 848.9L567.5 850.0L570.0 850.8L574.0 851.5L583.0 852.0L583.0 852.0Z" fill="#bfbfbf"/>
<path d="M97.0 840.0L97.0 839.6L106.0 839.9L107.5 840.0L107.5 840.0ZM135.0 840.0L135.0 840.0L142.5 839.7L152.0 840.0L152.0 840.0ZM159.5 840.0L159.5 840.0L173.0 839.3L180.5 839.6L186.0 840.0L186.0 840.0ZM205.0 840.0L205.0 840.0L213.5 840.0L213.5 840.0ZM237.5 840.0L237.5 840.0L248.0 839.8L261.0 839.8L272.5 839.5L280.0 840.0L280.0 840.0ZM302.0 840.0L302.0 840.0L310.0 839.3L316.5 839.3L330.0 840.0L330.5 840.0L330.5 840.0ZM334.5 840.0L334.5 840.0L346.0 840.0L346.0 840.0ZM373.0 840.0L373.0 840.0L383.0 839.5L399.0 839.4L409.5 839.2L418.5 839.7L422.0 840.0L422.0 840.0ZM437.5 840.0L437.5 840.0L446.0 839.7L452.0 840.0L452.0 840.0ZM467.0 840.0L467.0 840.0L479.0 838.7L486.5 838.6L495.5 838.6L500.0 838.1L504.0 837.2L507.5 835.8L510.0 834.4L512.0 832.8L513.5 831.3L515.0 829.4L516.5 826.9L517.5 824.8L518.5 822.5L519.5 819.7L521.0 815.0L523.0 808.2L523.5 806.7L524.0 805.4L524.5 804.2L525.0 803.4L525.5 802.9L526.0 802.7L526.5 802.9L527.0 803.5L527.5 804.4L528.0 805.5L528.5 806.9L529.5 810.2L531.5 817.1L532.5 820.2L533.5 822.9L534.5 825.3L535.5 827.4L537.0 829.8L538.5 831.6L540.0 833.0L542.0 834.3L544.5 835.3L547.5 835.9L551.0 836.1L553.5 835.7L555.5 835.1L557.5 833.9L559.0 832.6L560.5 830.8L562.0 828.4L563.5 825.3L565.0 821.7L567.5 815.1L568.5 812.7L569.0 811.7L569.5 810.9L570.0 810.3L570.5 809.9L571.0 809.8L571.5 809.9L572.0 810.3L572.5 810.9L573.0 811.7L574.0 813.9L575.5 817.8L577.5 823.1L579.0 826.6L580.5 829.6L582.0 832.1L583.5 834.0L585.0 835.5L587.0 836.9L589.5 838.2L593.0 839.3L596.5 840.0L596.5 840.0Z" fill="#bfbfbf"/>
<path d="M97.0 815.6L97.0 815.2L106.5 815.3L112.0 815.6L112.0 815.6ZM134.5 815.6L134.5 815.6L142.5 815.4L148.0 815.6L148.0 815.6ZM163.5 815.6L163.5 815.6L173.0 815.2L181.5 815.6L181.5 815.6ZM199.5 815.6L199.5 815.6L208.5 815.1L216.5 815.4L219.5 815.6L219.5 815.6ZM235.5 815.6L235.5 815.6L245.5 815.3L263.5 815.6L274.5 815.6L274.5 815.6ZM301.5 815.6L301.5 815.6L310.5 814.9L318.0 814.9L330.0 815.3L343.0 815.2L349.0 815.6L349.0 815.6ZM377.0 815.6L377.0 815.6L385.5 815.4L398.5 815.4L411.5 814.9L430.0 815.5L444.5 815.4L449.5 815.6L449.5 815.6ZM470.5 815.6L470.5 815.6L480.0 814.7L487.0 814.6L500.0 815.1L512.5 815.1L521.5 815.6L521.5 815.6ZM529.0 815.6L529.0 815.6L533.0 815.1L537.0 814.1L541.0 812.5L544.0 810.8L546.0 809.3L547.5 807.8L549.0 805.7L550.0 804.0L551.0 802.0L552.0 799.6L553.0 796.8L554.0 793.5L555.0 789.8L558.0 777.7L558.5 776.0L559.0 774.4L559.5 773.1L560.0 772.1L560.5 771.5L561.0 771.3L561.5 771.5L562.0 772.2L562.5 773.2L563.0 774.6L563.5 776.2L564.5 780.0L567.0 790.3L568.0 794.0L569.0 797.3L570.0 800.2L571.0 802.6L572.0 804.6L573.0 806.2L574.5 808.1L576.0 809.5L578.0 810.7L580.5 811.7L584.0 812.3L587.5 812.5L590.0 812.2L592.0 811.5L593.5 810.7L595.0 809.5L596.5 807.7L597.5 806.1L598.5 804.2L599.5 801.8L600.5 798.9L601.5 795.5L602.5 791.7L603.5 787.4L605.5 778.2L606.5 774.0L607.0 772.2L607.5 770.8L608.0 769.6L608.5 768.9L609.0 768.6L609.5 768.8L610.0 769.5L610.5 770.5L611.0 772.0L611.5 773.7L612.0 775.7L613.5 782.3L615.0 788.9L616.0 792.9L617.0 796.5L618.0 799.7L619.0 802.3L620.0 804.6L621.0 806.4L622.5 808.6L624.0 810.2L626.0 811.7L628.5 813.0L632.0 814.1L636.5 814.8L643.0 815.0L653.0 815.2L658.0 815.6L658.0 815.6Z" fill="#bfbfbf"/>
<path d="M97.5 791.0L97.5 791.0L107.5 790.8L111.5 791.0L111.5 791.0ZM134.0 791.0L134.0 791.0L143.0 790.6L161.0 790.9L173.0 790.9L176.0 791.0L176.0 791.0ZM198.0 791.0L198.0 791.0L207.0 790.4L214.0 790.6L218.5 791.0L218.5 791.0ZM235.0 791.0L235.0 791.0L244.0 790.6L254.0 790.9L257.0 791.0L257.0 791.0ZM302.0 791.0L302.0 791.0L311.5 790.5L329.0 790.7L341.0 790.5L349.0 791.0L349.0 791.0ZM372.0 791.0L372.0 791.0L380.0 790.6L388.5 790.8L391.5 791.0L391.5 791.0ZM403.0 791.0L403.0 791.0L414.5 790.5L434.0 790.8L446.0 790.9L449.0 791.0L449.0 791.0ZM470.0 791.0L470.0 791.0L479.5 790.3L488.0 790.4L498.0 790.7L512.5 790.3L521.0 790.7L524.5 791.0L524.5 791.0ZM535.5 791.0L535.5 791.0L548.0 790.0L558.5 789.9L565.0 789.7L569.5 789.1L573.5 787.9L576.5 786.6L579.0 785.1L580.5 783.8L582.0 782.1L583.5 779.8L584.5 777.8L585.5 775.5L586.5 772.6L587.5 769.2L588.5 765.3L589.5 760.9L591.0 753.6L592.5 746.3L593.0 744.0L593.5 742.0L594.0 740.3L594.5 739.0L595.0 738.2L595.5 737.8L596.0 738.0L596.5 738.7L597.0 739.8L597.5 741.4L598.0 743.3L598.5 745.5L599.5 750.3L601.5 760.2L602.5 764.7L603.5 768.7L604.5 772.2L605.5 775.1L606.5 777.5L607.5 779.5L608.5 781.1L610.0 782.9L611.5 784.2L613.5 785.3L616.0 786.2L619.5 786.8L623.0 786.8L626.0 786.3L628.5 785.4L630.0 784.4L631.5 783.1L633.0 781.2L634.0 779.5L635.0 777.3L636.0 774.7L637.0 771.5L637.5 769.6L638.0 767.6L638.5 765.4L639.0 763.0L639.5 760.5L640.0 757.8L641.0 751.8L642.0 745.4L643.5 735.4L644.0 732.3L644.5 729.4L645.0 726.8L645.5 724.7L646.0 723.1L646.5 722.0L647.0 721.7L647.5 722.0L648.0 723.0L648.5 724.6L649.0 726.7L649.5 729.2L650.0 732.1L651.0 738.5L652.5 748.4L653.5 754.6L654.0 757.4L654.5 760.2L655.0 762.7L655.5 765.1L656.0 767.3L656.5 769.3L657.5 772.9L658.5 775.9L659.5 778.4L660.5 780.4L661.5 782.0L663.0 783.9L664.5 785.3L666.5 786.7L669.0 787.9L672.5 788.9L678.0 789.8L689.5 791.0L689.5 791.0Z" fill="#bfbfbf"/>
<path d="M97.0 766.0L97.0 765.9L106.0 765.8L110.0 766.0L110.0 766.0ZM134.0 766.0L134.0 766.0L142.5 765.4L151.5 765.4L174.0 765.9L176.0 766.0L176.0 766.0ZM205.0 766.0L205.0 766.0L213.0 765.9L214.5 766.0L214.5 766.0ZM228.5 766.0L228.5 766.0L241.0 765.1L248.0 765.2L259.0 766.0L259.0 766.0ZM304.5 766.0L304.5 766.0L313.0 765.4L342.0 765.7L347.5 766.0L347.5 766.0ZM370.0 766.0L370.0 766.0L378.0 765.5L385.0 765.6L391.0 766.0L391.0 766.0ZM404.5 766.0L404.5 766.0L414.0 765.8L421.0 766.0L421.0 766.0ZM438.0 766.0L438.0 766.0L448.0 765.7L460.5 766.0L460.5 766.0ZM462.5 766.0L462.5 766.0L480.0 765.3L490.0 765.7L495.5 766.0L495.5 766.0ZM503.5 766.0L503.5 766.0L514.0 765.9L516.0 766.0L516.0 766.0ZM536.0 766.0L536.0 766.0L547.5 764.7L554.0 764.6L568.0 765.2L583.5 765.3L593.0 765.4L598.0 765.0L602.0 764.2L605.5 763.0L608.5 761.5L611.0 759.7L612.5 758.3L614.0 756.5L615.0 754.9L616.0 753.0L617.0 750.7L618.0 747.9L619.0 744.6L620.0 740.7L621.0 736.2L622.0 731.1L623.5 722.7L624.5 717.1L625.0 714.4L625.5 711.9L626.0 709.7L626.5 707.8L627.0 706.4L627.5 705.6L628.0 705.3L628.5 705.6L629.0 706.5L629.5 707.9L630.0 709.8L630.5 712.0L631.0 714.6L632.0 720.1L633.5 728.7L634.5 734.0L635.5 738.8L636.5 743.0L637.5 746.6L638.5 749.6L639.5 752.0L640.5 754.0L641.5 755.6L643.0 757.4L644.5 758.6L646.5 759.7L649.5 760.6L653.0 761.1L657.0 761.1L660.5 760.6L663.0 759.7L665.0 758.5L666.5 757.2L668.0 755.3L669.0 753.7L670.0 751.6L671.0 749.1L671.5 747.6L672.0 745.9L672.5 744.1L673.0 742.1L673.5 739.8L674.0 737.4L674.5 734.8L675.0 732.0L675.5 728.9L676.0 725.7L676.5 722.2L677.5 714.8L679.5 699.0L680.0 695.2L680.5 691.8L681.0 688.7L681.5 686.1L682.0 684.2L682.5 683.0L683.0 682.7L683.5 683.1L684.0 684.3L684.5 686.2L685.0 688.8L685.5 691.9L686.0 695.4L686.5 699.2L688.5 715.1L689.5 722.6L690.0 726.1L690.5 729.4L691.0 732.5L691.5 735.3L692.0 738.0L692.5 740.5L693.0 742.7L693.5 744.8L694.0 746.7L694.5 748.4L695.5 751.3L696.5 753.7L697.5 755.6L698.5 757.2L700.0 759.0L701.5 760.3L703.5 761.5L706.5 762.7L710.5 763.6L713.5 764.0L713.5 766.0Z" fill="#bfbfbf"/>
<path d="M102.0 741.6L102.0 741.6L106.0 741.6L106.0 741.6ZM136.0 741.6L136.0 741.6L145.0 741.2L171.0 741.3L176.5 741.6L176.5 741.6ZM199.0 741.6L199.0 741.6L207.0 741.1L214.0 741.4L217.0 741.6L217.0 741.6ZM235.0 741.6L235.0 741.6L243.5 741.1L251.5 741.3L256.5 741.6L256.5 741.6ZM273.5 741.6L273.5 741.6L278.5 741.6L278.5 741.6ZM300.0 741.6L300.0 741.6L310.5 741.2L328.5 741.5L341.5 741.4L346.0 741.6L346.0 741.6ZM370.0 741.6L370.0 741.6L377.5 740.9L384.0 740.9L394.0 741.6L394.0 741.6ZM405.0 741.6L405.0 741.6L415.5 741.3L426.0 741.6L426.0 741.6ZM469.0 741.6L469.0 741.6L479.0 741.0L487.5 741.2L497.5 741.5L512.0 741.0L519.5 741.5L521.0 741.6L521.0 741.6ZM541.5 741.6L541.5 741.6L550.0 740.9L558.0 740.9L570.0 741.3L587.5 741.1L599.0 741.0L611.5 740.6L625.5 741.0L630.0 740.6L633.5 739.9L637.0 738.6L640.0 737.0L642.5 735.2L644.5 733.2L646.0 731.2L647.0 729.5L648.0 727.4L649.0 724.9L650.0 721.9L651.0 718.3L652.0 714.1L653.0 709.3L654.0 703.9L655.5 694.9L656.5 688.9L657.0 686.0L657.5 683.4L658.0 681.0L658.5 679.1L659.0 677.6L659.5 676.7L660.0 676.5L660.5 676.8L661.0 677.8L661.5 679.3L662.0 681.4L662.5 683.8L663.0 686.5L664.0 692.5L665.5 701.8L666.5 707.6L667.5 712.8L668.0 715.2L668.5 717.4L669.0 719.4L670.0 722.9L671.0 725.9L672.0 728.3L673.0 730.3L674.0 731.8L675.5 733.6L677.0 734.8L679.0 735.9L682.0 736.9L686.0 737.6L690.0 737.7L693.5 737.2L696.0 736.3L698.0 735.2L699.5 733.9L700.5 732.7L701.5 731.1L702.5 729.1L703.0 727.9L703.5 726.5L704.0 725.0L704.5 723.2L705.0 721.2L705.5 718.9L706.0 716.4L706.5 713.5L707.0 710.4L707.5 706.9L708.0 703.1L708.5 699.1L709.0 694.7L709.5 690.0L710.5 680.1L711.5 669.9L712.0 665.1L712.5 660.7L713.0 657.0L713.5 654.2L713.5 741.6Z" fill="#bfbfbf"/>
<path d="M132.0 717.4L132.0 717.4L140.5 716.9L150.5 717.1L159.5 717.2L172.0 716.8L180.0 717.3L181.5 717.4L181.5 717.4ZM202.0 717.4L202.0 717.4L210.0 717.0L218.5 717.3L219.5 717.4L219.5 717.4ZM238.0 717.4L238.0 717.4L249.0 717.2L263.0 717.1L274.0 717.0L281.5 717.4L281.5 717.4ZM299.5 717.4L299.5 717.4L308.5 716.8L315.5 716.9L322.5 717.4L322.5 717.4ZM337.0 717.4L337.0 717.4L345.5 717.2L350.5 717.4L350.5 717.4ZM369.5 717.4L369.5 717.4L379.5 716.7L388.5 716.9L400.5 717.1L414.0 717.2L419.5 717.4L419.5 717.4ZM433.0 717.4L433.0 717.4L443.5 717.0L451.5 717.4L451.5 717.4ZM469.5 717.4L469.5 717.4L480.0 716.4L486.5 716.3L500.5 717.0L515.5 716.9L523.5 717.4L523.5 717.4ZM539.5 717.4L539.5 717.4L551.0 716.8L567.5 716.6L580.0 716.2L597.0 716.7L605.0 716.3L614.5 715.7L622.0 715.8L633.0 716.2L639.5 715.9L651.0 714.4L658.5 713.0L662.5 711.8L665.5 710.5L668.0 708.8L669.5 707.5L671.0 705.7L672.0 704.2L673.0 702.3L674.0 700.1L675.0 697.3L676.0 694.0L676.5 692.1L677.0 690.0L677.5 687.8L678.0 685.4L678.5 682.8L679.0 680.0L680.0 674.0L681.0 667.4L682.5 657.3L683.0 654.1L683.5 651.1L684.0 648.5L684.5 646.3L685.0 644.6L685.5 643.5L686.0 643.1L686.5 643.4L687.0 644.4L687.5 646.0L688.0 648.1L688.5 650.6L689.0 653.5L690.0 659.8L691.5 669.6L692.5 675.7L693.0 678.5L693.5 681.2L694.0 683.6L694.5 685.9L695.0 688.0L695.5 689.9L696.0 691.7L696.5 693.2L697.5 695.9L698.5 698.0L699.5 699.7L700.5 700.9L702.0 702.1L703.5 702.8L705.5 703.1L707.5 702.8L710.0 701.9L712.5 700.4L713.5 699.7L713.5 717.4Z" fill="#bfbfbf"/>
<path d="M97.0 1134.0L105.5 1134.0L120.0 1135.0L126.5 1134.9L139.0 1133.9L146.0 1133.9L158.0 1134.5L169.0 1134.1L177.5 1134.0L191.0 1134.5L200.5 1134.1L210.0 1133.7L223.0 1134.1L237.0 1135.4L243.0 1135.5L248.0 1135.1L252.5 1134.1L257.5 1132.4L261.5 1130.6L264.0 1128.9L265.5 1127.5L266.5 1126.2L267.5 1124.6L268.5 1122.5L269.0 1121.2L269.5 1119.8L270.0 1118.2L270.5 1116.4L271.0 1114.4L271.5 1112.2L272.0 1109.8L272.5 1107.1L273.0 1104.3L273.5 1101.2L274.0 1097.9L275.0 1090.9L276.5 1080.2L277.0 1076.8L277.5 1073.8L278.0 1071.2L278.5 1069.2L279.0 1068.0L279.5 1067.4L280.0 1067.6L280.5 1068.0L281.0 1068.8L281.5 1069.8L282.0 1071.1L282.5 1072.5L283.0 1074.2L284.0 1078.0L285.5 1084.5L288.0 1095.8L289.5 1102.1L291.0 1107.8L292.0 1111.2L293.0 1114.2L294.0 1116.9L295.0 1119.2L296.5 1122.2L298.0 1124.5L299.5 1126.2L301.5 1128.0L304.0 1129.5L307.5 1130.8L324.5 1135.5L330.5 1136.7L337.0 1137.3L349.5 1138.0L359.5 1138.6L367.0 1138.5L380.0 1137.9L394.0 1137.8L402.5 1137.1L415.0 1135.4L418.5 1134.6L421.0 1133.4L423.0 1132.0L424.5 1130.6L426.0 1128.7L427.5 1126.3L429.0 1123.5L430.5 1120.2L433.0 1114.0L435.0 1109.0L436.0 1106.8L437.0 1105.1L437.5 1104.4L438.0 1103.9L438.5 1103.6L439.0 1103.5L439.5 1103.6L440.0 1103.8L441.0 1104.8L442.0 1106.3L443.0 1108.2L444.5 1111.6L448.0 1120.0L450.0 1124.2L451.5 1126.9L453.0 1129.2L454.5 1131.1L456.5 1133.1L458.5 1134.5L461.0 1135.8L464.0 1136.7L468.0 1137.2L474.5 1137.3L484.5 1137.1L501.0 1137.6L519.0 1137.2L523.5 1136.6L526.5 1135.9L529.0 1134.8L531.5 1133.2L533.5 1131.4L535.5 1129.2L538.0 1125.8L543.5 1117.3L545.0 1115.3L546.5 1113.8L547.5 1113.3L548.5 1113.1L549.5 1113.3L550.5 1113.9L552.0 1115.4L554.0 1118.1L558.5 1125.1L561.0 1128.4L563.0 1130.6L565.0 1132.4L567.5 1134.0L570.5 1135.2L574.0 1136.1L582.5 1137.0L594.0 1138.0L599.0 1138.0L603.5 1137.5L608.5 1136.3L614.0 1134.3L620.5 1131.3L630.5 1126.1L634.0 1124.7L637.0 1124.1L639.5 1124.1L642.0 1124.6L645.0 1125.7L649.5 1128.1L658.0 1133.1L662.5 1135.3L667.0 1136.9L671.5 1137.9L678.0 1138.6L688.5 1139.1L693.5 1138.9L697.5 1138.3L701.0 1137.1L704.5 1135.4L708.0 1133.0L712.5 1129.3L713.5 1128.4" fill="none" stroke="#000" stroke-width="2.9" stroke-linejoin="round"/>
<path d="M97.0 1109.8L108.5 1110.2L120.5 1110.8L127.5 1110.6L141.0 1109.6L160.5 1109.4L171.0 1109.2L179.0 1109.7L188.5 1110.5L195.0 1110.4L208.5 1109.5L217.0 1109.6L230.0 1110.1L242.5 1110.8L248.5 1110.7L253.0 1110.1L258.0 1108.8L262.5 1107.1L265.5 1105.5L267.5 1104.1L269.0 1102.7L270.0 1101.4L271.0 1099.7L272.0 1097.5L272.5 1096.2L273.0 1094.7L273.5 1093.0L274.0 1091.1L274.5 1089.0L275.0 1086.6L275.5 1084.1L276.0 1081.3L276.5 1078.3L277.0 1075.0L277.5 1071.6L278.5 1064.2L280.0 1053.0L280.5 1049.6L281.0 1046.5L281.5 1043.9L282.0 1042.0L282.5 1040.8L283.0 1040.4L283.5 1040.6L284.0 1041.2L284.5 1042.0L285.0 1043.0L285.5 1044.4L286.0 1046.0L286.5 1047.7L287.5 1051.7L289.0 1058.4L291.5 1070.0L293.0 1076.4L294.0 1080.3L295.0 1083.9L296.0 1087.2L297.0 1090.0L298.0 1092.6L299.5 1095.8L301.0 1098.3L302.5 1100.3L304.5 1102.3L307.0 1104.1L310.5 1105.8L318.0 1108.6L325.0 1110.7L331.0 1111.9L338.5 1112.8L351.0 1113.7L359.0 1114.3L365.5 1114.1L379.0 1112.9L387.0 1112.9L398.0 1113.1L408.0 1112.5L416.0 1111.7L419.5 1111.0L422.0 1110.1L424.0 1108.9L426.0 1107.2L427.5 1105.4L429.0 1103.2L430.5 1100.6L432.0 1097.4L433.5 1093.7L437.0 1084.5L438.0 1082.2L439.0 1080.2L440.0 1078.8L440.5 1078.3L441.0 1078.0L441.5 1078.0L442.0 1078.1L442.5 1078.4L443.5 1079.4L444.5 1081.1L445.5 1083.1L447.5 1088.0L450.0 1094.2L451.5 1097.6L453.0 1100.6L454.5 1103.2L456.0 1105.4L457.5 1107.1L459.5 1108.9L461.5 1110.1L464.0 1111.1L467.5 1111.8L473.0 1112.1L483.0 1112.4L497.0 1113.4L504.5 1113.4L522.0 1112.4L526.0 1111.7L529.0 1110.6L531.5 1109.2L533.5 1107.6L535.5 1105.5L537.5 1103.0L540.0 1099.3L544.0 1093.0L545.5 1090.9L547.0 1089.4L548.0 1088.8L549.0 1088.6L550.0 1088.8L551.0 1089.3L552.5 1090.7L554.0 1092.7L559.5 1101.1L562.0 1104.3L564.0 1106.5L566.5 1108.5L569.0 1110.0L572.0 1111.1L576.0 1112.0L585.0 1113.0L593.5 1113.5L599.0 1113.3L604.5 1112.6L611.0 1111.1L618.0 1108.8L624.5 1106.0L633.5 1101.8L636.5 1100.8L639.0 1100.4L641.5 1100.4L644.5 1101.1L648.0 1102.6L654.0 1106.0L660.0 1109.4L664.5 1111.5L668.5 1112.7L673.0 1113.6L679.5 1114.0L690.5 1114.1L695.5 1113.7L699.5 1112.8L703.0 1111.5L706.5 1109.6L710.0 1107.2L713.5 1104.3" fill="none" stroke="#000" stroke-width="2.9" stroke-linejoin="round"/>
<path d="M97.0 1085.6L109.5 1085.7L120.5 1085.9L129.5 1085.4L138.5 1084.9L146.0 1085.1L157.0 1085.6L173.5 1085.3L184.5 1085.9L191.5 1086.1L199.0 1085.7L208.5 1084.9L216.0 1084.9L227.5 1085.2L236.0 1085.1L243.5 1085.8L251.0 1086.6L255.5 1086.5L259.5 1086.0L264.0 1084.7L269.5 1082.6L273.0 1080.8L275.0 1079.4L276.5 1077.9L277.5 1076.6L278.5 1075.0L279.5 1072.9L280.5 1070.3L281.0 1068.7L281.5 1067.0L282.0 1065.0L282.5 1062.9L283.0 1060.6L283.5 1058.1L284.0 1055.5L284.5 1052.6L285.5 1046.5L287.5 1033.2L288.0 1030.1L288.5 1027.2L289.0 1024.6L289.5 1022.4L290.0 1020.8L290.5 1019.8L291.0 1019.5L291.5 1019.7L292.0 1020.2L292.5 1020.9L293.0 1021.9L293.5 1023.2L294.0 1024.6L295.0 1028.1L296.0 1032.0L299.5 1047.2L301.0 1053.2L302.5 1058.6L303.5 1061.9L304.5 1064.8L306.0 1068.5L307.5 1071.6L309.0 1074.1L310.5 1076.1L312.5 1078.1L315.0 1080.0L318.5 1082.0L323.0 1083.8L328.5 1085.4L335.0 1086.6L357.5 1089.2L364.5 1089.6L382.5 1089.1L396.5 1089.2L408.5 1088.5L419.5 1087.5L423.5 1086.7L426.0 1085.8L428.0 1084.8L430.0 1083.2L431.5 1081.6L433.0 1079.6L434.5 1077.2L436.0 1074.2L437.5 1070.8L439.5 1065.7L442.0 1059.0L443.0 1056.7L444.0 1054.7L444.5 1053.9L445.0 1053.3L445.5 1052.9L446.0 1052.7L446.5 1052.6L447.0 1052.8L447.5 1053.1L448.5 1054.3L449.5 1056.0L450.5 1058.2L452.5 1063.3L455.0 1069.7L456.5 1073.3L458.0 1076.4L459.5 1079.0L461.0 1081.2L462.5 1082.9L464.5 1084.6L466.5 1085.8L469.0 1086.7L472.5 1087.3L486.5 1088.0L498.0 1089.0L506.0 1089.0L522.0 1088.4L526.0 1087.8L529.0 1086.9L531.5 1085.7L534.0 1083.9L536.5 1081.5L539.0 1078.5L543.0 1072.8L545.5 1069.4L547.0 1067.8L548.5 1066.8L549.5 1066.6L550.5 1066.7L551.5 1067.1L553.0 1068.4L555.0 1070.8L560.0 1077.6L562.5 1080.5L565.0 1082.8L567.5 1084.6L570.5 1086.0L574.0 1087.0L581.5 1088.2L592.5 1089.6L598.0 1089.8L603.5 1089.5L610.0 1088.3L618.0 1086.4L624.5 1084.2L631.0 1081.4L637.0 1078.7L640.0 1077.8L643.0 1077.4L646.0 1077.7L649.0 1078.5L653.0 1080.3L663.0 1085.6L667.5 1087.4L672.0 1088.7L677.5 1089.7L685.5 1090.3L692.0 1090.3L696.5 1089.9L700.5 1088.9L704.0 1087.5L707.5 1085.5L712.0 1082.3L713.5 1081.1" fill="none" stroke="#000" stroke-width="2.9" stroke-linejoin="round"/>
<path d="M97.0 1060.6L104.5 1060.5L114.5 1061.3L121.5 1061.6L128.0 1061.4L139.5 1060.3L146.0 1060.3L159.0 1061.0L176.5 1060.6L193.0 1061.2L211.5 1060.8L224.0 1060.8L241.5 1059.8L246.0 1059.9L252.5 1060.8L259.0 1061.7L263.5 1061.9L268.0 1061.5L273.0 1060.4L279.5 1058.4L283.0 1056.9L285.0 1055.7L286.5 1054.5L288.0 1052.8L289.0 1051.2L290.0 1049.3L291.0 1046.8L292.0 1043.8L292.5 1042.1L293.0 1040.2L293.5 1038.1L294.0 1035.8L294.5 1033.4L295.0 1030.8L296.0 1025.1L297.0 1018.9L299.0 1006.0L299.5 1003.0L300.0 1000.2L300.5 997.7L301.0 995.6L301.5 994.0L302.0 992.9L302.5 992.5L303.0 992.5L303.5 992.9L304.0 993.5L304.5 994.5L305.0 995.7L305.5 997.1L306.0 998.7L307.0 1002.4L308.5 1008.8L311.0 1020.0L312.5 1026.3L314.0 1032.1L315.0 1035.5L316.0 1038.6L317.0 1041.4L318.5 1045.0L320.0 1047.9L321.5 1050.2L323.0 1052.1L325.0 1054.0L327.5 1055.8L330.5 1057.3L335.5 1059.1L348.0 1062.4L355.5 1064.0L361.0 1064.6L369.5 1064.6L380.5 1064.4L393.0 1064.7L402.0 1064.2L411.0 1063.7L425.0 1063.7L429.5 1063.2L433.0 1062.3L435.5 1061.1L437.5 1059.8L439.5 1057.9L441.0 1056.1L442.5 1053.9L444.0 1051.2L445.5 1048.1L447.5 1043.2L450.5 1035.5L451.5 1033.2L452.5 1031.3L453.5 1029.9L454.0 1029.4L454.5 1029.2L455.0 1029.1L455.5 1029.2L456.0 1029.5L457.0 1030.6L458.0 1032.2L459.0 1034.3L461.0 1039.1L463.5 1045.3L465.0 1048.7L466.5 1051.6L468.0 1054.1L469.5 1056.1L471.0 1057.7L473.0 1059.3L475.5 1060.6L478.5 1061.5L484.5 1062.5L498.0 1064.0L511.0 1064.6L521.5 1064.8L526.0 1064.4L529.5 1063.7L532.5 1062.5L535.0 1061.1L537.5 1059.2L540.0 1056.8L543.5 1052.8L547.0 1048.8L548.5 1047.4L550.0 1046.5L551.5 1046.2L553.0 1046.5L554.5 1047.4L556.5 1049.3L562.0 1055.5L564.5 1058.0L567.0 1059.9L569.5 1061.2L572.5 1062.3L577.0 1063.3L595.0 1065.4L600.5 1065.6L606.5 1065.2L614.5 1063.9L623.0 1062.0L629.5 1060.0L639.5 1056.2L643.0 1055.4L646.0 1055.3L649.0 1055.7L652.5 1056.8L664.5 1062.0L669.5 1063.5L675.0 1064.6L685.5 1065.8L693.0 1066.2L697.5 1065.9L701.5 1065.2L705.5 1063.9L710.5 1061.6L713.5 1060.0" fill="none" stroke="#000" stroke-width="2.9" stroke-linejoin="round"/>
<path d="M97.0 1036.4L108.5 1036.5L120.5 1037.0L128.0 1036.7L139.5 1035.9L148.0 1036.0L159.0 1036.2L173.0 1035.9L190.0 1036.7L197.5 1036.4L207.5 1035.8L215.0 1036.0L225.5 1036.6L233.5 1036.3L245.5 1035.7L264.0 1035.6L271.5 1036.2L280.5 1037.2L285.0 1037.1L288.5 1036.6L292.0 1035.6L295.5 1034.0L298.5 1032.2L300.5 1030.6L302.5 1028.5L304.0 1026.4L305.5 1023.8L306.5 1021.6L307.5 1019.1L308.5 1016.1L309.5 1012.7L310.5 1008.8L311.5 1004.5L313.0 997.4L315.0 987.4L316.0 982.8L316.5 980.7L317.0 978.8L317.5 977.2L318.0 976.0L318.5 975.1L319.0 974.6L319.5 974.5L320.0 974.8L320.5 975.4L321.0 976.2L321.5 977.3L322.0 978.7L322.5 980.2L323.5 983.8L325.0 990.1L327.5 1000.9L329.0 1006.9L330.0 1010.5L331.0 1013.8L332.0 1016.8L333.0 1019.4L334.5 1022.8L336.0 1025.4L337.5 1027.5L339.0 1029.2L341.0 1030.8L344.0 1032.5L349.0 1034.6L356.5 1037.0L362.0 1038.3L367.5 1039.0L376.5 1039.3L386.0 1039.6L397.0 1040.0L415.0 1039.7L427.5 1039.8L434.5 1039.3L441.5 1038.2L445.5 1037.1L448.0 1036.0L450.0 1034.6L452.0 1032.7L453.5 1030.8L455.0 1028.5L456.5 1025.7L458.5 1021.5L461.5 1014.8L462.5 1012.8L463.5 1011.2L464.5 1010.1L465.0 1009.8L465.5 1009.6L466.5 1009.8L467.5 1010.6L468.5 1011.8L470.0 1014.4L474.5 1023.4L476.5 1027.0L478.5 1029.9L480.5 1032.2L482.5 1034.0L485.0 1035.6L488.0 1036.9L492.0 1038.0L497.5 1038.9L505.0 1039.3L518.5 1039.9L526.0 1040.1L530.5 1039.8L534.0 1038.9L537.5 1037.5L541.0 1035.5L545.5 1032.1L549.5 1029.0L551.5 1027.9L553.5 1027.2L555.0 1027.2L557.0 1027.8L559.5 1029.2L566.0 1033.9L569.5 1035.9L573.0 1037.4L577.5 1038.6L586.5 1039.9L595.5 1040.8L602.5 1041.0L616.5 1040.5L629.0 1040.5L635.0 1040.0L646.0 1038.4L650.5 1038.2L655.5 1038.7L668.5 1041.0L676.0 1041.7L696.0 1042.5L702.5 1042.2L710.0 1041.1L713.5 1040.5" fill="none" stroke="#000" stroke-width="2.9" stroke-linejoin="round"/>
<path d="M97.0 1012.1L108.0 1012.1L121.0 1012.6L129.0 1012.2L139.5 1011.4L148.0 1011.5L159.0 1011.7L172.5 1011.5L182.0 1012.1L190.0 1012.5L197.5 1012.3L208.0 1011.7L216.0 1011.8L225.5 1012.2L233.5 1011.9L244.5 1011.3L264.0 1011.3L275.5 1011.2L282.0 1011.6L293.5 1013.3L298.0 1013.5L302.5 1013.0L307.0 1012.1L312.5 1010.2L317.0 1008.3L319.5 1006.8L321.5 1005.2L323.0 1003.6L324.5 1001.5L325.5 999.8L326.5 997.7L327.5 995.2L328.5 992.4L329.5 989.0L330.5 985.3L331.5 981.2L333.0 974.4L335.0 965.1L336.0 961.0L336.5 959.2L337.0 957.6L337.5 956.4L338.0 955.4L338.5 954.9L339.0 954.7L339.5 954.8L340.0 955.3L340.5 956.0L341.0 956.9L341.5 958.1L342.0 959.5L343.0 962.8L344.0 966.5L347.5 980.5L349.0 986.0L350.5 990.8L352.0 995.0L353.5 998.6L355.0 1001.4L356.5 1003.7L358.0 1005.5L360.0 1007.3L362.5 1008.8L365.5 1009.9L370.5 1011.1L385.5 1013.8L393.0 1015.1L398.5 1015.5L415.0 1015.5L428.0 1015.8L438.0 1015.4L454.5 1014.5L458.0 1013.9L460.5 1013.0L462.5 1011.8L464.5 1010.1L466.0 1008.5L467.5 1006.4L469.0 1004.0L471.0 1000.2L475.0 991.8L476.0 990.0L477.0 988.6L478.0 987.6L479.0 987.3L480.0 987.5L481.0 988.3L482.0 989.5L483.5 991.9L488.0 1000.6L490.0 1004.0L492.0 1006.9L494.0 1009.1L496.0 1010.8L498.5 1012.3L501.5 1013.4L505.5 1014.2L520.0 1015.4L526.5 1015.7L531.0 1015.3L535.5 1014.4L540.0 1012.9L546.0 1010.1L552.5 1007.0L555.5 1006.0L558.0 1005.6L560.5 1005.8L563.5 1006.5L569.0 1008.8L576.0 1011.7L582.5 1013.7L589.5 1015.3L595.5 1016.2L601.5 1016.5L617.0 1016.2L629.5 1016.5L635.5 1016.1L647.0 1014.5L652.0 1014.4L657.5 1014.9L669.0 1016.7L677.5 1017.3L691.5 1018.0L705.5 1019.9L711.0 1020.1L713.5 1020.0" fill="none" stroke="#000" stroke-width="2.9" stroke-linejoin="round"/>
<path d="M97.0 986.7L107.5 987.1L119.0 987.7L126.0 987.5L138.5 986.6L145.5 986.6L157.0 987.1L167.5 986.8L175.5 986.6L190.5 987.3L198.0 987.1L208.5 986.4L216.5 986.6L228.0 987.1L247.0 986.9L259.0 987.0L273.5 986.5L283.5 986.9L291.0 987.1L297.5 986.7L307.0 985.7L311.5 985.9L317.5 986.8L324.0 987.9L328.0 988.1L331.5 987.8L335.5 986.8L340.0 985.2L344.0 983.2L346.5 981.6L348.5 979.8L350.0 978.1L351.5 975.8L352.5 973.9L353.5 971.6L354.5 969.0L355.5 965.9L356.5 962.5L357.5 958.6L359.0 952.4L361.0 943.8L362.0 939.9L362.5 938.2L363.0 936.7L363.5 935.6L364.0 934.7L364.5 934.2L365.0 934.0L365.5 934.1L366.0 934.5L366.5 935.2L367.0 936.1L367.5 937.1L368.0 938.4L369.0 941.4L370.5 946.7L373.5 957.6L375.0 962.6L376.5 967.1L378.0 970.9L379.5 974.0L381.0 976.6L382.5 978.7L384.0 980.3L386.0 981.9L388.5 983.3L392.0 984.7L397.0 985.9L405.5 987.1L423.0 989.0L430.5 989.2L444.0 988.8L452.5 989.3L460.0 989.8L465.0 989.5L469.5 988.8L473.5 987.7L476.5 986.4L479.0 984.8L481.5 982.7L484.0 980.0L487.0 976.0L489.5 972.5L491.0 970.9L492.0 970.1L493.0 969.7L494.0 969.7L495.0 970.0L496.5 971.2L498.5 973.6L502.5 979.0L505.0 981.8L507.5 984.0L510.0 985.5L513.0 986.8L517.5 987.9L524.5 988.9L531.0 989.2L537.0 989.0L546.0 987.8L564.0 984.8L569.0 984.4L573.5 984.7L579.5 985.8L592.0 988.8L597.5 989.6L603.5 989.9L616.0 989.6L623.5 990.0L633.0 990.8L640.0 990.8L651.5 990.4L660.0 990.7L672.5 991.4L690.0 992.0L697.5 992.7L705.5 993.5L711.5 993.5L713.5 993.4" fill="none" stroke="#000" stroke-width="2.9" stroke-linejoin="round"/>
<path d="M97.0 962.3L105.0 962.1L113.5 962.7L121.5 963.3L127.5 963.1L141.0 961.8L148.0 961.8L162.5 962.3L179.0 962.4L190.5 962.6L206.0 962.0L215.5 962.5L224.0 962.8L232.5 962.4L241.5 961.9L250.0 962.2L259.0 962.5L268.0 962.1L276.0 961.8L283.5 962.1L293.0 962.7L300.0 962.5L313.0 961.7L333.0 961.7L339.0 962.3L349.5 963.8L354.0 964.0L357.5 963.5L361.0 962.6L365.0 961.0L368.5 959.0L371.0 957.3L373.0 955.5L374.5 953.8L376.0 951.6L377.5 948.9L378.5 946.6L379.5 944.0L380.5 941.0L381.5 937.6L383.0 932.0L386.0 919.7L387.0 916.0L387.5 914.4L388.0 913.0L388.5 911.9L389.0 911.1L389.5 910.6L390.0 910.5L390.5 910.7L391.0 911.2L391.5 911.9L392.0 912.9L392.5 914.1L393.0 915.6L394.0 918.8L395.5 924.4L398.0 933.9L399.5 939.1L401.0 943.6L402.0 946.2L403.5 949.5L405.0 952.1L406.5 954.2L408.0 955.8L410.0 957.3L412.5 958.7L417.0 960.3L425.0 962.4L431.5 963.6L438.5 964.2L463.0 965.2L470.5 964.9L487.0 963.3L491.0 962.4L494.0 961.3L496.5 959.8L499.5 957.4L504.0 953.3L505.5 952.4L507.0 951.9L508.5 952.1L510.0 952.8L512.0 954.4L517.5 959.6L520.5 961.9L523.5 963.5L526.5 964.6L530.0 965.3L534.5 965.5L548.5 964.8L556.0 965.1L566.0 965.7L575.0 965.5L584.0 965.3L601.5 966.1L619.0 965.9L633.5 966.3L649.0 966.0L667.0 966.8L682.0 966.7L691.0 967.3L703.5 969.1L708.5 969.3L713.5 968.9" fill="none" stroke="#000" stroke-width="2.9" stroke-linejoin="round"/>
<path d="M97.0 937.2L105.0 937.1L121.0 938.2L127.5 938.0L139.5 937.1L146.5 937.1L159.0 937.7L176.0 937.4L192.0 938.0L210.0 937.5L224.5 937.7L241.5 936.9L251.0 937.2L260.5 937.5L274.0 937.4L282.5 938.0L290.5 938.6L296.5 938.5L312.0 936.8L319.5 936.7L336.0 936.9L346.5 937.1L360.0 937.7L370.0 937.6L385.5 936.9L390.0 936.3L393.5 935.2L396.0 934.1L398.0 932.7L399.5 931.3L401.0 929.5L402.5 927.2L404.0 924.2L405.5 920.6L407.0 916.3L408.5 911.3L411.5 900.7L412.5 897.6L413.0 896.2L413.5 895.1L414.0 894.2L414.5 893.6L415.0 893.2L415.5 893.2L416.0 893.4L416.5 893.8L417.0 894.5L417.5 895.4L418.0 896.4L419.0 899.0L420.5 903.7L423.5 913.6L425.0 918.0L426.5 922.0L428.0 925.3L429.5 928.0L431.0 930.1L432.5 931.8L434.5 933.4L437.0 934.8L440.0 935.7L445.5 936.7L459.5 938.4L466.0 938.6L477.0 938.0L485.0 937.8L499.5 938.2L505.0 937.9L509.5 937.1L515.0 935.5L518.5 934.5L521.0 934.3L523.5 934.7L531.0 937.1L535.0 937.8L540.0 937.9L550.0 937.6L567.0 938.5L581.5 938.5L598.0 939.6L605.0 939.4L617.5 938.5L628.5 938.6L638.0 938.5L650.5 938.0L670.5 938.6L683.0 938.6L697.0 939.4L703.5 939.2L713.5 938.2" fill="none" stroke="#000" stroke-width="2.9" stroke-linejoin="round"/>
<path d="M97.0 925.5L106.5 925.6L119.0 926.3L125.5 926.1L138.0 924.9L144.5 924.9L158.0 925.7L175.5 925.5L190.5 926.2L198.0 926.0L209.5 925.3L220.0 925.4L230.5 925.5L243.5 925.3L258.5 925.6L273.0 925.3L281.0 925.7L290.0 926.4L296.0 926.2L310.0 924.9L316.5 924.9L329.5 925.4L346.5 925.2L361.0 925.7L377.0 925.1L392.5 925.6L398.0 925.3L402.5 924.5L407.0 923.2L410.0 921.9L412.5 920.3L414.0 918.9L415.5 917.2L417.0 915.0L418.5 912.2L420.0 908.8L421.5 904.9L424.5 896.4L425.5 893.8L426.5 891.7L427.0 890.9L427.5 890.3L428.0 890.0L428.5 889.9L429.0 890.0L429.5 890.3L430.0 890.7L431.0 892.2L432.0 894.2L433.5 897.8L436.5 905.6L438.0 909.1L439.5 912.2L441.0 914.9L442.5 917.1L444.0 918.8L446.0 920.7L448.5 922.4L451.5 923.8L456.0 925.2L461.0 926.1L466.5 926.5L474.0 926.2L483.0 925.8L493.5 926.2L502.5 926.5L510.0 926.1L516.0 925.3L524.0 923.7L527.0 923.6L531.0 924.3L537.0 925.5L543.0 925.9L558.5 926.4L567.5 926.5L580.0 926.2L588.0 926.7L597.5 927.4L604.5 927.2L616.0 926.5L624.0 926.7L633.5 927.0L641.5 926.7L652.0 926.0L661.5 926.1L684.0 926.7L696.5 927.4L703.0 927.3L713.5 926.3" fill="none" stroke="#000" stroke-width="2.9" stroke-linejoin="round"/>
<path d="M97.0 912.4L105.5 912.8L118.0 914.0L124.0 914.1L132.0 913.3L140.0 912.6L147.0 912.6L158.5 912.9L174.0 912.5L182.5 912.9L191.5 913.5L199.5 913.4L211.5 912.9L228.0 913.0L241.5 912.6L259.0 913.1L274.0 912.9L290.0 913.8L296.0 913.5L309.0 912.0L315.0 911.9L332.0 913.0L349.0 913.3L359.5 913.6L367.5 913.2L378.5 912.4L386.5 912.4L395.5 912.6L401.5 912.2L407.0 911.3L411.5 909.9L416.0 908.0L421.5 904.9L429.0 900.5L432.0 899.1L434.5 898.4L437.0 898.3L439.5 898.8L442.0 899.7L445.5 901.8L455.0 908.5L458.5 910.6L462.0 912.1L465.5 913.0L470.0 913.5L485.0 913.4L502.0 914.3L520.5 914.6L530.0 914.7L546.0 913.8L554.0 914.0L564.5 914.5L575.0 914.2L583.5 914.1L597.0 914.7L604.0 914.4L615.0 913.5L621.5 913.5L635.0 914.4L644.0 914.2L655.0 913.9L671.5 914.0L683.5 914.0L697.5 914.6L705.0 914.2L713.5 913.5" fill="none" stroke="#000" stroke-width="2.9" stroke-linejoin="round"/>
<path d="M97.0 901.3L109.0 901.1L122.0 901.4L131.0 900.9L140.5 900.4L149.5 900.5L161.5 900.8L173.0 901.0L187.5 901.8L194.0 901.6L206.5 900.6L213.0 900.6L225.5 901.2L233.5 901.0L244.0 900.5L255.5 900.8L266.5 900.9L277.5 901.0L291.0 901.6L299.0 901.3L310.0 900.7L328.0 900.9L342.0 900.4L350.0 900.8L359.5 901.3L366.5 901.2L378.0 900.4L384.0 900.6L396.5 901.7L403.0 901.6L410.0 901.0L416.5 899.8L420.0 898.7L422.5 897.6L424.5 896.3L426.5 894.5L428.5 892.2L431.0 888.7L433.5 885.0L435.0 883.2L436.0 882.5L437.0 882.3L438.0 882.4L439.5 883.2L441.0 884.6L444.0 888.2L447.5 892.4L450.0 894.9L452.5 896.8L455.0 898.1L457.5 898.8L460.0 898.8L462.5 898.2L465.0 897.0L469.0 894.5L470.5 893.9L472.0 893.9L473.5 894.4L477.0 896.5L480.5 898.5L484.0 899.9L488.5 900.9L495.0 901.7L502.5 902.0L514.0 902.0L529.5 903.0L536.0 902.9L550.0 901.8L559.0 901.7L572.5 901.8L583.0 901.9L597.5 902.6L608.0 902.3L616.5 902.2L630.5 902.7L637.0 902.4L649.0 901.2L655.5 901.2L670.0 901.9L685.5 902.0L699.5 902.8L706.5 902.6L713.5 902.0" fill="none" stroke="#000" stroke-width="2.9" stroke-linejoin="round"/>
<path d="M97.0 888.7L106.5 889.0L119.5 889.9L126.0 889.8L140.0 888.7L149.0 888.8L158.5 888.9L172.5 888.3L180.0 888.7L190.5 889.5L198.0 889.4L209.5 889.0L226.5 889.3L244.5 888.6L263.0 888.8L274.0 888.8L289.5 889.8L295.5 889.6L309.5 888.3L316.0 888.3L330.0 888.9L345.0 888.9L359.5 889.7L366.5 889.5L380.0 888.4L405.0 888.4L414.5 888.9L423.5 889.4L428.0 889.2L432.5 888.4L436.5 887.2L439.5 885.8L442.0 884.1L444.0 882.2L445.5 880.4L447.0 878.2L449.0 874.7L451.5 870.0L452.5 868.4L453.5 867.1L454.0 866.7L454.5 866.5L455.0 866.4L456.0 866.8L457.0 867.8L458.0 869.3L460.0 873.0L462.5 877.5L464.0 879.9L465.5 881.8L467.0 883.3L469.0 884.8L471.0 885.7L473.5 886.3L476.5 886.5L479.5 886.1L482.5 885.2L485.5 883.7L489.5 881.2L491.0 880.7L492.5 880.8L494.0 881.4L496.5 883.4L499.5 885.7L502.0 887.2L505.0 888.4L509.0 889.2L522.5 890.5L530.0 890.8L538.0 890.4L548.5 889.8L558.0 889.9L568.5 890.1L581.0 890.0L596.5 890.8L603.5 890.5L614.5 889.7L621.5 889.7L633.5 890.4L641.5 890.2L652.0 889.7L671.0 890.2L686.0 890.1L699.0 890.3L708.5 889.8L713.5 889.4" fill="none" stroke="#000" stroke-width="2.9" stroke-linejoin="round"/>
<path d="M97.0 876.5L106.5 876.8L119.0 877.7L125.5 877.6L138.5 876.6L146.0 876.7L157.0 877.1L173.5 876.6L181.5 877.0L190.5 877.7L197.5 877.5L210.0 876.7L220.5 876.8L231.0 876.8L243.5 876.6L261.0 877.0L273.5 877.1L288.5 878.0L294.5 877.8L309.0 876.1L315.0 875.9L330.5 876.7L345.5 876.8L360.5 877.7L368.0 877.5L381.0 876.8L400.0 876.5L411.0 876.4L419.5 876.8L428.0 877.4L435.0 877.2L448.5 876.0L454.0 875.2L457.0 874.2L459.0 873.1L460.5 872.0L462.0 870.5L463.5 868.4L465.0 865.8L466.5 862.8L469.0 857.2L470.0 855.2L470.5 854.4L471.0 853.8L471.5 853.4L472.0 853.1L472.5 853.1L473.0 853.3L473.5 853.6L474.5 854.8L475.5 856.5L479.0 863.4L480.5 866.0L482.0 868.3L483.5 870.1L485.5 871.9L487.5 873.2L490.0 874.3L493.0 875.1L496.0 875.4L498.5 875.3L501.0 874.6L503.0 873.6L505.0 872.1L507.5 869.6L510.0 866.9L511.5 865.6L512.5 865.2L513.5 865.3L514.5 865.7L516.0 867.0L520.5 872.0L522.5 873.8L524.5 875.1L527.0 876.2L530.0 877.0L534.5 877.4L550.0 877.3L565.5 878.1L580.5 878.1L595.5 879.0L602.0 878.9L615.0 877.6L621.5 877.6L634.0 878.3L642.0 878.0L652.5 877.5L662.5 877.7L676.0 878.1L689.5 878.5L698.5 878.7L707.0 878.2L713.5 877.7" fill="none" stroke="#000" stroke-width="2.9" stroke-linejoin="round"/>
<path d="M97.0 863.9L104.5 863.8L112.0 864.5L120.5 865.3L126.5 865.3L141.5 864.0L149.0 864.0L161.0 864.4L176.5 864.1L192.5 864.5L208.0 864.3L223.0 864.8L231.5 864.4L241.0 863.9L249.0 864.1L259.0 864.6L275.0 864.1L283.0 864.6L292.0 865.1L298.5 865.0L312.0 863.7L319.5 863.6L345.0 864.5L357.0 865.2L364.0 865.0L377.0 864.1L386.0 864.2L395.0 864.3L410.5 863.4L417.5 863.7L428.5 864.5L439.0 864.4L448.5 864.4L459.0 864.7L463.5 864.4L467.5 863.6L471.5 862.3L475.0 860.6L477.5 858.9L479.5 857.0L481.0 855.2L482.5 852.8L484.0 850.0L485.5 846.5L488.0 840.4L489.0 838.4L489.5 837.6L490.0 837.0L490.5 836.6L491.0 836.5L491.5 836.6L492.0 837.1L492.5 837.7L493.0 838.5L494.0 840.7L497.0 848.2L498.5 851.5L500.0 854.2L501.5 856.4L503.0 858.0L505.0 859.6L507.5 860.9L510.5 861.8L514.0 862.3L517.0 862.2L519.5 861.6L521.5 860.5L523.5 858.9L525.5 856.6L529.0 851.9L530.0 850.8L531.0 850.0L532.0 849.7L533.0 850.0L534.0 850.7L535.5 852.3L539.0 856.9L541.0 859.0L543.0 860.5L545.5 861.8L549.0 862.9L557.5 864.4L565.0 865.2L572.5 865.4L583.5 865.3L599.0 866.0L607.0 865.8L618.0 865.2L637.0 865.3L650.0 865.1L666.5 865.7L682.0 865.4L698.0 866.1L704.0 865.9L713.5 864.8" fill="none" stroke="#000" stroke-width="2.9" stroke-linejoin="round"/>
<path d="M97.0 852.0L106.5 852.0L121.5 852.8L128.0 852.6L141.5 851.5L149.5 851.4L165.0 851.8L177.0 852.1L188.0 852.4L196.5 852.1L206.0 851.6L213.5 851.8L224.0 852.4L231.5 852.2L242.0 851.6L250.5 851.9L260.0 852.2L277.0 851.7L294.5 852.3L312.5 851.6L331.0 851.9L343.0 851.9L357.5 852.6L364.5 852.3L376.0 851.3L382.5 851.3L395.0 852.1L402.5 851.9L413.5 851.5L424.5 851.8L433.5 852.0L447.5 851.6L458.5 852.1L466.0 852.3L474.0 851.8L482.5 850.7L488.0 849.5L491.5 848.3L494.0 847.0L496.0 845.4L497.5 843.8L499.0 841.8L500.5 839.2L502.0 835.9L503.5 832.0L506.0 825.0L507.0 822.6L507.5 821.7L508.0 821.0L508.5 820.6L509.0 820.5L509.5 820.6L510.0 821.1L510.5 821.8L511.0 822.7L512.0 825.2L515.0 833.7L516.5 837.5L518.0 840.7L519.5 843.2L521.0 845.2L522.5 846.8L524.5 848.2L527.0 849.4L529.5 850.1L532.5 850.3L535.0 849.9L537.0 849.2L539.0 848.0L540.5 846.8L542.0 845.1L543.5 843.0L545.0 840.5L549.0 832.6L550.0 831.0L551.0 830.0L551.5 829.7L552.0 829.6L552.5 829.7L553.0 830.0L554.0 831.2L555.0 832.8L559.0 840.8L560.5 843.4L562.0 845.5L563.5 847.2L565.5 848.9L567.5 850.0L570.0 850.8L574.0 851.5L599.5 852.9L617.5 853.0L631.0 853.5L639.5 853.1L649.0 852.5L657.0 852.7L667.5 853.1L683.0 852.8L692.5 853.4L700.0 853.7L706.5 853.4L713.5 852.7" fill="none" stroke="#000" stroke-width="2.9" stroke-linejoin="round"/>
<path d="M97.0 839.6L106.0 839.9L119.0 840.9L125.5 840.8L139.5 839.7L147.5 839.8L157.5 840.0L173.5 839.3L181.0 839.6L191.5 840.3L200.0 840.2L210.5 839.9L226.5 840.4L245.5 839.8L260.5 839.8L272.5 839.5L280.5 840.0L289.5 840.7L295.5 840.6L309.5 839.3L316.0 839.3L330.0 840.0L346.0 840.0L360.5 840.6L368.5 840.4L380.5 839.6L400.0 839.4L410.0 839.2L420.0 839.9L428.0 840.3L436.5 840.0L445.5 839.7L461.0 840.3L467.0 840.0L479.0 838.7L486.5 838.6L495.5 838.6L500.0 838.1L504.0 837.2L507.5 835.8L510.0 834.4L512.0 832.8L513.5 831.3L515.0 829.4L516.5 826.9L517.5 824.8L518.5 822.5L519.5 819.7L521.0 815.0L523.0 808.2L523.5 806.7L524.0 805.4L524.5 804.2L525.0 803.4L525.5 802.9L526.0 802.7L526.5 802.9L527.0 803.5L527.5 804.4L528.0 805.5L528.5 806.9L529.5 810.2L531.5 817.1L532.5 820.2L533.5 822.9L534.5 825.3L535.5 827.4L537.0 829.8L538.5 831.6L540.0 833.0L542.0 834.3L544.5 835.3L547.5 835.9L551.0 836.1L553.5 835.7L555.5 835.1L557.5 833.9L559.0 832.6L560.5 830.8L562.0 828.4L563.5 825.3L565.0 821.7L567.5 815.1L568.5 812.7L569.0 811.7L569.5 810.9L570.0 810.3L570.5 809.9L571.0 809.8L571.5 809.9L572.0 810.3L572.5 810.9L573.0 811.7L574.0 813.9L575.5 817.8L577.5 823.1L579.0 826.6L580.5 829.6L582.0 832.1L583.5 834.0L585.0 835.5L587.0 836.9L589.5 838.2L593.0 839.3L597.5 840.2L602.5 840.5L617.0 840.0L625.0 840.5L634.0 841.1L642.0 841.0L653.0 840.6L671.5 841.1L687.0 841.2L698.0 841.3L706.5 840.7L713.5 840.1" fill="none" stroke="#000" stroke-width="2.9" stroke-linejoin="round"/>
<path d="M97.0 815.2L106.5 815.3L121.5 816.1L129.5 815.9L140.0 815.4L157.5 815.8L173.0 815.2L182.0 815.6L190.5 816.0L198.5 815.7L208.0 815.2L216.0 815.4L226.5 815.9L236.5 815.5L246.0 815.3L263.0 815.6L275.0 815.6L289.5 816.4L296.0 816.2L309.5 814.9L316.5 814.8L329.5 815.3L343.0 815.2L352.5 815.9L360.5 816.5L367.5 816.3L380.5 815.4L399.0 815.3L411.5 814.9L430.0 815.5L444.5 815.4L460.0 816.2L466.5 816.0L479.5 814.7L486.5 814.6L500.0 815.1L512.5 815.1L526.0 815.7L531.0 815.4L535.0 814.7L539.0 813.4L542.5 811.8L545.0 810.1L547.0 808.3L548.5 806.5L550.0 804.0L551.0 802.0L552.0 799.6L553.0 796.8L554.0 793.5L555.0 789.8L558.0 777.7L558.5 776.0L559.0 774.4L559.5 773.1L560.0 772.1L560.5 771.5L561.0 771.3L561.5 771.5L562.0 772.2L562.5 773.2L563.0 774.6L563.5 776.2L564.5 780.0L567.0 790.3L568.0 794.0L569.0 797.3L570.0 800.2L571.0 802.6L572.0 804.6L573.0 806.2L574.5 808.1L576.0 809.5L578.0 810.7L580.5 811.7L584.0 812.3L587.5 812.5L590.0 812.2L592.0 811.5L593.5 810.7L595.0 809.5L596.5 807.7L597.5 806.1L598.5 804.2L599.5 801.8L600.5 798.9L601.5 795.5L602.5 791.7L603.5 787.4L605.5 778.2L606.5 774.0L607.0 772.2L607.5 770.8L608.0 769.6L608.5 768.9L609.0 768.6L609.5 768.8L610.0 769.5L610.5 770.5L611.0 772.0L611.5 773.7L612.0 775.7L613.5 782.3L615.0 788.9L616.0 792.9L617.0 796.5L618.0 799.7L619.0 802.3L620.0 804.6L621.0 806.4L622.5 808.6L624.0 810.2L626.0 811.7L628.5 813.0L632.0 814.1L636.5 814.8L643.0 815.0L653.0 815.2L669.5 816.5L690.5 816.9L699.5 817.0L708.5 816.4L713.5 815.9" fill="none" stroke="#000" stroke-width="2.9" stroke-linejoin="round"/>
<path d="M97.0 791.0L107.5 790.8L123.0 791.5L131.5 791.2L142.0 790.7L161.5 790.9L173.0 790.9L187.5 791.6L194.5 791.3L206.0 790.4L212.5 790.5L224.5 791.3L231.5 791.2L243.5 790.6L252.5 790.8L263.0 791.1L277.5 791.0L292.0 791.5L301.0 791.1L311.0 790.5L329.0 790.7L341.0 790.5L349.0 791.0L358.5 791.7L365.0 791.6L378.0 790.6L385.0 790.6L396.5 791.1L406.0 790.8L415.5 790.5L433.5 790.8L446.0 790.9L460.0 791.5L467.5 791.2L479.0 790.4L487.0 790.4L498.0 790.7L512.5 790.3L521.0 790.7L529.5 791.2L535.5 791.0L548.0 790.0L558.5 789.9L565.0 789.7L569.5 789.1L573.5 787.9L576.5 786.6L579.0 785.1L580.5 783.8L582.0 782.1L583.5 779.8L584.5 777.8L585.5 775.5L586.5 772.6L587.5 769.2L588.5 765.3L589.5 760.9L591.0 753.6L592.5 746.3L593.0 744.0L593.5 742.0L594.0 740.3L594.5 739.0L595.0 738.2L595.5 737.8L596.0 738.0L596.5 738.7L597.0 739.8L597.5 741.4L598.0 743.3L598.5 745.5L599.5 750.3L601.5 760.2L602.5 764.7L603.5 768.7L604.5 772.2L605.5 775.1L606.5 777.5L607.5 779.5L608.5 781.1L610.0 782.9L611.5 784.2L613.5 785.3L616.0 786.2L619.5 786.8L623.0 786.8L626.0 786.3L628.5 785.4L630.0 784.4L631.5 783.1L633.0 781.2L634.0 779.5L635.0 777.3L636.0 774.7L637.0 771.5L637.5 769.6L638.0 767.6L638.5 765.4L639.0 763.0L639.5 760.5L640.0 757.8L641.0 751.8L642.0 745.4L643.5 735.4L644.0 732.3L644.5 729.4L645.0 726.8L645.5 724.7L646.0 723.1L646.5 722.0L647.0 721.7L647.5 722.0L648.0 723.0L648.5 724.6L649.0 726.7L649.5 729.2L650.0 732.1L651.0 738.5L652.5 748.4L653.5 754.6L654.0 757.4L654.5 760.2L655.0 762.7L655.5 765.1L656.0 767.3L656.5 769.3L657.5 772.9L658.5 775.9L659.5 778.4L660.5 780.4L661.5 782.0L663.0 783.9L664.5 785.3L666.5 786.7L669.0 787.9L672.5 788.9L678.0 789.8L697.5 791.7L704.0 791.8L713.5 791.2" fill="none" stroke="#000" stroke-width="2.9" stroke-linejoin="round"/>
<path d="M97.0 765.9L106.0 765.8L121.5 766.7L128.0 766.5L141.5 765.4L149.5 765.4L166.5 765.7L176.5 766.0L188.0 766.8L195.5 766.6L207.5 765.9L218.0 766.1L226.0 766.1L241.0 765.1L248.0 765.2L261.0 766.1L278.0 766.2L291.0 766.8L298.0 766.6L311.0 765.5L320.0 765.4L342.5 765.7L357.5 766.6L364.0 766.5L377.0 765.5L384.0 765.6L396.0 766.2L406.0 765.9L415.0 765.8L430.0 766.3L447.5 765.7L463.5 766.0L479.5 765.3L488.5 765.6L498.5 766.0L514.0 765.9L528.0 766.5L534.5 766.2L547.5 764.7L554.0 764.6L568.0 765.2L583.5 765.3L593.0 765.4L598.0 765.0L602.0 764.2L605.5 763.0L608.5 761.5L611.0 759.7L612.5 758.3L614.0 756.5L615.0 754.9L616.0 753.0L617.0 750.7L618.0 747.9L619.0 744.6L620.0 740.7L621.0 736.2L622.0 731.1L623.5 722.7L624.5 717.1L625.0 714.4L625.5 711.9L626.0 709.7L626.5 707.8L627.0 706.4L627.5 705.6L628.0 705.3L628.5 705.6L629.0 706.5L629.5 707.9L630.0 709.8L630.5 712.0L631.0 714.6L632.0 720.1L633.5 728.7L634.5 734.0L635.5 738.8L636.5 743.0L637.5 746.6L638.5 749.6L639.5 752.0L640.5 754.0L641.5 755.6L643.0 757.4L644.5 758.6L646.5 759.7L649.5 760.6L653.0 761.1L657.0 761.1L660.5 760.6L663.0 759.7L665.0 758.5L666.5 757.2L668.0 755.3L669.0 753.7L670.0 751.6L671.0 749.1L671.5 747.6L672.0 745.9L672.5 744.1L673.0 742.1L673.5 739.8L674.0 737.4L674.5 734.8L675.0 732.0L675.5 728.9L676.0 725.7L676.5 722.2L677.5 714.8L679.5 699.0L680.0 695.2L680.5 691.8L681.0 688.7L681.5 686.1L682.0 684.2L682.5 683.0L683.0 682.7L683.5 683.1L684.0 684.3L684.5 686.2L685.0 688.8L685.5 691.9L686.0 695.4L686.5 699.2L688.5 715.1L689.5 722.6L690.0 726.1L690.5 729.4L691.0 732.5L691.5 735.3L692.0 738.0L692.5 740.5L693.0 742.7L693.5 744.8L694.0 746.7L694.5 748.4L695.5 751.3L696.5 753.7L697.5 755.6L698.5 757.2L700.0 759.0L701.5 760.3L703.5 761.5L706.5 762.7L710.5 763.6L713.5 764.0" fill="none" stroke="#000" stroke-width="2.9" stroke-linejoin="round"/>
<path d="M97.0 741.7L108.0 741.6L122.5 742.3L130.0 742.1L142.5 741.2L168.0 741.2L177.5 741.7L187.0 742.2L194.0 742.0L205.5 741.2L212.0 741.2L224.0 742.0L231.0 741.9L242.5 741.1L250.0 741.2L262.0 741.8L279.5 741.6L293.0 741.9L310.5 741.2L328.5 741.5L341.5 741.4L351.5 742.0L359.0 742.4L365.5 742.1L377.0 740.9L383.0 740.9L397.0 741.7L406.0 741.5L416.0 741.3L433.0 741.7L447.0 741.6L460.5 742.0L469.0 741.6L479.0 741.0L487.5 741.2L497.5 741.5L512.0 741.0L519.5 741.5L529.0 742.2L535.0 742.2L549.5 740.9L557.0 740.9L569.5 741.3L587.5 741.1L599.0 741.0L611.5 740.6L625.5 741.0L630.0 740.6L633.5 739.9L637.0 738.6L640.0 737.0L642.5 735.2L644.5 733.2L646.0 731.2L647.0 729.5L648.0 727.4L649.0 724.9L650.0 721.9L651.0 718.3L652.0 714.1L653.0 709.3L654.0 703.9L655.5 694.9L656.5 688.9L657.0 686.0L657.5 683.4L658.0 681.0L658.5 679.1L659.0 677.6L659.5 676.7L660.0 676.5L660.5 676.8L661.0 677.8L661.5 679.3L662.0 681.4L662.5 683.8L663.0 686.5L664.0 692.5L665.5 701.8L666.5 707.6L667.5 712.8L668.0 715.2L668.5 717.4L669.0 719.4L670.0 722.9L671.0 725.9L672.0 728.3L673.0 730.3L674.0 731.8L675.5 733.6L677.0 734.8L679.0 735.9L682.0 736.9L686.0 737.6L690.0 737.7L693.5 737.2L696.0 736.3L698.0 735.2L699.5 733.9L700.5 732.7L701.5 731.1L702.5 729.1L703.0 727.9L703.5 726.5L704.0 725.0L704.5 723.2L705.0 721.2L705.5 718.9L706.0 716.4L706.5 713.5L707.0 710.4L707.5 706.9L708.0 703.1L708.5 699.1L709.0 694.7L709.5 690.0L710.5 680.1L711.5 669.9L712.0 665.1L712.5 660.7L713.0 657.0L713.5 654.2" fill="none" stroke="#000" stroke-width="2.9" stroke-linejoin="round"/>
<path d="M97.0 717.4L111.5 718.0L120.5 718.2L128.5 717.7L139.0 716.9L147.0 716.9L158.0 717.2L172.0 716.8L180.0 717.3L189.5 718.0L196.0 717.9L208.5 717.0L216.0 717.2L227.0 717.7L237.0 717.4L248.0 717.2L263.0 717.1L274.0 717.0L290.0 717.8L297.0 717.6L308.0 716.8L315.0 716.9L327.0 717.6L335.5 717.5L345.0 717.2L361.0 717.8L368.5 717.5L379.5 716.7L388.5 716.9L400.5 717.1L414.0 717.2L427.0 717.6L443.5 717.0L451.5 717.4L460.5 717.9L466.5 717.7L479.5 716.4L486.0 716.3L500.5 717.0L515.5 716.9L530.5 717.7L538.5 717.5L551.0 716.8L567.5 716.6L580.0 716.2L597.0 716.7L605.0 716.3L614.5 715.7L622.0 715.8L633.0 716.2L639.5 715.9L651.0 714.4L658.5 713.0L662.5 711.8L665.5 710.5L668.0 708.8L669.5 707.5L671.0 705.7L672.0 704.2L673.0 702.3L674.0 700.1L675.0 697.3L676.0 694.0L676.5 692.1L677.0 690.0L677.5 687.8L678.0 685.4L678.5 682.8L679.0 680.0L680.0 674.0L681.0 667.4L682.5 657.3L683.0 654.1L683.5 651.1L684.0 648.5L684.5 646.3L685.0 644.6L685.5 643.5L686.0 643.1L686.5 643.4L687.0 644.4L687.5 646.0L688.0 648.1L688.5 650.6L689.0 653.5L690.0 659.8L691.5 669.6L692.5 675.7L693.0 678.5L693.5 681.2L694.0 683.6L694.5 685.9L695.0 688.0L695.5 689.9L696.0 691.7L696.5 693.2L697.5 695.9L698.5 698.0L699.5 699.7L700.5 700.9L702.0 702.1L703.5 702.8L705.5 703.1L707.5 702.8L710.0 701.9L712.5 700.4L713.5 699.7" fill="none" stroke="#000" stroke-width="2.9" stroke-linejoin="round"/>
</g>
<clipPath id="clipd"><rect x="834.9" y="618.8" width="613.4" height="530.6000000000001"/></clipPath>
<g clip-path="url(#clipd)">
<path d="M836.9 1131.6L836.9 1131.6L837.9 1131.6L837.9 1131.6ZM852.9 1131.6L852.9 1131.6L867.4 1131.5L870.9 1131.6L870.9 1131.6ZM905.4 1131.6L905.4 1131.6L919.4 1131.5L921.9 1131.6L921.9 1131.6ZM938.4 1131.6L938.4 1131.6L950.4 1131.5L953.4 1131.6L953.4 1131.6ZM988.4 1131.6L988.4 1131.6L1002.4 1131.5L1005.9 1131.6L1005.9 1131.6ZM1039.4 1131.6L1039.4 1131.6L1053.4 1131.4L1058.4 1131.6L1058.4 1131.6ZM1081.4 1131.6L1081.4 1131.6L1086.9 1131.6L1086.9 1131.6ZM1096.9 1131.6L1096.9 1131.6L1112.4 1131.6L1112.4 1131.6ZM1122.9 1131.6L1122.9 1131.6L1136.9 1131.6L1137.4 1131.6L1137.4 1131.6ZM1172.4 1131.6L1172.4 1131.6L1188.4 1131.4L1194.4 1131.6L1194.4 1131.6ZM1220.9 1131.6L1220.9 1131.6L1242.9 1131.5L1244.9 1131.6L1244.9 1131.6ZM1263.4 1131.6L1263.4 1131.6L1274.4 1131.6L1274.4 1131.6ZM1289.4 1131.6L1289.4 1131.6L1302.9 1131.6L1302.9 1131.6ZM1314.4 1131.6L1314.4 1131.6L1326.4 1131.6L1326.4 1131.6ZM1349.9 1131.6L1349.9 1131.6L1375.4 1131.5L1379.4 1131.6L1379.4 1131.6ZM1400.9 1131.6L1400.9 1131.6L1413.4 1131.6L1413.4 1131.6ZM1421.9 1131.6L1421.9 1131.6L1435.9 1131.6L1435.9 1131.6Z" fill="#bfbfbf"/>
<path d="M851.4 1108.6L851.4 1108.6L866.4 1108.5L869.9 1108.6L869.9 1108.6ZM905.4 1108.6L905.4 1108.6L919.4 1108.5L924.9 1108.6L924.9 1108.6ZM939.4 1108.6L939.4 1108.6L950.9 1108.6L950.9 1108.6ZM984.4 1108.6L984.4 1108.6L1000.4 1108.4L1009.9 1108.4L1020.9 1107.5L1025.9 1107.7L1034.4 1108.4L1045.4 1108.4L1056.9 1108.5L1058.9 1108.6L1058.9 1108.6ZM1080.4 1108.6L1080.4 1108.6L1110.4 1108.6L1111.9 1108.6L1111.9 1108.6ZM1126.4 1108.6L1126.4 1108.6L1135.9 1108.6L1135.9 1108.6ZM1158.4 1108.6L1158.4 1108.6L1188.9 1108.5L1192.9 1108.6L1192.9 1108.6ZM1221.9 1108.6L1221.9 1108.6L1242.4 1108.5L1245.9 1108.6L1245.9 1108.6ZM1263.4 1108.6L1263.4 1108.6L1275.9 1108.6L1275.9 1108.6ZM1291.9 1108.6L1291.9 1108.6L1298.9 1108.6L1298.9 1108.6ZM1314.9 1108.6L1314.9 1108.6L1326.9 1108.6L1326.9 1108.6ZM1346.4 1108.6L1346.4 1108.6L1376.9 1108.6L1378.4 1108.6L1378.4 1108.6ZM1400.4 1108.6L1400.4 1108.6L1414.9 1108.5L1433.9 1108.6L1433.9 1108.6Z" fill="#bfbfbf"/>
<path d="M846.9 1085.4L846.9 1085.4L859.9 1084.7L865.9 1085.0L869.9 1085.4L869.9 1085.4ZM907.4 1085.4L907.4 1085.4L916.4 1084.9L923.4 1085.2L925.4 1085.4L925.4 1085.4ZM939.4 1085.4L939.4 1085.4L947.4 1085.1L956.9 1085.4L956.9 1085.4ZM987.4 1085.4L987.4 1085.4L995.9 1084.8L1001.4 1085.0L1005.9 1085.4L1005.9 1085.4ZM1016.9 1085.4L1016.9 1085.4L1021.4 1084.4L1027.9 1082.4L1030.4 1082.0L1032.9 1082.2L1040.9 1084.2L1045.4 1084.6L1055.4 1085.1L1058.9 1085.4L1058.9 1085.4ZM1088.9 1085.4L1088.9 1085.4L1103.9 1084.9L1112.4 1085.4L1112.4 1085.4ZM1124.4 1085.4L1124.4 1085.4L1132.4 1085.0L1138.4 1085.3L1139.9 1085.4L1139.9 1085.4ZM1160.9 1085.4L1160.9 1085.4L1173.9 1084.6L1180.9 1084.1L1186.4 1084.3L1195.4 1085.4L1195.4 1085.4ZM1227.9 1085.4L1227.9 1085.4L1238.4 1084.9L1244.9 1085.3L1245.9 1085.4L1245.9 1085.4ZM1263.4 1085.4L1263.4 1085.4L1269.9 1085.0L1277.9 1085.3L1280.4 1085.4L1280.4 1085.4ZM1292.9 1085.4L1292.9 1085.4L1299.9 1085.4L1299.9 1085.4ZM1309.9 1085.4L1309.9 1085.4L1320.4 1085.2L1324.9 1085.4L1324.9 1085.4ZM1345.4 1085.4L1345.4 1085.4L1352.9 1085.1L1363.9 1085.1L1373.9 1084.8L1379.9 1085.2L1381.9 1085.4L1381.9 1085.4ZM1403.4 1085.4L1403.4 1085.4L1411.4 1085.3L1432.4 1085.4L1433.4 1085.4L1433.4 1085.4ZM1444.9 1085.4L1444.9 1085.4L1449.9 1085.1L1449.9 1085.4Z" fill="#bfbfbf"/>
<path d="M838.4 1061.6L838.4 1061.6L841.9 1061.6L841.9 1061.6ZM847.9 1061.6L847.9 1061.6L862.4 1060.9L868.9 1061.3L872.4 1061.6L872.4 1061.6ZM903.9 1061.6L903.9 1061.6L913.9 1061.1L919.9 1061.3L922.9 1061.6L922.9 1061.6ZM938.4 1061.6L938.4 1061.6L945.4 1061.2L953.9 1061.6L954.4 1061.6L954.4 1061.6ZM967.4 1061.6L967.4 1061.6L976.4 1061.6L977.9 1061.6L977.9 1061.6ZM987.4 1061.6L987.4 1061.6L997.9 1061.3L1004.9 1061.6L1004.9 1061.6ZM1018.9 1061.6L1018.9 1061.6L1027.4 1060.8L1030.9 1060.0L1033.9 1058.8L1039.4 1055.4L1040.9 1054.8L1042.4 1054.6L1043.9 1054.8L1045.9 1055.7L1051.4 1058.8L1054.9 1060.2L1059.4 1061.4L1060.9 1061.6L1060.9 1061.6ZM1078.9 1061.6L1078.9 1061.6L1086.9 1061.4L1098.9 1061.3L1108.4 1061.3L1114.9 1061.6L1114.9 1061.6ZM1121.9 1061.6L1121.9 1061.6L1131.9 1061.3L1138.4 1061.6L1138.4 1061.6ZM1158.4 1061.6L1158.4 1061.6L1164.9 1061.6L1164.9 1061.6ZM1172.4 1061.6L1172.4 1061.6L1178.4 1061.1L1186.9 1059.9L1190.9 1059.8L1195.4 1060.4L1201.9 1061.6L1202.4 1061.6L1202.4 1061.6ZM1212.4 1061.6L1212.4 1061.6L1221.9 1061.3L1239.4 1061.4L1242.4 1061.6L1242.4 1061.6ZM1261.9 1061.6L1261.9 1061.6L1268.9 1061.2L1277.9 1061.6L1277.9 1061.6ZM1286.9 1061.6L1286.9 1061.6L1295.9 1061.3L1301.9 1061.6L1301.9 1061.6ZM1314.4 1061.6L1314.4 1061.6L1322.4 1061.3L1328.4 1061.6L1328.4 1061.6ZM1350.9 1061.6L1350.9 1061.6L1372.4 1061.0L1378.9 1061.4L1380.9 1061.6L1380.9 1061.6ZM1398.9 1061.6L1398.9 1061.6L1405.4 1061.4L1410.9 1061.6L1410.9 1061.6ZM1426.4 1061.6L1426.4 1061.6L1434.9 1061.5L1437.9 1061.6L1437.9 1061.6ZM1445.9 1061.6L1445.9 1061.6L1449.9 1061.4L1449.9 1061.6Z" fill="#bfbfbf"/>
<path d="M832.9 1038.2L832.9 1038.2L840.9 1038.2L841.9 1038.2L841.9 1038.2ZM854.4 1038.2L854.4 1038.2L863.4 1037.8L870.9 1038.2L870.9 1038.2ZM890.9 1038.2L890.9 1038.2L905.9 1037.9L914.4 1037.8L920.9 1038.2L920.9 1038.2ZM939.4 1038.2L939.4 1038.2L945.9 1037.8L954.4 1038.1L956.4 1038.2L956.4 1038.2ZM965.4 1038.2L965.4 1038.2L974.9 1038.1L977.4 1038.2L977.4 1038.2ZM987.9 1038.2L987.9 1038.2L997.9 1037.8L1006.4 1038.2L1006.4 1038.2ZM1023.4 1038.2L1023.4 1038.2L1035.9 1038.0L1040.9 1037.4L1044.4 1036.5L1046.9 1035.5L1049.4 1034.0L1052.4 1031.5L1055.4 1028.9L1056.9 1028.0L1058.4 1027.7L1059.4 1027.9L1060.9 1028.8L1062.9 1030.6L1065.9 1033.6L1067.9 1035.3L1069.9 1036.4L1072.4 1037.2L1075.9 1037.5L1087.4 1037.9L1095.4 1038.2L1095.4 1038.2ZM1097.9 1038.2L1097.9 1038.2L1110.4 1038.2L1110.4 1038.2ZM1120.4 1038.2L1120.4 1038.2L1131.4 1037.7L1138.4 1038.0L1141.4 1038.2L1141.4 1038.2ZM1174.9 1038.2L1174.9 1038.2L1186.4 1037.3L1198.4 1037.1L1204.9 1036.9L1219.4 1037.8L1229.9 1037.8L1239.9 1037.8L1246.4 1038.2L1246.4 1038.2ZM1262.4 1038.2L1262.4 1038.2L1269.4 1038.1L1272.4 1038.2L1272.4 1038.2ZM1289.9 1038.2L1289.9 1038.2L1297.4 1037.9L1309.9 1038.1L1321.4 1037.7L1328.4 1038.2L1328.4 1038.2ZM1354.9 1038.2L1354.9 1038.2L1371.4 1037.5L1377.4 1037.8L1380.9 1038.2L1380.9 1038.2ZM1399.4 1038.2L1399.4 1038.2L1405.9 1038.0L1412.4 1038.2L1412.4 1038.2ZM1422.4 1038.2L1422.4 1038.2L1431.4 1038.0L1436.9 1038.2L1436.9 1038.2Z" fill="#bfbfbf"/>
<path d="M853.9 1015.2L853.9 1015.2L857.4 1014.6L863.4 1014.6L870.9 1015.2L870.9 1015.2ZM894.9 1015.2L894.9 1015.2L907.4 1014.7L914.4 1014.5L920.9 1015.0L922.4 1015.2L922.4 1015.2ZM940.9 1015.2L940.9 1015.2L947.4 1015.0L953.4 1015.2L953.4 1015.2ZM965.4 1015.2L965.4 1015.2L974.4 1015.0L982.9 1015.2L982.9 1015.2ZM983.4 1015.2L983.4 1015.2L997.9 1014.8L1006.4 1015.2L1006.4 1015.2ZM1021.9 1015.2L1021.9 1015.2L1037.4 1015.0L1050.4 1014.0L1059.4 1013.9L1061.9 1013.4L1063.9 1012.6L1065.4 1011.6L1066.9 1010.2L1068.4 1008.4L1070.4 1005.3L1073.4 1000.3L1074.4 998.9L1075.4 997.9L1076.4 997.4L1077.4 997.5L1078.4 998.1L1079.4 999.2L1080.9 1001.4L1083.9 1006.2L1085.9 1008.8L1087.4 1010.4L1089.4 1011.9L1091.4 1012.9L1094.4 1013.8L1099.4 1014.3L1114.4 1015.2L1114.4 1015.2ZM1121.4 1015.2L1121.4 1015.2L1132.4 1014.7L1142.4 1015.2L1142.4 1015.2ZM1152.9 1015.2L1152.9 1015.2L1161.9 1015.0L1167.4 1015.2L1167.4 1015.2ZM1174.4 1015.2L1174.4 1015.2L1185.4 1014.6L1191.4 1014.8L1195.9 1015.2L1195.9 1015.2ZM1202.9 1015.2L1202.9 1015.2L1206.9 1014.5L1213.4 1013.1L1216.4 1012.8L1220.4 1013.2L1227.9 1014.3L1234.9 1014.6L1244.4 1015.0L1246.9 1015.2L1246.9 1015.2ZM1259.4 1015.2L1259.4 1015.2L1267.4 1014.8L1274.4 1015.2L1274.4 1015.2ZM1292.9 1015.2L1292.9 1015.2L1301.4 1015.2L1301.4 1015.2ZM1310.4 1015.2L1310.4 1015.2L1321.4 1014.6L1327.9 1014.9L1330.9 1015.2L1330.9 1015.2ZM1357.9 1015.2L1357.9 1015.2L1372.4 1014.7L1378.9 1015.0L1380.4 1015.2L1380.4 1015.2ZM1398.4 1015.2L1398.4 1015.2L1404.9 1014.9L1412.9 1015.2L1412.9 1015.2ZM1422.9 1015.2L1422.9 1015.2L1431.9 1015.0L1438.4 1015.2L1438.4 1015.2Z" fill="#bfbfbf"/>
<path d="M852.4 991.8L852.4 991.8L856.9 990.8L861.4 990.6L866.4 991.0L871.9 991.8L871.9 991.8ZM903.9 991.8L903.9 991.8L916.4 991.3L925.9 991.8L925.9 991.8ZM939.9 991.8L939.9 991.8L948.4 991.8L949.4 991.8L949.4 991.8ZM962.4 991.8L962.4 991.8L970.9 991.6L975.9 991.8L975.9 991.8ZM987.4 991.8L987.4 991.8L996.4 991.2L1001.9 991.4L1006.4 991.8L1006.4 991.8ZM1023.9 991.8L1023.9 991.8L1034.4 991.4L1049.4 991.0L1058.4 991.5L1063.4 991.8L1063.4 991.8ZM1065.4 991.8L1065.4 991.8L1070.9 991.4L1077.9 990.2L1081.4 989.3L1083.9 988.1L1085.9 986.5L1087.4 984.9L1088.9 982.8L1090.4 980.2L1092.4 976.1L1094.4 971.8L1095.4 970.0L1096.4 968.7L1096.9 968.3L1097.4 968.1L1097.9 968.1L1098.4 968.3L1098.9 968.7L1099.9 969.9L1100.9 971.7L1104.4 978.9L1105.9 981.6L1107.4 983.9L1108.9 985.7L1110.4 987.2L1112.4 988.6L1114.9 989.7L1118.4 990.6L1122.9 991.1L1135.4 991.1L1145.4 991.8L1145.4 991.8ZM1156.9 991.8L1156.9 991.8L1177.4 991.3L1184.9 991.1L1193.4 991.8L1193.4 991.8ZM1207.4 991.8L1207.4 991.8L1219.4 990.1L1227.9 988.7L1231.4 988.5L1235.4 989.0L1248.4 991.6L1250.4 991.8L1250.4 991.8ZM1262.9 991.8L1262.9 991.8L1270.9 991.4L1289.4 991.7L1295.4 991.8L1295.4 991.8ZM1311.4 991.8L1311.4 991.8L1319.9 991.4L1325.9 991.6L1327.9 991.8L1327.9 991.8ZM1345.4 991.8L1345.4 991.8L1352.9 991.5L1365.9 991.6L1375.9 991.5L1381.9 991.8L1381.9 991.8ZM1401.4 991.8L1401.4 991.8L1410.4 991.7L1413.4 991.8L1413.4 991.8ZM1418.4 991.8L1418.4 991.8L1429.9 991.7L1432.4 991.8L1432.4 991.8ZM1446.4 991.8L1446.4 991.8L1449.9 991.5L1449.9 991.8Z" fill="#bfbfbf"/>
<path d="M852.9 968.4L852.9 968.4L857.4 967.6L862.9 967.6L869.9 968.4L869.9 968.4ZM888.9 968.4L888.9 968.4L897.9 968.2L908.4 968.0L915.9 967.8L923.4 968.3L924.4 968.4L924.4 968.4ZM959.9 968.4L959.9 968.4L970.9 968.1L979.9 968.4L979.9 968.4ZM983.4 968.4L983.4 968.4L996.4 967.7L1002.4 968.0L1005.9 968.4L1005.9 968.4ZM1024.4 968.4L1024.4 968.4L1042.9 967.9L1051.4 967.6L1065.4 968.3L1072.4 968.0L1083.9 967.1L1091.4 966.6L1096.4 965.8L1100.4 964.6L1103.4 963.3L1105.4 962.0L1107.4 960.2L1108.9 958.4L1110.4 956.1L1111.9 953.3L1113.4 949.9L1116.4 942.2L1117.4 940.0L1117.9 939.1L1118.4 938.3L1118.9 937.7L1119.4 937.4L1119.9 937.3L1120.4 937.5L1120.9 937.9L1121.4 938.5L1121.9 939.3L1122.9 941.4L1126.4 950.1L1127.9 953.4L1129.4 956.1L1130.9 958.4L1132.4 960.1L1134.4 961.9L1136.9 963.5L1140.4 965.1L1144.9 966.3L1149.9 967.1L1157.9 967.4L1174.9 967.8L1185.4 967.7L1194.4 968.4L1194.4 968.4ZM1208.9 968.4L1208.9 968.4L1217.9 968.0L1225.9 967.8L1230.9 967.1L1239.9 965.2L1243.4 965.1L1246.9 965.5L1254.9 967.5L1259.4 968.0L1272.4 968.0L1278.9 968.4L1278.9 968.4ZM1305.9 968.4L1305.9 968.4L1319.4 967.7L1325.4 968.0L1329.9 968.4L1329.9 968.4ZM1349.9 968.4L1349.9 968.4L1353.4 968.4L1353.4 968.4ZM1364.9 968.4L1364.9 968.4L1374.9 968.0L1382.4 968.4L1382.4 968.4ZM1398.9 968.4L1398.9 968.4L1406.4 968.1L1421.9 968.3L1431.9 968.4L1431.9 968.4ZM1447.9 968.4L1447.9 968.4L1449.9 968.3L1449.9 968.4Z" fill="#bfbfbf"/>
<path d="M852.9 945.2L852.9 945.2L857.4 944.3L862.9 944.2L868.9 944.7L873.4 945.2L873.4 945.2ZM901.9 945.2L901.9 945.2L914.4 944.7L921.4 945.0L922.9 945.2L922.9 945.2ZM938.9 945.2L938.9 945.2L945.9 944.9L954.9 945.2L954.9 945.2ZM961.9 945.2L961.9 945.2L972.4 944.9L982.4 945.2L982.4 945.2ZM984.9 945.2L984.9 945.2L997.9 944.8L1004.9 945.2L1004.9 945.2ZM1022.4 945.2L1022.4 945.2L1040.9 944.5L1048.9 944.1L1054.9 944.5L1061.4 945.2L1061.4 945.2ZM1072.4 945.2L1072.4 945.2L1082.4 944.4L1094.9 944.0L1113.4 942.1L1117.4 941.3L1120.9 940.0L1123.4 938.7L1125.9 936.8L1127.9 934.8L1129.4 933.0L1130.9 930.7L1132.4 927.9L1133.9 924.5L1135.4 920.6L1138.4 911.5L1139.4 908.8L1139.9 907.6L1140.4 906.7L1140.9 906.0L1141.4 905.5L1141.9 905.3L1142.4 905.5L1142.9 905.9L1143.4 906.5L1143.9 907.5L1144.4 908.6L1145.4 911.3L1148.4 920.6L1149.9 924.6L1151.4 928.1L1152.9 930.8L1154.4 933.1L1155.9 934.9L1157.9 936.8L1160.4 938.5L1163.9 940.3L1167.9 941.6L1172.4 942.6L1177.9 943.0L1187.4 943.5L1199.9 944.9L1205.4 945.0L1217.4 944.4L1240.4 944.8L1246.4 945.2L1246.4 945.2ZM1260.9 945.2L1260.9 945.2L1268.9 944.8L1283.9 945.1L1295.9 944.9L1303.9 945.2L1303.9 945.2ZM1310.9 945.2L1310.9 945.2L1320.9 944.7L1327.4 945.0L1329.4 945.2L1329.4 945.2ZM1349.9 945.2L1349.9 945.2L1373.9 944.7L1381.9 945.2L1381.9 945.2ZM1397.4 945.2L1397.4 945.2L1404.4 944.9L1411.4 945.2L1411.4 945.2ZM1426.4 945.2L1426.4 945.2L1433.9 945.2L1433.9 945.2ZM1446.4 945.2L1446.4 945.2L1449.9 945.0L1449.9 945.2Z" fill="#bfbfbf"/>
<path d="M852.4 933.4L852.4 933.4L854.4 933.0L857.4 932.5L862.4 932.4L868.9 933.1L871.4 933.4L871.4 933.4ZM888.4 933.4L888.4 933.4L896.9 933.3L899.4 933.4L899.4 933.4ZM902.9 933.4L902.9 933.4L916.4 932.9L923.4 933.3L924.4 933.4L924.4 933.4ZM943.4 933.4L943.4 933.4L953.4 933.3L971.4 933.1L979.9 933.4L979.9 933.4ZM983.4 933.4L983.4 933.4L995.9 932.8L1001.9 933.1L1004.4 933.4L1004.4 933.4ZM1022.9 933.4L1022.9 933.4L1030.9 933.0L1043.4 932.7L1051.4 932.5L1059.9 933.1L1063.9 933.4L1063.9 933.4ZM1071.4 933.4L1071.4 933.4L1084.9 932.8L1094.9 932.4L1104.9 931.7L1115.4 931.6L1119.9 931.0L1124.4 929.8L1128.9 928.0L1132.9 925.9L1135.4 924.1L1137.4 922.3L1138.9 920.6L1140.4 918.5L1141.9 915.8L1142.9 913.7L1143.9 911.2L1144.9 908.4L1146.4 903.6L1148.9 894.8L1149.9 891.6L1150.4 890.3L1150.9 889.2L1151.4 888.4L1151.9 887.9L1152.4 887.7L1152.9 887.9L1153.4 888.3L1153.9 889.1L1154.4 890.2L1154.9 891.5L1155.9 894.6L1158.9 905.0L1160.4 909.7L1161.4 912.3L1162.9 915.8L1164.4 918.6L1165.9 920.8L1167.4 922.7L1169.4 924.6L1171.9 926.4L1174.9 927.9L1178.9 929.2L1186.9 930.7L1196.9 932.3L1202.9 932.7L1216.9 932.4L1228.9 932.6L1238.9 932.5L1245.9 933.1L1248.4 933.4L1248.4 933.4ZM1262.4 933.4L1262.4 933.4L1269.9 932.9L1277.9 933.1L1286.4 933.3L1301.4 933.2L1310.9 933.1L1319.9 932.8L1326.9 933.3L1328.4 933.4L1328.4 933.4ZM1347.4 933.4L1347.4 933.4L1355.9 933.4L1355.9 933.4ZM1362.4 933.4L1362.4 933.4L1374.9 932.8L1381.4 933.1L1384.4 933.4L1384.4 933.4ZM1398.9 933.4L1398.9 933.4L1406.4 933.1L1416.9 933.4L1416.9 933.4ZM1445.9 933.4L1445.9 933.4L1449.9 933.1L1449.9 933.4Z" fill="#bfbfbf"/>
<path d="M852.4 921.8L852.4 921.8L856.9 921.0L862.4 920.9L869.4 921.5L871.9 921.8L871.9 921.8ZM902.9 921.8L902.9 921.8L914.4 921.1L920.4 921.3L925.4 921.8L925.4 921.8ZM939.9 921.8L939.9 921.8L947.4 921.5L953.9 921.8L953.9 921.8ZM966.9 921.8L966.9 921.8L978.9 921.8L987.9 921.5L996.4 921.2L1003.4 921.6L1005.4 921.8L1005.4 921.8ZM1020.9 921.8L1020.9 921.8L1029.4 921.5L1039.4 921.4L1049.9 921.0L1055.9 921.3L1060.9 921.8L1060.9 921.8ZM1074.4 921.8L1074.4 921.8L1083.9 921.1L1105.9 920.5L1116.4 920.6L1121.9 920.1L1130.9 918.4L1137.9 916.8L1141.4 915.5L1143.9 914.0L1145.9 912.4L1147.4 910.8L1148.9 908.7L1150.4 906.2L1151.9 903.1L1152.9 900.6L1153.9 897.7L1154.9 894.6L1156.4 889.2L1158.4 881.7L1159.4 878.4L1159.9 876.9L1160.4 875.8L1160.9 874.8L1161.4 874.3L1161.9 874.0L1162.4 874.1L1162.9 874.6L1163.4 875.3L1163.9 876.4L1164.4 877.7L1165.4 880.9L1168.4 892.0L1169.4 895.3L1170.4 898.4L1171.4 901.0L1172.4 903.3L1173.9 906.3L1175.4 908.6L1176.9 910.5L1178.9 912.4L1181.4 914.1L1184.9 915.9L1190.9 918.0L1197.4 919.7L1202.4 920.5L1208.4 920.7L1222.9 920.8L1238.9 920.9L1249.4 921.8L1249.4 921.8ZM1257.9 921.8L1257.9 921.8L1267.9 921.1L1274.4 921.3L1283.4 921.8L1297.9 921.6L1303.9 921.8L1303.9 921.8ZM1310.4 921.8L1310.4 921.8L1321.9 921.4L1330.4 921.8L1330.4 921.8ZM1344.9 921.8L1344.9 921.8L1354.9 921.6L1364.9 921.5L1373.4 921.3L1379.9 921.7L1381.4 921.8L1381.4 921.8ZM1398.9 921.8L1398.9 921.8L1405.4 921.4L1415.9 921.8L1415.9 921.8ZM1424.4 921.8L1424.4 921.8L1434.9 921.7L1436.4 921.8L1436.4 921.8ZM1444.4 921.8L1444.4 921.8L1449.9 921.5L1449.9 921.8Z" fill="#bfbfbf"/>
<path d="M852.4 910.2L852.4 910.2L856.9 909.4L862.4 909.4L870.9 910.2L870.9 910.2ZM901.9 910.2L901.9 910.2L914.4 909.4L919.9 909.7L924.9 910.2L924.9 910.2ZM941.4 910.2L941.4 910.2L948.4 910.0L955.4 910.2L955.4 910.2ZM966.9 910.2L966.9 910.2L977.9 910.2L977.9 910.2ZM982.4 910.2L982.4 910.2L995.9 909.7L1002.9 910.0L1004.9 910.2L1004.9 910.2ZM1020.9 910.2L1020.9 910.2L1028.9 910.0L1038.9 910.0L1050.4 909.5L1056.4 909.8L1060.4 910.2L1060.4 910.2ZM1075.4 910.2L1075.4 910.2L1084.4 909.6L1104.9 909.4L1116.4 909.8L1122.9 909.4L1132.9 908.4L1143.4 907.9L1147.4 907.3L1150.9 906.3L1154.4 904.8L1157.4 902.9L1159.9 900.8L1161.9 898.7L1163.4 896.6L1164.9 894.0L1165.9 891.9L1166.9 889.5L1167.9 886.6L1168.9 883.4L1169.9 879.8L1171.4 873.8L1172.9 867.7L1173.4 865.8L1173.9 864.2L1174.4 862.8L1174.9 861.7L1175.4 861.0L1175.9 860.7L1176.4 860.8L1176.9 861.3L1177.4 862.2L1177.9 863.5L1178.4 865.0L1178.9 866.7L1179.9 870.6L1181.9 878.7L1182.9 882.4L1183.9 885.7L1184.9 888.6L1185.9 891.1L1187.4 894.3L1188.9 896.8L1190.4 898.9L1192.4 901.1L1194.9 903.2L1197.9 905.1L1200.9 906.4L1204.9 907.4L1210.4 908.1L1225.9 908.9L1238.9 909.1L1251.9 910.2L1251.9 910.2ZM1255.9 910.2L1255.9 910.2L1267.4 909.4L1273.4 909.6L1281.4 910.2L1281.4 910.2ZM1288.9 910.2L1288.9 910.2L1298.9 910.0L1309.9 910.1L1321.9 909.7L1330.9 910.2L1330.9 910.2ZM1346.4 910.2L1346.4 910.2L1362.9 910.0L1372.9 909.6L1378.9 909.9L1381.9 910.2L1381.9 910.2ZM1398.9 910.2L1398.9 910.2L1405.9 909.8L1416.4 910.2L1416.4 910.2ZM1423.9 910.2L1423.9 910.2L1434.9 910.1L1439.4 910.2L1439.4 910.2ZM1442.4 910.2L1442.4 910.2L1449.9 909.9L1449.9 910.2Z" fill="#bfbfbf"/>
<path d="M853.4 898.4L853.4 898.4L856.9 897.7L861.9 897.6L867.9 898.0L870.9 898.4L870.9 898.4ZM891.4 898.4L891.4 898.4L915.9 898.0L922.9 898.4L922.9 898.4ZM938.4 898.4L938.4 898.4L945.9 898.1L953.9 898.4L953.9 898.4ZM963.4 898.4L963.4 898.4L972.4 898.3L974.4 898.4L974.4 898.4ZM988.4 898.4L988.4 898.4L997.4 897.8L1003.4 898.0L1008.4 898.4L1008.4 898.4ZM1024.9 898.4L1024.9 898.4L1040.9 898.1L1049.9 897.8L1057.4 898.3L1058.9 898.4L1058.9 898.4ZM1072.9 898.4L1072.9 898.4L1080.9 898.0L1094.4 898.1L1106.4 897.7L1118.9 898.1L1126.4 897.7L1134.4 897.2L1147.4 897.4L1153.9 896.9L1162.9 895.5L1167.9 894.2L1171.4 892.9L1173.9 891.4L1176.4 889.5L1178.4 887.5L1179.9 885.5L1181.4 883.2L1182.9 880.2L1183.9 877.9L1184.9 875.2L1185.9 872.1L1186.9 868.6L1187.9 864.7L1190.4 854.4L1190.9 852.5L1191.4 850.8L1191.9 849.4L1192.4 848.2L1192.9 847.5L1193.4 847.2L1193.9 847.3L1194.4 847.8L1194.9 848.7L1195.4 850.0L1195.9 851.6L1196.4 853.5L1197.4 857.6L1199.4 866.3L1200.4 870.2L1201.4 873.8L1202.4 876.8L1203.4 879.5L1204.4 881.8L1205.9 884.5L1207.4 886.7L1208.9 888.4L1210.9 890.2L1213.4 891.8L1216.9 893.4L1221.4 894.8L1226.4 895.8L1232.4 896.3L1242.9 896.9L1253.9 897.8L1261.4 897.8L1269.9 897.7L1283.4 898.2L1297.4 898.1L1307.4 898.3L1319.9 897.7L1325.9 898.0L1329.9 898.4L1329.9 898.4ZM1346.9 898.4L1346.9 898.4L1355.4 898.0L1374.4 897.9L1381.9 898.4L1381.9 898.4ZM1401.9 898.4L1401.9 898.4L1411.4 898.3L1420.9 898.2L1429.4 898.0L1437.9 898.4L1437.9 898.4ZM1447.9 898.4L1447.9 898.4L1449.9 898.3L1449.9 898.4Z" fill="#bfbfbf"/>
<path d="M852.9 886.8L852.9 886.8L856.9 886.1L862.4 886.0L871.4 886.8L871.4 886.8ZM902.4 886.8L902.4 886.8L914.4 886.2L920.4 886.5L923.4 886.8L923.4 886.8ZM941.4 886.8L941.4 886.8L948.4 886.5L962.9 886.7L975.4 886.7L977.9 886.8L977.9 886.8ZM984.4 886.8L984.4 886.8L995.9 886.4L1003.4 886.8L1003.4 886.8ZM1021.4 886.8L1021.4 886.8L1028.9 886.6L1038.9 886.6L1050.4 886.1L1056.4 886.4L1060.4 886.8L1060.4 886.8ZM1077.4 886.8L1077.4 886.8L1085.9 886.5L1105.4 886.4L1114.9 886.8L1114.9 886.8ZM1117.4 886.8L1117.4 886.8L1124.9 886.3L1131.9 885.8L1138.4 886.0L1146.4 886.5L1152.9 886.2L1163.4 885.4L1172.4 885.0L1177.9 884.2L1184.4 882.6L1189.4 880.9L1192.4 879.4L1194.9 877.7L1196.9 875.8L1198.4 873.9L1199.9 871.5L1200.9 869.5L1201.9 867.1L1202.9 864.4L1203.9 861.2L1204.9 857.6L1205.9 853.6L1208.4 842.8L1208.9 840.8L1209.4 839.0L1209.9 837.4L1210.4 836.2L1210.9 835.4L1211.4 835.0L1211.9 835.0L1212.4 835.5L1212.9 836.3L1213.4 837.6L1213.9 839.1L1214.4 840.9L1215.4 845.0L1217.4 853.6L1218.4 857.5L1219.4 861.0L1220.4 864.2L1221.4 866.8L1222.4 869.2L1223.9 872.0L1225.4 874.3L1226.9 876.1L1228.9 878.0L1231.4 879.6L1234.9 881.3L1240.9 883.2L1248.4 885.0L1253.4 885.7L1258.9 885.8L1267.9 885.5L1274.4 885.8L1282.9 886.5L1291.4 886.4L1300.4 886.3L1310.9 886.4L1321.4 886.2L1330.9 886.8L1330.9 886.8ZM1349.9 886.8L1349.9 886.8L1361.9 886.6L1372.9 886.0L1378.9 886.3L1383.4 886.8L1383.4 886.8ZM1398.4 886.8L1398.4 886.8L1405.4 886.4L1414.9 886.8L1414.9 886.8ZM1426.4 886.8L1426.4 886.8L1437.4 886.8L1437.4 886.8ZM1442.9 886.8L1442.9 886.8L1449.9 886.5L1449.9 886.8Z" fill="#bfbfbf"/>
<path d="M853.9 875.2L853.9 875.2L857.4 874.5L862.9 874.4L868.9 874.8L871.9 875.2L871.9 875.2ZM893.9 875.2L893.9 875.2L909.4 874.8L916.9 874.8L923.4 875.2L923.4 875.2ZM936.9 875.2L936.9 875.2L944.4 874.9L951.4 875.2L951.4 875.2ZM967.4 875.2L967.4 875.2L974.9 875.2L974.9 875.2ZM987.4 875.2L987.4 875.2L997.4 874.5L1003.4 874.7L1008.4 875.2L1008.4 875.2ZM1035.4 875.2L1035.4 875.2L1048.9 874.5L1055.4 874.8L1058.9 875.2L1058.9 875.2ZM1074.4 875.2L1074.4 875.2L1081.9 874.9L1093.9 875.1L1106.4 874.7L1120.4 875.1L1133.9 874.7L1147.9 875.1L1172.4 874.1L1184.4 872.9L1191.4 872.9L1197.4 872.9L1201.4 872.4L1204.9 871.3L1207.9 870.0L1210.9 868.0L1213.4 865.8L1215.4 863.5L1216.9 861.3L1218.4 858.7L1219.4 856.5L1220.4 854.0L1221.4 851.2L1222.4 847.8L1223.4 844.1L1224.4 839.9L1226.9 828.8L1227.4 826.8L1227.9 825.0L1228.4 823.5L1228.9 822.3L1229.4 821.6L1229.9 821.2L1230.4 821.4L1230.9 821.9L1231.4 822.9L1231.9 824.2L1232.4 825.9L1232.9 827.8L1233.9 832.1L1235.9 840.9L1236.9 844.9L1237.9 848.6L1238.9 851.7L1239.9 854.5L1240.9 856.9L1242.4 859.9L1243.9 862.3L1245.4 864.2L1247.4 866.3L1249.9 868.3L1252.9 870.0L1256.4 871.3L1260.9 872.2L1279.9 874.1L1287.9 874.3L1296.9 874.4L1307.4 874.8L1320.9 874.3L1327.4 874.8L1331.4 875.2L1331.4 875.2ZM1344.9 875.2L1344.9 875.2L1353.4 874.7L1373.9 874.7L1380.4 875.2L1380.4 875.2ZM1398.9 875.2L1398.9 875.2L1406.4 874.9L1418.9 875.0L1428.9 874.8L1436.4 875.2L1436.4 875.2Z" fill="#bfbfbf"/>
<path d="M853.4 863.8L853.4 863.8L857.9 863.0L863.4 862.9L869.4 863.5L871.9 863.8L871.9 863.8ZM895.9 863.8L895.9 863.8L915.4 863.4L923.4 863.8L923.4 863.8ZM936.9 863.8L936.9 863.8L944.4 863.5L951.4 863.8L951.4 863.8ZM966.4 863.8L966.4 863.8L973.9 863.7L975.9 863.8L975.9 863.8ZM987.9 863.8L987.9 863.8L997.4 863.2L1003.4 863.4L1008.4 863.8L1008.4 863.8ZM1033.9 863.8L1033.9 863.8L1048.4 863.2L1054.4 863.4L1057.9 863.8L1057.9 863.8ZM1074.9 863.8L1074.9 863.8L1081.9 863.5L1094.4 863.7L1106.4 863.3L1117.9 863.8L1117.9 863.8ZM1122.9 863.8L1122.9 863.8L1133.9 863.4L1143.9 863.8L1143.9 863.8ZM1152.4 863.8L1152.4 863.8L1167.4 863.3L1175.9 862.9L1183.9 862.3L1189.4 862.5L1198.9 863.2L1203.9 863.0L1210.4 862.0L1220.9 859.8L1224.9 858.5L1227.9 857.1L1230.4 855.3L1232.4 853.4L1233.9 851.6L1235.4 849.4L1236.9 846.6L1237.9 844.3L1238.9 841.7L1239.9 838.8L1240.9 835.4L1241.9 831.5L1243.4 825.2L1244.9 818.9L1245.4 817.0L1245.9 815.3L1246.4 813.9L1246.9 812.8L1247.4 812.1L1247.9 811.8L1248.4 812.0L1248.9 812.6L1249.4 813.6L1249.9 814.9L1250.4 816.6L1250.9 818.5L1251.9 822.7L1253.9 831.3L1254.9 835.3L1255.9 838.8L1256.9 841.8L1257.9 844.5L1258.9 846.7L1260.4 849.5L1261.9 851.7L1263.4 853.4L1265.4 855.2L1267.9 856.9L1271.4 858.6L1275.9 860.1L1280.9 861.2L1286.9 861.9L1299.4 862.7L1306.9 863.2L1314.9 862.9L1321.4 862.8L1327.9 863.3L1332.9 863.8L1332.9 863.8ZM1343.4 863.8L1343.4 863.8L1353.4 863.2L1373.9 863.3L1380.9 863.8L1380.9 863.8ZM1398.4 863.8L1398.4 863.8L1405.9 863.5L1417.9 863.6L1428.9 863.3L1436.9 863.8L1436.9 863.8ZM1448.9 863.8L1448.9 863.8L1449.9 863.7L1449.9 863.8Z" fill="#bfbfbf"/>
<path d="M852.9 851.8L852.9 851.8L856.9 851.0L861.9 850.9L867.9 851.5L869.9 851.8L869.9 851.8ZM891.9 851.8L891.9 851.8L908.9 851.3L916.4 851.2L924.4 851.8L924.4 851.8ZM943.9 851.8L943.9 851.8L948.9 851.8L948.9 851.8ZM961.9 851.8L961.9 851.8L971.4 851.6L975.9 851.8L975.9 851.8ZM987.4 851.8L987.4 851.8L996.9 851.2L1002.9 851.5L1006.4 851.8L1006.4 851.8ZM1024.4 851.8L1024.4 851.8L1050.9 851.4L1056.9 851.8L1056.9 851.8ZM1074.4 851.8L1074.4 851.8L1082.4 851.5L1095.4 851.5L1104.9 851.4L1111.9 851.8L1111.9 851.8ZM1125.9 851.8L1125.9 851.8L1133.9 851.3L1141.4 851.6L1145.4 851.8L1145.4 851.8ZM1153.4 851.8L1153.4 851.8L1165.9 851.4L1175.9 851.2L1184.9 850.8L1192.4 851.2L1199.9 851.7L1205.9 851.4L1216.9 850.5L1226.4 849.9L1232.4 849.0L1239.4 847.2L1243.9 845.7L1246.9 844.1L1248.9 842.7L1250.9 840.7L1252.4 838.7L1253.9 836.2L1254.9 834.2L1255.9 831.8L1256.9 829.0L1257.9 825.7L1258.9 822.1L1259.9 818.0L1262.4 806.9L1262.9 804.9L1263.4 803.1L1263.9 801.5L1264.4 800.3L1264.9 799.4L1265.4 799.0L1265.9 799.0L1266.4 799.5L1266.9 800.4L1267.4 801.6L1267.9 803.2L1268.4 805.0L1269.4 809.2L1271.4 817.9L1272.4 821.9L1273.4 825.6L1274.4 828.8L1275.4 831.6L1276.4 834.0L1277.9 837.0L1279.4 839.4L1280.9 841.3L1282.9 843.3L1285.4 845.1L1288.4 846.6L1292.4 848.0L1298.9 849.3L1305.4 850.1L1311.9 850.2L1320.4 850.2L1326.9 850.7L1334.9 851.6L1340.9 851.7L1351.9 851.3L1364.9 851.4L1374.9 851.2L1382.9 851.7L1384.4 851.8L1384.4 851.8ZM1398.4 851.8L1398.4 851.8L1406.9 851.5L1419.9 851.6L1429.9 851.5L1437.9 851.8L1437.9 851.8ZM1445.4 851.8L1445.4 851.8L1449.9 851.5L1449.9 851.8Z" fill="#bfbfbf"/>
<path d="M852.4 828.8L852.4 828.8L856.9 828.0L862.4 828.0L869.4 828.6L870.9 828.8L870.9 828.8ZM901.4 828.8L901.4 828.8L914.4 828.1L920.4 828.4L924.4 828.8L924.4 828.8ZM941.4 828.8L941.4 828.8L948.4 828.6L954.4 828.8L954.4 828.8ZM964.9 828.8L964.9 828.8L974.9 828.8L975.4 828.8L975.4 828.8ZM986.9 828.8L986.9 828.8L996.4 828.4L1003.4 828.7L1004.4 828.8L1004.4 828.8ZM1021.9 828.8L1021.9 828.8L1030.4 828.6L1040.4 828.6L1050.4 828.3L1056.9 828.7L1057.9 828.8L1057.9 828.8ZM1077.4 828.8L1077.4 828.8L1085.4 828.5L1105.4 828.5L1111.4 828.8L1111.4 828.8ZM1124.4 828.8L1124.4 828.8L1132.4 828.4L1139.4 828.7L1141.4 828.8L1141.4 828.8ZM1154.9 828.8L1154.9 828.8L1163.9 828.5L1174.4 828.6L1185.9 828.1L1192.9 828.4L1197.4 828.8L1197.4 828.8ZM1207.4 828.8L1207.4 828.8L1218.4 828.3L1230.4 828.0L1239.9 827.7L1251.9 827.9L1257.4 827.5L1274.4 824.2L1277.9 823.2L1280.4 822.0L1282.9 820.4L1284.9 818.5L1286.4 816.6L1287.9 814.3L1289.4 811.4L1290.4 809.0L1291.4 806.3L1292.4 803.2L1293.4 799.6L1294.4 795.6L1296.9 784.6L1297.4 782.5L1297.9 780.5L1298.4 778.8L1298.9 777.4L1299.4 776.3L1299.9 775.7L1300.4 775.5L1300.9 775.7L1301.4 776.4L1301.9 777.5L1302.4 778.9L1302.9 780.6L1303.9 784.7L1305.9 793.6L1306.9 797.8L1307.9 801.5L1308.9 804.8L1309.9 807.7L1310.9 810.2L1311.9 812.3L1313.4 814.8L1314.9 816.9L1316.9 818.9L1319.4 820.9L1322.9 822.8L1327.4 824.6L1332.4 826.1L1337.4 827.0L1343.9 827.4L1362.4 827.9L1373.9 827.7L1380.9 828.3L1385.9 828.8L1385.9 828.8ZM1395.9 828.8L1395.9 828.8L1404.9 828.3L1419.9 828.7L1432.4 828.5L1443.9 828.6L1449.9 828.4L1449.9 828.8Z" fill="#bfbfbf"/>
<path d="M853.4 805.4L853.4 805.4L857.9 804.7L863.4 804.6L870.4 805.3L871.4 805.4L871.4 805.4ZM895.4 805.4L895.4 805.4L907.9 805.1L915.9 804.9L923.4 805.4L923.4 805.4ZM937.9 805.4L937.9 805.4L945.4 805.1L951.9 805.4L951.9 805.4ZM986.9 805.4L986.9 805.4L996.9 804.8L1002.9 804.9L1008.4 805.4L1008.4 805.4ZM1037.9 805.4L1037.9 805.4L1049.4 804.8L1055.9 805.2L1058.4 805.4L1058.4 805.4ZM1075.4 805.4L1075.4 805.4L1082.4 805.1L1094.9 805.3L1106.4 805.1L1113.9 805.4L1113.9 805.4ZM1124.9 805.4L1124.9 805.4L1133.4 805.1L1140.4 805.4L1140.4 805.4ZM1157.4 805.4L1157.4 805.4L1174.4 805.0L1183.9 804.5L1189.4 804.8L1194.9 805.4L1194.9 805.4ZM1212.4 805.4L1212.4 805.4L1221.4 805.1L1232.9 804.7L1240.9 804.5L1254.4 805.1L1262.9 804.7L1270.9 804.3L1281.4 804.3L1289.4 803.6L1302.4 802.0L1306.4 801.1L1309.9 799.8L1312.9 798.1L1315.4 796.2L1317.4 794.2L1319.4 791.7L1320.9 789.4L1322.4 786.5L1323.4 784.2L1324.4 781.5L1325.4 778.4L1326.4 774.8L1327.4 770.7L1328.4 766.1L1329.9 758.4L1330.9 753.1L1331.4 750.6L1331.9 748.3L1332.4 746.2L1332.9 744.5L1333.4 743.1L1333.9 742.3L1334.4 741.9L1334.9 742.1L1335.4 742.8L1335.9 744.0L1336.4 745.6L1336.9 747.6L1337.4 749.9L1338.4 755.0L1339.9 763.0L1340.9 768.0L1341.9 772.5L1342.9 776.5L1343.9 780.0L1344.9 782.9L1345.9 785.5L1346.9 787.6L1348.4 790.3L1349.9 792.5L1351.9 794.7L1354.4 796.8L1357.4 798.6L1360.9 800.1L1365.4 801.3L1385.9 804.6L1391.4 804.9L1405.4 804.4L1418.9 804.7L1429.4 804.6L1442.9 805.4L1442.9 805.4ZM1444.9 805.4L1444.9 805.4L1449.9 805.2L1449.9 805.4Z" fill="#bfbfbf"/>
<path d="M853.4 781.8L853.4 781.8L857.4 781.1L862.9 781.0L870.4 781.7L871.4 781.8L871.4 781.8ZM891.4 781.8L891.4 781.8L897.9 781.8L897.9 781.8ZM899.9 781.8L899.9 781.8L909.9 781.4L916.4 781.2L924.4 781.8L924.4 781.8ZM945.4 781.8L945.4 781.8L948.9 781.8L948.9 781.8ZM964.4 781.8L964.4 781.8L973.9 781.6L984.4 781.7L995.4 781.2L1001.4 781.5L1004.4 781.8L1004.4 781.8ZM1033.9 781.8L1033.9 781.8L1044.4 781.3L1051.4 781.1L1058.4 781.6L1060.4 781.8L1060.4 781.8ZM1079.9 781.8L1079.9 781.8L1096.9 781.6L1105.4 781.5L1110.4 781.8L1110.4 781.8ZM1125.4 781.8L1125.4 781.8L1132.9 781.4L1139.9 781.7L1141.4 781.8L1141.4 781.8ZM1154.9 781.8L1154.9 781.8L1163.4 781.5L1176.4 781.6L1185.9 781.4L1191.9 781.8L1191.9 781.8ZM1211.9 781.8L1211.9 781.8L1220.9 781.4L1238.4 781.1L1245.4 781.6L1247.9 781.8L1247.9 781.8ZM1261.9 781.8L1261.9 781.8L1269.4 781.3L1284.4 781.6L1298.9 781.2L1308.9 781.0L1321.9 780.1L1332.9 779.9L1337.4 779.4L1341.4 778.4L1345.4 776.8L1348.4 775.1L1350.9 773.2L1352.9 771.1L1354.4 769.0L1355.4 767.3L1356.4 765.2L1357.4 762.7L1358.4 759.7L1358.9 757.9L1359.4 756.0L1359.9 753.8L1360.4 751.5L1360.9 748.9L1361.4 746.0L1361.9 742.8L1362.4 739.4L1362.9 735.8L1363.4 731.9L1364.9 719.4L1365.4 715.4L1365.9 711.8L1366.4 708.7L1366.9 706.4L1367.4 705.0L1367.9 704.7L1368.4 705.4L1368.9 707.1L1369.4 709.7L1369.9 713.0L1370.4 716.8L1371.9 729.1L1372.4 733.1L1372.9 736.9L1373.4 740.4L1373.9 743.7L1374.4 746.7L1374.9 749.5L1375.4 752.0L1375.9 754.3L1376.4 756.4L1376.9 758.3L1377.9 761.6L1378.9 764.3L1379.9 766.6L1381.4 769.3L1382.9 771.5L1384.4 773.2L1386.4 775.0L1388.9 776.6L1391.9 777.8L1395.4 778.6L1402.9 779.3L1418.9 780.7L1441.4 781.7L1449.4 781.3L1449.9 781.3L1449.9 781.8Z" fill="#bfbfbf"/>
<path d="M852.9 758.5L852.9 758.5L856.9 757.8L862.9 757.8L870.9 758.5L870.9 758.5ZM902.9 758.5L902.9 758.5L914.4 757.9L920.4 758.3L922.9 758.5L922.9 758.5ZM940.4 758.5L940.4 758.5L946.9 758.1L959.4 758.5L959.4 758.5ZM966.4 758.5L966.4 758.5L970.9 758.5L970.9 758.5ZM987.9 758.5L987.9 758.5L996.9 758.2L1003.9 758.5L1003.9 758.5ZM1021.4 758.5L1021.4 758.5L1029.4 758.4L1033.4 758.5L1033.4 758.5ZM1038.4 758.5L1038.4 758.5L1050.4 757.9L1056.4 758.2L1058.9 758.5L1058.9 758.5ZM1078.9 758.5L1078.9 758.5L1087.4 758.3L1106.4 758.4L1108.9 758.5L1108.9 758.5ZM1122.4 758.5L1122.4 758.5L1131.4 758.0L1137.4 758.2L1140.4 758.5L1140.4 758.5ZM1159.9 758.5L1159.9 758.5L1165.4 758.5L1165.4 758.5ZM1174.9 758.5L1174.9 758.5L1185.9 757.9L1192.4 758.2L1196.4 758.5L1196.4 758.5ZM1215.9 758.5L1215.9 758.5L1231.9 758.1L1239.9 758.1L1245.9 758.5L1245.9 758.5ZM1259.9 758.5L1259.9 758.5L1267.4 758.0L1273.4 758.1L1278.9 758.5L1278.9 758.5ZM1288.4 758.5L1288.4 758.5L1298.4 758.1L1310.4 758.1L1321.4 757.7L1331.4 758.2L1337.9 758.4L1350.9 757.5L1360.4 756.6L1366.9 755.5L1374.4 753.6L1378.4 752.1L1380.9 750.7L1382.9 749.0L1384.4 747.3L1385.4 745.8L1386.4 743.9L1387.4 741.7L1387.9 740.3L1388.4 738.8L1388.9 737.1L1389.4 735.2L1389.9 733.1L1390.4 730.7L1390.9 728.0L1391.4 725.0L1391.9 721.5L1392.4 717.7L1392.9 713.4L1393.4 708.7L1393.9 703.4L1394.4 697.7L1394.9 691.6L1395.9 678.8L1396.4 672.7L1396.9 667.2L1397.4 662.9L1397.9 660.0L1398.4 659.0L1398.9 659.9L1399.4 662.7L1399.9 666.9L1400.4 672.3L1400.9 678.4L1401.9 691.0L1402.4 697.1L1402.9 702.7L1403.4 707.9L1403.9 712.6L1404.4 716.9L1404.9 720.7L1405.4 724.1L1405.9 727.1L1406.4 729.8L1406.9 732.2L1407.4 734.4L1407.9 736.3L1408.4 738.0L1409.4 741.0L1410.4 743.4L1411.4 745.3L1412.9 747.7L1414.4 749.5L1416.4 751.3L1418.9 752.9L1421.9 754.2L1425.9 755.2L1435.4 756.6L1443.4 757.2L1449.9 757.3L1449.9 758.5Z" fill="#bfbfbf"/>
<path d="M853.4 734.8L853.4 734.8L857.4 734.1L863.4 734.0L871.4 734.8L871.4 734.8ZM895.9 734.8L895.9 734.8L913.4 734.3L919.9 734.6L921.9 734.8L921.9 734.8ZM939.4 734.8L939.4 734.8L945.9 734.5L954.9 734.8L954.9 734.8ZM964.4 734.8L964.4 734.8L973.4 734.7L975.9 734.8L975.9 734.8ZM990.9 734.8L990.9 734.8L998.9 734.5L1005.9 734.8L1005.9 734.8ZM1023.9 734.8L1023.9 734.8L1030.4 734.8L1030.4 734.8ZM1035.9 734.8L1035.9 734.8L1049.4 734.3L1055.4 734.6L1056.9 734.8L1056.9 734.8ZM1075.9 734.8L1075.9 734.8L1082.9 734.5L1096.9 734.7L1107.9 734.7L1110.9 734.8L1110.9 734.8ZM1123.9 734.8L1123.9 734.8L1132.9 734.4L1140.9 734.8L1140.9 734.8ZM1174.9 734.8L1174.9 734.8L1184.9 734.1L1190.4 734.3L1195.4 734.8L1195.4 734.8ZM1213.9 734.8L1213.9 734.8L1223.4 734.7L1241.9 734.6L1245.9 734.8L1245.9 734.8ZM1258.9 734.8L1258.9 734.8L1267.4 734.4L1275.4 734.7L1276.9 734.8L1276.9 734.8ZM1288.9 734.8L1288.9 734.8L1297.4 734.6L1303.9 734.8L1303.9 734.8ZM1307.9 734.8L1307.9 734.8L1320.9 734.1L1326.9 734.3L1331.4 734.8L1331.4 734.8ZM1346.4 734.8L1346.4 734.8L1372.9 733.4L1381.4 733.7L1387.4 733.9L1392.4 733.4L1397.9 732.2L1402.9 730.6L1405.9 729.2L1408.4 727.6L1409.9 726.2L1411.4 724.4L1412.4 722.8L1413.4 720.9L1414.4 718.5L1414.9 717.1L1415.4 715.5L1415.9 713.7L1416.4 711.6L1416.9 709.3L1417.4 706.6L1417.9 703.6L1418.4 700.2L1418.9 696.3L1419.4 691.9L1419.9 686.9L1420.4 681.4L1420.9 675.3L1421.4 668.8L1421.9 662.1L1421.9 734.8Z" fill="#bfbfbf"/>
<path d="M1426.4 734.8L1426.4 652.6L1426.9 659.1L1427.9 672.4L1428.4 678.6L1428.9 684.3L1429.4 689.5L1429.9 694.1L1430.4 698.2L1430.9 701.7L1431.4 704.9L1431.9 707.7L1432.4 710.2L1432.9 712.3L1433.4 714.3L1433.9 716.0L1434.4 717.5L1435.4 720.1L1436.4 722.1L1437.4 723.8L1438.9 725.8L1440.4 727.4L1442.4 728.9L1444.9 730.2L1447.9 731.2L1449.9 731.6L1449.9 734.8Z" fill="#bfbfbf"/>
<path d="M832.9 1131.6L856.9 1131.5L869.9 1131.6L884.9 1131.7L919.4 1131.5L932.9 1131.7L948.4 1131.5L965.9 1131.7L990.9 1131.5L1003.9 1131.5L1018.9 1131.7L1043.4 1131.5L1054.9 1131.5L1068.9 1131.8L1088.4 1131.6L1127.9 1131.5L1151.4 1131.7L1188.9 1131.4L1204.9 1131.8L1238.9 1131.5L1256.9 1131.7L1272.4 1131.6L1287.4 1131.6L1302.9 1131.6L1327.4 1131.6L1341.4 1131.7L1372.9 1131.4L1390.9 1131.8L1408.4 1131.5L1440.9 1131.6L1449.9 1131.6" fill="none" stroke="#000" stroke-width="2.9" stroke-linejoin="round"/>
<path d="M832.9 1108.6L856.9 1108.5L869.4 1108.6L883.4 1108.7L910.4 1108.5L922.4 1108.5L935.4 1108.7L949.9 1108.6L966.9 1108.7L990.4 1108.5L1004.4 1108.5L1011.4 1108.3L1020.4 1107.5L1024.9 1107.7L1033.9 1108.4L1043.4 1108.5L1055.4 1108.5L1069.4 1108.8L1091.4 1108.6L1110.9 1108.6L1125.9 1108.6L1139.4 1108.7L1151.9 1108.7L1170.4 1108.5L1188.9 1108.5L1204.4 1108.8L1240.4 1108.5L1256.9 1108.7L1272.9 1108.5L1289.4 1108.6L1317.4 1108.5L1341.4 1108.7L1372.9 1108.5L1391.4 1108.8L1408.9 1108.5L1448.4 1108.6L1449.9 1108.6" fill="none" stroke="#000" stroke-width="2.9" stroke-linejoin="round"/>
<path d="M832.9 1085.6L848.9 1085.3L859.9 1084.7L865.9 1085.0L875.9 1085.9L882.4 1085.8L891.9 1085.5L903.9 1085.6L916.4 1084.9L923.4 1085.2L931.4 1085.7L939.4 1085.4L947.4 1085.1L963.4 1085.4L975.4 1085.7L982.9 1085.7L995.9 1084.8L1001.4 1085.0L1010.9 1085.7L1015.4 1085.6L1019.4 1084.9L1025.4 1083.1L1028.9 1082.2L1031.4 1082.0L1034.4 1082.5L1040.9 1084.2L1045.4 1084.6L1055.4 1085.1L1065.9 1085.9L1072.9 1085.8L1084.4 1085.4L1095.9 1085.1L1104.4 1084.9L1117.9 1085.6L1124.9 1085.4L1132.4 1085.0L1138.4 1085.3L1146.9 1086.0L1152.9 1085.9L1173.9 1084.6L1180.9 1084.1L1186.4 1084.3L1198.4 1085.7L1204.9 1085.8L1217.4 1085.4L1227.9 1085.4L1238.4 1084.9L1244.9 1085.3L1252.9 1085.9L1258.4 1085.8L1268.9 1085.0L1275.9 1085.1L1285.4 1085.5L1300.4 1085.4L1310.9 1085.4L1320.4 1085.2L1334.4 1086.0L1340.9 1085.8L1350.4 1085.2L1364.4 1085.1L1373.9 1084.8L1379.9 1085.2L1388.9 1086.1L1394.4 1086.1L1405.9 1085.3L1431.9 1085.3L1441.9 1085.5L1449.9 1085.1" fill="none" stroke="#000" stroke-width="2.9" stroke-linejoin="round"/>
<path d="M832.9 1061.8L841.4 1061.6L850.9 1061.5L861.9 1060.9L868.4 1061.2L878.4 1062.0L888.4 1061.9L902.9 1061.7L913.9 1061.1L919.9 1061.3L928.9 1062.0L934.9 1061.9L944.4 1061.2L951.4 1061.4L959.9 1061.8L974.4 1061.5L985.9 1061.6L997.9 1061.3L1011.9 1061.9L1019.9 1061.5L1027.4 1060.8L1030.9 1060.0L1033.9 1058.8L1039.4 1055.4L1040.9 1054.8L1042.4 1054.6L1043.9 1054.8L1045.9 1055.7L1051.4 1058.8L1054.9 1060.2L1059.4 1061.4L1064.4 1062.1L1069.4 1062.3L1082.9 1061.4L1098.9 1061.3L1108.4 1061.3L1119.4 1061.6L1132.4 1061.3L1146.4 1062.0L1155.9 1061.7L1163.9 1061.6L1172.4 1061.6L1178.4 1061.1L1186.9 1059.9L1190.9 1059.8L1195.4 1060.4L1201.9 1061.6L1206.9 1061.8L1220.9 1061.3L1238.9 1061.4L1251.9 1062.1L1258.4 1061.9L1267.4 1061.2L1274.4 1061.4L1282.9 1061.7L1295.9 1061.3L1308.9 1061.8L1322.4 1061.3L1330.9 1061.8L1337.9 1062.1L1358.4 1061.4L1372.4 1061.0L1378.9 1061.4L1387.4 1062.2L1392.9 1062.1L1403.4 1061.4L1410.9 1061.6L1418.9 1061.9L1432.4 1061.5L1444.4 1061.6L1449.9 1061.4" fill="none" stroke="#000" stroke-width="2.9" stroke-linejoin="round"/>
<path d="M832.9 1038.2L840.9 1038.2L850.4 1038.3L863.4 1037.8L872.9 1038.3L880.4 1038.5L895.4 1038.1L906.9 1037.9L914.4 1037.8L921.4 1038.3L928.4 1038.9L933.9 1038.7L944.4 1037.8L950.9 1037.9L960.4 1038.3L974.4 1038.1L984.9 1038.3L997.9 1037.8L1013.4 1038.5L1030.9 1038.1L1037.4 1037.8L1041.9 1037.2L1045.4 1036.2L1047.9 1035.0L1050.4 1033.2L1055.4 1028.9L1056.9 1028.0L1058.4 1027.7L1059.4 1027.9L1060.9 1028.8L1062.9 1030.6L1065.9 1033.6L1067.9 1035.3L1069.9 1036.4L1072.4 1037.2L1075.9 1037.5L1087.4 1037.9L1096.9 1038.2L1110.4 1038.2L1119.4 1038.2L1131.4 1037.7L1138.4 1038.0L1146.9 1038.5L1162.9 1038.2L1172.4 1038.3L1186.9 1037.3L1198.4 1037.1L1204.9 1036.9L1219.4 1037.8L1229.9 1037.8L1239.9 1037.8L1252.9 1038.5L1260.4 1038.3L1267.9 1038.0L1281.4 1038.6L1289.4 1038.2L1296.9 1037.9L1309.9 1038.1L1321.4 1037.7L1328.4 1038.2L1336.4 1038.9L1342.9 1038.8L1370.4 1037.5L1376.4 1037.7L1387.4 1038.8L1392.9 1038.7L1403.4 1038.0L1410.9 1038.1L1418.9 1038.3L1431.4 1038.0L1444.4 1038.4L1449.9 1038.3" fill="none" stroke="#000" stroke-width="2.9" stroke-linejoin="round"/>
<path d="M832.9 1017.4L838.9 1016.9L844.4 1016.4L848.4 1016.3L853.4 1015.3L857.4 1014.6L863.4 1014.6L877.4 1015.7L884.9 1015.6L906.9 1014.7L913.9 1014.5L919.9 1014.9L928.4 1015.8L933.9 1015.8L944.9 1015.0L952.4 1015.1L960.9 1015.3L973.9 1015.0L985.9 1015.1L997.9 1014.8L1012.9 1015.5L1028.9 1015.1L1037.9 1015.0L1050.4 1014.0L1059.4 1013.9L1061.9 1013.4L1063.9 1012.6L1065.4 1011.6L1066.9 1010.2L1068.4 1008.4L1070.4 1005.3L1073.4 1000.3L1074.4 998.9L1075.4 997.9L1076.4 997.4L1077.4 997.5L1078.4 998.1L1079.4 999.2L1080.9 1001.4L1083.9 1006.2L1085.9 1008.8L1087.4 1010.4L1089.4 1011.9L1091.4 1012.9L1094.4 1013.8L1099.4 1014.3L1117.4 1015.3L1125.9 1015.0L1133.4 1014.7L1146.9 1015.4L1161.4 1015.0L1172.9 1015.2L1185.9 1014.6L1191.9 1014.8L1199.4 1015.4L1203.4 1015.2L1207.9 1014.3L1213.4 1013.1L1216.4 1012.8L1220.4 1013.2L1227.9 1014.3L1234.9 1014.6L1244.4 1015.0L1252.9 1015.5L1260.9 1015.1L1267.9 1014.8L1276.4 1015.3L1283.4 1015.6L1296.9 1015.1L1308.9 1015.2L1321.4 1014.6L1327.9 1014.9L1336.9 1015.6L1344.4 1015.6L1366.9 1014.8L1373.9 1014.7L1381.9 1015.3L1388.4 1015.8L1394.4 1015.6L1403.4 1014.9L1410.9 1015.1L1418.9 1015.3L1431.4 1014.9L1444.9 1015.3L1449.9 1015.2" fill="none" stroke="#000" stroke-width="2.9" stroke-linejoin="round"/>
<path d="M832.9 994.2L837.9 993.9L845.4 993.2L848.4 992.9L856.4 990.9L860.4 990.6L865.4 990.9L875.9 992.3L880.9 992.5L894.4 991.9L906.4 991.7L916.4 991.3L925.9 991.8L933.4 992.0L945.9 991.7L958.4 991.9L970.4 991.6L982.9 992.0L990.4 991.6L997.4 991.2L1003.4 991.5L1011.9 992.3L1017.9 992.2L1030.4 991.5L1049.4 991.0L1058.4 991.5L1064.9 991.8L1070.4 991.4L1077.4 990.3L1081.4 989.3L1083.9 988.1L1085.9 986.5L1087.4 984.9L1088.9 982.8L1090.4 980.2L1092.4 976.1L1094.4 971.8L1095.4 970.0L1096.4 968.7L1096.9 968.3L1097.4 968.1L1097.9 968.1L1098.4 968.3L1098.9 968.7L1099.9 969.9L1100.9 971.7L1104.4 978.9L1105.9 981.6L1107.4 983.9L1108.9 985.7L1110.4 987.2L1112.4 988.6L1114.9 989.7L1118.4 990.6L1122.9 991.1L1135.4 991.1L1148.4 991.9L1157.9 991.7L1176.9 991.3L1184.9 991.1L1192.9 991.8L1199.4 992.2L1204.9 992.1L1215.9 990.7L1227.9 988.7L1231.4 988.5L1235.4 989.0L1248.4 991.6L1253.9 992.1L1259.4 992.1L1269.9 991.4L1280.4 991.6L1298.4 991.9L1306.9 992.0L1319.9 991.4L1325.9 991.6L1334.4 992.3L1340.4 992.2L1350.4 991.5L1366.4 991.6L1375.9 991.5L1389.9 992.3L1397.9 992.0L1406.4 991.7L1420.4 991.7L1429.9 991.7L1440.9 992.1L1447.9 991.7L1449.9 991.5" fill="none" stroke="#000" stroke-width="2.9" stroke-linejoin="round"/>
<path d="M832.9 970.7L837.9 970.4L844.9 969.8L848.4 969.5L856.4 967.8L860.9 967.6L866.4 967.9L875.4 969.0L880.9 969.0L892.9 968.2L906.9 968.0L915.4 967.8L922.4 968.2L930.4 968.9L936.9 968.8L947.4 968.4L960.4 968.4L970.9 968.1L983.4 968.4L996.4 967.7L1002.4 968.0L1011.4 968.9L1017.4 968.8L1028.9 968.2L1041.9 967.9L1050.9 967.6L1060.4 968.1L1066.9 968.3L1075.9 967.7L1091.4 966.6L1096.4 965.8L1100.4 964.6L1103.4 963.3L1105.4 962.0L1107.4 960.2L1108.9 958.4L1110.4 956.1L1111.9 953.3L1113.4 949.9L1116.4 942.2L1117.4 940.0L1117.9 939.1L1118.4 938.3L1118.9 937.7L1119.4 937.4L1119.9 937.3L1120.4 937.5L1120.9 937.9L1121.4 938.5L1121.9 939.3L1122.9 941.4L1126.4 950.1L1127.9 953.4L1129.4 956.1L1130.9 958.4L1132.4 960.1L1134.4 961.9L1136.9 963.5L1140.4 965.1L1144.9 966.3L1149.9 967.1L1157.9 967.4L1174.9 967.8L1185.4 967.7L1195.4 968.5L1201.9 968.8L1217.4 968.0L1225.9 967.8L1230.9 967.1L1239.9 965.2L1243.4 965.1L1246.9 965.5L1254.9 967.5L1259.4 968.0L1272.4 968.0L1284.4 968.6L1308.4 968.3L1319.4 967.7L1325.4 968.0L1334.9 968.8L1341.4 968.8L1351.4 968.4L1363.4 968.4L1374.9 968.0L1382.4 968.4L1389.9 968.8L1396.9 968.5L1405.4 968.1L1421.9 968.3L1431.9 968.4L1441.9 968.7L1449.9 968.3" fill="none" stroke="#000" stroke-width="2.9" stroke-linejoin="round"/>
<path d="M832.9 947.6L838.4 947.2L844.9 946.5L848.4 946.3L853.4 945.1L856.9 944.4L862.4 944.2L868.4 944.6L876.9 945.5L883.4 945.6L905.9 945.0L914.4 944.7L921.4 945.0L929.4 945.6L935.9 945.4L944.9 944.9L959.9 945.2L972.4 944.9L985.4 945.2L997.4 944.8L1005.9 945.3L1012.9 945.6L1022.4 945.2L1040.9 944.5L1048.9 944.1L1054.9 944.5L1064.4 945.4L1069.9 945.4L1082.4 944.4L1094.9 944.0L1113.4 942.1L1117.4 941.3L1120.9 940.0L1123.4 938.7L1125.9 936.8L1127.9 934.8L1129.4 933.0L1130.9 930.7L1132.4 927.9L1133.9 924.5L1135.4 920.6L1138.4 911.5L1139.4 908.8L1139.9 907.6L1140.4 906.7L1140.9 906.0L1141.4 905.5L1141.9 905.3L1142.4 905.5L1142.9 905.9L1143.4 906.5L1143.9 907.5L1144.4 908.6L1145.4 911.3L1148.4 920.6L1149.9 924.6L1151.4 928.1L1152.9 930.8L1154.4 933.1L1155.9 934.9L1157.9 936.8L1160.4 938.5L1163.9 940.3L1167.9 941.6L1172.4 942.6L1177.9 943.0L1187.4 943.5L1199.9 944.9L1205.4 945.0L1217.4 944.4L1240.4 944.8L1252.4 945.6L1258.9 945.4L1268.4 944.8L1278.4 945.1L1286.4 945.1L1295.9 944.9L1308.4 945.3L1321.4 944.7L1328.4 945.1L1336.4 945.7L1343.4 945.5L1354.4 945.1L1373.9 944.7L1382.4 945.2L1388.9 945.6L1395.9 945.3L1403.9 944.9L1418.4 945.4L1431.9 945.1L1443.4 945.3L1449.9 945.0" fill="none" stroke="#000" stroke-width="2.9" stroke-linejoin="round"/>
<path d="M832.9 935.9L837.4 935.7L845.4 934.8L848.9 934.4L855.9 932.7L859.4 932.4L864.9 932.6L875.4 933.8L880.9 933.8L891.9 933.3L904.9 933.3L915.9 932.9L922.9 933.3L930.9 933.8L937.9 933.7L947.9 933.3L962.4 933.2L971.9 933.1L982.9 933.4L995.9 932.8L1001.9 933.1L1010.9 934.0L1016.4 933.9L1028.4 933.1L1043.4 932.7L1051.4 932.5L1059.9 933.1L1066.9 933.5L1075.4 933.2L1094.4 932.4L1104.9 931.7L1115.4 931.6L1119.9 931.0L1124.4 929.8L1128.9 928.0L1132.9 925.9L1135.4 924.1L1137.4 922.3L1138.9 920.6L1140.4 918.5L1141.9 915.8L1142.9 913.7L1143.9 911.2L1144.9 908.4L1146.4 903.6L1148.9 894.8L1149.9 891.6L1150.4 890.3L1150.9 889.2L1151.4 888.4L1151.9 887.9L1152.4 887.7L1152.9 887.9L1153.4 888.3L1153.9 889.1L1154.4 890.2L1154.9 891.5L1155.9 894.6L1158.9 905.0L1160.4 909.7L1161.4 912.3L1162.9 915.8L1164.4 918.6L1165.9 920.8L1167.4 922.7L1169.4 924.6L1171.9 926.4L1174.9 927.9L1178.9 929.2L1186.9 930.7L1196.9 932.3L1202.9 932.7L1216.9 932.4L1228.9 932.6L1238.9 932.5L1245.9 933.1L1252.9 933.8L1258.4 933.7L1269.4 932.9L1276.9 933.1L1285.9 933.3L1301.4 933.2L1310.9 933.1L1319.9 932.8L1326.9 933.3L1334.9 933.9L1341.9 933.7L1350.9 933.3L1362.9 933.4L1374.9 932.8L1381.4 933.1L1389.9 933.7L1396.4 933.6L1405.4 933.1L1423.9 933.5L1440.9 933.7L1449.9 933.1" fill="none" stroke="#000" stroke-width="2.9" stroke-linejoin="round"/>
<path d="M832.9 924.2L837.9 923.8L844.4 923.0L848.4 922.7L856.4 921.0L860.9 920.9L866.9 921.2L876.4 922.2L882.9 922.3L895.9 922.0L904.4 921.7L914.4 921.1L920.4 921.3L929.9 922.1L935.9 922.1L945.9 921.5L960.9 921.9L974.9 921.7L984.9 921.7L995.9 921.2L1002.9 921.6L1010.9 922.2L1017.9 922.0L1027.4 921.5L1039.4 921.4L1049.9 921.0L1055.9 921.3L1064.9 922.1L1070.4 922.1L1083.4 921.1L1105.9 920.5L1116.4 920.6L1121.9 920.1L1130.9 918.4L1137.9 916.8L1141.4 915.5L1143.9 914.0L1145.9 912.4L1147.4 910.8L1148.9 908.7L1150.4 906.2L1151.9 903.1L1152.9 900.6L1153.9 897.7L1154.9 894.6L1156.4 889.2L1158.4 881.7L1159.4 878.4L1159.9 876.9L1160.4 875.8L1160.9 874.8L1161.4 874.3L1161.9 874.0L1162.4 874.1L1162.9 874.6L1163.4 875.3L1163.9 876.4L1164.4 877.7L1165.4 880.9L1168.4 892.0L1169.4 895.3L1170.4 898.4L1171.4 901.0L1172.4 903.3L1173.9 906.3L1175.4 908.6L1176.9 910.5L1178.9 912.4L1181.4 914.1L1184.9 915.9L1190.9 918.0L1197.4 919.7L1202.4 920.5L1208.4 920.7L1222.9 920.8L1238.9 920.9L1252.4 922.0L1258.4 921.8L1267.4 921.1L1273.4 921.2L1283.4 921.8L1297.9 921.6L1308.9 921.8L1321.9 921.4L1336.9 922.0L1352.9 921.6L1363.9 921.6L1373.4 921.3L1379.9 921.7L1387.9 922.4L1393.4 922.3L1403.9 921.5L1410.9 921.6L1420.4 921.9L1433.9 921.7L1443.9 921.8L1449.9 921.5" fill="none" stroke="#000" stroke-width="2.9" stroke-linejoin="round"/>
<path d="M832.9 912.5L837.9 912.1L844.4 911.3L848.4 911.1L856.4 909.5L861.4 909.4L868.4 909.9L876.4 910.7L883.4 910.6L894.4 910.3L903.4 910.1L913.9 909.4L919.4 909.6L929.9 910.7L935.4 910.6L945.9 910.0L962.4 910.3L975.9 910.2L985.4 910.1L995.9 909.7L1002.9 910.0L1010.9 910.6L1017.9 910.4L1026.9 910.0L1038.9 910.0L1050.4 909.5L1056.4 909.8L1065.4 910.6L1071.4 910.5L1083.4 909.7L1104.9 909.4L1116.4 909.8L1122.9 909.4L1132.9 908.4L1143.4 907.9L1147.4 907.3L1150.9 906.3L1154.4 904.8L1157.4 902.9L1159.9 900.8L1161.9 898.7L1163.4 896.6L1164.9 894.0L1165.9 891.9L1166.9 889.5L1167.9 886.6L1168.9 883.4L1169.9 879.8L1171.4 873.8L1172.9 867.7L1173.4 865.8L1173.9 864.2L1174.4 862.8L1174.9 861.7L1175.4 861.0L1175.9 860.7L1176.4 860.8L1176.9 861.3L1177.4 862.2L1177.9 863.5L1178.4 865.0L1178.9 866.7L1179.9 870.6L1181.9 878.7L1182.9 882.4L1183.9 885.7L1184.9 888.6L1185.9 891.1L1187.4 894.3L1188.9 896.8L1190.4 898.9L1192.4 901.1L1194.9 903.2L1197.9 905.1L1200.9 906.4L1204.9 907.4L1210.4 908.1L1225.9 908.9L1238.9 909.1L1251.9 910.2L1257.4 910.1L1267.4 909.4L1273.4 909.6L1282.9 910.2L1292.4 910.1L1301.9 910.1L1310.9 910.1L1321.9 909.7L1336.9 910.4L1353.4 910.1L1362.9 910.0L1372.9 909.6L1378.9 909.9L1387.9 910.8L1393.4 910.7L1404.4 909.9L1411.9 910.0L1420.9 910.2L1433.9 910.1L1444.9 910.1L1449.9 909.9" fill="none" stroke="#000" stroke-width="2.9" stroke-linejoin="round"/>
<path d="M832.9 900.5L838.9 900.1L844.9 899.7L848.4 899.5L853.4 898.4L856.9 897.7L861.9 897.6L867.9 898.0L875.9 898.9L881.4 899.0L894.4 898.3L909.4 898.0L916.9 898.0L929.4 898.7L936.4 898.5L944.9 898.1L959.9 898.5L971.4 898.3L983.4 898.7L991.4 898.1L998.4 897.8L1004.9 898.1L1013.4 898.7L1023.4 898.4L1040.9 898.1L1049.9 897.8L1057.4 898.3L1064.9 898.7L1071.4 898.5L1080.4 898.0L1094.9 898.1L1105.9 897.7L1118.9 898.1L1126.4 897.7L1134.4 897.2L1147.4 897.4L1153.9 896.9L1162.9 895.5L1167.9 894.2L1171.4 892.9L1173.9 891.4L1176.4 889.5L1178.4 887.5L1179.9 885.5L1181.4 883.2L1182.9 880.2L1183.9 877.9L1184.9 875.2L1185.9 872.1L1186.9 868.6L1187.9 864.7L1190.4 854.4L1190.9 852.5L1191.4 850.8L1191.9 849.4L1192.4 848.2L1192.9 847.5L1193.4 847.2L1193.9 847.3L1194.4 847.8L1194.9 848.7L1195.4 850.0L1195.9 851.6L1196.4 853.5L1197.4 857.6L1199.4 866.3L1200.4 870.2L1201.4 873.8L1202.4 876.8L1203.4 879.5L1204.4 881.8L1205.9 884.5L1207.4 886.7L1208.9 888.4L1210.9 890.2L1213.4 891.8L1216.9 893.4L1221.4 894.8L1226.4 895.8L1232.4 896.3L1242.9 896.9L1253.9 897.8L1261.4 897.8L1269.9 897.7L1283.4 898.2L1297.4 898.1L1307.4 898.3L1319.9 897.7L1325.9 898.0L1334.9 898.9L1340.4 898.8L1352.9 898.1L1374.4 897.9L1383.4 898.6L1389.9 898.9L1397.4 898.7L1405.9 898.3L1418.9 898.3L1429.4 898.0L1442.9 898.6L1449.9 898.3" fill="none" stroke="#000" stroke-width="2.9" stroke-linejoin="round"/>
<path d="M832.9 889.2L837.9 888.8L844.4 888.0L848.4 887.8L856.4 886.1L861.4 886.0L868.4 886.5L876.4 887.2L883.9 887.1L893.9 886.8L903.4 886.7L914.4 886.2L920.4 886.5L929.4 887.4L934.9 887.3L945.9 886.5L954.4 886.6L964.4 886.7L976.4 886.8L985.4 886.7L995.9 886.4L1003.4 886.8L1010.9 887.3L1017.9 887.0L1026.9 886.6L1038.9 886.6L1050.4 886.1L1056.4 886.4L1065.4 887.2L1071.4 887.2L1083.4 886.5L1105.4 886.4L1116.9 886.8L1123.9 886.4L1131.9 885.8L1138.4 886.0L1146.4 886.5L1152.9 886.2L1163.4 885.4L1172.4 885.0L1177.9 884.2L1184.4 882.6L1189.4 880.9L1192.4 879.4L1194.9 877.7L1196.9 875.8L1198.4 873.9L1199.9 871.5L1200.9 869.5L1201.9 867.1L1202.9 864.4L1203.9 861.2L1204.9 857.6L1205.9 853.6L1208.4 842.8L1208.9 840.8L1209.4 839.0L1209.9 837.4L1210.4 836.2L1210.9 835.4L1211.4 835.0L1211.9 835.0L1212.4 835.5L1212.9 836.3L1213.4 837.6L1213.9 839.1L1214.4 840.9L1215.4 845.0L1217.4 853.6L1218.4 857.5L1219.4 861.0L1220.4 864.2L1221.4 866.8L1222.4 869.2L1223.9 872.0L1225.4 874.3L1226.9 876.1L1228.9 878.0L1231.4 879.6L1234.9 881.3L1240.9 883.2L1248.4 885.0L1253.4 885.7L1258.9 885.8L1267.9 885.5L1274.4 885.8L1282.9 886.5L1291.4 886.4L1300.4 886.3L1310.9 886.4L1321.4 886.2L1330.9 886.8L1337.9 887.1L1355.4 886.8L1364.4 886.5L1372.9 886.0L1378.9 886.3L1387.9 887.2L1393.4 887.2L1404.4 886.4L1411.9 886.6L1420.9 886.9L1434.9 886.7L1444.9 886.7L1449.9 886.5" fill="none" stroke="#000" stroke-width="2.9" stroke-linejoin="round"/>
<path d="M832.9 877.3L838.9 877.0L845.4 876.6L848.4 876.5L852.9 875.5L856.9 874.6L862.4 874.3L867.9 874.7L876.9 875.7L882.9 875.7L895.4 875.2L910.9 874.8L918.4 874.9L929.4 875.5L936.9 875.2L944.4 874.9L958.9 875.5L972.4 875.1L983.9 875.4L997.4 874.5L1003.4 874.7L1013.4 875.5L1021.9 875.5L1038.9 875.0L1048.9 874.5L1055.4 874.8L1064.4 875.6L1070.4 875.5L1080.4 874.9L1094.4 875.1L1106.4 874.7L1120.4 875.1L1133.9 874.7L1147.9 875.1L1172.4 874.1L1184.4 872.9L1191.4 872.9L1197.4 872.9L1201.4 872.4L1204.9 871.3L1207.9 870.0L1210.9 868.0L1213.4 865.8L1215.4 863.5L1216.9 861.3L1218.4 858.7L1219.4 856.5L1220.4 854.0L1221.4 851.2L1222.4 847.8L1223.4 844.1L1224.4 839.9L1226.9 828.8L1227.4 826.8L1227.9 825.0L1228.4 823.5L1228.9 822.3L1229.4 821.6L1229.9 821.2L1230.4 821.4L1230.9 821.9L1231.4 822.9L1231.9 824.2L1232.4 825.9L1232.9 827.8L1233.9 832.1L1235.9 840.9L1236.9 844.9L1237.9 848.6L1238.9 851.7L1239.9 854.5L1240.9 856.9L1242.4 859.9L1243.9 862.3L1245.4 864.2L1247.4 866.3L1249.9 868.3L1252.9 870.0L1256.4 871.3L1260.9 872.2L1279.9 874.1L1287.9 874.3L1296.9 874.4L1307.4 874.8L1320.9 874.3L1327.4 874.8L1335.4 875.5L1341.4 875.4L1352.9 874.7L1373.9 874.7L1387.9 875.7L1394.4 875.5L1403.9 874.9L1419.4 875.0L1428.9 874.8L1442.9 875.5L1449.9 875.2" fill="none" stroke="#000" stroke-width="2.9" stroke-linejoin="round"/>
<path d="M832.9 865.9L838.9 865.6L845.4 865.2L848.4 865.0L852.9 864.0L856.9 863.1L861.9 862.9L867.4 863.2L876.9 864.3L882.9 864.4L896.4 863.8L915.4 863.4L929.4 864.1L937.4 863.8L944.9 863.5L958.4 864.1L972.4 863.7L983.9 864.0L997.9 863.2L1004.4 863.5L1013.9 864.1L1023.9 864.0L1039.4 863.6L1048.4 863.2L1054.4 863.4L1063.9 864.3L1069.9 864.2L1079.9 863.5L1094.9 863.7L1106.4 863.3L1120.4 863.8L1134.4 863.4L1148.4 863.9L1172.9 863.1L1183.9 862.3L1189.4 862.5L1198.9 863.2L1203.9 863.0L1210.4 862.0L1220.9 859.8L1224.9 858.5L1227.9 857.1L1230.4 855.3L1232.4 853.4L1233.9 851.6L1235.4 849.4L1236.9 846.6L1237.9 844.3L1238.9 841.7L1239.9 838.8L1240.9 835.4L1241.9 831.5L1243.4 825.2L1244.9 818.9L1245.4 817.0L1245.9 815.3L1246.4 813.9L1246.9 812.8L1247.4 812.1L1247.9 811.8L1248.4 812.0L1248.9 812.6L1249.4 813.6L1249.9 814.9L1250.4 816.6L1250.9 818.5L1251.9 822.7L1253.9 831.3L1254.9 835.3L1255.9 838.8L1256.9 841.8L1257.9 844.5L1258.9 846.7L1260.4 849.5L1261.9 851.7L1263.4 853.4L1265.4 855.2L1267.9 856.9L1271.4 858.6L1275.9 860.1L1280.9 861.2L1286.9 861.9L1299.4 862.7L1306.9 863.2L1314.9 862.9L1321.4 862.8L1327.9 863.3L1335.4 864.0L1341.4 863.9L1352.9 863.2L1373.9 863.3L1387.9 864.2L1394.4 864.1L1403.9 863.5L1418.4 863.6L1428.9 863.3L1442.9 864.0L1449.9 863.7" fill="none" stroke="#000" stroke-width="2.9" stroke-linejoin="round"/>
<path d="M832.9 854.0L838.4 853.6L844.9 853.0L848.4 852.8L856.4 851.1L860.9 850.9L866.4 851.3L875.4 852.5L880.4 852.6L893.9 851.7L908.4 851.4L916.4 851.2L926.4 852.0L932.9 852.2L946.9 851.8L959.4 851.9L970.9 851.6L983.4 852.0L996.9 851.2L1002.9 851.5L1011.9 852.2L1018.4 852.1L1029.4 851.7L1043.4 851.5L1051.4 851.4L1064.4 852.3L1070.9 852.1L1080.4 851.5L1095.9 851.5L1104.9 851.4L1118.4 852.2L1124.9 851.9L1133.4 851.3L1140.4 851.5L1148.9 851.9L1166.9 851.4L1176.9 851.1L1184.9 850.8L1192.4 851.2L1199.9 851.7L1205.9 851.4L1216.9 850.5L1226.4 849.9L1232.4 849.0L1239.4 847.2L1243.9 845.7L1246.9 844.1L1248.9 842.7L1250.9 840.7L1252.4 838.7L1253.9 836.2L1254.9 834.2L1255.9 831.8L1256.9 829.0L1257.9 825.7L1258.9 822.1L1259.9 818.0L1262.4 806.9L1262.9 804.9L1263.4 803.1L1263.9 801.5L1264.4 800.3L1264.9 799.4L1265.4 799.0L1265.9 799.0L1266.4 799.5L1266.9 800.4L1267.4 801.6L1267.9 803.2L1268.4 805.0L1269.4 809.2L1271.4 817.9L1272.4 821.9L1273.4 825.6L1274.4 828.8L1275.4 831.6L1276.4 834.0L1277.9 837.0L1279.4 839.4L1280.9 841.3L1282.9 843.3L1285.4 845.1L1288.4 846.6L1292.4 848.0L1298.9 849.3L1305.4 850.1L1311.9 850.2L1320.4 850.2L1326.9 850.7L1334.9 851.6L1340.9 851.7L1351.9 851.3L1364.9 851.4L1374.9 851.2L1382.9 851.7L1390.4 852.1L1398.9 851.8L1406.9 851.5L1419.9 851.6L1429.9 851.5L1442.4 851.9L1449.9 851.5" fill="none" stroke="#000" stroke-width="2.9" stroke-linejoin="round"/>
<path d="M832.9 831.1L838.4 830.6L844.4 829.9L848.4 829.7L856.4 828.0L860.9 827.9L866.9 828.3L875.9 829.3L881.9 829.4L894.9 828.9L904.9 828.6L914.4 828.1L920.4 828.4L929.9 829.2L935.9 829.2L945.9 828.6L961.4 828.9L973.4 828.7L983.9 828.9L996.9 828.4L1004.4 828.8L1011.9 829.2L1019.9 828.9L1028.4 828.6L1039.9 828.6L1049.9 828.3L1056.4 828.7L1064.9 829.4L1070.9 829.3L1082.4 828.5L1104.9 828.4L1117.9 829.1L1125.4 828.7L1132.9 828.4L1140.4 828.7L1147.9 829.1L1162.9 828.5L1174.4 828.6L1185.9 828.1L1192.9 828.4L1200.9 829.0L1207.9 828.8L1218.4 828.3L1230.4 828.0L1239.9 827.7L1251.9 827.9L1257.4 827.5L1274.4 824.2L1277.9 823.2L1280.4 822.0L1282.9 820.4L1284.9 818.5L1286.4 816.6L1287.9 814.3L1289.4 811.4L1290.4 809.0L1291.4 806.3L1292.4 803.2L1293.4 799.6L1294.4 795.6L1296.9 784.6L1297.4 782.5L1297.9 780.5L1298.4 778.8L1298.9 777.4L1299.4 776.3L1299.9 775.7L1300.4 775.5L1300.9 775.7L1301.4 776.4L1301.9 777.5L1302.4 778.9L1302.9 780.6L1303.9 784.7L1305.9 793.6L1306.9 797.8L1307.9 801.5L1308.9 804.8L1309.9 807.7L1310.9 810.2L1311.9 812.3L1313.4 814.8L1314.9 816.9L1316.9 818.9L1319.4 820.9L1322.9 822.8L1327.4 824.6L1332.4 826.1L1337.4 827.0L1343.9 827.4L1362.4 827.9L1373.9 827.7L1380.9 828.3L1388.4 829.0L1394.4 828.9L1404.4 828.3L1419.9 828.7L1432.4 828.5L1443.9 828.6L1449.9 828.4" fill="none" stroke="#000" stroke-width="2.9" stroke-linejoin="round"/>
<path d="M832.9 807.5L838.9 807.1L844.9 806.7L848.4 806.6L852.9 805.6L856.9 804.8L862.4 804.6L868.4 805.0L876.9 805.9L882.9 805.9L895.4 805.4L907.9 805.1L915.9 804.9L929.9 805.7L937.4 805.4L944.9 805.1L959.4 805.7L972.9 805.4L983.9 805.6L997.4 804.7L1003.9 805.0L1013.4 805.7L1023.9 805.6L1038.9 805.3L1049.4 804.8L1055.9 805.2L1064.4 805.9L1070.4 805.8L1080.4 805.2L1095.4 805.3L1106.4 805.1L1119.9 805.5L1133.4 805.1L1147.9 805.7L1165.4 805.2L1174.9 805.0L1183.9 804.5L1189.4 804.8L1199.9 805.9L1205.4 805.9L1217.9 805.1L1231.9 804.8L1240.4 804.5L1254.4 805.1L1262.9 804.7L1270.9 804.3L1281.4 804.3L1289.4 803.6L1302.4 802.0L1306.4 801.1L1309.9 799.8L1312.9 798.1L1315.4 796.2L1317.4 794.2L1319.4 791.7L1320.9 789.4L1322.4 786.5L1323.4 784.2L1324.4 781.5L1325.4 778.4L1326.4 774.8L1327.4 770.7L1328.4 766.1L1329.9 758.4L1330.9 753.1L1331.4 750.6L1331.9 748.3L1332.4 746.2L1332.9 744.5L1333.4 743.1L1333.9 742.3L1334.4 741.9L1334.9 742.1L1335.4 742.8L1335.9 744.0L1336.4 745.6L1336.9 747.6L1337.4 749.9L1338.4 755.0L1339.9 763.0L1340.9 768.0L1341.9 772.5L1342.9 776.5L1343.9 780.0L1344.9 782.9L1345.9 785.5L1346.9 787.6L1348.4 790.3L1349.9 792.5L1351.9 794.7L1354.4 796.8L1357.4 798.6L1360.9 800.1L1365.4 801.3L1385.9 804.6L1391.4 804.9L1405.4 804.4L1418.9 804.7L1429.4 804.6L1442.9 805.4L1449.9 805.2" fill="none" stroke="#000" stroke-width="2.9" stroke-linejoin="round"/>
<path d="M832.9 784.2L837.9 784.0L844.9 783.3L848.4 783.0L856.4 781.2L860.9 781.0L866.9 781.3L875.9 782.2L881.9 782.2L892.9 781.8L904.4 781.7L914.9 781.2L921.4 781.5L930.4 782.3L936.9 782.2L946.4 781.8L960.4 781.9L972.9 781.6L984.4 781.7L995.4 781.2L1001.4 781.5L1010.9 782.5L1016.9 782.5L1029.4 781.8L1040.4 781.6L1049.9 781.1L1055.9 781.4L1065.4 782.2L1071.9 782.2L1082.9 781.7L1096.4 781.6L1105.4 781.5L1117.9 782.2L1124.9 781.8L1132.9 781.4L1139.9 781.7L1147.9 782.1L1163.4 781.5L1176.4 781.6L1185.9 781.4L1200.4 782.4L1206.9 782.2L1217.4 781.5L1238.4 781.1L1245.4 781.6L1252.9 782.2L1258.4 782.1L1268.9 781.3L1276.9 781.5L1284.9 781.6L1298.9 781.2L1308.9 781.0L1321.9 780.1L1332.9 779.9L1337.4 779.4L1341.4 778.4L1345.4 776.8L1348.4 775.1L1350.9 773.2L1352.9 771.1L1354.4 769.0L1355.4 767.3L1356.4 765.2L1357.4 762.7L1358.4 759.7L1358.9 757.9L1359.4 756.0L1359.9 753.8L1360.4 751.5L1360.9 748.9L1361.4 746.0L1361.9 742.8L1362.4 739.4L1362.9 735.8L1363.4 731.9L1364.9 719.4L1365.4 715.4L1365.9 711.8L1366.4 708.7L1366.9 706.4L1367.4 705.0L1367.9 704.7L1368.4 705.4L1368.9 707.1L1369.4 709.7L1369.9 713.0L1370.4 716.8L1371.9 729.1L1372.4 733.1L1372.9 736.9L1373.4 740.4L1373.9 743.7L1374.4 746.7L1374.9 749.5L1375.4 752.0L1375.9 754.3L1376.4 756.4L1376.9 758.3L1377.9 761.6L1378.9 764.3L1379.9 766.6L1381.4 769.3L1382.9 771.5L1384.4 773.2L1386.4 775.0L1388.9 776.6L1391.9 777.8L1395.4 778.6L1402.9 779.3L1418.9 780.7L1441.4 781.7L1449.4 781.3L1449.9 781.3" fill="none" stroke="#000" stroke-width="2.9" stroke-linejoin="round"/>
<path d="M832.9 760.8L838.4 760.3L844.4 759.6L848.4 759.4L856.4 757.9L861.4 757.8L868.4 758.2L876.4 758.9L883.4 758.8L893.9 758.5L903.9 758.4L914.4 757.9L920.4 758.3L929.4 759.1L934.9 759.0L945.4 758.2L952.9 758.2L963.4 758.5L975.9 758.6L984.9 758.6L996.4 758.2L1003.9 758.5L1011.9 758.9L1026.9 758.4L1038.9 758.5L1050.4 757.9L1056.4 758.2L1065.4 759.1L1071.4 759.0L1082.4 758.3L1106.4 758.4L1117.4 758.7L1126.4 758.2L1132.9 758.0L1140.4 758.5L1147.4 758.9L1155.4 758.7L1163.9 758.5L1173.9 758.5L1186.4 757.9L1192.9 758.2L1201.9 758.8L1209.9 758.7L1222.4 758.4L1238.4 758.0L1247.9 758.6L1253.9 758.9L1261.4 758.4L1268.4 757.9L1275.4 758.3L1282.9 758.6L1291.9 758.3L1300.4 758.1L1310.9 758.1L1321.4 757.7L1331.4 758.2L1337.9 758.4L1350.9 757.5L1360.4 756.6L1366.9 755.5L1374.4 753.6L1378.4 752.1L1380.9 750.7L1382.9 749.0L1384.4 747.3L1385.4 745.8L1386.4 743.9L1387.4 741.7L1387.9 740.3L1388.4 738.8L1388.9 737.1L1389.4 735.2L1389.9 733.1L1390.4 730.7L1390.9 728.0L1391.4 725.0L1391.9 721.5L1392.4 717.7L1392.9 713.4L1393.4 708.7L1393.9 703.4L1394.4 697.7L1394.9 691.6L1395.9 678.8L1396.4 672.7L1396.9 667.2L1397.4 662.9L1397.9 660.0L1398.4 659.0L1398.9 659.9L1399.4 662.7L1399.9 666.9L1400.4 672.3L1400.9 678.4L1401.9 691.0L1402.4 697.1L1402.9 702.7L1403.4 707.9L1403.9 712.6L1404.4 716.9L1404.9 720.7L1405.4 724.1L1405.9 727.1L1406.4 729.8L1406.9 732.2L1407.4 734.4L1407.9 736.3L1408.4 738.0L1409.4 741.0L1410.4 743.4L1411.4 745.3L1412.9 747.7L1414.4 749.5L1416.4 751.3L1418.9 752.9L1421.9 754.2L1425.9 755.2L1435.4 756.6L1443.4 757.2L1449.9 757.3" fill="none" stroke="#000" stroke-width="2.9" stroke-linejoin="round"/>
<path d="M832.9 736.9L839.4 736.4L844.9 736.0L848.4 735.8L853.4 734.8L857.4 734.1L863.4 734.0L870.9 734.8L877.9 735.4L884.9 735.3L898.4 734.7L913.4 734.3L919.9 734.6L928.4 735.3L933.9 735.2L944.4 734.5L951.9 734.6L960.4 734.9L972.4 734.7L984.9 735.1L998.9 734.5L1013.9 735.1L1028.9 734.8L1038.9 734.7L1048.9 734.3L1054.9 734.6L1063.9 735.4L1069.4 735.4L1080.4 734.5L1088.4 734.6L1097.9 734.7L1108.4 734.7L1119.4 735.0L1132.9 734.4L1142.9 734.9L1150.4 735.1L1162.4 734.9L1171.9 734.9L1184.9 734.1L1190.4 734.3L1200.9 735.3L1206.9 735.2L1217.9 734.7L1233.4 734.6L1242.4 734.6L1253.4 735.0L1267.9 734.4L1282.4 735.0L1296.4 734.6L1307.9 734.8L1320.9 734.1L1326.9 734.3L1336.4 735.1L1342.9 735.0L1357.9 734.2L1372.9 733.4L1381.4 733.7L1387.4 733.9L1392.4 733.4L1397.9 732.2L1402.9 730.6L1405.9 729.2L1408.4 727.6L1409.9 726.2L1411.4 724.4L1412.4 722.8L1413.4 720.9L1414.4 718.5L1414.9 717.1L1415.4 715.5L1415.9 713.7L1416.4 711.6L1416.9 709.3L1417.4 706.6L1417.9 703.6L1418.4 700.2L1418.9 696.3L1419.4 691.9L1419.9 686.9L1420.4 681.4L1420.9 675.3L1421.4 668.8L1421.9 662.1" fill="none" stroke="#000" stroke-width="2.9" stroke-linejoin="round"/>
<path d="M1426.4 652.6L1426.9 659.1L1427.9 672.4L1428.4 678.6L1428.9 684.3L1429.4 689.5L1429.9 694.1L1430.4 698.2L1430.9 701.7L1431.4 704.9L1431.9 707.7L1432.4 710.2L1432.9 712.3L1433.4 714.3L1433.9 716.0L1434.4 717.5L1435.4 720.1L1436.4 722.1L1437.4 723.8L1438.9 725.8L1440.4 727.4L1442.4 728.9L1444.9 730.2L1447.9 731.2L1449.9 731.6" fill="none" stroke="#000" stroke-width="2.9" stroke-linejoin="round"/>
</g>
<path d="M135.58 77.40v10.0M208.58 77.40v10.0M281.58 77.40v10.0M354.59 77.40v10.0M427.59 77.40v10.0M500.59 77.40v10.0M573.59 77.40v10.0M646.60 77.40v10.0M99.00 589.00h10.0M99.00 557.80h5.5M99.00 526.60h5.5M99.00 495.40h5.5M99.00 464.20h5.5M99.00 433.00h10.0M99.00 401.80h5.5M99.00 370.60h5.5M99.00 339.40h5.5M99.00 308.20h5.5M99.00 277.00h10.0M99.00 245.80h5.5M99.00 214.60h5.5M99.00 183.40h5.5M99.00 152.20h5.5M99.00 121.00h10.0M99.00 89.80h5.5" stroke="#000" stroke-width="1.7" fill="none"/>
<rect x="99.0" y="77.4" width="612.80" height="530.20" fill="none" stroke="#000" stroke-width="2.0"/>
<path d="M871.51 77.40v10.0M944.59 77.40v10.0M1017.66 77.40v10.0M1090.74 77.40v10.0M1163.81 77.40v10.0M1236.88 77.40v10.0M1309.96 77.40v10.0M1383.03 77.40v10.0M1448.30 590.30h-10.0M1448.30 561.20h-5.5M1448.30 532.10h-10.0M1448.30 503.00h-5.5M1448.30 473.90h-10.0M1448.30 444.80h-5.5M1448.30 415.70h-10.0M1448.30 386.60h-5.5M1448.30 357.50h-10.0M1448.30 328.40h-5.5M1448.30 299.30h-10.0M1448.30 270.20h-5.5M1448.30 241.10h-10.0M1448.30 212.00h-5.5M1448.30 182.90h-10.0M1448.30 153.80h-5.5M1448.30 124.70h-10.0M1448.30 95.60h-5.5" stroke="#000" stroke-width="1.7" fill="none"/>
<rect x="834.9" y="77.4" width="613.40" height="530.20" fill="none" stroke="#000" stroke-width="2.0"/>
<path d="M99.00 1149.40v-10.0M120.89 1149.40v-5.5M142.77 1149.40v-5.5M164.66 1149.40v-5.5M186.54 1149.40v-5.5M208.43 1149.40v-10.0M230.31 1149.40v-5.5M252.20 1149.40v-5.5M274.09 1149.40v-5.5M295.97 1149.40v-5.5M317.86 1149.40v-10.0M339.74 1149.40v-5.5M361.63 1149.40v-5.5M383.51 1149.40v-5.5M405.40 1149.40v-5.5M427.29 1149.40v-10.0M449.17 1149.40v-5.5M471.06 1149.40v-5.5M492.94 1149.40v-5.5M514.83 1149.40v-5.5M536.71 1149.40v-10.0M558.60 1149.40v-5.5M580.49 1149.40v-5.5M602.37 1149.40v-5.5M624.26 1149.40v-5.5M646.14 1149.40v-10.0M668.03 1149.40v-5.5M689.91 1149.40v-5.5M711.80 1149.40v-5.5M99.00 1134.60h10.0M99.00 1110.02h5.5M99.00 1085.45h5.5M99.00 1060.88h5.5M99.00 1036.30h5.5M99.00 1011.72h10.0M99.00 987.15h5.5M99.00 962.57h5.5M99.00 938.00h5.5M99.00 913.42h5.5M99.00 888.85h10.0M99.00 864.27h5.5M99.00 839.70h5.5M99.00 815.12h5.5M99.00 790.55h5.5M99.00 765.97h10.0M99.00 741.40h5.5M99.00 716.82h5.5M99.00 692.25h5.5M99.00 667.67h5.5M99.00 643.10h10.0" stroke="#000" stroke-width="1.7" fill="none"/>
<rect x="99.0" y="618.8" width="612.80" height="530.60" fill="none" stroke="#000" stroke-width="2.0"/>
<path d="M834.90 1149.40v-10.0M856.81 1149.40v-5.5M878.71 1149.40v-5.5M900.62 1149.40v-5.5M922.53 1149.40v-5.5M944.44 1149.40v-10.0M966.34 1149.40v-5.5M988.25 1149.40v-5.5M1010.16 1149.40v-5.5M1032.06 1149.40v-5.5M1053.97 1149.40v-10.0M1075.88 1149.40v-5.5M1097.79 1149.40v-5.5M1119.69 1149.40v-5.5M1141.60 1149.40v-5.5M1163.51 1149.40v-10.0M1185.41 1149.40v-5.5M1207.32 1149.40v-5.5M1229.23 1149.40v-5.5M1251.14 1149.40v-5.5M1273.04 1149.40v-10.0M1294.95 1149.40v-5.5M1316.86 1149.40v-5.5M1338.76 1149.40v-5.5M1360.67 1149.40v-5.5M1382.58 1149.40v-10.0M1404.49 1149.40v-5.5M1426.39 1149.40v-5.5M1448.30 1149.40v-5.5M1448.30 1131.30h-10.0M1448.30 1102.20h-5.5M1448.30 1073.10h-10.0M1448.30 1044.00h-5.5M1448.30 1014.90h-10.0M1448.30 985.80h-5.5M1448.30 956.70h-10.0M1448.30 927.60h-5.5M1448.30 898.50h-10.0M1448.30 869.40h-5.5M1448.30 840.30h-10.0M1448.30 811.20h-5.5M1448.30 782.10h-10.0M1448.30 753.00h-5.5M1448.30 723.90h-10.0M1448.30 694.80h-5.5M1448.30 665.70h-10.0M1448.30 636.60h-5.5" stroke="#000" stroke-width="1.7" fill="none"/>
<rect x="834.9" y="618.8" width="613.40" height="530.60" fill="none" stroke="#000" stroke-width="2.0"/>
<text><tspan x="115.2" y="64.2" font-size="35.5" textLength="40.7" lengthAdjust="spacingAndGlyphs">0.2</tspan></text>
<text><tspan x="188.2" y="64.2" font-size="35.5" textLength="40.7" lengthAdjust="spacingAndGlyphs">0.3</tspan></text>
<text><tspan x="261.2" y="64.2" font-size="35.5" textLength="40.7" lengthAdjust="spacingAndGlyphs">0.4</tspan></text>
<text><tspan x="334.2" y="64.2" font-size="35.5" textLength="40.7" lengthAdjust="spacingAndGlyphs">0.5</tspan></text>
<text><tspan x="407.2" y="64.2" font-size="35.5" textLength="40.7" lengthAdjust="spacingAndGlyphs">0.6</tspan></text>
<text><tspan x="480.2" y="64.2" font-size="35.5" textLength="40.7" lengthAdjust="spacingAndGlyphs">0.7</tspan></text>
<text><tspan x="553.2" y="64.2" font-size="35.5" textLength="40.7" lengthAdjust="spacingAndGlyphs">0.8</tspan></text>
<text><tspan x="626.2" y="64.2" font-size="35.5" textLength="40.7" lengthAdjust="spacingAndGlyphs">0.9</tspan></text>
<text><tspan x="286.3" y="24.9" font-size="33.5" textLength="142.0" lengthAdjust="spacingAndGlyphs">Frequency</tspan> <tspan x="440.6" y="24.9" font-size="33.5" textLength="83.6" lengthAdjust="spacingAndGlyphs">(THz)</tspan></text>
<text><tspan x="851.2" y="64.2" font-size="35.5" textLength="40.7" lengthAdjust="spacingAndGlyphs">0.2</tspan></text>
<text><tspan x="924.2" y="64.2" font-size="35.5" textLength="40.7" lengthAdjust="spacingAndGlyphs">0.3</tspan></text>
<text><tspan x="997.3" y="64.2" font-size="35.5" textLength="40.7" lengthAdjust="spacingAndGlyphs">0.4</tspan></text>
<text><tspan x="1070.4" y="64.2" font-size="35.5" textLength="40.7" lengthAdjust="spacingAndGlyphs">0.5</tspan></text>
<text><tspan x="1143.5" y="64.2" font-size="35.5" textLength="40.7" lengthAdjust="spacingAndGlyphs">0.6</tspan></text>
<text><tspan x="1216.5" y="64.2" font-size="35.5" textLength="40.7" lengthAdjust="spacingAndGlyphs">0.7</tspan></text>
<text><tspan x="1289.6" y="64.2" font-size="35.5" textLength="40.7" lengthAdjust="spacingAndGlyphs">0.8</tspan></text>
<text><tspan x="1362.7" y="64.2" font-size="35.5" textLength="40.7" lengthAdjust="spacingAndGlyphs">0.9</tspan></text>
<text><tspan x="1022.2" y="24.9" font-size="33.5" textLength="142.0" lengthAdjust="spacingAndGlyphs">Frequency</tspan> <tspan x="1176.5" y="24.9" font-size="33.5" textLength="83.6" lengthAdjust="spacingAndGlyphs">(THz)</tspan></text>
<text><tspan x="91.3" y="1183.3" font-size="35.5" textLength="15.9" lengthAdjust="spacingAndGlyphs">5</tspan></text>
<text><tspan x="192.8" y="1183.3" font-size="35.5" textLength="31.8" lengthAdjust="spacingAndGlyphs">10</tspan></text>
<text><tspan x="302.3" y="1183.3" font-size="35.5" textLength="31.8" lengthAdjust="spacingAndGlyphs">15</tspan></text>
<text><tspan x="411.7" y="1183.3" font-size="35.5" textLength="31.8" lengthAdjust="spacingAndGlyphs">20</tspan></text>
<text><tspan x="521.1" y="1183.3" font-size="35.5" textLength="31.8" lengthAdjust="spacingAndGlyphs">25</tspan></text>
<text><tspan x="630.5" y="1183.3" font-size="35.5" textLength="31.8" lengthAdjust="spacingAndGlyphs">30</tspan></text>
<text><tspan x="260.8" y="1224.0" font-size="33.5" textLength="179.6" lengthAdjust="spacingAndGlyphs">Wavenumber</tspan> <tspan x="455.2" y="1224.0" font-size="33.5" textLength="51.8" lengthAdjust="spacingAndGlyphs">(cm</tspan><tspan x="508.6" y="1211.2" font-size="23.5" textLength="27.0" lengthAdjust="spacingAndGlyphs">−1</tspan><tspan x="537.2" y="1224.0" font-size="33.5" textLength="11.5" lengthAdjust="spacingAndGlyphs">)</tspan></text>
<text><tspan x="827.2" y="1183.3" font-size="35.5" textLength="15.9" lengthAdjust="spacingAndGlyphs">5</tspan></text>
<text><tspan x="928.8" y="1183.3" font-size="35.5" textLength="31.8" lengthAdjust="spacingAndGlyphs">10</tspan></text>
<text><tspan x="1038.4" y="1183.3" font-size="35.5" textLength="31.8" lengthAdjust="spacingAndGlyphs">15</tspan></text>
<text><tspan x="1147.9" y="1183.3" font-size="35.5" textLength="31.8" lengthAdjust="spacingAndGlyphs">20</tspan></text>
<text><tspan x="1257.4" y="1183.3" font-size="35.5" textLength="31.8" lengthAdjust="spacingAndGlyphs">25</tspan></text>
<text><tspan x="1367.0" y="1183.3" font-size="35.5" textLength="31.8" lengthAdjust="spacingAndGlyphs">30</tspan></text>
<text><tspan x="996.7" y="1224.0" font-size="33.5" textLength="179.6" lengthAdjust="spacingAndGlyphs">Wavenumber</tspan> <tspan x="1191.1" y="1224.0" font-size="33.5" textLength="51.8" lengthAdjust="spacingAndGlyphs">(cm</tspan><tspan x="1244.5" y="1211.2" font-size="23.5" textLength="27.0" lengthAdjust="spacingAndGlyphs">−1</tspan><tspan x="1273.1" y="1224.0" font-size="33.5" textLength="11.5" lengthAdjust="spacingAndGlyphs">)</tspan></text>
<text><tspan x="75.5" y="601.4" font-size="35.5" textLength="15.9" lengthAdjust="spacingAndGlyphs">0</tspan></text>
<text><tspan x="59.6" y="445.4" font-size="35.5" textLength="31.8" lengthAdjust="spacingAndGlyphs">25</tspan></text>
<text><tspan x="59.6" y="289.4" font-size="35.5" textLength="31.8" lengthAdjust="spacingAndGlyphs">50</tspan></text>
<text><tspan x="59.6" y="133.4" font-size="35.5" textLength="31.8" lengthAdjust="spacingAndGlyphs">75</tspan></text>
<g transform="translate(43.4,401.0) rotate(-90)">
<text><tspan x="0.5" y="0.0" font-size="36.0" textLength="21.0" lengthAdjust="spacingAndGlyphs" font-style="italic">α</tspan> <tspan x="27.5" y="0.0" font-size="33.5" textLength="44.8" lengthAdjust="spacingAndGlyphs">(cm</tspan><tspan x="74.6" y="-12.8" font-size="23.5" textLength="27.0" lengthAdjust="spacingAndGlyphs">−1</tspan><tspan x="101.6" y="0.0" font-size="33.5" textLength="11.5" lengthAdjust="spacingAndGlyphs">)</tspan></text>
</g>
<text><tspan x="75.5" y="1147.0" font-size="35.5" textLength="15.9" lengthAdjust="spacingAndGlyphs">0</tspan></text>
<text><tspan x="59.6" y="1024.1" font-size="35.5" textLength="31.8" lengthAdjust="spacingAndGlyphs">25</tspan></text>
<text><tspan x="59.6" y="901.2" font-size="35.5" textLength="31.8" lengthAdjust="spacingAndGlyphs">50</tspan></text>
<text><tspan x="59.6" y="778.4" font-size="35.5" textLength="31.8" lengthAdjust="spacingAndGlyphs">75</tspan></text>
<text><tspan x="43.7" y="655.5" font-size="35.5" textLength="47.7" lengthAdjust="spacingAndGlyphs">100</tspan></text>
<g transform="translate(27.7,940.9) rotate(-90)">
<text><tspan x="0.5" y="0.0" font-size="36.0" textLength="21.0" lengthAdjust="spacingAndGlyphs" font-style="italic">α</tspan> <tspan x="27.5" y="0.0" font-size="33.5" textLength="44.8" lengthAdjust="spacingAndGlyphs">(cm</tspan><tspan x="74.6" y="-12.8" font-size="23.5" textLength="27.0" lengthAdjust="spacingAndGlyphs">−1</tspan><tspan x="101.6" y="0.0" font-size="33.5" textLength="11.5" lengthAdjust="spacingAndGlyphs">)</tspan></text>
</g>
<text><tspan x="1458.9" y="602.9" font-size="35.5" textLength="15.9" lengthAdjust="spacingAndGlyphs">0</tspan></text>
<text><tspan x="1458.9" y="544.7" font-size="35.5" textLength="31.8" lengthAdjust="spacingAndGlyphs">50</tspan></text>
<text><tspan x="1458.9" y="486.5" font-size="35.5" textLength="47.7" lengthAdjust="spacingAndGlyphs">100</tspan></text>
<text><tspan x="1458.9" y="428.3" font-size="35.5" textLength="47.7" lengthAdjust="spacingAndGlyphs">150</tspan></text>
<text><tspan x="1458.9" y="370.1" font-size="35.5" textLength="47.7" lengthAdjust="spacingAndGlyphs">200</tspan></text>
<text><tspan x="1458.9" y="311.9" font-size="35.5" textLength="47.7" lengthAdjust="spacingAndGlyphs">250</tspan></text>
<text><tspan x="1458.9" y="253.7" font-size="35.5" textLength="47.7" lengthAdjust="spacingAndGlyphs">300</tspan></text>
<text><tspan x="1458.9" y="195.5" font-size="35.5" textLength="47.7" lengthAdjust="spacingAndGlyphs">350</tspan></text>
<text><tspan x="1458.9" y="137.3" font-size="35.5" textLength="47.7" lengthAdjust="spacingAndGlyphs">400</tspan></text>
<g transform="translate(1541.6,401.6) rotate(-90)">
<text><tspan x="0.5" y="0.0" font-size="36.0" textLength="21.0" lengthAdjust="spacingAndGlyphs" font-style="italic">α</tspan> <tspan x="27.5" y="0.0" font-size="33.5" textLength="44.8" lengthAdjust="spacingAndGlyphs">(cm</tspan><tspan x="74.6" y="-12.8" font-size="23.5" textLength="27.0" lengthAdjust="spacingAndGlyphs">−1</tspan><tspan x="101.6" y="0.0" font-size="33.5" textLength="11.5" lengthAdjust="spacingAndGlyphs">)</tspan></text>
</g>
<text><tspan x="1458.9" y="1143.9" font-size="35.5" textLength="15.9" lengthAdjust="spacingAndGlyphs">0</tspan></text>
<text><tspan x="1458.9" y="1085.7" font-size="35.5" textLength="31.8" lengthAdjust="spacingAndGlyphs">50</tspan></text>
<text><tspan x="1458.9" y="1027.5" font-size="35.5" textLength="47.7" lengthAdjust="spacingAndGlyphs">100</tspan></text>
<text><tspan x="1458.9" y="969.3" font-size="35.5" textLength="47.7" lengthAdjust="spacingAndGlyphs">150</tspan></text>
<text><tspan x="1458.9" y="911.1" font-size="35.5" textLength="47.7" lengthAdjust="spacingAndGlyphs">200</tspan></text>
<text><tspan x="1458.9" y="852.9" font-size="35.5" textLength="47.7" lengthAdjust="spacingAndGlyphs">250</tspan></text>
<text><tspan x="1458.9" y="794.7" font-size="35.5" textLength="47.7" lengthAdjust="spacingAndGlyphs">300</tspan></text>
<text><tspan x="1458.9" y="736.5" font-size="35.5" textLength="47.7" lengthAdjust="spacingAndGlyphs">350</tspan></text>
<text><tspan x="1458.9" y="678.3" font-size="35.5" textLength="47.7" lengthAdjust="spacingAndGlyphs">400</tspan></text>
<g transform="translate(1541.6,943.0) rotate(-90)">
<text><tspan x="0.5" y="0.0" font-size="36.0" textLength="21.0" lengthAdjust="spacingAndGlyphs" font-style="italic">α</tspan> <tspan x="27.5" y="0.0" font-size="33.5" textLength="44.8" lengthAdjust="spacingAndGlyphs">(cm</tspan><tspan x="74.6" y="-12.8" font-size="23.5" textLength="27.0" lengthAdjust="spacingAndGlyphs">−1</tspan><tspan x="101.6" y="0.0" font-size="33.5" textLength="11.5" lengthAdjust="spacingAndGlyphs">)</tspan></text>
</g>
<text><tspan x="770.6" y="602.6" font-size="35.5" textLength="15.9" lengthAdjust="spacingAndGlyphs">0</tspan></text>
<text><tspan x="770.6" y="552.6" font-size="35.5" textLength="15.9" lengthAdjust="spacingAndGlyphs">2</tspan></text>
<text><tspan x="770.6" y="502.5" font-size="35.5" textLength="15.9" lengthAdjust="spacingAndGlyphs">4</tspan></text>
<text><tspan x="770.6" y="452.5" font-size="35.5" textLength="15.9" lengthAdjust="spacingAndGlyphs">6</tspan></text>
<text><tspan x="770.6" y="402.4" font-size="35.5" textLength="15.9" lengthAdjust="spacingAndGlyphs">8</tspan></text>
<text><tspan x="762.7" y="352.4" font-size="35.5" textLength="31.8" lengthAdjust="spacingAndGlyphs">10</tspan></text>
<text><tspan x="762.7" y="302.3" font-size="35.5" textLength="31.8" lengthAdjust="spacingAndGlyphs">12</tspan></text>
<text><tspan x="762.7" y="252.3" font-size="35.5" textLength="31.8" lengthAdjust="spacingAndGlyphs">14</tspan></text>
<text><tspan x="762.7" y="202.2" font-size="35.5" textLength="31.8" lengthAdjust="spacingAndGlyphs">16</tspan></text>
<text><tspan x="741.5" y="134.3" font-size="34.5" textLength="24.5" lengthAdjust="spacingAndGlyphs" font-style="italic">B</tspan> <tspan x="774.2" y="134.3" font-size="34.5" textLength="44.5" lengthAdjust="spacingAndGlyphs">(T)</tspan></text>
<text><tspan x="770.6" y="1144.8" font-size="35.5" textLength="15.9" lengthAdjust="spacingAndGlyphs">0</tspan></text>
<text><tspan x="770.6" y="1095.5" font-size="35.5" textLength="15.9" lengthAdjust="spacingAndGlyphs">2</tspan></text>
<text><tspan x="770.6" y="1046.3" font-size="35.5" textLength="15.9" lengthAdjust="spacingAndGlyphs">4</tspan></text>
<text><tspan x="770.6" y="997.0" font-size="35.5" textLength="15.9" lengthAdjust="spacingAndGlyphs">6</tspan></text>
<text><tspan x="770.6" y="947.8" font-size="35.5" textLength="15.9" lengthAdjust="spacingAndGlyphs">8</tspan></text>
<text><tspan x="762.7" y="898.5" font-size="35.5" textLength="31.8" lengthAdjust="spacingAndGlyphs">10</tspan></text>
<text><tspan x="762.7" y="849.3" font-size="35.5" textLength="31.8" lengthAdjust="spacingAndGlyphs">12</tspan></text>
<text><tspan x="762.7" y="800.0" font-size="35.5" textLength="31.8" lengthAdjust="spacingAndGlyphs">14</tspan></text>
<text><tspan x="762.7" y="750.8" font-size="35.5" textLength="31.8" lengthAdjust="spacingAndGlyphs">16</tspan></text>
<text><tspan x="741.5" y="681.7" font-size="34.5" textLength="24.5" lengthAdjust="spacingAndGlyphs" font-style="italic">B</tspan> <tspan x="774.2" y="681.7" font-size="34.5" textLength="44.5" lengthAdjust="spacingAndGlyphs">(T)</tspan></text>
<text><tspan x="121.5" y="114.8" font-size="33.5" textLength="38.5" lengthAdjust="spacingAndGlyphs">(a)</tspan></text>
<text><tspan x="279.0" y="130.4" font-size="33.5" textLength="25.4" lengthAdjust="spacingAndGlyphs" font-weight="bold">B</tspan> <tspan x="315.4" y="133.6" font-size="41.0" textLength="13.0" lengthAdjust="spacingAndGlyphs" font-family='"DejaVu Math TeX Gyre", "DejaVu Sans", sans-serif'>∥</tspan> <tspan x="339.3" y="130.4" font-size="33.5" textLength="26.2" lengthAdjust="spacingAndGlyphs" font-weight="bold">a,</tspan> <tspan x="377.2" y="130.4" font-size="33.5" textLength="25.4" lengthAdjust="spacingAndGlyphs" font-weight="bold">B</tspan><tspan x="403.2" y="119.2" font-size="25" textLength="15.0" lengthAdjust="spacingAndGlyphs" font-style="italic">ω</tspan> <tspan x="429.9" y="133.6" font-size="41.0" textLength="13.0" lengthAdjust="spacingAndGlyphs" font-family='"DejaVu Math TeX Gyre", "DejaVu Sans", sans-serif'>∥</tspan> <tspan x="454.0" y="130.4" font-size="33.5" textLength="18.0" lengthAdjust="spacingAndGlyphs" font-weight="bold">a</tspan></text>
<text><tspan x="559.4" y="119.9" font-size="34.5" textLength="47.6" lengthAdjust="spacingAndGlyphs" font-weight="bold">2.7</tspan> <tspan x="612.4" y="119.9" font-size="34.5" textLength="28.2" lengthAdjust="spacingAndGlyphs" font-weight="bold">K</tspan></text>
<text><tspan x="857.4" y="114.8" font-size="33.5" textLength="41.0" lengthAdjust="spacingAndGlyphs">(b)</tspan></text>
<text><tspan x="1014.9" y="130.4" font-size="33.5" textLength="25.4" lengthAdjust="spacingAndGlyphs" font-weight="bold">B</tspan> <tspan x="1051.3" y="133.6" font-size="41.0" textLength="13.0" lengthAdjust="spacingAndGlyphs" font-family='"DejaVu Math TeX Gyre", "DejaVu Sans", sans-serif'>∥</tspan> <tspan x="1075.2" y="130.4" font-size="33.5" textLength="26.2" lengthAdjust="spacingAndGlyphs" font-weight="bold">a,</tspan> <tspan x="1113.1" y="130.4" font-size="33.5" textLength="25.4" lengthAdjust="spacingAndGlyphs" font-weight="bold">B</tspan><tspan x="1139.1" y="119.2" font-size="25" textLength="15.0" lengthAdjust="spacingAndGlyphs" font-style="italic">ω</tspan> <tspan x="1165.8" y="133.6" font-size="41.0" textLength="13.0" lengthAdjust="spacingAndGlyphs" font-family='"DejaVu Math TeX Gyre", "DejaVu Sans", sans-serif'>∥</tspan> <tspan x="1189.9" y="130.4" font-size="33.5" textLength="16.6" lengthAdjust="spacingAndGlyphs" font-weight="bold">c</tspan></text>
<text><tspan x="1295.3" y="119.9" font-size="34.5" textLength="47.6" lengthAdjust="spacingAndGlyphs" font-weight="bold">2.7</tspan> <tspan x="1348.3" y="119.9" font-size="34.5" textLength="28.2" lengthAdjust="spacingAndGlyphs" font-weight="bold">K</tspan></text>
<text><tspan x="121.5" y="656.2" font-size="33.5" textLength="38.5" lengthAdjust="spacingAndGlyphs">(c)</tspan></text>
<text><tspan x="279.0" y="671.8" font-size="33.5" textLength="25.4" lengthAdjust="spacingAndGlyphs" font-weight="bold">B</tspan> <tspan x="315.4" y="675.0" font-size="41.0" textLength="13.0" lengthAdjust="spacingAndGlyphs" font-family='"DejaVu Math TeX Gyre", "DejaVu Sans", sans-serif'>∥</tspan> <tspan x="339.3" y="671.8" font-size="33.5" textLength="28.8" lengthAdjust="spacingAndGlyphs" font-weight="bold">b,</tspan> <tspan x="379.8" y="671.8" font-size="33.5" textLength="25.4" lengthAdjust="spacingAndGlyphs" font-weight="bold">B</tspan><tspan x="405.8" y="660.6" font-size="25" textLength="15.0" lengthAdjust="spacingAndGlyphs" font-style="italic">ω</tspan> <tspan x="432.5" y="675.0" font-size="41.0" textLength="13.0" lengthAdjust="spacingAndGlyphs" font-family='"DejaVu Math TeX Gyre", "DejaVu Sans", sans-serif'>∥</tspan> <tspan x="456.6" y="671.8" font-size="33.5" textLength="18.0" lengthAdjust="spacingAndGlyphs" font-weight="bold">a</tspan></text>
<text><tspan x="559.4" y="661.3" font-size="34.5" textLength="47.6" lengthAdjust="spacingAndGlyphs" font-weight="bold">2.7</tspan> <tspan x="612.4" y="661.3" font-size="34.5" textLength="28.2" lengthAdjust="spacingAndGlyphs" font-weight="bold">K</tspan></text>
<text><tspan x="857.4" y="656.2" font-size="33.5" textLength="41.0" lengthAdjust="spacingAndGlyphs">(d)</tspan></text>
<text><tspan x="1014.9" y="671.8" font-size="33.5" textLength="25.4" lengthAdjust="spacingAndGlyphs" font-weight="bold">B</tspan> <tspan x="1051.3" y="675.0" font-size="41.0" textLength="13.0" lengthAdjust="spacingAndGlyphs" font-family='"DejaVu Math TeX Gyre", "DejaVu Sans", sans-serif'>∥</tspan> <tspan x="1075.2" y="671.8" font-size="33.5" textLength="28.8" lengthAdjust="spacingAndGlyphs" font-weight="bold">b,</tspan> <tspan x="1115.7" y="671.8" font-size="33.5" textLength="25.4" lengthAdjust="spacingAndGlyphs" font-weight="bold">B</tspan><tspan x="1141.7" y="660.6" font-size="25" textLength="15.0" lengthAdjust="spacingAndGlyphs" font-style="italic">ω</tspan> <tspan x="1168.4" y="675.0" font-size="41.0" textLength="13.0" lengthAdjust="spacingAndGlyphs" font-family='"DejaVu Math TeX Gyre", "DejaVu Sans", sans-serif'>∥</tspan> <tspan x="1192.5" y="671.8" font-size="33.5" textLength="16.6" lengthAdjust="spacingAndGlyphs" font-weight="bold">c</tspan></text>
<text><tspan x="1295.3" y="661.3" font-size="34.5" textLength="47.6" lengthAdjust="spacingAndGlyphs" font-weight="bold">2.7</tspan> <tspan x="1348.3" y="661.3" font-size="34.5" textLength="28.2" lengthAdjust="spacingAndGlyphs" font-weight="bold">K</tspan></text>
</svg>
</body></html>
